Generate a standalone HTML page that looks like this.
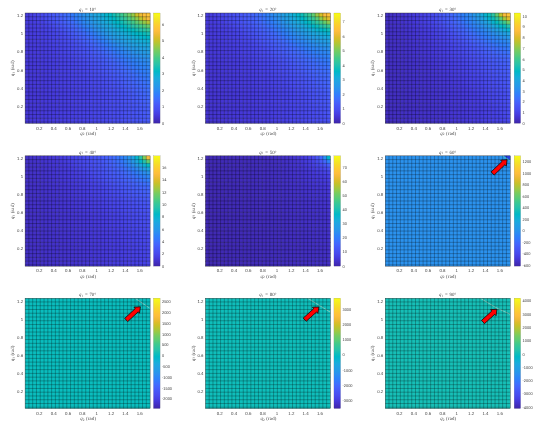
<!DOCTYPE html>
<html><head><meta charset="utf-8"><title>figure</title>
<style>html,body{margin:0;padding:0;background:#fff}svg{display:block}text{text-rendering:geometricPrecision}</style></head>
<body>
<svg width="550" height="424" viewBox="0 0 550 424">
<defs>
<linearGradient id="pg" x1="0" y1="0" x2="0" y2="1"><stop offset="0" stop-color="#f9fb15"/><stop offset="0.03" stop-color="#f6ef20"/><stop offset="0.06" stop-color="#f5e327"/><stop offset="0.09" stop-color="#f9d62d"/><stop offset="0.12" stop-color="#feca33"/><stop offset="0.16" stop-color="#febe3c"/><stop offset="0.19" stop-color="#f1ba37"/><stop offset="0.22" stop-color="#debc2a"/><stop offset="0.25" stop-color="#c8c129"/><stop offset="0.28" stop-color="#afc637"/><stop offset="0.31" stop-color="#94ca4a"/><stop offset="0.34" stop-color="#77cc60"/><stop offset="0.38" stop-color="#5ccc76"/><stop offset="0.41" stop-color="#44ca8a"/><stop offset="0.44" stop-color="#34c79c"/><stop offset="0.47" stop-color="#28c2ab"/><stop offset="0.5" stop-color="#12beb9"/><stop offset="0.53" stop-color="#01b9c6"/><stop offset="0.56" stop-color="#0cb3d3"/><stop offset="0.59" stop-color="#1aacdd"/><stop offset="0.62" stop-color="#21a3e3"/><stop offset="0.66" stop-color="#269ae9"/><stop offset="0.69" stop-color="#2c90f0"/><stop offset="0.72" stop-color="#2e85f8"/><stop offset="0.75" stop-color="#347afd"/><stop offset="0.78" stop-color="#3f6efe"/><stop offset="0.81" stop-color="#4562fc"/><stop offset="0.84" stop-color="#4757f7"/><stop offset="0.88" stop-color="#484cef"/><stop offset="0.91" stop-color="#4741e5"/><stop offset="0.94" stop-color="#4536d5"/><stop offset="0.97" stop-color="#422ebf"/><stop offset="1" stop-color="#3e26a8"/></linearGradient>
<path id="gp" d="M3.79 0V110.3M7.58 0V110.3M11.36 0V110.3M15.15 0V110.3M18.94 0V110.3M22.73 0V110.3M26.52 0V110.3M30.3 0V110.3M34.09 0V110.3M37.88 0V110.3M41.67 0V110.3M45.45 0V110.3M49.24 0V110.3M53.03 0V110.3M56.82 0V110.3M60.61 0V110.3M64.39 0V110.3M68.18 0V110.3M71.97 0V110.3M75.76 0V110.3M79.55 0V110.3M83.33 0V110.3M87.12 0V110.3M90.91 0V110.3M94.7 0V110.3M98.48 0V110.3M102.27 0V110.3M106.06 0V110.3M109.85 0V110.3M113.64 0V110.3M117.42 0V110.3M121.21 0V110.3M0 3.76H125M0 7.52H125M0 11.28H125M0 15.04H125M0 18.8H125M0 22.56H125M0 26.32H125M0 30.08H125M0 33.84H125M0 37.6H125M0 41.36H125M0 45.12H125M0 48.88H125M0 52.64H125M0 56.4H125M0 60.16H125M0 63.92H125M0 67.68H125M0 71.44H125M0 75.2H125M0 78.96H125M0 82.72H125M0 86.48H125M0 90.24H125M0 94H125M0 97.76H125M0 101.52H125M0 105.28H125M0 109.04H125" fill="none"/>
<g id="grid" stroke="#000"><use href="#gp" stroke-width="0.6" stroke-opacity="0.45"/><use href="#gp" stroke-width="1.6" stroke-opacity="0.0"/></g>
</defs>
<rect width="550" height="424" fill="#fff"/>
<g transform="translate(25.1,13)">
<rect x="0" y="0" width="4.29" height="4.26" fill="#463bdd"/><rect x="3.79" y="0" width="4.29" height="4.26" fill="#473fe2"/><rect x="7.58" y="0" width="4.29" height="4.26" fill="#4743e7"/><rect x="11.36" y="0" width="4.29" height="4.26" fill="#4747eb"/><rect x="15.15" y="0" width="4.29" height="4.26" fill="#484bef"/><rect x="18.94" y="0" width="4.29" height="4.26" fill="#4850f3"/><rect x="22.73" y="0" width="4.29" height="4.26" fill="#4755f6"/><rect x="26.52" y="0" width="4.29" height="4.26" fill="#475af9"/><rect x="30.3" y="0" width="4.29" height="4.26" fill="#465ffb"/><rect x="34.09" y="0" width="4.29" height="4.26" fill="#4466fd"/><rect x="37.88" y="0" width="4.29" height="4.26" fill="#406cfe"/><rect x="41.67" y="0" width="4.29" height="4.26" fill="#3b72fe"/><rect x="45.45" y="0" width="4.29" height="4.26" fill="#327bfc"/><rect x="49.24" y="0" width="4.29" height="4.26" fill="#2e84f9"/><rect x="53.03" y="0" width="4.29" height="4.26" fill="#2d8bf4"/><rect x="56.82" y="0" width="4.29" height="4.26" fill="#2b92ee"/><rect x="60.61" y="0" width="4.29" height="4.26" fill="#2699e9"/><rect x="64.39" y="0" width="4.29" height="4.26" fill="#23a0e5"/><rect x="68.18" y="0" width="4.29" height="4.26" fill="#1fa6e2"/><rect x="71.97" y="0" width="4.29" height="4.26" fill="#1aacdd"/><rect x="75.76" y="0" width="4.29" height="4.26" fill="#11b1d6"/><rect x="79.55" y="0" width="4.29" height="4.26" fill="#05b6cd"/><rect x="83.33" y="0" width="4.29" height="4.26" fill="#02bac4"/><rect x="87.12" y="0" width="4.29" height="4.26" fill="#17bfb6"/><rect x="90.91" y="0" width="4.29" height="4.26" fill="#2cc4a7"/><rect x="94.7" y="0" width="4.29" height="4.26" fill="#3ac994"/><rect x="98.48" y="0" width="4.29" height="4.26" fill="#54cc7d"/><rect x="102.27" y="0" width="4.29" height="4.26" fill="#73cd63"/><rect x="106.06" y="0" width="4.29" height="4.26" fill="#96ca48"/><rect x="109.85" y="0" width="4.29" height="4.26" fill="#cac129"/><rect x="113.64" y="0" width="4.29" height="4.26" fill="#eeba34"/><rect x="117.42" y="0" width="4.29" height="4.26" fill="#febe3c"/><rect x="121.21" y="0" width="3.79" height="4.26" fill="#fec438"/><rect x="0" y="3.76" width="4.29" height="4.26" fill="#463bdd"/><rect x="3.79" y="3.76" width="4.29" height="4.26" fill="#463ddf"/><rect x="7.58" y="3.76" width="4.29" height="4.26" fill="#473fe2"/><rect x="11.36" y="3.76" width="4.29" height="4.26" fill="#4743e7"/><rect x="15.15" y="3.76" width="4.29" height="4.26" fill="#4747eb"/><rect x="18.94" y="3.76" width="4.29" height="4.26" fill="#484cef"/><rect x="22.73" y="3.76" width="4.29" height="4.26" fill="#4851f3"/><rect x="26.52" y="3.76" width="4.29" height="4.26" fill="#4756f6"/><rect x="30.3" y="3.76" width="4.29" height="4.26" fill="#475bf9"/><rect x="34.09" y="3.76" width="4.29" height="4.26" fill="#4660fc"/><rect x="37.88" y="3.76" width="4.29" height="4.26" fill="#4367fd"/><rect x="41.67" y="3.76" width="4.29" height="4.26" fill="#3f6efe"/><rect x="45.45" y="3.76" width="4.29" height="4.26" fill="#3974fe"/><rect x="49.24" y="3.76" width="4.29" height="4.26" fill="#317efb"/><rect x="53.03" y="3.76" width="4.29" height="4.26" fill="#2e86f7"/><rect x="56.82" y="3.76" width="4.29" height="4.26" fill="#2d8df2"/><rect x="60.61" y="3.76" width="4.29" height="4.26" fill="#2994ed"/><rect x="64.39" y="3.76" width="4.29" height="4.26" fill="#259be8"/><rect x="68.18" y="3.76" width="4.29" height="4.26" fill="#22a1e4"/><rect x="71.97" y="3.76" width="4.29" height="4.26" fill="#1ea7e1"/><rect x="75.76" y="3.76" width="4.29" height="4.26" fill="#19addc"/><rect x="79.55" y="3.76" width="4.29" height="4.26" fill="#0fb2d5"/><rect x="83.33" y="3.76" width="4.29" height="4.26" fill="#04b6cd"/><rect x="87.12" y="3.76" width="4.29" height="4.26" fill="#02bac3"/><rect x="90.91" y="3.76" width="4.29" height="4.26" fill="#16bfb7"/><rect x="94.7" y="3.76" width="4.29" height="4.26" fill="#2bc3a8"/><rect x="98.48" y="3.76" width="4.29" height="4.26" fill="#38c896"/><rect x="102.27" y="3.76" width="4.29" height="4.26" fill="#4fcc80"/><rect x="106.06" y="3.76" width="4.29" height="4.26" fill="#6dcd68"/><rect x="109.85" y="3.76" width="4.29" height="4.26" fill="#90ca4d"/><rect x="113.64" y="3.76" width="4.29" height="4.26" fill="#bbc42f"/><rect x="117.42" y="3.76" width="4.29" height="4.26" fill="#e3bc2c"/><rect x="121.21" y="3.76" width="3.79" height="4.26" fill="#f7ba3c"/><rect x="0" y="7.52" width="4.29" height="4.26" fill="#463bdc"/><rect x="3.79" y="7.52" width="4.29" height="4.26" fill="#463cdf"/><rect x="7.58" y="7.52" width="4.29" height="4.26" fill="#463ee1"/><rect x="11.36" y="7.52" width="4.29" height="4.26" fill="#4740e4"/><rect x="15.15" y="7.52" width="4.29" height="4.26" fill="#4743e7"/><rect x="18.94" y="7.52" width="4.29" height="4.26" fill="#4747eb"/><rect x="22.73" y="7.52" width="4.29" height="4.26" fill="#484cf0"/><rect x="26.52" y="7.52" width="4.29" height="4.26" fill="#4851f3"/><rect x="30.3" y="7.52" width="4.29" height="4.26" fill="#4756f7"/><rect x="34.09" y="7.52" width="4.29" height="4.26" fill="#475bfa"/><rect x="37.88" y="7.52" width="4.29" height="4.26" fill="#4661fc"/><rect x="41.67" y="7.52" width="4.29" height="4.26" fill="#4367fd"/><rect x="45.45" y="7.52" width="4.29" height="4.26" fill="#3f6eff"/><rect x="49.24" y="7.52" width="4.29" height="4.26" fill="#3875fe"/><rect x="53.03" y="7.52" width="4.29" height="4.26" fill="#317efb"/><rect x="56.82" y="7.52" width="4.29" height="4.26" fill="#2e87f7"/><rect x="60.61" y="7.52" width="4.29" height="4.26" fill="#2c8ef1"/><rect x="64.39" y="7.52" width="4.29" height="4.26" fill="#2995ec"/><rect x="68.18" y="7.52" width="4.29" height="4.26" fill="#259be7"/><rect x="71.97" y="7.52" width="4.29" height="4.26" fill="#22a2e4"/><rect x="75.76" y="7.52" width="4.29" height="4.26" fill="#1ea7e1"/><rect x="79.55" y="7.52" width="4.29" height="4.26" fill="#19acdc"/><rect x="83.33" y="7.52" width="4.29" height="4.26" fill="#11b1d6"/><rect x="87.12" y="7.52" width="4.29" height="4.26" fill="#05b6ce"/><rect x="90.91" y="7.52" width="4.29" height="4.26" fill="#01b9c6"/><rect x="94.7" y="7.52" width="4.29" height="4.26" fill="#0fbebb"/><rect x="98.48" y="7.52" width="4.29" height="4.26" fill="#25c2ae"/><rect x="102.27" y="7.52" width="4.29" height="4.26" fill="#32c69e"/><rect x="106.06" y="7.52" width="4.29" height="4.26" fill="#41ca8c"/><rect x="109.85" y="7.52" width="4.29" height="4.26" fill="#5acc77"/><rect x="113.64" y="7.52" width="4.29" height="4.26" fill="#77cc60"/><rect x="117.42" y="7.52" width="4.29" height="4.26" fill="#96ca48"/><rect x="121.21" y="7.52" width="3.79" height="4.26" fill="#b5c533"/><rect x="0" y="11.28" width="4.29" height="4.26" fill="#463adc"/><rect x="3.79" y="11.28" width="4.29" height="4.26" fill="#463cde"/><rect x="7.58" y="11.28" width="4.29" height="4.26" fill="#463de0"/><rect x="11.36" y="11.28" width="4.29" height="4.26" fill="#473fe3"/><rect x="15.15" y="11.28" width="4.29" height="4.26" fill="#4741e5"/><rect x="18.94" y="11.28" width="4.29" height="4.26" fill="#4743e7"/><rect x="22.73" y="11.28" width="4.29" height="4.26" fill="#4747eb"/><rect x="26.52" y="11.28" width="4.29" height="4.26" fill="#484cef"/><rect x="30.3" y="11.28" width="4.29" height="4.26" fill="#4851f3"/><rect x="34.09" y="11.28" width="4.29" height="4.26" fill="#4756f7"/><rect x="37.88" y="11.28" width="4.29" height="4.26" fill="#475bfa"/><rect x="41.67" y="11.28" width="4.29" height="4.26" fill="#4561fc"/><rect x="45.45" y="11.28" width="4.29" height="4.26" fill="#4367fd"/><rect x="49.24" y="11.28" width="4.29" height="4.26" fill="#3f6eff"/><rect x="53.03" y="11.28" width="4.29" height="4.26" fill="#3875fe"/><rect x="56.82" y="11.28" width="4.29" height="4.26" fill="#317efb"/><rect x="60.61" y="11.28" width="4.29" height="4.26" fill="#2e86f7"/><rect x="64.39" y="11.28" width="4.29" height="4.26" fill="#2c8ef1"/><rect x="68.18" y="11.28" width="4.29" height="4.26" fill="#2994ed"/><rect x="71.97" y="11.28" width="4.29" height="4.26" fill="#259be8"/><rect x="75.76" y="11.28" width="4.29" height="4.26" fill="#23a1e4"/><rect x="79.55" y="11.28" width="4.29" height="4.26" fill="#1fa6e2"/><rect x="83.33" y="11.28" width="4.29" height="4.26" fill="#1aabdd"/><rect x="87.12" y="11.28" width="4.29" height="4.26" fill="#14b0d8"/><rect x="90.91" y="11.28" width="4.29" height="4.26" fill="#09b4d1"/><rect x="94.7" y="11.28" width="4.29" height="4.26" fill="#01b8c9"/><rect x="98.48" y="11.28" width="4.29" height="4.26" fill="#06bcc0"/><rect x="102.27" y="11.28" width="4.29" height="4.26" fill="#18bfb6"/><rect x="106.06" y="11.28" width="4.29" height="4.26" fill="#29c3aa"/><rect x="109.85" y="11.28" width="4.29" height="4.26" fill="#34c79c"/><rect x="113.64" y="11.28" width="4.29" height="4.26" fill="#41ca8c"/><rect x="117.42" y="11.28" width="4.29" height="4.26" fill="#54cc7c"/><rect x="121.21" y="11.28" width="3.79" height="4.26" fill="#67cd6c"/><rect x="0" y="15.04" width="4.29" height="4.26" fill="#463adb"/><rect x="3.79" y="15.04" width="4.29" height="4.26" fill="#463bdd"/><rect x="7.58" y="15.04" width="4.29" height="4.26" fill="#463ddf"/><rect x="11.36" y="15.04" width="4.29" height="4.26" fill="#473ee2"/><rect x="15.15" y="15.04" width="4.29" height="4.26" fill="#4740e4"/><rect x="18.94" y="15.04" width="4.29" height="4.26" fill="#4742e6"/><rect x="22.73" y="15.04" width="4.29" height="4.26" fill="#4744e9"/><rect x="26.52" y="15.04" width="4.29" height="4.26" fill="#4747eb"/><rect x="30.3" y="15.04" width="4.29" height="4.26" fill="#484cef"/><rect x="34.09" y="15.04" width="4.29" height="4.26" fill="#4851f3"/><rect x="37.88" y="15.04" width="4.29" height="4.26" fill="#4756f6"/><rect x="41.67" y="15.04" width="4.29" height="4.26" fill="#475bf9"/><rect x="45.45" y="15.04" width="4.29" height="4.26" fill="#4661fc"/><rect x="49.24" y="15.04" width="4.29" height="4.26" fill="#4466fd"/><rect x="53.03" y="15.04" width="4.29" height="4.26" fill="#3f6dfe"/><rect x="56.82" y="15.04" width="4.29" height="4.26" fill="#3975fe"/><rect x="60.61" y="15.04" width="4.29" height="4.26" fill="#327cfc"/><rect x="64.39" y="15.04" width="4.29" height="4.26" fill="#2e85f8"/><rect x="68.18" y="15.04" width="4.29" height="4.26" fill="#2d8df2"/><rect x="71.97" y="15.04" width="4.29" height="4.26" fill="#2994ed"/><rect x="75.76" y="15.04" width="4.29" height="4.26" fill="#269ae9"/><rect x="79.55" y="15.04" width="4.29" height="4.26" fill="#23a0e5"/><rect x="83.33" y="15.04" width="4.29" height="4.26" fill="#20a5e3"/><rect x="87.12" y="15.04" width="4.29" height="4.26" fill="#1ca9df"/><rect x="90.91" y="15.04" width="4.29" height="4.26" fill="#18aedb"/><rect x="94.7" y="15.04" width="4.29" height="4.26" fill="#10b2d5"/><rect x="98.48" y="15.04" width="4.29" height="4.26" fill="#06b6ce"/><rect x="102.27" y="15.04" width="4.29" height="4.26" fill="#01b9c7"/><rect x="106.06" y="15.04" width="4.29" height="4.26" fill="#07bcbf"/><rect x="109.85" y="15.04" width="4.29" height="4.26" fill="#17bfb7"/><rect x="113.64" y="15.04" width="4.29" height="4.26" fill="#26c2ac"/><rect x="117.42" y="15.04" width="4.29" height="4.26" fill="#2fc5a2"/><rect x="121.21" y="15.04" width="3.79" height="4.26" fill="#36c899"/><rect x="0" y="18.8" width="4.29" height="4.26" fill="#463adb"/><rect x="3.79" y="18.8" width="4.29" height="4.26" fill="#463bdd"/><rect x="7.58" y="18.8" width="4.29" height="4.26" fill="#463cdf"/><rect x="11.36" y="18.8" width="4.29" height="4.26" fill="#463ee1"/><rect x="15.15" y="18.8" width="4.29" height="4.26" fill="#473fe3"/><rect x="18.94" y="18.8" width="4.29" height="4.26" fill="#4741e5"/><rect x="22.73" y="18.8" width="4.29" height="4.26" fill="#4743e7"/><rect x="26.52" y="18.8" width="4.29" height="4.26" fill="#4746ea"/><rect x="30.3" y="18.8" width="4.29" height="4.26" fill="#4848ec"/><rect x="34.09" y="18.8" width="4.29" height="4.26" fill="#484bef"/><rect x="37.88" y="18.8" width="4.29" height="4.26" fill="#4850f3"/><rect x="41.67" y="18.8" width="4.29" height="4.26" fill="#4755f6"/><rect x="45.45" y="18.8" width="4.29" height="4.26" fill="#475bf9"/><rect x="49.24" y="18.8" width="4.29" height="4.26" fill="#4660fc"/><rect x="53.03" y="18.8" width="4.29" height="4.26" fill="#4466fd"/><rect x="56.82" y="18.8" width="4.29" height="4.26" fill="#406cfe"/><rect x="60.61" y="18.8" width="4.29" height="4.26" fill="#3a73fe"/><rect x="64.39" y="18.8" width="4.29" height="4.26" fill="#337bfd"/><rect x="68.18" y="18.8" width="4.29" height="4.26" fill="#2f82f9"/><rect x="71.97" y="18.8" width="4.29" height="4.26" fill="#2d8bf4"/><rect x="75.76" y="18.8" width="4.29" height="4.26" fill="#2b92ee"/><rect x="79.55" y="18.8" width="4.29" height="4.26" fill="#2798ea"/><rect x="83.33" y="18.8" width="4.29" height="4.26" fill="#249de6"/><rect x="87.12" y="18.8" width="4.29" height="4.26" fill="#21a2e4"/><rect x="90.91" y="18.8" width="4.29" height="4.26" fill="#1ea7e1"/><rect x="94.7" y="18.8" width="4.29" height="4.26" fill="#1babde"/><rect x="98.48" y="18.8" width="4.29" height="4.26" fill="#16afd9"/><rect x="102.27" y="18.8" width="4.29" height="4.26" fill="#0eb2d4"/><rect x="106.06" y="18.8" width="4.29" height="4.26" fill="#05b6ce"/><rect x="109.85" y="18.8" width="4.29" height="4.26" fill="#01b8c8"/><rect x="113.64" y="18.8" width="4.29" height="4.26" fill="#04bbc2"/><rect x="117.42" y="18.8" width="4.29" height="4.26" fill="#0cbdbc"/><rect x="121.21" y="18.8" width="3.79" height="4.26" fill="#18bfb6"/><rect x="0" y="22.56" width="4.29" height="4.26" fill="#463ada"/><rect x="3.79" y="22.56" width="4.29" height="4.26" fill="#463bdc"/><rect x="7.58" y="22.56" width="4.29" height="4.26" fill="#463cde"/><rect x="11.36" y="22.56" width="4.29" height="4.26" fill="#463de0"/><rect x="15.15" y="22.56" width="4.29" height="4.26" fill="#473fe2"/><rect x="18.94" y="22.56" width="4.29" height="4.26" fill="#4740e4"/><rect x="22.73" y="22.56" width="4.29" height="4.26" fill="#4742e6"/><rect x="26.52" y="22.56" width="4.29" height="4.26" fill="#4744e8"/><rect x="30.3" y="22.56" width="4.29" height="4.26" fill="#4746eb"/><rect x="34.09" y="22.56" width="4.29" height="4.26" fill="#4849ed"/><rect x="37.88" y="22.56" width="4.29" height="4.26" fill="#484cef"/><rect x="41.67" y="22.56" width="4.29" height="4.26" fill="#4850f2"/><rect x="45.45" y="22.56" width="4.29" height="4.26" fill="#4755f6"/><rect x="49.24" y="22.56" width="4.29" height="4.26" fill="#475af9"/><rect x="53.03" y="22.56" width="4.29" height="4.26" fill="#465ffb"/><rect x="56.82" y="22.56" width="4.29" height="4.26" fill="#4465fd"/><rect x="60.61" y="22.56" width="4.29" height="4.26" fill="#416bfe"/><rect x="64.39" y="22.56" width="4.29" height="4.26" fill="#3c72ff"/><rect x="68.18" y="22.56" width="4.29" height="4.26" fill="#3579fd"/><rect x="71.97" y="22.56" width="4.29" height="4.26" fill="#3080fb"/><rect x="75.76" y="22.56" width="4.29" height="4.26" fill="#2d88f6"/><rect x="79.55" y="22.56" width="4.29" height="4.26" fill="#2c8ff0"/><rect x="83.33" y="22.56" width="4.29" height="4.26" fill="#2896ec"/><rect x="87.12" y="22.56" width="4.29" height="4.26" fill="#269be8"/><rect x="90.91" y="22.56" width="4.29" height="4.26" fill="#23a0e5"/><rect x="94.7" y="22.56" width="4.29" height="4.26" fill="#20a4e3"/><rect x="98.48" y="22.56" width="4.29" height="4.26" fill="#1da8e0"/><rect x="102.27" y="22.56" width="4.29" height="4.26" fill="#1aabdd"/><rect x="106.06" y="22.56" width="4.29" height="4.26" fill="#16aeda"/><rect x="109.85" y="22.56" width="4.29" height="4.26" fill="#10b2d5"/><rect x="113.64" y="22.56" width="4.29" height="4.26" fill="#08b5d0"/><rect x="117.42" y="22.56" width="4.29" height="4.26" fill="#03b7cc"/><rect x="121.21" y="22.56" width="3.79" height="4.26" fill="#01b9c7"/><rect x="0" y="26.32" width="4.29" height="4.26" fill="#4639da"/><rect x="3.79" y="26.32" width="4.29" height="4.26" fill="#463adb"/><rect x="7.58" y="26.32" width="4.29" height="4.26" fill="#463bdd"/><rect x="11.36" y="26.32" width="4.29" height="4.26" fill="#463cdf"/><rect x="15.15" y="26.32" width="4.29" height="4.26" fill="#463ee1"/><rect x="18.94" y="26.32" width="4.29" height="4.26" fill="#473fe3"/><rect x="22.73" y="26.32" width="4.29" height="4.26" fill="#4741e5"/><rect x="26.52" y="26.32" width="4.29" height="4.26" fill="#4743e7"/><rect x="30.3" y="26.32" width="4.29" height="4.26" fill="#4745e9"/><rect x="34.09" y="26.32" width="4.29" height="4.26" fill="#4747eb"/><rect x="37.88" y="26.32" width="4.29" height="4.26" fill="#484aee"/><rect x="41.67" y="26.32" width="4.29" height="4.26" fill="#484df0"/><rect x="45.45" y="26.32" width="4.29" height="4.26" fill="#484ff2"/><rect x="49.24" y="26.32" width="4.29" height="4.26" fill="#4854f5"/><rect x="53.03" y="26.32" width="4.29" height="4.26" fill="#4759f9"/><rect x="56.82" y="26.32" width="4.29" height="4.26" fill="#465ffb"/><rect x="60.61" y="26.32" width="4.29" height="4.26" fill="#4464fd"/><rect x="64.39" y="26.32" width="4.29" height="4.26" fill="#426afe"/><rect x="68.18" y="26.32" width="4.29" height="4.26" fill="#3d70ff"/><rect x="71.97" y="26.32" width="4.29" height="4.26" fill="#3777fe"/><rect x="75.76" y="26.32" width="4.29" height="4.26" fill="#317efb"/><rect x="79.55" y="26.32" width="4.29" height="4.26" fill="#2e84f8"/><rect x="83.33" y="26.32" width="4.29" height="4.26" fill="#2d8cf3"/><rect x="87.12" y="26.32" width="4.29" height="4.26" fill="#2a93ee"/><rect x="90.91" y="26.32" width="4.29" height="4.26" fill="#2798ea"/><rect x="94.7" y="26.32" width="4.29" height="4.26" fill="#259ce7"/><rect x="98.48" y="26.32" width="4.29" height="4.26" fill="#23a1e5"/><rect x="102.27" y="26.32" width="4.29" height="4.26" fill="#20a5e3"/><rect x="106.06" y="26.32" width="4.29" height="4.26" fill="#1da8e0"/><rect x="109.85" y="26.32" width="4.29" height="4.26" fill="#1babde"/><rect x="113.64" y="26.32" width="4.29" height="4.26" fill="#18addb"/><rect x="117.42" y="26.32" width="4.29" height="4.26" fill="#14b0d8"/><rect x="121.21" y="26.32" width="3.79" height="4.26" fill="#10b2d5"/><rect x="0" y="30.08" width="4.29" height="4.26" fill="#4639d9"/><rect x="3.79" y="30.08" width="4.29" height="4.26" fill="#463adb"/><rect x="7.58" y="30.08" width="4.29" height="4.26" fill="#463bdc"/><rect x="11.36" y="30.08" width="4.29" height="4.26" fill="#463cde"/><rect x="15.15" y="30.08" width="4.29" height="4.26" fill="#463de0"/><rect x="18.94" y="30.08" width="4.29" height="4.26" fill="#473ee1"/><rect x="22.73" y="30.08" width="4.29" height="4.26" fill="#4740e3"/><rect x="26.52" y="30.08" width="4.29" height="4.26" fill="#4742e6"/><rect x="30.3" y="30.08" width="4.29" height="4.26" fill="#4744e8"/><rect x="34.09" y="30.08" width="4.29" height="4.26" fill="#4746ea"/><rect x="37.88" y="30.08" width="4.29" height="4.26" fill="#4848ec"/><rect x="41.67" y="30.08" width="4.29" height="4.26" fill="#484bee"/><rect x="45.45" y="30.08" width="4.29" height="4.26" fill="#484df1"/><rect x="49.24" y="30.08" width="4.29" height="4.26" fill="#4850f3"/><rect x="53.03" y="30.08" width="4.29" height="4.26" fill="#4854f5"/><rect x="56.82" y="30.08" width="4.29" height="4.26" fill="#4759f8"/><rect x="60.61" y="30.08" width="4.29" height="4.26" fill="#465efb"/><rect x="64.39" y="30.08" width="4.29" height="4.26" fill="#4563fd"/><rect x="68.18" y="30.08" width="4.29" height="4.26" fill="#4269fe"/><rect x="71.97" y="30.08" width="4.29" height="4.26" fill="#3f6fff"/><rect x="75.76" y="30.08" width="4.29" height="4.26" fill="#3975fe"/><rect x="79.55" y="30.08" width="4.29" height="4.26" fill="#327cfc"/><rect x="83.33" y="30.08" width="4.29" height="4.26" fill="#2f82fa"/><rect x="87.12" y="30.08" width="4.29" height="4.26" fill="#2d88f6"/><rect x="90.91" y="30.08" width="4.29" height="4.26" fill="#2c8ff1"/><rect x="94.7" y="30.08" width="4.29" height="4.26" fill="#2995ec"/><rect x="98.48" y="30.08" width="4.29" height="4.26" fill="#2699e9"/><rect x="102.27" y="30.08" width="4.29" height="4.26" fill="#259de7"/><rect x="106.06" y="30.08" width="4.29" height="4.26" fill="#23a1e5"/><rect x="109.85" y="30.08" width="4.29" height="4.26" fill="#20a4e3"/><rect x="113.64" y="30.08" width="4.29" height="4.26" fill="#1ea7e1"/><rect x="117.42" y="30.08" width="4.29" height="4.26" fill="#1ca9df"/><rect x="121.21" y="30.08" width="3.79" height="4.26" fill="#1aabdd"/><rect x="0" y="33.84" width="4.29" height="4.26" fill="#4539d9"/><rect x="3.79" y="33.84" width="4.29" height="4.26" fill="#463ada"/><rect x="7.58" y="33.84" width="4.29" height="4.26" fill="#463adc"/><rect x="11.36" y="33.84" width="4.29" height="4.26" fill="#463bdd"/><rect x="15.15" y="33.84" width="4.29" height="4.26" fill="#463cdf"/><rect x="18.94" y="33.84" width="4.29" height="4.26" fill="#463ee0"/><rect x="22.73" y="33.84" width="4.29" height="4.26" fill="#473fe2"/><rect x="26.52" y="33.84" width="4.29" height="4.26" fill="#4740e4"/><rect x="30.3" y="33.84" width="4.29" height="4.26" fill="#4742e6"/><rect x="34.09" y="33.84" width="4.29" height="4.26" fill="#4744e8"/><rect x="37.88" y="33.84" width="4.29" height="4.26" fill="#4746ea"/><rect x="41.67" y="33.84" width="4.29" height="4.26" fill="#4849ed"/><rect x="45.45" y="33.84" width="4.29" height="4.26" fill="#484bef"/><rect x="49.24" y="33.84" width="4.29" height="4.26" fill="#484ef1"/><rect x="53.03" y="33.84" width="4.29" height="4.26" fill="#4851f3"/><rect x="56.82" y="33.84" width="4.29" height="4.26" fill="#4854f5"/><rect x="60.61" y="33.84" width="4.29" height="4.26" fill="#4758f8"/><rect x="64.39" y="33.84" width="4.29" height="4.26" fill="#465dfb"/><rect x="68.18" y="33.84" width="4.29" height="4.26" fill="#4563fc"/><rect x="71.97" y="33.84" width="4.29" height="4.26" fill="#4368fe"/><rect x="75.76" y="33.84" width="4.29" height="4.26" fill="#3f6efe"/><rect x="79.55" y="33.84" width="4.29" height="4.26" fill="#3b73fe"/><rect x="83.33" y="33.84" width="4.29" height="4.26" fill="#347afd"/><rect x="87.12" y="33.84" width="4.29" height="4.26" fill="#3080fb"/><rect x="90.91" y="33.84" width="4.29" height="4.26" fill="#2e85f8"/><rect x="94.7" y="33.84" width="4.29" height="4.26" fill="#2d8bf4"/><rect x="98.48" y="33.84" width="4.29" height="4.26" fill="#2b91ef"/><rect x="102.27" y="33.84" width="4.29" height="4.26" fill="#2896ec"/><rect x="106.06" y="33.84" width="4.29" height="4.26" fill="#2699e9"/><rect x="109.85" y="33.84" width="4.29" height="4.26" fill="#259ce7"/><rect x="113.64" y="33.84" width="4.29" height="4.26" fill="#249fe5"/><rect x="117.42" y="33.84" width="4.29" height="4.26" fill="#22a2e4"/><rect x="121.21" y="33.84" width="3.79" height="4.26" fill="#20a5e3"/><rect x="0" y="37.6" width="4.29" height="4.26" fill="#4538d8"/><rect x="3.79" y="37.6" width="4.29" height="4.26" fill="#4639da"/><rect x="7.58" y="37.6" width="4.29" height="4.26" fill="#463adb"/><rect x="11.36" y="37.6" width="4.29" height="4.26" fill="#463bdd"/><rect x="15.15" y="37.6" width="4.29" height="4.26" fill="#463cde"/><rect x="18.94" y="37.6" width="4.29" height="4.26" fill="#463de0"/><rect x="22.73" y="37.6" width="4.29" height="4.26" fill="#473ee1"/><rect x="26.52" y="37.6" width="4.29" height="4.26" fill="#473fe3"/><rect x="30.3" y="37.6" width="4.29" height="4.26" fill="#4741e5"/><rect x="34.09" y="37.6" width="4.29" height="4.26" fill="#4743e7"/><rect x="37.88" y="37.6" width="4.29" height="4.26" fill="#4745e9"/><rect x="41.67" y="37.6" width="4.29" height="4.26" fill="#4747eb"/><rect x="45.45" y="37.6" width="4.29" height="4.26" fill="#4849ed"/><rect x="49.24" y="37.6" width="4.29" height="4.26" fill="#484cef"/><rect x="53.03" y="37.6" width="4.29" height="4.26" fill="#484ff2"/><rect x="56.82" y="37.6" width="4.29" height="4.26" fill="#4852f4"/><rect x="60.61" y="37.6" width="4.29" height="4.26" fill="#4755f6"/><rect x="64.39" y="37.6" width="4.29" height="4.26" fill="#4758f8"/><rect x="68.18" y="37.6" width="4.29" height="4.26" fill="#475dfa"/><rect x="71.97" y="37.6" width="4.29" height="4.26" fill="#4562fc"/><rect x="75.76" y="37.6" width="4.29" height="4.26" fill="#4367fd"/><rect x="79.55" y="37.6" width="4.29" height="4.26" fill="#406dfe"/><rect x="83.33" y="37.6" width="4.29" height="4.26" fill="#3c72ff"/><rect x="87.12" y="37.6" width="4.29" height="4.26" fill="#3677fe"/><rect x="90.91" y="37.6" width="4.29" height="4.26" fill="#317dfc"/><rect x="94.7" y="37.6" width="4.29" height="4.26" fill="#2e83f9"/><rect x="98.48" y="37.6" width="4.29" height="4.26" fill="#2d87f6"/><rect x="102.27" y="37.6" width="4.29" height="4.26" fill="#2d8cf3"/><rect x="106.06" y="37.6" width="4.29" height="4.26" fill="#2b92ef"/><rect x="109.85" y="37.6" width="4.29" height="4.26" fill="#2896ec"/><rect x="113.64" y="37.6" width="4.29" height="4.26" fill="#2699e9"/><rect x="117.42" y="37.6" width="4.29" height="4.26" fill="#259be8"/><rect x="121.21" y="37.6" width="3.79" height="4.26" fill="#249ee6"/><rect x="0" y="41.36" width="4.29" height="4.26" fill="#4538d8"/><rect x="3.79" y="41.36" width="4.29" height="4.26" fill="#4639d9"/><rect x="7.58" y="41.36" width="4.29" height="4.26" fill="#463adb"/><rect x="11.36" y="41.36" width="4.29" height="4.26" fill="#463bdc"/><rect x="15.15" y="41.36" width="4.29" height="4.26" fill="#463cde"/><rect x="18.94" y="41.36" width="4.29" height="4.26" fill="#463ddf"/><rect x="22.73" y="41.36" width="4.29" height="4.26" fill="#463ee1"/><rect x="26.52" y="41.36" width="4.29" height="4.26" fill="#473fe2"/><rect x="30.3" y="41.36" width="4.29" height="4.26" fill="#4740e4"/><rect x="34.09" y="41.36" width="4.29" height="4.26" fill="#4741e6"/><rect x="37.88" y="41.36" width="4.29" height="4.26" fill="#4743e7"/><rect x="41.67" y="41.36" width="4.29" height="4.26" fill="#4745e9"/><rect x="45.45" y="41.36" width="4.29" height="4.26" fill="#4747eb"/><rect x="49.24" y="41.36" width="4.29" height="4.26" fill="#484aed"/><rect x="53.03" y="41.36" width="4.29" height="4.26" fill="#484cf0"/><rect x="56.82" y="41.36" width="4.29" height="4.26" fill="#484ff2"/><rect x="60.61" y="41.36" width="4.29" height="4.26" fill="#4852f4"/><rect x="64.39" y="41.36" width="4.29" height="4.26" fill="#4755f6"/><rect x="68.18" y="41.36" width="4.29" height="4.26" fill="#4759f8"/><rect x="71.97" y="41.36" width="4.29" height="4.26" fill="#475cfa"/><rect x="75.76" y="41.36" width="4.29" height="4.26" fill="#4561fc"/><rect x="79.55" y="41.36" width="4.29" height="4.26" fill="#4366fd"/><rect x="83.33" y="41.36" width="4.29" height="4.26" fill="#416cfe"/><rect x="87.12" y="41.36" width="4.29" height="4.26" fill="#3c71ff"/><rect x="90.91" y="41.36" width="4.29" height="4.26" fill="#3876fe"/><rect x="94.7" y="41.36" width="4.29" height="4.26" fill="#337bfc"/><rect x="98.48" y="41.36" width="4.29" height="4.26" fill="#2f80fa"/><rect x="102.27" y="41.36" width="4.29" height="4.26" fill="#2e85f8"/><rect x="106.06" y="41.36" width="4.29" height="4.26" fill="#2d89f5"/><rect x="109.85" y="41.36" width="4.29" height="4.26" fill="#2d8df2"/><rect x="113.64" y="41.36" width="4.29" height="4.26" fill="#2b91ef"/><rect x="117.42" y="41.36" width="4.29" height="4.26" fill="#2995ec"/><rect x="121.21" y="41.36" width="3.79" height="4.26" fill="#2797eb"/><rect x="0" y="45.12" width="4.29" height="4.26" fill="#4538d7"/><rect x="3.79" y="45.12" width="4.29" height="4.26" fill="#4539d9"/><rect x="7.58" y="45.12" width="4.29" height="4.26" fill="#463ada"/><rect x="11.36" y="45.12" width="4.29" height="4.26" fill="#463adc"/><rect x="15.15" y="45.12" width="4.29" height="4.26" fill="#463bdd"/><rect x="18.94" y="45.12" width="4.29" height="4.26" fill="#463cdf"/><rect x="22.73" y="45.12" width="4.29" height="4.26" fill="#463de0"/><rect x="26.52" y="45.12" width="4.29" height="4.26" fill="#473ee1"/><rect x="30.3" y="45.12" width="4.29" height="4.26" fill="#473fe3"/><rect x="34.09" y="45.12" width="4.29" height="4.26" fill="#4741e4"/><rect x="37.88" y="45.12" width="4.29" height="4.26" fill="#4742e6"/><rect x="41.67" y="45.12" width="4.29" height="4.26" fill="#4744e8"/><rect x="45.45" y="45.12" width="4.29" height="4.26" fill="#4745ea"/><rect x="49.24" y="45.12" width="4.29" height="4.26" fill="#4848ec"/><rect x="53.03" y="45.12" width="4.29" height="4.26" fill="#484aee"/><rect x="56.82" y="45.12" width="4.29" height="4.26" fill="#484df0"/><rect x="60.61" y="45.12" width="4.29" height="4.26" fill="#4850f2"/><rect x="64.39" y="45.12" width="4.29" height="4.26" fill="#4853f4"/><rect x="68.18" y="45.12" width="4.29" height="4.26" fill="#4756f6"/><rect x="71.97" y="45.12" width="4.29" height="4.26" fill="#4759f8"/><rect x="75.76" y="45.12" width="4.29" height="4.26" fill="#475dfa"/><rect x="79.55" y="45.12" width="4.29" height="4.26" fill="#4561fc"/><rect x="83.33" y="45.12" width="4.29" height="4.26" fill="#4466fd"/><rect x="87.12" y="45.12" width="4.29" height="4.26" fill="#416bfe"/><rect x="90.91" y="45.12" width="4.29" height="4.26" fill="#3d70ff"/><rect x="94.7" y="45.12" width="4.29" height="4.26" fill="#3975fe"/><rect x="98.48" y="45.12" width="4.29" height="4.26" fill="#347afd"/><rect x="102.27" y="45.12" width="4.29" height="4.26" fill="#317efb"/><rect x="106.06" y="45.12" width="4.29" height="4.26" fill="#2e83f9"/><rect x="109.85" y="45.12" width="4.29" height="4.26" fill="#2e87f7"/><rect x="113.64" y="45.12" width="4.29" height="4.26" fill="#2d8bf4"/><rect x="117.42" y="45.12" width="4.29" height="4.26" fill="#2d8df2"/><rect x="121.21" y="45.12" width="3.79" height="4.26" fill="#2c90f0"/><rect x="0" y="48.88" width="4.29" height="4.26" fill="#4538d7"/><rect x="3.79" y="48.88" width="4.29" height="4.26" fill="#4538d8"/><rect x="7.58" y="48.88" width="4.29" height="4.26" fill="#4639da"/><rect x="11.36" y="48.88" width="4.29" height="4.26" fill="#463adb"/><rect x="15.15" y="48.88" width="4.29" height="4.26" fill="#463bdd"/><rect x="18.94" y="48.88" width="4.29" height="4.26" fill="#463cde"/><rect x="22.73" y="48.88" width="4.29" height="4.26" fill="#463ddf"/><rect x="26.52" y="48.88" width="4.29" height="4.26" fill="#463ee1"/><rect x="30.3" y="48.88" width="4.29" height="4.26" fill="#473fe2"/><rect x="34.09" y="48.88" width="4.29" height="4.26" fill="#4740e4"/><rect x="37.88" y="48.88" width="4.29" height="4.26" fill="#4741e5"/><rect x="41.67" y="48.88" width="4.29" height="4.26" fill="#4743e7"/><rect x="45.45" y="48.88" width="4.29" height="4.26" fill="#4744e8"/><rect x="49.24" y="48.88" width="4.29" height="4.26" fill="#4746ea"/><rect x="53.03" y="48.88" width="4.29" height="4.26" fill="#4848ec"/><rect x="56.82" y="48.88" width="4.29" height="4.26" fill="#484aee"/><rect x="60.61" y="48.88" width="4.29" height="4.26" fill="#484df0"/><rect x="64.39" y="48.88" width="4.29" height="4.26" fill="#4850f3"/><rect x="68.18" y="48.88" width="4.29" height="4.26" fill="#4853f5"/><rect x="71.97" y="48.88" width="4.29" height="4.26" fill="#4756f7"/><rect x="75.76" y="48.88" width="4.29" height="4.26" fill="#475af9"/><rect x="79.55" y="48.88" width="4.29" height="4.26" fill="#465dfa"/><rect x="83.33" y="48.88" width="4.29" height="4.26" fill="#4561fc"/><rect x="87.12" y="48.88" width="4.29" height="4.26" fill="#4465fd"/><rect x="90.91" y="48.88" width="4.29" height="4.26" fill="#426afe"/><rect x="94.7" y="48.88" width="4.29" height="4.26" fill="#3e6fff"/><rect x="98.48" y="48.88" width="4.29" height="4.26" fill="#3974fe"/><rect x="102.27" y="48.88" width="4.29" height="4.26" fill="#3579fd"/><rect x="106.06" y="48.88" width="4.29" height="4.26" fill="#317dfc"/><rect x="109.85" y="48.88" width="4.29" height="4.26" fill="#2f81fa"/><rect x="113.64" y="48.88" width="4.29" height="4.26" fill="#2e85f8"/><rect x="117.42" y="48.88" width="4.29" height="4.26" fill="#2d88f6"/><rect x="121.21" y="48.88" width="3.79" height="4.26" fill="#2d8bf4"/><rect x="0" y="52.64" width="4.29" height="4.26" fill="#4537d7"/><rect x="3.79" y="52.64" width="4.29" height="4.26" fill="#4538d8"/><rect x="7.58" y="52.64" width="4.29" height="4.26" fill="#4639d9"/><rect x="11.36" y="52.64" width="4.29" height="4.26" fill="#463adb"/><rect x="15.15" y="52.64" width="4.29" height="4.26" fill="#463bdc"/><rect x="18.94" y="52.64" width="4.29" height="4.26" fill="#463bde"/><rect x="22.73" y="52.64" width="4.29" height="4.26" fill="#463cdf"/><rect x="26.52" y="52.64" width="4.29" height="4.26" fill="#463de0"/><rect x="30.3" y="52.64" width="4.29" height="4.26" fill="#473ee2"/><rect x="34.09" y="52.64" width="4.29" height="4.26" fill="#4740e3"/><rect x="37.88" y="52.64" width="4.29" height="4.26" fill="#4741e5"/><rect x="41.67" y="52.64" width="4.29" height="4.26" fill="#4742e6"/><rect x="45.45" y="52.64" width="4.29" height="4.26" fill="#4743e7"/><rect x="49.24" y="52.64" width="4.29" height="4.26" fill="#4745e9"/><rect x="53.03" y="52.64" width="4.29" height="4.26" fill="#4747eb"/><rect x="56.82" y="52.64" width="4.29" height="4.26" fill="#4848ec"/><rect x="60.61" y="52.64" width="4.29" height="4.26" fill="#484bee"/><rect x="64.39" y="52.64" width="4.29" height="4.26" fill="#484df1"/><rect x="68.18" y="52.64" width="4.29" height="4.26" fill="#4850f3"/><rect x="71.97" y="52.64" width="4.29" height="4.26" fill="#4853f5"/><rect x="75.76" y="52.64" width="4.29" height="4.26" fill="#4757f7"/><rect x="79.55" y="52.64" width="4.29" height="4.26" fill="#475af9"/><rect x="83.33" y="52.64" width="4.29" height="4.26" fill="#465dfb"/><rect x="87.12" y="52.64" width="4.29" height="4.26" fill="#4561fc"/><rect x="90.91" y="52.64" width="4.29" height="4.26" fill="#4465fd"/><rect x="94.7" y="52.64" width="4.29" height="4.26" fill="#426afe"/><rect x="98.48" y="52.64" width="4.29" height="4.26" fill="#3f6fff"/><rect x="102.27" y="52.64" width="4.29" height="4.26" fill="#3a73fe"/><rect x="106.06" y="52.64" width="4.29" height="4.26" fill="#3678fd"/><rect x="109.85" y="52.64" width="4.29" height="4.26" fill="#327cfc"/><rect x="113.64" y="52.64" width="4.29" height="4.26" fill="#3080fb"/><rect x="117.42" y="52.64" width="4.29" height="4.26" fill="#2e83f9"/><rect x="121.21" y="52.64" width="3.79" height="4.26" fill="#2e86f7"/><rect x="0" y="56.4" width="4.29" height="4.26" fill="#4537d6"/><rect x="3.79" y="56.4" width="4.29" height="4.26" fill="#4538d7"/><rect x="7.58" y="56.4" width="4.29" height="4.26" fill="#4539d9"/><rect x="11.36" y="56.4" width="4.29" height="4.26" fill="#4639da"/><rect x="15.15" y="56.4" width="4.29" height="4.26" fill="#463adb"/><rect x="18.94" y="56.4" width="4.29" height="4.26" fill="#463bdd"/><rect x="22.73" y="56.4" width="4.29" height="4.26" fill="#463cde"/><rect x="26.52" y="56.4" width="4.29" height="4.26" fill="#463de0"/><rect x="30.3" y="56.4" width="4.29" height="4.26" fill="#463ee1"/><rect x="34.09" y="56.4" width="4.29" height="4.26" fill="#473fe2"/><rect x="37.88" y="56.4" width="4.29" height="4.26" fill="#4740e4"/><rect x="41.67" y="56.4" width="4.29" height="4.26" fill="#4741e5"/><rect x="45.45" y="56.4" width="4.29" height="4.26" fill="#4743e7"/><rect x="49.24" y="56.4" width="4.29" height="4.26" fill="#4744e8"/><rect x="53.03" y="56.4" width="4.29" height="4.26" fill="#4745e9"/><rect x="56.82" y="56.4" width="4.29" height="4.26" fill="#4747eb"/><rect x="60.61" y="56.4" width="4.29" height="4.26" fill="#4849ed"/><rect x="64.39" y="56.4" width="4.29" height="4.26" fill="#484bef"/><rect x="68.18" y="56.4" width="4.29" height="4.26" fill="#484ef1"/><rect x="71.97" y="56.4" width="4.29" height="4.26" fill="#4851f3"/><rect x="75.76" y="56.4" width="4.29" height="4.26" fill="#4854f5"/><rect x="79.55" y="56.4" width="4.29" height="4.26" fill="#4757f7"/><rect x="83.33" y="56.4" width="4.29" height="4.26" fill="#475af9"/><rect x="87.12" y="56.4" width="4.29" height="4.26" fill="#465efb"/><rect x="90.91" y="56.4" width="4.29" height="4.26" fill="#4562fc"/><rect x="94.7" y="56.4" width="4.29" height="4.26" fill="#4466fd"/><rect x="98.48" y="56.4" width="4.29" height="4.26" fill="#426afe"/><rect x="102.27" y="56.4" width="4.29" height="4.26" fill="#3f6eff"/><rect x="106.06" y="56.4" width="4.29" height="4.26" fill="#3b73fe"/><rect x="109.85" y="56.4" width="4.29" height="4.26" fill="#3677fe"/><rect x="113.64" y="56.4" width="4.29" height="4.26" fill="#327cfc"/><rect x="117.42" y="56.4" width="4.29" height="4.26" fill="#307ffb"/><rect x="121.21" y="56.4" width="3.79" height="4.26" fill="#2f82fa"/><rect x="0" y="60.16" width="4.29" height="4.26" fill="#4537d6"/><rect x="3.79" y="60.16" width="4.29" height="4.26" fill="#4538d7"/><rect x="7.58" y="60.16" width="4.29" height="4.26" fill="#4539d8"/><rect x="11.36" y="60.16" width="4.29" height="4.26" fill="#4639da"/><rect x="15.15" y="60.16" width="4.29" height="4.26" fill="#463adb"/><rect x="18.94" y="60.16" width="4.29" height="4.26" fill="#463bdc"/><rect x="22.73" y="60.16" width="4.29" height="4.26" fill="#463cde"/><rect x="26.52" y="60.16" width="4.29" height="4.26" fill="#463ddf"/><rect x="30.3" y="60.16" width="4.29" height="4.26" fill="#463ee0"/><rect x="34.09" y="60.16" width="4.29" height="4.26" fill="#473fe2"/><rect x="37.88" y="60.16" width="4.29" height="4.26" fill="#4740e3"/><rect x="41.67" y="60.16" width="4.29" height="4.26" fill="#4741e5"/><rect x="45.45" y="60.16" width="4.29" height="4.26" fill="#4742e6"/><rect x="49.24" y="60.16" width="4.29" height="4.26" fill="#4743e7"/><rect x="53.03" y="60.16" width="4.29" height="4.26" fill="#4745e9"/><rect x="56.82" y="60.16" width="4.29" height="4.26" fill="#4746ea"/><rect x="60.61" y="60.16" width="4.29" height="4.26" fill="#4848ec"/><rect x="64.39" y="60.16" width="4.29" height="4.26" fill="#484aed"/><rect x="68.18" y="60.16" width="4.29" height="4.26" fill="#484cef"/><rect x="71.97" y="60.16" width="4.29" height="4.26" fill="#484ef1"/><rect x="75.76" y="60.16" width="4.29" height="4.26" fill="#4851f3"/><rect x="79.55" y="60.16" width="4.29" height="4.26" fill="#4854f5"/><rect x="83.33" y="60.16" width="4.29" height="4.26" fill="#4757f7"/><rect x="87.12" y="60.16" width="4.29" height="4.26" fill="#475bf9"/><rect x="90.91" y="60.16" width="4.29" height="4.26" fill="#465efb"/><rect x="94.7" y="60.16" width="4.29" height="4.26" fill="#4562fc"/><rect x="98.48" y="60.16" width="4.29" height="4.26" fill="#4466fd"/><rect x="102.27" y="60.16" width="4.29" height="4.26" fill="#426afe"/><rect x="106.06" y="60.16" width="4.29" height="4.26" fill="#3f6eff"/><rect x="109.85" y="60.16" width="4.29" height="4.26" fill="#3b73fe"/><rect x="113.64" y="60.16" width="4.29" height="4.26" fill="#3777fe"/><rect x="117.42" y="60.16" width="4.29" height="4.26" fill="#337bfc"/><rect x="121.21" y="60.16" width="3.79" height="4.26" fill="#307efb"/><rect x="0" y="63.92" width="4.29" height="4.26" fill="#4537d6"/><rect x="3.79" y="63.92" width="4.29" height="4.26" fill="#4538d7"/><rect x="7.58" y="63.92" width="4.29" height="4.26" fill="#4538d8"/><rect x="11.36" y="63.92" width="4.29" height="4.26" fill="#4639d9"/><rect x="15.15" y="63.92" width="4.29" height="4.26" fill="#463adb"/><rect x="18.94" y="63.92" width="4.29" height="4.26" fill="#463bdc"/><rect x="22.73" y="63.92" width="4.29" height="4.26" fill="#463bdd"/><rect x="26.52" y="63.92" width="4.29" height="4.26" fill="#463cdf"/><rect x="30.3" y="63.92" width="4.29" height="4.26" fill="#463de0"/><rect x="34.09" y="63.92" width="4.29" height="4.26" fill="#473ee1"/><rect x="37.88" y="63.92" width="4.29" height="4.26" fill="#473fe3"/><rect x="41.67" y="63.92" width="4.29" height="4.26" fill="#4740e4"/><rect x="45.45" y="63.92" width="4.29" height="4.26" fill="#4742e6"/><rect x="49.24" y="63.92" width="4.29" height="4.26" fill="#4743e7"/><rect x="53.03" y="63.92" width="4.29" height="4.26" fill="#4744e8"/><rect x="56.82" y="63.92" width="4.29" height="4.26" fill="#4745ea"/><rect x="60.61" y="63.92" width="4.29" height="4.26" fill="#4747eb"/><rect x="64.39" y="63.92" width="4.29" height="4.26" fill="#4848ec"/><rect x="68.18" y="63.92" width="4.29" height="4.26" fill="#484aee"/><rect x="71.97" y="63.92" width="4.29" height="4.26" fill="#484cf0"/><rect x="75.76" y="63.92" width="4.29" height="4.26" fill="#484ff1"/><rect x="79.55" y="63.92" width="4.29" height="4.26" fill="#4851f3"/><rect x="83.33" y="63.92" width="4.29" height="4.26" fill="#4854f6"/><rect x="87.12" y="63.92" width="4.29" height="4.26" fill="#4758f8"/><rect x="90.91" y="63.92" width="4.29" height="4.26" fill="#475bf9"/><rect x="94.7" y="63.92" width="4.29" height="4.26" fill="#465ffb"/><rect x="98.48" y="63.92" width="4.29" height="4.26" fill="#4562fc"/><rect x="102.27" y="63.92" width="4.29" height="4.26" fill="#4366fd"/><rect x="106.06" y="63.92" width="4.29" height="4.26" fill="#416afe"/><rect x="109.85" y="63.92" width="4.29" height="4.26" fill="#3f6eff"/><rect x="113.64" y="63.92" width="4.29" height="4.26" fill="#3b73fe"/><rect x="117.42" y="63.92" width="4.29" height="4.26" fill="#3777fe"/><rect x="121.21" y="63.92" width="3.79" height="4.26" fill="#337bfd"/><rect x="0" y="67.68" width="4.29" height="4.26" fill="#4537d6"/><rect x="3.79" y="67.68" width="4.29" height="4.26" fill="#4538d7"/><rect x="7.58" y="67.68" width="4.29" height="4.26" fill="#4538d8"/><rect x="11.36" y="67.68" width="4.29" height="4.26" fill="#4639d9"/><rect x="15.15" y="67.68" width="4.29" height="4.26" fill="#463ada"/><rect x="18.94" y="67.68" width="4.29" height="4.26" fill="#463adc"/><rect x="22.73" y="67.68" width="4.29" height="4.26" fill="#463bdd"/><rect x="26.52" y="67.68" width="4.29" height="4.26" fill="#463cde"/><rect x="30.3" y="67.68" width="4.29" height="4.26" fill="#463de0"/><rect x="34.09" y="67.68" width="4.29" height="4.26" fill="#463ee1"/><rect x="37.88" y="67.68" width="4.29" height="4.26" fill="#473fe2"/><rect x="41.67" y="67.68" width="4.29" height="4.26" fill="#4740e3"/><rect x="45.45" y="67.68" width="4.29" height="4.26" fill="#4741e5"/><rect x="49.24" y="67.68" width="4.29" height="4.26" fill="#4742e6"/><rect x="53.03" y="67.68" width="4.29" height="4.26" fill="#4743e8"/><rect x="56.82" y="67.68" width="4.29" height="4.26" fill="#4745e9"/><rect x="60.61" y="67.68" width="4.29" height="4.26" fill="#4746ea"/><rect x="64.39" y="67.68" width="4.29" height="4.26" fill="#4848ec"/><rect x="68.18" y="67.68" width="4.29" height="4.26" fill="#4849ed"/><rect x="71.97" y="67.68" width="4.29" height="4.26" fill="#484bee"/><rect x="75.76" y="67.68" width="4.29" height="4.26" fill="#484df0"/><rect x="79.55" y="67.68" width="4.29" height="4.26" fill="#484ff2"/><rect x="83.33" y="67.68" width="4.29" height="4.26" fill="#4851f4"/><rect x="87.12" y="67.68" width="4.29" height="4.26" fill="#4855f6"/><rect x="90.91" y="67.68" width="4.29" height="4.26" fill="#4758f8"/><rect x="94.7" y="67.68" width="4.29" height="4.26" fill="#475bfa"/><rect x="98.48" y="67.68" width="4.29" height="4.26" fill="#465ffb"/><rect x="102.27" y="67.68" width="4.29" height="4.26" fill="#4563fd"/><rect x="106.06" y="67.68" width="4.29" height="4.26" fill="#4367fd"/><rect x="109.85" y="67.68" width="4.29" height="4.26" fill="#416bfe"/><rect x="113.64" y="67.68" width="4.29" height="4.26" fill="#3e6fff"/><rect x="117.42" y="67.68" width="4.29" height="4.26" fill="#3b73fe"/><rect x="121.21" y="67.68" width="3.79" height="4.26" fill="#3777fe"/><rect x="0" y="71.44" width="4.29" height="4.26" fill="#4537d5"/><rect x="3.79" y="71.44" width="4.29" height="4.26" fill="#4537d6"/><rect x="7.58" y="71.44" width="4.29" height="4.26" fill="#4538d8"/><rect x="11.36" y="71.44" width="4.29" height="4.26" fill="#4539d9"/><rect x="15.15" y="71.44" width="4.29" height="4.26" fill="#4639da"/><rect x="18.94" y="71.44" width="4.29" height="4.26" fill="#463adb"/><rect x="22.73" y="71.44" width="4.29" height="4.26" fill="#463bdd"/><rect x="26.52" y="71.44" width="4.29" height="4.26" fill="#463cde"/><rect x="30.3" y="71.44" width="4.29" height="4.26" fill="#463ddf"/><rect x="34.09" y="71.44" width="4.29" height="4.26" fill="#463ee1"/><rect x="37.88" y="71.44" width="4.29" height="4.26" fill="#473fe2"/><rect x="41.67" y="71.44" width="4.29" height="4.26" fill="#4740e3"/><rect x="45.45" y="71.44" width="4.29" height="4.26" fill="#4741e4"/><rect x="49.24" y="71.44" width="4.29" height="4.26" fill="#4742e6"/><rect x="53.03" y="71.44" width="4.29" height="4.26" fill="#4743e7"/><rect x="56.82" y="71.44" width="4.29" height="4.26" fill="#4744e8"/><rect x="60.61" y="71.44" width="4.29" height="4.26" fill="#4745ea"/><rect x="64.39" y="71.44" width="4.29" height="4.26" fill="#4747eb"/><rect x="68.18" y="71.44" width="4.29" height="4.26" fill="#4848ec"/><rect x="71.97" y="71.44" width="4.29" height="4.26" fill="#484aee"/><rect x="75.76" y="71.44" width="4.29" height="4.26" fill="#484cef"/><rect x="79.55" y="71.44" width="4.29" height="4.26" fill="#484df1"/><rect x="83.33" y="71.44" width="4.29" height="4.26" fill="#4850f2"/><rect x="87.12" y="71.44" width="4.29" height="4.26" fill="#4852f4"/><rect x="90.91" y="71.44" width="4.29" height="4.26" fill="#4755f6"/><rect x="94.7" y="71.44" width="4.29" height="4.26" fill="#4758f8"/><rect x="98.48" y="71.44" width="4.29" height="4.26" fill="#475cfa"/><rect x="102.27" y="71.44" width="4.29" height="4.26" fill="#4660fb"/><rect x="106.06" y="71.44" width="4.29" height="4.26" fill="#4563fd"/><rect x="109.85" y="71.44" width="4.29" height="4.26" fill="#4367fd"/><rect x="113.64" y="71.44" width="4.29" height="4.26" fill="#416bfe"/><rect x="117.42" y="71.44" width="4.29" height="4.26" fill="#3e6fff"/><rect x="121.21" y="71.44" width="3.79" height="4.26" fill="#3a73fe"/><rect x="0" y="75.2" width="4.29" height="4.26" fill="#4537d5"/><rect x="3.79" y="75.2" width="4.29" height="4.26" fill="#4537d6"/><rect x="7.58" y="75.2" width="4.29" height="4.26" fill="#4538d7"/><rect x="11.36" y="75.2" width="4.29" height="4.26" fill="#4539d9"/><rect x="15.15" y="75.2" width="4.29" height="4.26" fill="#4639da"/><rect x="18.94" y="75.2" width="4.29" height="4.26" fill="#463adb"/><rect x="22.73" y="75.2" width="4.29" height="4.26" fill="#463bdc"/><rect x="26.52" y="75.2" width="4.29" height="4.26" fill="#463cde"/><rect x="30.3" y="75.2" width="4.29" height="4.26" fill="#463cdf"/><rect x="34.09" y="75.2" width="4.29" height="4.26" fill="#463de0"/><rect x="37.88" y="75.2" width="4.29" height="4.26" fill="#473ee1"/><rect x="41.67" y="75.2" width="4.29" height="4.26" fill="#473fe3"/><rect x="45.45" y="75.2" width="4.29" height="4.26" fill="#4740e4"/><rect x="49.24" y="75.2" width="4.29" height="4.26" fill="#4741e5"/><rect x="53.03" y="75.2" width="4.29" height="4.26" fill="#4742e6"/><rect x="56.82" y="75.2" width="4.29" height="4.26" fill="#4744e8"/><rect x="60.61" y="75.2" width="4.29" height="4.26" fill="#4745e9"/><rect x="64.39" y="75.2" width="4.29" height="4.26" fill="#4746ea"/><rect x="68.18" y="75.2" width="4.29" height="4.26" fill="#4848ec"/><rect x="71.97" y="75.2" width="4.29" height="4.26" fill="#4849ed"/><rect x="75.76" y="75.2" width="4.29" height="4.26" fill="#484bef"/><rect x="79.55" y="75.2" width="4.29" height="4.26" fill="#484df0"/><rect x="83.33" y="75.2" width="4.29" height="4.26" fill="#484ef1"/><rect x="87.12" y="75.2" width="4.29" height="4.26" fill="#4850f3"/><rect x="90.91" y="75.2" width="4.29" height="4.26" fill="#4853f5"/><rect x="94.7" y="75.2" width="4.29" height="4.26" fill="#4755f6"/><rect x="98.48" y="75.2" width="4.29" height="4.26" fill="#4759f8"/><rect x="102.27" y="75.2" width="4.29" height="4.26" fill="#475cfa"/><rect x="106.06" y="75.2" width="4.29" height="4.26" fill="#4660fc"/><rect x="109.85" y="75.2" width="4.29" height="4.26" fill="#4464fd"/><rect x="113.64" y="75.2" width="4.29" height="4.26" fill="#4368fe"/><rect x="117.42" y="75.2" width="4.29" height="4.26" fill="#406cfe"/><rect x="121.21" y="75.2" width="3.79" height="4.26" fill="#3d70ff"/><rect x="0" y="78.96" width="4.29" height="4.26" fill="#4537d5"/><rect x="3.79" y="78.96" width="4.29" height="4.26" fill="#4537d6"/><rect x="7.58" y="78.96" width="4.29" height="4.26" fill="#4538d7"/><rect x="11.36" y="78.96" width="4.29" height="4.26" fill="#4538d8"/><rect x="15.15" y="78.96" width="4.29" height="4.26" fill="#4639da"/><rect x="18.94" y="78.96" width="4.29" height="4.26" fill="#463adb"/><rect x="22.73" y="78.96" width="4.29" height="4.26" fill="#463bdc"/><rect x="26.52" y="78.96" width="4.29" height="4.26" fill="#463bdd"/><rect x="30.3" y="78.96" width="4.29" height="4.26" fill="#463cdf"/><rect x="34.09" y="78.96" width="4.29" height="4.26" fill="#463de0"/><rect x="37.88" y="78.96" width="4.29" height="4.26" fill="#463ee1"/><rect x="41.67" y="78.96" width="4.29" height="4.26" fill="#473fe2"/><rect x="45.45" y="78.96" width="4.29" height="4.26" fill="#4740e4"/><rect x="49.24" y="78.96" width="4.29" height="4.26" fill="#4741e5"/><rect x="53.03" y="78.96" width="4.29" height="4.26" fill="#4742e6"/><rect x="56.82" y="78.96" width="4.29" height="4.26" fill="#4743e7"/><rect x="60.61" y="78.96" width="4.29" height="4.26" fill="#4744e9"/><rect x="64.39" y="78.96" width="4.29" height="4.26" fill="#4746ea"/><rect x="68.18" y="78.96" width="4.29" height="4.26" fill="#4747eb"/><rect x="71.97" y="78.96" width="4.29" height="4.26" fill="#4849ed"/><rect x="75.76" y="78.96" width="4.29" height="4.26" fill="#484aee"/><rect x="79.55" y="78.96" width="4.29" height="4.26" fill="#484cef"/><rect x="83.33" y="78.96" width="4.29" height="4.26" fill="#484df1"/><rect x="87.12" y="78.96" width="4.29" height="4.26" fill="#484ff2"/><rect x="90.91" y="78.96" width="4.29" height="4.26" fill="#4851f3"/><rect x="94.7" y="78.96" width="4.29" height="4.26" fill="#4854f5"/><rect x="98.48" y="78.96" width="4.29" height="4.26" fill="#4756f7"/><rect x="102.27" y="78.96" width="4.29" height="4.26" fill="#4759f8"/><rect x="106.06" y="78.96" width="4.29" height="4.26" fill="#465dfa"/><rect x="109.85" y="78.96" width="4.29" height="4.26" fill="#4561fc"/><rect x="113.64" y="78.96" width="4.29" height="4.26" fill="#4465fd"/><rect x="117.42" y="78.96" width="4.29" height="4.26" fill="#4269fe"/><rect x="121.21" y="78.96" width="3.79" height="4.26" fill="#406dfe"/><rect x="0" y="82.72" width="4.29" height="4.26" fill="#4536d5"/><rect x="3.79" y="82.72" width="4.29" height="4.26" fill="#4537d6"/><rect x="7.58" y="82.72" width="4.29" height="4.26" fill="#4538d7"/><rect x="11.36" y="82.72" width="4.29" height="4.26" fill="#4538d8"/><rect x="15.15" y="82.72" width="4.29" height="4.26" fill="#4639d9"/><rect x="18.94" y="82.72" width="4.29" height="4.26" fill="#463adb"/><rect x="22.73" y="82.72" width="4.29" height="4.26" fill="#463adc"/><rect x="26.52" y="82.72" width="4.29" height="4.26" fill="#463bdd"/><rect x="30.3" y="82.72" width="4.29" height="4.26" fill="#463cde"/><rect x="34.09" y="82.72" width="4.29" height="4.26" fill="#463de0"/><rect x="37.88" y="82.72" width="4.29" height="4.26" fill="#463ee1"/><rect x="41.67" y="82.72" width="4.29" height="4.26" fill="#473fe2"/><rect x="45.45" y="82.72" width="4.29" height="4.26" fill="#4740e3"/><rect x="49.24" y="82.72" width="4.29" height="4.26" fill="#4741e5"/><rect x="53.03" y="82.72" width="4.29" height="4.26" fill="#4742e6"/><rect x="56.82" y="82.72" width="4.29" height="4.26" fill="#4743e7"/><rect x="60.61" y="82.72" width="4.29" height="4.26" fill="#4744e8"/><rect x="64.39" y="82.72" width="4.29" height="4.26" fill="#4745e9"/><rect x="68.18" y="82.72" width="4.29" height="4.26" fill="#4747eb"/><rect x="71.97" y="82.72" width="4.29" height="4.26" fill="#4848ec"/><rect x="75.76" y="82.72" width="4.29" height="4.26" fill="#4849ed"/><rect x="79.55" y="82.72" width="4.29" height="4.26" fill="#484bef"/><rect x="83.33" y="82.72" width="4.29" height="4.26" fill="#484df0"/><rect x="87.12" y="82.72" width="4.29" height="4.26" fill="#484ef1"/><rect x="90.91" y="82.72" width="4.29" height="4.26" fill="#4850f3"/><rect x="94.7" y="82.72" width="4.29" height="4.26" fill="#4852f4"/><rect x="98.48" y="82.72" width="4.29" height="4.26" fill="#4854f6"/><rect x="102.27" y="82.72" width="4.29" height="4.26" fill="#4757f7"/><rect x="106.06" y="82.72" width="4.29" height="4.26" fill="#475af9"/><rect x="109.85" y="82.72" width="4.29" height="4.26" fill="#465efb"/><rect x="113.64" y="82.72" width="4.29" height="4.26" fill="#4562fc"/><rect x="117.42" y="82.72" width="4.29" height="4.26" fill="#4466fd"/><rect x="121.21" y="82.72" width="3.79" height="4.26" fill="#426afe"/><rect x="0" y="86.48" width="4.29" height="4.26" fill="#4536d4"/><rect x="3.79" y="86.48" width="4.29" height="4.26" fill="#4537d6"/><rect x="7.58" y="86.48" width="4.29" height="4.26" fill="#4538d7"/><rect x="11.36" y="86.48" width="4.29" height="4.26" fill="#4538d8"/><rect x="15.15" y="86.48" width="4.29" height="4.26" fill="#4639d9"/><rect x="18.94" y="86.48" width="4.29" height="4.26" fill="#463adb"/><rect x="22.73" y="86.48" width="4.29" height="4.26" fill="#463adc"/><rect x="26.52" y="86.48" width="4.29" height="4.26" fill="#463bdd"/><rect x="30.3" y="86.48" width="4.29" height="4.26" fill="#463cde"/><rect x="34.09" y="86.48" width="4.29" height="4.26" fill="#463ddf"/><rect x="37.88" y="86.48" width="4.29" height="4.26" fill="#463ee0"/><rect x="41.67" y="86.48" width="4.29" height="4.26" fill="#473fe2"/><rect x="45.45" y="86.48" width="4.29" height="4.26" fill="#4740e3"/><rect x="49.24" y="86.48" width="4.29" height="4.26" fill="#4741e4"/><rect x="53.03" y="86.48" width="4.29" height="4.26" fill="#4742e6"/><rect x="56.82" y="86.48" width="4.29" height="4.26" fill="#4743e7"/><rect x="60.61" y="86.48" width="4.29" height="4.26" fill="#4744e8"/><rect x="64.39" y="86.48" width="4.29" height="4.26" fill="#4745e9"/><rect x="68.18" y="86.48" width="4.29" height="4.26" fill="#4746ea"/><rect x="71.97" y="86.48" width="4.29" height="4.26" fill="#4747ec"/><rect x="75.76" y="86.48" width="4.29" height="4.26" fill="#4849ed"/><rect x="79.55" y="86.48" width="4.29" height="4.26" fill="#484aee"/><rect x="83.33" y="86.48" width="4.29" height="4.26" fill="#484cef"/><rect x="87.12" y="86.48" width="4.29" height="4.26" fill="#484ef1"/><rect x="90.91" y="86.48" width="4.29" height="4.26" fill="#484ff2"/><rect x="94.7" y="86.48" width="4.29" height="4.26" fill="#4851f3"/><rect x="98.48" y="86.48" width="4.29" height="4.26" fill="#4853f5"/><rect x="102.27" y="86.48" width="4.29" height="4.26" fill="#4755f6"/><rect x="106.06" y="86.48" width="4.29" height="4.26" fill="#4758f8"/><rect x="109.85" y="86.48" width="4.29" height="4.26" fill="#475bf9"/><rect x="113.64" y="86.48" width="4.29" height="4.26" fill="#465efb"/><rect x="117.42" y="86.48" width="4.29" height="4.26" fill="#4562fc"/><rect x="121.21" y="86.48" width="3.79" height="4.26" fill="#4367fd"/><rect x="0" y="90.24" width="4.29" height="4.26" fill="#4536d4"/><rect x="3.79" y="90.24" width="4.29" height="4.26" fill="#4537d6"/><rect x="7.58" y="90.24" width="4.29" height="4.26" fill="#4538d7"/><rect x="11.36" y="90.24" width="4.29" height="4.26" fill="#4538d8"/><rect x="15.15" y="90.24" width="4.29" height="4.26" fill="#4639d9"/><rect x="18.94" y="90.24" width="4.29" height="4.26" fill="#463adb"/><rect x="22.73" y="90.24" width="4.29" height="4.26" fill="#463adc"/><rect x="26.52" y="90.24" width="4.29" height="4.26" fill="#463bdd"/><rect x="30.3" y="90.24" width="4.29" height="4.26" fill="#463cde"/><rect x="34.09" y="90.24" width="4.29" height="4.26" fill="#463ddf"/><rect x="37.88" y="90.24" width="4.29" height="4.26" fill="#463de0"/><rect x="41.67" y="90.24" width="4.29" height="4.26" fill="#473ee1"/><rect x="45.45" y="90.24" width="4.29" height="4.26" fill="#473fe3"/><rect x="49.24" y="90.24" width="4.29" height="4.26" fill="#4740e4"/><rect x="53.03" y="90.24" width="4.29" height="4.26" fill="#4741e5"/><rect x="56.82" y="90.24" width="4.29" height="4.26" fill="#4743e7"/><rect x="60.61" y="90.24" width="4.29" height="4.26" fill="#4744e8"/><rect x="64.39" y="90.24" width="4.29" height="4.26" fill="#4745e9"/><rect x="68.18" y="90.24" width="4.29" height="4.26" fill="#4746ea"/><rect x="71.97" y="90.24" width="4.29" height="4.26" fill="#4747eb"/><rect x="75.76" y="90.24" width="4.29" height="4.26" fill="#4848ec"/><rect x="79.55" y="90.24" width="4.29" height="4.26" fill="#484aee"/><rect x="83.33" y="90.24" width="4.29" height="4.26" fill="#484bef"/><rect x="87.12" y="90.24" width="4.29" height="4.26" fill="#484df0"/><rect x="90.91" y="90.24" width="4.29" height="4.26" fill="#484ff1"/><rect x="94.7" y="90.24" width="4.29" height="4.26" fill="#4850f3"/><rect x="98.48" y="90.24" width="4.29" height="4.26" fill="#4852f4"/><rect x="102.27" y="90.24" width="4.29" height="4.26" fill="#4854f5"/><rect x="106.06" y="90.24" width="4.29" height="4.26" fill="#4756f7"/><rect x="109.85" y="90.24" width="4.29" height="4.26" fill="#4759f8"/><rect x="113.64" y="90.24" width="4.29" height="4.26" fill="#475cfa"/><rect x="117.42" y="90.24" width="4.29" height="4.26" fill="#465ffb"/><rect x="121.21" y="90.24" width="3.79" height="4.26" fill="#4563fd"/><rect x="0" y="94" width="4.29" height="4.26" fill="#4536d4"/><rect x="3.79" y="94" width="4.29" height="4.26" fill="#4537d5"/><rect x="7.58" y="94" width="4.29" height="4.26" fill="#4538d7"/><rect x="11.36" y="94" width="4.29" height="4.26" fill="#4538d8"/><rect x="15.15" y="94" width="4.29" height="4.26" fill="#4639d9"/><rect x="18.94" y="94" width="4.29" height="4.26" fill="#463adb"/><rect x="22.73" y="94" width="4.29" height="4.26" fill="#463adc"/><rect x="26.52" y="94" width="4.29" height="4.26" fill="#463bdd"/><rect x="30.3" y="94" width="4.29" height="4.26" fill="#463cde"/><rect x="34.09" y="94" width="4.29" height="4.26" fill="#463ddf"/><rect x="37.88" y="94" width="4.29" height="4.26" fill="#463de0"/><rect x="41.67" y="94" width="4.29" height="4.26" fill="#473ee1"/><rect x="45.45" y="94" width="4.29" height="4.26" fill="#473fe2"/><rect x="49.24" y="94" width="4.29" height="4.26" fill="#4740e4"/><rect x="53.03" y="94" width="4.29" height="4.26" fill="#4741e5"/><rect x="56.82" y="94" width="4.29" height="4.26" fill="#4742e6"/><rect x="60.61" y="94" width="4.29" height="4.26" fill="#4743e8"/><rect x="64.39" y="94" width="4.29" height="4.26" fill="#4745e9"/><rect x="68.18" y="94" width="4.29" height="4.26" fill="#4746ea"/><rect x="71.97" y="94" width="4.29" height="4.26" fill="#4747eb"/><rect x="75.76" y="94" width="4.29" height="4.26" fill="#4848ec"/><rect x="79.55" y="94" width="4.29" height="4.26" fill="#4849ed"/><rect x="83.33" y="94" width="4.29" height="4.26" fill="#484bef"/><rect x="87.12" y="94" width="4.29" height="4.26" fill="#484df0"/><rect x="90.91" y="94" width="4.29" height="4.26" fill="#484ef1"/><rect x="94.7" y="94" width="4.29" height="4.26" fill="#4850f2"/><rect x="98.48" y="94" width="4.29" height="4.26" fill="#4851f3"/><rect x="102.27" y="94" width="4.29" height="4.26" fill="#4853f5"/><rect x="106.06" y="94" width="4.29" height="4.26" fill="#4755f6"/><rect x="109.85" y="94" width="4.29" height="4.26" fill="#4758f8"/><rect x="113.64" y="94" width="4.29" height="4.26" fill="#475af9"/><rect x="117.42" y="94" width="4.29" height="4.26" fill="#465dfa"/><rect x="121.21" y="94" width="3.79" height="4.26" fill="#4660fc"/><rect x="0" y="97.76" width="4.29" height="4.26" fill="#4536d4"/><rect x="3.79" y="97.76" width="4.29" height="4.26" fill="#4537d5"/><rect x="7.58" y="97.76" width="4.29" height="4.26" fill="#4538d7"/><rect x="11.36" y="97.76" width="4.29" height="4.26" fill="#4538d8"/><rect x="15.15" y="97.76" width="4.29" height="4.26" fill="#4639da"/><rect x="18.94" y="97.76" width="4.29" height="4.26" fill="#463adb"/><rect x="22.73" y="97.76" width="4.29" height="4.26" fill="#463bdc"/><rect x="26.52" y="97.76" width="4.29" height="4.26" fill="#463bdd"/><rect x="30.3" y="97.76" width="4.29" height="4.26" fill="#463cdf"/><rect x="34.09" y="97.76" width="4.29" height="4.26" fill="#463de0"/><rect x="37.88" y="97.76" width="4.29" height="4.26" fill="#463ee1"/><rect x="41.67" y="97.76" width="4.29" height="4.26" fill="#473ee2"/><rect x="45.45" y="97.76" width="4.29" height="4.26" fill="#473fe3"/><rect x="49.24" y="97.76" width="4.29" height="4.26" fill="#4740e4"/><rect x="53.03" y="97.76" width="4.29" height="4.26" fill="#4741e5"/><rect x="56.82" y="97.76" width="4.29" height="4.26" fill="#4742e6"/><rect x="60.61" y="97.76" width="4.29" height="4.26" fill="#4743e7"/><rect x="64.39" y="97.76" width="4.29" height="4.26" fill="#4744e9"/><rect x="68.18" y="97.76" width="4.29" height="4.26" fill="#4746ea"/><rect x="71.97" y="97.76" width="4.29" height="4.26" fill="#4747eb"/><rect x="75.76" y="97.76" width="4.29" height="4.26" fill="#4848ec"/><rect x="79.55" y="97.76" width="4.29" height="4.26" fill="#4849ed"/><rect x="83.33" y="97.76" width="4.29" height="4.26" fill="#484bee"/><rect x="87.12" y="97.76" width="4.29" height="4.26" fill="#484cf0"/><rect x="90.91" y="97.76" width="4.29" height="4.26" fill="#484ef1"/><rect x="94.7" y="97.76" width="4.29" height="4.26" fill="#484ff2"/><rect x="98.48" y="97.76" width="4.29" height="4.26" fill="#4851f3"/><rect x="102.27" y="97.76" width="4.29" height="4.26" fill="#4853f4"/><rect x="106.06" y="97.76" width="4.29" height="4.26" fill="#4854f6"/><rect x="109.85" y="97.76" width="4.29" height="4.26" fill="#4756f7"/><rect x="113.64" y="97.76" width="4.29" height="4.26" fill="#4759f8"/><rect x="117.42" y="97.76" width="4.29" height="4.26" fill="#475bfa"/><rect x="121.21" y="97.76" width="3.79" height="4.26" fill="#465efb"/><rect x="0" y="101.52" width="4.29" height="4.26" fill="#4536d4"/><rect x="3.79" y="101.52" width="4.29" height="4.26" fill="#4537d6"/><rect x="7.58" y="101.52" width="4.29" height="4.26" fill="#4538d7"/><rect x="11.36" y="101.52" width="4.29" height="4.26" fill="#4539d9"/><rect x="15.15" y="101.52" width="4.29" height="4.26" fill="#4639da"/><rect x="18.94" y="101.52" width="4.29" height="4.26" fill="#463adb"/><rect x="22.73" y="101.52" width="4.29" height="4.26" fill="#463bdc"/><rect x="26.52" y="101.52" width="4.29" height="4.26" fill="#463bde"/><rect x="30.3" y="101.52" width="4.29" height="4.26" fill="#463cdf"/><rect x="34.09" y="101.52" width="4.29" height="4.26" fill="#463de0"/><rect x="37.88" y="101.52" width="4.29" height="4.26" fill="#463ee1"/><rect x="41.67" y="101.52" width="4.29" height="4.26" fill="#473fe2"/><rect x="45.45" y="101.52" width="4.29" height="4.26" fill="#473fe3"/><rect x="49.24" y="101.52" width="4.29" height="4.26" fill="#4740e4"/><rect x="53.03" y="101.52" width="4.29" height="4.26" fill="#4741e5"/><rect x="56.82" y="101.52" width="4.29" height="4.26" fill="#4742e6"/><rect x="60.61" y="101.52" width="4.29" height="4.26" fill="#4743e7"/><rect x="64.39" y="101.52" width="4.29" height="4.26" fill="#4744e8"/><rect x="68.18" y="101.52" width="4.29" height="4.26" fill="#4746ea"/><rect x="71.97" y="101.52" width="4.29" height="4.26" fill="#4747eb"/><rect x="75.76" y="101.52" width="4.29" height="4.26" fill="#4848ec"/><rect x="79.55" y="101.52" width="4.29" height="4.26" fill="#4849ed"/><rect x="83.33" y="101.52" width="4.29" height="4.26" fill="#484aee"/><rect x="87.12" y="101.52" width="4.29" height="4.26" fill="#484cef"/><rect x="90.91" y="101.52" width="4.29" height="4.26" fill="#484df1"/><rect x="94.7" y="101.52" width="4.29" height="4.26" fill="#484ff2"/><rect x="98.48" y="101.52" width="4.29" height="4.26" fill="#4851f3"/><rect x="102.27" y="101.52" width="4.29" height="4.26" fill="#4852f4"/><rect x="106.06" y="101.52" width="4.29" height="4.26" fill="#4854f5"/><rect x="109.85" y="101.52" width="4.29" height="4.26" fill="#4756f6"/><rect x="113.64" y="101.52" width="4.29" height="4.26" fill="#4757f8"/><rect x="117.42" y="101.52" width="4.29" height="4.26" fill="#475af9"/><rect x="121.21" y="101.52" width="3.79" height="4.26" fill="#475dfa"/><rect x="0" y="105.28" width="4.29" height="4.26" fill="#4536d4"/><rect x="3.79" y="105.28" width="4.29" height="4.26" fill="#4537d6"/><rect x="7.58" y="105.28" width="4.29" height="4.26" fill="#4538d8"/><rect x="11.36" y="105.28" width="4.29" height="4.26" fill="#4639d9"/><rect x="15.15" y="105.28" width="4.29" height="4.26" fill="#463ada"/><rect x="18.94" y="105.28" width="4.29" height="4.26" fill="#463adc"/><rect x="22.73" y="105.28" width="4.29" height="4.26" fill="#463bdd"/><rect x="26.52" y="105.28" width="4.29" height="4.26" fill="#463cde"/><rect x="30.3" y="105.28" width="4.29" height="4.26" fill="#463ddf"/><rect x="34.09" y="105.28" width="4.29" height="4.26" fill="#463de0"/><rect x="37.88" y="105.28" width="4.29" height="4.26" fill="#463ee1"/><rect x="41.67" y="105.28" width="4.29" height="4.26" fill="#473fe2"/><rect x="45.45" y="105.28" width="4.29" height="4.26" fill="#4740e3"/><rect x="49.24" y="105.28" width="4.29" height="4.26" fill="#4740e4"/><rect x="53.03" y="105.28" width="4.29" height="4.26" fill="#4741e5"/><rect x="56.82" y="105.28" width="4.29" height="4.26" fill="#4742e6"/><rect x="60.61" y="105.28" width="4.29" height="4.26" fill="#4743e7"/><rect x="64.39" y="105.28" width="4.29" height="4.26" fill="#4744e8"/><rect x="68.18" y="105.28" width="4.29" height="4.26" fill="#4745ea"/><rect x="71.97" y="105.28" width="4.29" height="4.26" fill="#4747eb"/><rect x="75.76" y="105.28" width="4.29" height="4.26" fill="#4848ec"/><rect x="79.55" y="105.28" width="4.29" height="4.26" fill="#4849ed"/><rect x="83.33" y="105.28" width="4.29" height="4.26" fill="#484aee"/><rect x="87.12" y="105.28" width="4.29" height="4.26" fill="#484cef"/><rect x="90.91" y="105.28" width="4.29" height="4.26" fill="#484df0"/><rect x="94.7" y="105.28" width="4.29" height="4.26" fill="#484ff2"/><rect x="98.48" y="105.28" width="4.29" height="4.26" fill="#4850f3"/><rect x="102.27" y="105.28" width="4.29" height="4.26" fill="#4852f4"/><rect x="106.06" y="105.28" width="4.29" height="4.26" fill="#4854f5"/><rect x="109.85" y="105.28" width="4.29" height="4.26" fill="#4755f6"/><rect x="113.64" y="105.28" width="4.29" height="4.26" fill="#4757f7"/><rect x="117.42" y="105.28" width="4.29" height="4.26" fill="#4759f8"/><rect x="121.21" y="105.28" width="3.79" height="4.26" fill="#475bf9"/><rect x="0" y="109.04" width="4.29" height="1.26" fill="#4537d5"/><rect x="3.79" y="109.04" width="4.29" height="1.26" fill="#4538d7"/><rect x="7.58" y="109.04" width="4.29" height="1.26" fill="#4539d9"/><rect x="11.36" y="109.04" width="4.29" height="1.26" fill="#4639da"/><rect x="15.15" y="109.04" width="4.29" height="1.26" fill="#463adb"/><rect x="18.94" y="109.04" width="4.29" height="1.26" fill="#463bdc"/><rect x="22.73" y="109.04" width="4.29" height="1.26" fill="#463bdd"/><rect x="26.52" y="109.04" width="4.29" height="1.26" fill="#463cde"/><rect x="30.3" y="109.04" width="4.29" height="1.26" fill="#463ddf"/><rect x="34.09" y="109.04" width="4.29" height="1.26" fill="#463de0"/><rect x="37.88" y="109.04" width="4.29" height="1.26" fill="#473ee1"/><rect x="41.67" y="109.04" width="4.29" height="1.26" fill="#473fe2"/><rect x="45.45" y="109.04" width="4.29" height="1.26" fill="#4740e3"/><rect x="49.24" y="109.04" width="4.29" height="1.26" fill="#4741e4"/><rect x="53.03" y="109.04" width="4.29" height="1.26" fill="#4741e5"/><rect x="56.82" y="109.04" width="4.29" height="1.26" fill="#4742e6"/><rect x="60.61" y="109.04" width="4.29" height="1.26" fill="#4743e7"/><rect x="64.39" y="109.04" width="4.29" height="1.26" fill="#4744e8"/><rect x="68.18" y="109.04" width="4.29" height="1.26" fill="#4745ea"/><rect x="71.97" y="109.04" width="4.29" height="1.26" fill="#4747eb"/><rect x="75.76" y="109.04" width="4.29" height="1.26" fill="#4848ec"/><rect x="79.55" y="109.04" width="4.29" height="1.26" fill="#4849ed"/><rect x="83.33" y="109.04" width="4.29" height="1.26" fill="#484aee"/><rect x="87.12" y="109.04" width="4.29" height="1.26" fill="#484cef"/><rect x="90.91" y="109.04" width="4.29" height="1.26" fill="#484df0"/><rect x="94.7" y="109.04" width="4.29" height="1.26" fill="#484ff1"/><rect x="98.48" y="109.04" width="4.29" height="1.26" fill="#4850f3"/><rect x="102.27" y="109.04" width="4.29" height="1.26" fill="#4852f4"/><rect x="106.06" y="109.04" width="4.29" height="1.26" fill="#4854f5"/><rect x="109.85" y="109.04" width="4.29" height="1.26" fill="#4755f6"/><rect x="113.64" y="109.04" width="4.29" height="1.26" fill="#4757f7"/><rect x="117.42" y="109.04" width="4.29" height="1.26" fill="#4759f8"/><rect x="121.21" y="109.04" width="3.79" height="1.26" fill="#475af9"/>
<use href="#grid"/>
<rect x="0" y="0" width="125" height="110.3" fill="none" stroke="#262626" stroke-width="0.4"/>
<rect x="128.35" y="0" width="6.65" height="110.3" fill="url(#pg)" stroke="#262626" stroke-width="0.12"/>
<text x="136.9" y="111.75" font-size="3.95" font-family="Liberation Sans, Arial, sans-serif" fill="#404040">0</text>
<text x="136.9" y="95.26" font-size="3.95" font-family="Liberation Sans, Arial, sans-serif" fill="#404040">1</text>
<text x="136.9" y="78.78" font-size="3.95" font-family="Liberation Sans, Arial, sans-serif" fill="#404040">2</text>
<text x="136.9" y="62.29" font-size="3.95" font-family="Liberation Sans, Arial, sans-serif" fill="#404040">3</text>
<text x="136.9" y="45.8" font-size="3.95" font-family="Liberation Sans, Arial, sans-serif" fill="#404040">4</text>
<text x="136.9" y="29.31" font-size="3.95" font-family="Liberation Sans, Arial, sans-serif" fill="#404040">5</text>
<text x="136.9" y="12.83" font-size="3.95" font-family="Liberation Sans, Arial, sans-serif" fill="#404040">6</text>
<text x="14.32" y="116.6" font-size="4.4" text-anchor="middle" font-family="Liberation Sans, Arial, sans-serif" fill="#404040">0.2</text>
<text x="28.65" y="116.6" font-size="4.4" text-anchor="middle" font-family="Liberation Sans, Arial, sans-serif" fill="#404040">0.4</text>
<text x="42.97" y="116.6" font-size="4.4" text-anchor="middle" font-family="Liberation Sans, Arial, sans-serif" fill="#404040">0.6</text>
<text x="57.3" y="116.6" font-size="4.4" text-anchor="middle" font-family="Liberation Sans, Arial, sans-serif" fill="#404040">0.8</text>
<text x="71.62" y="116.6" font-size="4.4" text-anchor="middle" font-family="Liberation Sans, Arial, sans-serif" fill="#404040">1</text>
<text x="85.95" y="116.6" font-size="4.4" text-anchor="middle" font-family="Liberation Sans, Arial, sans-serif" fill="#404040">1.2</text>
<text x="100.27" y="116.6" font-size="4.4" text-anchor="middle" font-family="Liberation Sans, Arial, sans-serif" fill="#404040">1.4</text>
<text x="114.59" y="116.6" font-size="4.4" text-anchor="middle" font-family="Liberation Sans, Arial, sans-serif" fill="#404040">1.6</text>
<text x="-2.0" y="94.64" font-size="4.3" text-anchor="end" font-family="Liberation Sans, Arial, sans-serif" fill="#404040">0.2</text>
<text x="-2.0" y="76.59" font-size="4.3" text-anchor="end" font-family="Liberation Sans, Arial, sans-serif" fill="#404040">0.4</text>
<text x="-2.0" y="58.53" font-size="4.3" text-anchor="end" font-family="Liberation Sans, Arial, sans-serif" fill="#404040">0.6</text>
<text x="-2.0" y="40.47" font-size="4.3" text-anchor="end" font-family="Liberation Sans, Arial, sans-serif" fill="#404040">0.8</text>
<text x="-2.0" y="22.42" font-size="4.3" text-anchor="end" font-family="Liberation Sans, Arial, sans-serif" fill="#404040">1</text>
<text x="-2.0" y="4.36" font-size="4.3" text-anchor="end" font-family="Liberation Sans, Arial, sans-serif" fill="#404040">1.2</text>
<text x="62.5" y="-2.2" font-size="4.8" word-spacing="0.6" text-anchor="middle" font-family="Liberation Serif, Times New Roman, serif" fill="#404040"><tspan font-style="italic">q</tspan><tspan font-size="3.4" dy="0.75">1</tspan><tspan dy="-0.75"> = 10°</tspan></text>
<text x="63.1" y="121.7" font-size="4.8" letter-spacing="0.17" text-anchor="middle" font-family="Liberation Serif, Times New Roman, serif" fill="#404040"><tspan font-style="italic">q</tspan><tspan font-size="3.4" dy="0.75">2</tspan><tspan dy="-0.75"> (rad)</tspan></text>
<text transform="translate(-10.9,55.15) rotate(-90)" font-size="4.8" letter-spacing="0.17" text-anchor="middle" font-family="Liberation Serif, Times New Roman, serif" fill="#404040"><tspan font-style="italic">q</tspan><tspan font-size="3.4" dy="0.75">3</tspan><tspan dy="-0.75"> (rad)</tspan></text>
</g>
<g transform="translate(205.4,13)">
<rect x="0" y="0" width="4.29" height="4.26" fill="#463bdc"/><rect x="3.79" y="0" width="4.29" height="4.26" fill="#463de0"/><rect x="7.58" y="0" width="4.29" height="4.26" fill="#4740e4"/><rect x="11.36" y="0" width="4.29" height="4.26" fill="#4744e8"/><rect x="15.15" y="0" width="4.29" height="4.26" fill="#4747eb"/><rect x="18.94" y="0" width="4.29" height="4.26" fill="#484aee"/><rect x="22.73" y="0" width="4.29" height="4.26" fill="#484df0"/><rect x="26.52" y="0" width="4.29" height="4.26" fill="#4850f3"/><rect x="30.3" y="0" width="4.29" height="4.26" fill="#4854f5"/><rect x="34.09" y="0" width="4.29" height="4.26" fill="#4758f8"/><rect x="37.88" y="0" width="4.29" height="4.26" fill="#475cfa"/><rect x="41.67" y="0" width="4.29" height="4.26" fill="#4661fc"/><rect x="45.45" y="0" width="4.29" height="4.26" fill="#4466fd"/><rect x="49.24" y="0" width="4.29" height="4.26" fill="#406cfe"/><rect x="53.03" y="0" width="4.29" height="4.26" fill="#3b72fe"/><rect x="56.82" y="0" width="4.29" height="4.26" fill="#3579fd"/><rect x="60.61" y="0" width="4.29" height="4.26" fill="#2f82fa"/><rect x="64.39" y="0" width="4.29" height="4.26" fill="#2d8af5"/><rect x="68.18" y="0" width="4.29" height="4.26" fill="#2b91ef"/><rect x="71.97" y="0" width="4.29" height="4.26" fill="#2698ea"/><rect x="75.76" y="0" width="4.29" height="4.26" fill="#249fe5"/><rect x="79.55" y="0" width="4.29" height="4.26" fill="#1fa6e2"/><rect x="83.33" y="0" width="4.29" height="4.26" fill="#19acdc"/><rect x="87.12" y="0" width="4.29" height="4.26" fill="#0eb3d4"/><rect x="90.91" y="0" width="4.29" height="4.26" fill="#01b8c9"/><rect x="94.7" y="0" width="4.29" height="4.26" fill="#10beba"/><rect x="98.48" y="0" width="4.29" height="4.26" fill="#2ac3a8"/><rect x="102.27" y="0" width="4.29" height="4.26" fill="#3dc991"/><rect x="106.06" y="0" width="4.29" height="4.26" fill="#60cd72"/><rect x="109.85" y="0" width="4.29" height="4.26" fill="#99c946"/><rect x="113.64" y="0" width="4.29" height="4.26" fill="#d4bf28"/><rect x="117.42" y="0" width="4.29" height="4.26" fill="#f9ba3d"/><rect x="121.21" y="0" width="3.79" height="4.26" fill="#febf3b"/><rect x="0" y="3.76" width="4.29" height="4.26" fill="#463adb"/><rect x="3.79" y="3.76" width="4.29" height="4.26" fill="#463bde"/><rect x="7.58" y="3.76" width="4.29" height="4.26" fill="#463de0"/><rect x="11.36" y="3.76" width="4.29" height="4.26" fill="#4740e4"/><rect x="15.15" y="3.76" width="4.29" height="4.26" fill="#4744e8"/><rect x="18.94" y="3.76" width="4.29" height="4.26" fill="#4747eb"/><rect x="22.73" y="3.76" width="4.29" height="4.26" fill="#484bee"/><rect x="26.52" y="3.76" width="4.29" height="4.26" fill="#484ef1"/><rect x="30.3" y="3.76" width="4.29" height="4.26" fill="#4851f4"/><rect x="34.09" y="3.76" width="4.29" height="4.26" fill="#4755f6"/><rect x="37.88" y="3.76" width="4.29" height="4.26" fill="#4759f9"/><rect x="41.67" y="3.76" width="4.29" height="4.26" fill="#465efb"/><rect x="45.45" y="3.76" width="4.29" height="4.26" fill="#4562fc"/><rect x="49.24" y="3.76" width="4.29" height="4.26" fill="#4368fe"/><rect x="53.03" y="3.76" width="4.29" height="4.26" fill="#3f6fff"/><rect x="56.82" y="3.76" width="4.29" height="4.26" fill="#3975fe"/><rect x="60.61" y="3.76" width="4.29" height="4.26" fill="#327cfc"/><rect x="64.39" y="3.76" width="4.29" height="4.26" fill="#2e84f9"/><rect x="68.18" y="3.76" width="4.29" height="4.26" fill="#2d8bf3"/><rect x="71.97" y="3.76" width="4.29" height="4.26" fill="#2a93ee"/><rect x="75.76" y="3.76" width="4.29" height="4.26" fill="#269ae9"/><rect x="79.55" y="3.76" width="4.29" height="4.26" fill="#23a0e5"/><rect x="83.33" y="3.76" width="4.29" height="4.26" fill="#1ea6e1"/><rect x="87.12" y="3.76" width="4.29" height="4.26" fill="#19addc"/><rect x="90.91" y="3.76" width="4.29" height="4.26" fill="#0db3d4"/><rect x="94.7" y="3.76" width="4.29" height="4.26" fill="#01b8c9"/><rect x="98.48" y="3.76" width="4.29" height="4.26" fill="#0fbebb"/><rect x="102.27" y="3.76" width="4.29" height="4.26" fill="#29c3aa"/><rect x="106.06" y="3.76" width="4.29" height="4.26" fill="#3ac994"/><rect x="109.85" y="3.76" width="4.29" height="4.26" fill="#5bcc77"/><rect x="113.64" y="3.76" width="4.29" height="4.26" fill="#8ccb50"/><rect x="117.42" y="3.76" width="4.29" height="4.26" fill="#c0c32d"/><rect x="121.21" y="3.76" width="3.79" height="4.26" fill="#e3bc2c"/><rect x="0" y="7.52" width="4.29" height="4.26" fill="#463adb"/><rect x="3.79" y="7.52" width="4.29" height="4.26" fill="#463bdd"/><rect x="7.58" y="7.52" width="4.29" height="4.26" fill="#463cdf"/><rect x="11.36" y="7.52" width="4.29" height="4.26" fill="#463ee1"/><rect x="15.15" y="7.52" width="4.29" height="4.26" fill="#4740e4"/><rect x="18.94" y="7.52" width="4.29" height="4.26" fill="#4744e8"/><rect x="22.73" y="7.52" width="4.29" height="4.26" fill="#4848ec"/><rect x="26.52" y="7.52" width="4.29" height="4.26" fill="#484bef"/><rect x="30.3" y="7.52" width="4.29" height="4.26" fill="#484ff1"/><rect x="34.09" y="7.52" width="4.29" height="4.26" fill="#4852f4"/><rect x="37.88" y="7.52" width="4.29" height="4.26" fill="#4756f6"/><rect x="41.67" y="7.52" width="4.29" height="4.26" fill="#475af9"/><rect x="45.45" y="7.52" width="4.29" height="4.26" fill="#465ffb"/><rect x="49.24" y="7.52" width="4.29" height="4.26" fill="#4563fd"/><rect x="53.03" y="7.52" width="4.29" height="4.26" fill="#4269fe"/><rect x="56.82" y="7.52" width="4.29" height="4.26" fill="#3d70ff"/><rect x="60.61" y="7.52" width="4.29" height="4.26" fill="#3776fe"/><rect x="64.39" y="7.52" width="4.29" height="4.26" fill="#317dfc"/><rect x="68.18" y="7.52" width="4.29" height="4.26" fill="#2e85f8"/><rect x="71.97" y="7.52" width="4.29" height="4.26" fill="#2d8cf3"/><rect x="75.76" y="7.52" width="4.29" height="4.26" fill="#2a93ee"/><rect x="79.55" y="7.52" width="4.29" height="4.26" fill="#2699e9"/><rect x="83.33" y="7.52" width="4.29" height="4.26" fill="#23a0e5"/><rect x="87.12" y="7.52" width="4.29" height="4.26" fill="#1fa6e2"/><rect x="90.91" y="7.52" width="4.29" height="4.26" fill="#1aabdd"/><rect x="94.7" y="7.52" width="4.29" height="4.26" fill="#11b1d6"/><rect x="98.48" y="7.52" width="4.29" height="4.26" fill="#04b6cc"/><rect x="102.27" y="7.52" width="4.29" height="4.26" fill="#06bcc0"/><rect x="106.06" y="7.52" width="4.29" height="4.26" fill="#1fc0b1"/><rect x="109.85" y="7.52" width="4.29" height="4.26" fill="#31c6a0"/><rect x="113.64" y="7.52" width="4.29" height="4.26" fill="#45cb89"/><rect x="117.42" y="7.52" width="4.29" height="4.26" fill="#64cd6e"/><rect x="121.21" y="7.52" width="3.79" height="4.26" fill="#8acb52"/><rect x="0" y="11.28" width="4.29" height="4.26" fill="#4639da"/><rect x="3.79" y="11.28" width="4.29" height="4.26" fill="#463adc"/><rect x="7.58" y="11.28" width="4.29" height="4.26" fill="#463cde"/><rect x="11.36" y="11.28" width="4.29" height="4.26" fill="#463de0"/><rect x="15.15" y="11.28" width="4.29" height="4.26" fill="#473fe2"/><rect x="18.94" y="11.28" width="4.29" height="4.26" fill="#4740e4"/><rect x="22.73" y="11.28" width="4.29" height="4.26" fill="#4744e8"/><rect x="26.52" y="11.28" width="4.29" height="4.26" fill="#4848ec"/><rect x="30.3" y="11.28" width="4.29" height="4.26" fill="#484bef"/><rect x="34.09" y="11.28" width="4.29" height="4.26" fill="#484ff2"/><rect x="37.88" y="11.28" width="4.29" height="4.26" fill="#4852f4"/><rect x="41.67" y="11.28" width="4.29" height="4.26" fill="#4756f7"/><rect x="45.45" y="11.28" width="4.29" height="4.26" fill="#475af9"/><rect x="49.24" y="11.28" width="4.29" height="4.26" fill="#465ffb"/><rect x="53.03" y="11.28" width="4.29" height="4.26" fill="#4564fd"/><rect x="56.82" y="11.28" width="4.29" height="4.26" fill="#4269fe"/><rect x="60.61" y="11.28" width="4.29" height="4.26" fill="#3d70ff"/><rect x="64.39" y="11.28" width="4.29" height="4.26" fill="#3777fe"/><rect x="68.18" y="11.28" width="4.29" height="4.26" fill="#317dfc"/><rect x="71.97" y="11.28" width="4.29" height="4.26" fill="#2e84f8"/><rect x="75.76" y="11.28" width="4.29" height="4.26" fill="#2d8bf3"/><rect x="79.55" y="11.28" width="4.29" height="4.26" fill="#2b92ee"/><rect x="83.33" y="11.28" width="4.29" height="4.26" fill="#2798ea"/><rect x="87.12" y="11.28" width="4.29" height="4.26" fill="#249ee6"/><rect x="90.91" y="11.28" width="4.29" height="4.26" fill="#20a4e3"/><rect x="94.7" y="11.28" width="4.29" height="4.26" fill="#1ca9df"/><rect x="98.48" y="11.28" width="4.29" height="4.26" fill="#16afda"/><rect x="102.27" y="11.28" width="4.29" height="4.26" fill="#0bb3d2"/><rect x="106.06" y="11.28" width="4.29" height="4.26" fill="#01b8c9"/><rect x="109.85" y="11.28" width="4.29" height="4.26" fill="#0abdbd"/><rect x="113.64" y="11.28" width="4.29" height="4.26" fill="#21c1b0"/><rect x="117.42" y="11.28" width="4.29" height="4.26" fill="#30c5a2"/><rect x="121.21" y="11.28" width="3.79" height="4.26" fill="#3bc992"/><rect x="0" y="15.04" width="4.29" height="4.26" fill="#4639d9"/><rect x="3.79" y="15.04" width="4.29" height="4.26" fill="#463adb"/><rect x="7.58" y="15.04" width="4.29" height="4.26" fill="#463bdd"/><rect x="11.36" y="15.04" width="4.29" height="4.26" fill="#463cdf"/><rect x="15.15" y="15.04" width="4.29" height="4.26" fill="#463ee1"/><rect x="18.94" y="15.04" width="4.29" height="4.26" fill="#473fe3"/><rect x="22.73" y="15.04" width="4.29" height="4.26" fill="#4741e5"/><rect x="26.52" y="15.04" width="4.29" height="4.26" fill="#4744e8"/><rect x="30.3" y="15.04" width="4.29" height="4.26" fill="#4747eb"/><rect x="34.09" y="15.04" width="4.29" height="4.26" fill="#484bef"/><rect x="37.88" y="15.04" width="4.29" height="4.26" fill="#484ff2"/><rect x="41.67" y="15.04" width="4.29" height="4.26" fill="#4853f4"/><rect x="45.45" y="15.04" width="4.29" height="4.26" fill="#4756f7"/><rect x="49.24" y="15.04" width="4.29" height="4.26" fill="#475af9"/><rect x="53.03" y="15.04" width="4.29" height="4.26" fill="#465ffb"/><rect x="56.82" y="15.04" width="4.29" height="4.26" fill="#4564fd"/><rect x="60.61" y="15.04" width="4.29" height="4.26" fill="#4269fe"/><rect x="64.39" y="15.04" width="4.29" height="4.26" fill="#3e6fff"/><rect x="68.18" y="15.04" width="4.29" height="4.26" fill="#3777fe"/><rect x="71.97" y="15.04" width="4.29" height="4.26" fill="#327dfc"/><rect x="75.76" y="15.04" width="4.29" height="4.26" fill="#2e83f9"/><rect x="79.55" y="15.04" width="4.29" height="4.26" fill="#2d8af4"/><rect x="83.33" y="15.04" width="4.29" height="4.26" fill="#2b90f0"/><rect x="87.12" y="15.04" width="4.29" height="4.26" fill="#2896eb"/><rect x="90.91" y="15.04" width="4.29" height="4.26" fill="#259be7"/><rect x="94.7" y="15.04" width="4.29" height="4.26" fill="#23a1e4"/><rect x="98.48" y="15.04" width="4.29" height="4.26" fill="#1fa6e2"/><rect x="102.27" y="15.04" width="4.29" height="4.26" fill="#1babde"/><rect x="106.06" y="15.04" width="4.29" height="4.26" fill="#15afd8"/><rect x="109.85" y="15.04" width="4.29" height="4.26" fill="#0bb3d2"/><rect x="113.64" y="15.04" width="4.29" height="4.26" fill="#01b8ca"/><rect x="117.42" y="15.04" width="4.29" height="4.26" fill="#05bbc1"/><rect x="121.21" y="15.04" width="3.79" height="4.26" fill="#11beb9"/><rect x="0" y="18.8" width="4.29" height="4.26" fill="#4539d9"/><rect x="3.79" y="18.8" width="4.29" height="4.26" fill="#463ada"/><rect x="7.58" y="18.8" width="4.29" height="4.26" fill="#463bdc"/><rect x="11.36" y="18.8" width="4.29" height="4.26" fill="#463cde"/><rect x="15.15" y="18.8" width="4.29" height="4.26" fill="#463de0"/><rect x="18.94" y="18.8" width="4.29" height="4.26" fill="#473ee2"/><rect x="22.73" y="18.8" width="4.29" height="4.26" fill="#4740e4"/><rect x="26.52" y="18.8" width="4.29" height="4.26" fill="#4742e6"/><rect x="30.3" y="18.8" width="4.29" height="4.26" fill="#4744e8"/><rect x="34.09" y="18.8" width="4.29" height="4.26" fill="#4747eb"/><rect x="37.88" y="18.8" width="4.29" height="4.26" fill="#484bef"/><rect x="41.67" y="18.8" width="4.29" height="4.26" fill="#484ff2"/><rect x="45.45" y="18.8" width="4.29" height="4.26" fill="#4853f4"/><rect x="49.24" y="18.8" width="4.29" height="4.26" fill="#4756f7"/><rect x="53.03" y="18.8" width="4.29" height="4.26" fill="#475af9"/><rect x="56.82" y="18.8" width="4.29" height="4.26" fill="#465efb"/><rect x="60.61" y="18.8" width="4.29" height="4.26" fill="#4563fd"/><rect x="64.39" y="18.8" width="4.29" height="4.26" fill="#4368fe"/><rect x="68.18" y="18.8" width="4.29" height="4.26" fill="#3f6eff"/><rect x="71.97" y="18.8" width="4.29" height="4.26" fill="#3875fe"/><rect x="75.76" y="18.8" width="4.29" height="4.26" fill="#327cfc"/><rect x="79.55" y="18.8" width="4.29" height="4.26" fill="#2f82fa"/><rect x="83.33" y="18.8" width="4.29" height="4.26" fill="#2d88f6"/><rect x="87.12" y="18.8" width="4.29" height="4.26" fill="#2c8ef2"/><rect x="90.91" y="18.8" width="4.29" height="4.26" fill="#2a93ed"/><rect x="94.7" y="18.8" width="4.29" height="4.26" fill="#2698ea"/><rect x="98.48" y="18.8" width="4.29" height="4.26" fill="#249de7"/><rect x="102.27" y="18.8" width="4.29" height="4.26" fill="#22a2e4"/><rect x="106.06" y="18.8" width="4.29" height="4.26" fill="#1ea7e1"/><rect x="109.85" y="18.8" width="4.29" height="4.26" fill="#1babde"/><rect x="113.64" y="18.8" width="4.29" height="4.26" fill="#16aeda"/><rect x="117.42" y="18.8" width="4.29" height="4.26" fill="#11b1d6"/><rect x="121.21" y="18.8" width="3.79" height="4.26" fill="#08b4d1"/><rect x="0" y="22.56" width="4.29" height="4.26" fill="#4538d8"/><rect x="3.79" y="22.56" width="4.29" height="4.26" fill="#4639da"/><rect x="7.58" y="22.56" width="4.29" height="4.26" fill="#463adb"/><rect x="11.36" y="22.56" width="4.29" height="4.26" fill="#463bdd"/><rect x="15.15" y="22.56" width="4.29" height="4.26" fill="#463cdf"/><rect x="18.94" y="22.56" width="4.29" height="4.26" fill="#463ee0"/><rect x="22.73" y="22.56" width="4.29" height="4.26" fill="#473fe2"/><rect x="26.52" y="22.56" width="4.29" height="4.26" fill="#4741e4"/><rect x="30.3" y="22.56" width="4.29" height="4.26" fill="#4742e6"/><rect x="34.09" y="22.56" width="4.29" height="4.26" fill="#4744e9"/><rect x="37.88" y="22.56" width="4.29" height="4.26" fill="#4747eb"/><rect x="41.67" y="22.56" width="4.29" height="4.26" fill="#484bee"/><rect x="45.45" y="22.56" width="4.29" height="4.26" fill="#484ff1"/><rect x="49.24" y="22.56" width="4.29" height="4.26" fill="#4852f4"/><rect x="53.03" y="22.56" width="4.29" height="4.26" fill="#4756f7"/><rect x="56.82" y="22.56" width="4.29" height="4.26" fill="#475af9"/><rect x="60.61" y="22.56" width="4.29" height="4.26" fill="#465efb"/><rect x="64.39" y="22.56" width="4.29" height="4.26" fill="#4563fc"/><rect x="68.18" y="22.56" width="4.29" height="4.26" fill="#4367fd"/><rect x="71.97" y="22.56" width="4.29" height="4.26" fill="#406dfe"/><rect x="75.76" y="22.56" width="4.29" height="4.26" fill="#3a73fe"/><rect x="79.55" y="22.56" width="4.29" height="4.26" fill="#347afd"/><rect x="83.33" y="22.56" width="4.29" height="4.26" fill="#3080fb"/><rect x="87.12" y="22.56" width="4.29" height="4.26" fill="#2e85f8"/><rect x="90.91" y="22.56" width="4.29" height="4.26" fill="#2d8bf4"/><rect x="94.7" y="22.56" width="4.29" height="4.26" fill="#2c90f0"/><rect x="98.48" y="22.56" width="4.29" height="4.26" fill="#2895ec"/><rect x="102.27" y="22.56" width="4.29" height="4.26" fill="#2699e9"/><rect x="106.06" y="22.56" width="4.29" height="4.26" fill="#249de6"/><rect x="109.85" y="22.56" width="4.29" height="4.26" fill="#22a1e4"/><rect x="113.64" y="22.56" width="4.29" height="4.26" fill="#1fa5e2"/><rect x="117.42" y="22.56" width="4.29" height="4.26" fill="#1da9e0"/><rect x="121.21" y="22.56" width="3.79" height="4.26" fill="#1aabdd"/><rect x="0" y="26.32" width="4.29" height="4.26" fill="#4538d7"/><rect x="3.79" y="26.32" width="4.29" height="4.26" fill="#4539d9"/><rect x="7.58" y="26.32" width="4.29" height="4.26" fill="#463ada"/><rect x="11.36" y="26.32" width="4.29" height="4.26" fill="#463adc"/><rect x="15.15" y="26.32" width="4.29" height="4.26" fill="#463bde"/><rect x="18.94" y="26.32" width="4.29" height="4.26" fill="#463ddf"/><rect x="22.73" y="26.32" width="4.29" height="4.26" fill="#463ee1"/><rect x="26.52" y="26.32" width="4.29" height="4.26" fill="#473fe3"/><rect x="30.3" y="26.32" width="4.29" height="4.26" fill="#4741e5"/><rect x="34.09" y="26.32" width="4.29" height="4.26" fill="#4743e7"/><rect x="37.88" y="26.32" width="4.29" height="4.26" fill="#4745e9"/><rect x="41.67" y="26.32" width="4.29" height="4.26" fill="#4747eb"/><rect x="45.45" y="26.32" width="4.29" height="4.26" fill="#484aee"/><rect x="49.24" y="26.32" width="4.29" height="4.26" fill="#484ef1"/><rect x="53.03" y="26.32" width="4.29" height="4.26" fill="#4852f4"/><rect x="56.82" y="26.32" width="4.29" height="4.26" fill="#4756f7"/><rect x="60.61" y="26.32" width="4.29" height="4.26" fill="#475af9"/><rect x="64.39" y="26.32" width="4.29" height="4.26" fill="#465dfb"/><rect x="68.18" y="26.32" width="4.29" height="4.26" fill="#4562fc"/><rect x="71.97" y="26.32" width="4.29" height="4.26" fill="#4367fd"/><rect x="75.76" y="26.32" width="4.29" height="4.26" fill="#416bfe"/><rect x="79.55" y="26.32" width="4.29" height="4.26" fill="#3d71ff"/><rect x="83.33" y="26.32" width="4.29" height="4.26" fill="#3677fe"/><rect x="87.12" y="26.32" width="4.29" height="4.26" fill="#317efb"/><rect x="90.91" y="26.32" width="4.29" height="4.26" fill="#2f83f9"/><rect x="94.7" y="26.32" width="4.29" height="4.26" fill="#2d87f7"/><rect x="98.48" y="26.32" width="4.29" height="4.26" fill="#2d8cf3"/><rect x="102.27" y="26.32" width="4.29" height="4.26" fill="#2b91ef"/><rect x="106.06" y="26.32" width="4.29" height="4.26" fill="#2895ec"/><rect x="109.85" y="26.32" width="4.29" height="4.26" fill="#2699e9"/><rect x="113.64" y="26.32" width="4.29" height="4.26" fill="#259ce7"/><rect x="117.42" y="26.32" width="4.29" height="4.26" fill="#249fe6"/><rect x="121.21" y="26.32" width="3.79" height="4.26" fill="#22a2e4"/><rect x="0" y="30.08" width="4.29" height="4.26" fill="#4538d7"/><rect x="3.79" y="30.08" width="4.29" height="4.26" fill="#4538d8"/><rect x="7.58" y="30.08" width="4.29" height="4.26" fill="#4639d9"/><rect x="11.36" y="30.08" width="4.29" height="4.26" fill="#463adb"/><rect x="15.15" y="30.08" width="4.29" height="4.26" fill="#463bdd"/><rect x="18.94" y="30.08" width="4.29" height="4.26" fill="#463cde"/><rect x="22.73" y="30.08" width="4.29" height="4.26" fill="#463de0"/><rect x="26.52" y="30.08" width="4.29" height="4.26" fill="#473ee2"/><rect x="30.3" y="30.08" width="4.29" height="4.26" fill="#4740e4"/><rect x="34.09" y="30.08" width="4.29" height="4.26" fill="#4742e6"/><rect x="37.88" y="30.08" width="4.29" height="4.26" fill="#4743e7"/><rect x="41.67" y="30.08" width="4.29" height="4.26" fill="#4745e9"/><rect x="45.45" y="30.08" width="4.29" height="4.26" fill="#4848ec"/><rect x="49.24" y="30.08" width="4.29" height="4.26" fill="#484aee"/><rect x="53.03" y="30.08" width="4.29" height="4.26" fill="#484ef1"/><rect x="56.82" y="30.08" width="4.29" height="4.26" fill="#4852f4"/><rect x="60.61" y="30.08" width="4.29" height="4.26" fill="#4756f6"/><rect x="64.39" y="30.08" width="4.29" height="4.26" fill="#4759f9"/><rect x="68.18" y="30.08" width="4.29" height="4.26" fill="#465dfa"/><rect x="71.97" y="30.08" width="4.29" height="4.26" fill="#4561fc"/><rect x="75.76" y="30.08" width="4.29" height="4.26" fill="#4465fd"/><rect x="79.55" y="30.08" width="4.29" height="4.26" fill="#426afe"/><rect x="83.33" y="30.08" width="4.29" height="4.26" fill="#3e6fff"/><rect x="87.12" y="30.08" width="4.29" height="4.26" fill="#3974fe"/><rect x="90.91" y="30.08" width="4.29" height="4.26" fill="#337bfd"/><rect x="94.7" y="30.08" width="4.29" height="4.26" fill="#3080fa"/><rect x="98.48" y="30.08" width="4.29" height="4.26" fill="#2e84f8"/><rect x="102.27" y="30.08" width="4.29" height="4.26" fill="#2d88f6"/><rect x="106.06" y="30.08" width="4.29" height="4.26" fill="#2d8cf3"/><rect x="109.85" y="30.08" width="4.29" height="4.26" fill="#2b90ef"/><rect x="113.64" y="30.08" width="4.29" height="4.26" fill="#2994ed"/><rect x="117.42" y="30.08" width="4.29" height="4.26" fill="#2797eb"/><rect x="121.21" y="30.08" width="3.79" height="4.26" fill="#2699e9"/><rect x="0" y="33.84" width="4.29" height="4.26" fill="#4537d6"/><rect x="3.79" y="33.84" width="4.29" height="4.26" fill="#4538d7"/><rect x="7.58" y="33.84" width="4.29" height="4.26" fill="#4539d9"/><rect x="11.36" y="33.84" width="4.29" height="4.26" fill="#4639da"/><rect x="15.15" y="33.84" width="4.29" height="4.26" fill="#463adb"/><rect x="18.94" y="33.84" width="4.29" height="4.26" fill="#463bdd"/><rect x="22.73" y="33.84" width="4.29" height="4.26" fill="#463cdf"/><rect x="26.52" y="33.84" width="4.29" height="4.26" fill="#463ee0"/><rect x="30.3" y="33.84" width="4.29" height="4.26" fill="#473fe2"/><rect x="34.09" y="33.84" width="4.29" height="4.26" fill="#4740e4"/><rect x="37.88" y="33.84" width="4.29" height="4.26" fill="#4742e6"/><rect x="41.67" y="33.84" width="4.29" height="4.26" fill="#4744e8"/><rect x="45.45" y="33.84" width="4.29" height="4.26" fill="#4746ea"/><rect x="49.24" y="33.84" width="4.29" height="4.26" fill="#4848ec"/><rect x="53.03" y="33.84" width="4.29" height="4.26" fill="#484aee"/><rect x="56.82" y="33.84" width="4.29" height="4.26" fill="#484df0"/><rect x="60.61" y="33.84" width="4.29" height="4.26" fill="#4851f3"/><rect x="64.39" y="33.84" width="4.29" height="4.26" fill="#4755f6"/><rect x="68.18" y="33.84" width="4.29" height="4.26" fill="#4759f8"/><rect x="71.97" y="33.84" width="4.29" height="4.26" fill="#465dfa"/><rect x="75.76" y="33.84" width="4.29" height="4.26" fill="#4661fc"/><rect x="79.55" y="33.84" width="4.29" height="4.26" fill="#4464fd"/><rect x="83.33" y="33.84" width="4.29" height="4.26" fill="#4269fe"/><rect x="87.12" y="33.84" width="4.29" height="4.26" fill="#3f6dfe"/><rect x="90.91" y="33.84" width="4.29" height="4.26" fill="#3b72ff"/><rect x="94.7" y="33.84" width="4.29" height="4.26" fill="#3677fe"/><rect x="98.48" y="33.84" width="4.29" height="4.26" fill="#317dfc"/><rect x="102.27" y="33.84" width="4.29" height="4.26" fill="#2f81fa"/><rect x="106.06" y="33.84" width="4.29" height="4.26" fill="#2e85f8"/><rect x="109.85" y="33.84" width="4.29" height="4.26" fill="#2d88f6"/><rect x="113.64" y="33.84" width="4.29" height="4.26" fill="#2d8bf4"/><rect x="117.42" y="33.84" width="4.29" height="4.26" fill="#2c8ff1"/><rect x="121.21" y="33.84" width="3.79" height="4.26" fill="#2b91ef"/><rect x="0" y="37.6" width="4.29" height="4.26" fill="#4537d6"/><rect x="3.79" y="37.6" width="4.29" height="4.26" fill="#4538d7"/><rect x="7.58" y="37.6" width="4.29" height="4.26" fill="#4538d8"/><rect x="11.36" y="37.6" width="4.29" height="4.26" fill="#4639d9"/><rect x="15.15" y="37.6" width="4.29" height="4.26" fill="#463ada"/><rect x="18.94" y="37.6" width="4.29" height="4.26" fill="#463adc"/><rect x="22.73" y="37.6" width="4.29" height="4.26" fill="#463bde"/><rect x="26.52" y="37.6" width="4.29" height="4.26" fill="#463ddf"/><rect x="30.3" y="37.6" width="4.29" height="4.26" fill="#463ee1"/><rect x="34.09" y="37.6" width="4.29" height="4.26" fill="#473fe3"/><rect x="37.88" y="37.6" width="4.29" height="4.26" fill="#4741e5"/><rect x="41.67" y="37.6" width="4.29" height="4.26" fill="#4742e6"/><rect x="45.45" y="37.6" width="4.29" height="4.26" fill="#4744e8"/><rect x="49.24" y="37.6" width="4.29" height="4.26" fill="#4746ea"/><rect x="53.03" y="37.6" width="4.29" height="4.26" fill="#4848ec"/><rect x="56.82" y="37.6" width="4.29" height="4.26" fill="#484bee"/><rect x="60.61" y="37.6" width="4.29" height="4.26" fill="#484df1"/><rect x="64.39" y="37.6" width="4.29" height="4.26" fill="#4851f3"/><rect x="68.18" y="37.6" width="4.29" height="4.26" fill="#4755f6"/><rect x="71.97" y="37.6" width="4.29" height="4.26" fill="#4759f8"/><rect x="75.76" y="37.6" width="4.29" height="4.26" fill="#475cfa"/><rect x="79.55" y="37.6" width="4.29" height="4.26" fill="#4660fc"/><rect x="83.33" y="37.6" width="4.29" height="4.26" fill="#4564fd"/><rect x="87.12" y="37.6" width="4.29" height="4.26" fill="#4368fd"/><rect x="90.91" y="37.6" width="4.29" height="4.26" fill="#406cfe"/><rect x="94.7" y="37.6" width="4.29" height="4.26" fill="#3d70ff"/><rect x="98.48" y="37.6" width="4.29" height="4.26" fill="#3975fe"/><rect x="102.27" y="37.6" width="4.29" height="4.26" fill="#3479fd"/><rect x="106.06" y="37.6" width="4.29" height="4.26" fill="#317efb"/><rect x="109.85" y="37.6" width="4.29" height="4.26" fill="#2f82fa"/><rect x="113.64" y="37.6" width="4.29" height="4.26" fill="#2e85f8"/><rect x="117.42" y="37.6" width="4.29" height="4.26" fill="#2e87f7"/><rect x="121.21" y="37.6" width="3.79" height="4.26" fill="#2d8af5"/><rect x="0" y="41.36" width="4.29" height="4.26" fill="#4537d5"/><rect x="3.79" y="41.36" width="4.29" height="4.26" fill="#4537d6"/><rect x="7.58" y="41.36" width="4.29" height="4.26" fill="#4538d7"/><rect x="11.36" y="41.36" width="4.29" height="4.26" fill="#4539d8"/><rect x="15.15" y="41.36" width="4.29" height="4.26" fill="#4639da"/><rect x="18.94" y="41.36" width="4.29" height="4.26" fill="#463adb"/><rect x="22.73" y="41.36" width="4.29" height="4.26" fill="#463bdc"/><rect x="26.52" y="41.36" width="4.29" height="4.26" fill="#463cde"/><rect x="30.3" y="41.36" width="4.29" height="4.26" fill="#463de0"/><rect x="34.09" y="41.36" width="4.29" height="4.26" fill="#473ee1"/><rect x="37.88" y="41.36" width="4.29" height="4.26" fill="#4740e3"/><rect x="41.67" y="41.36" width="4.29" height="4.26" fill="#4741e5"/><rect x="45.45" y="41.36" width="4.29" height="4.26" fill="#4743e7"/><rect x="49.24" y="41.36" width="4.29" height="4.26" fill="#4745e9"/><rect x="53.03" y="41.36" width="4.29" height="4.26" fill="#4747eb"/><rect x="56.82" y="41.36" width="4.29" height="4.26" fill="#4849ed"/><rect x="60.61" y="41.36" width="4.29" height="4.26" fill="#484bef"/><rect x="64.39" y="41.36" width="4.29" height="4.26" fill="#484ef1"/><rect x="68.18" y="41.36" width="4.29" height="4.26" fill="#4851f3"/><rect x="71.97" y="41.36" width="4.29" height="4.26" fill="#4854f5"/><rect x="75.76" y="41.36" width="4.29" height="4.26" fill="#4758f8"/><rect x="79.55" y="41.36" width="4.29" height="4.26" fill="#475cfa"/><rect x="83.33" y="41.36" width="4.29" height="4.26" fill="#4660fb"/><rect x="87.12" y="41.36" width="4.29" height="4.26" fill="#4563fd"/><rect x="90.91" y="41.36" width="4.29" height="4.26" fill="#4367fd"/><rect x="94.7" y="41.36" width="4.29" height="4.26" fill="#416bfe"/><rect x="98.48" y="41.36" width="4.29" height="4.26" fill="#3e6fff"/><rect x="102.27" y="41.36" width="4.29" height="4.26" fill="#3b73fe"/><rect x="106.06" y="41.36" width="4.29" height="4.26" fill="#3777fe"/><rect x="109.85" y="41.36" width="4.29" height="4.26" fill="#337afd"/><rect x="113.64" y="41.36" width="4.29" height="4.26" fill="#317efb"/><rect x="117.42" y="41.36" width="4.29" height="4.26" fill="#2f81fa"/><rect x="121.21" y="41.36" width="3.79" height="4.26" fill="#2e83f9"/><rect x="0" y="45.12" width="4.29" height="4.26" fill="#4536d4"/><rect x="3.79" y="45.12" width="4.29" height="4.26" fill="#4537d5"/><rect x="7.58" y="45.12" width="4.29" height="4.26" fill="#4537d7"/><rect x="11.36" y="45.12" width="4.29" height="4.26" fill="#4538d8"/><rect x="15.15" y="45.12" width="4.29" height="4.26" fill="#4539d9"/><rect x="18.94" y="45.12" width="4.29" height="4.26" fill="#463ada"/><rect x="22.73" y="45.12" width="4.29" height="4.26" fill="#463adc"/><rect x="26.52" y="45.12" width="4.29" height="4.26" fill="#463bdd"/><rect x="30.3" y="45.12" width="4.29" height="4.26" fill="#463cde"/><rect x="34.09" y="45.12" width="4.29" height="4.26" fill="#463de0"/><rect x="37.88" y="45.12" width="4.29" height="4.26" fill="#473ee2"/><rect x="41.67" y="45.12" width="4.29" height="4.26" fill="#4740e3"/><rect x="45.45" y="45.12" width="4.29" height="4.26" fill="#4741e5"/><rect x="49.24" y="45.12" width="4.29" height="4.26" fill="#4743e7"/><rect x="53.03" y="45.12" width="4.29" height="4.26" fill="#4745e9"/><rect x="56.82" y="45.12" width="4.29" height="4.26" fill="#4747eb"/><rect x="60.61" y="45.12" width="4.29" height="4.26" fill="#4849ed"/><rect x="64.39" y="45.12" width="4.29" height="4.26" fill="#484bef"/><rect x="68.18" y="45.12" width="4.29" height="4.26" fill="#484ef1"/><rect x="71.97" y="45.12" width="4.29" height="4.26" fill="#4851f3"/><rect x="75.76" y="45.12" width="4.29" height="4.26" fill="#4854f5"/><rect x="79.55" y="45.12" width="4.29" height="4.26" fill="#4758f8"/><rect x="83.33" y="45.12" width="4.29" height="4.26" fill="#475bfa"/><rect x="87.12" y="45.12" width="4.29" height="4.26" fill="#465ffb"/><rect x="90.91" y="45.12" width="4.29" height="4.26" fill="#4563fc"/><rect x="94.7" y="45.12" width="4.29" height="4.26" fill="#4466fd"/><rect x="98.48" y="45.12" width="4.29" height="4.26" fill="#426afe"/><rect x="102.27" y="45.12" width="4.29" height="4.26" fill="#406dfe"/><rect x="106.06" y="45.12" width="4.29" height="4.26" fill="#3c71ff"/><rect x="109.85" y="45.12" width="4.29" height="4.26" fill="#3975fe"/><rect x="113.64" y="45.12" width="4.29" height="4.26" fill="#3678fd"/><rect x="117.42" y="45.12" width="4.29" height="4.26" fill="#337bfd"/><rect x="121.21" y="45.12" width="3.79" height="4.26" fill="#317dfc"/><rect x="0" y="48.88" width="4.29" height="4.26" fill="#4536d3"/><rect x="3.79" y="48.88" width="4.29" height="4.26" fill="#4536d5"/><rect x="7.58" y="48.88" width="4.29" height="4.26" fill="#4537d6"/><rect x="11.36" y="48.88" width="4.29" height="4.26" fill="#4538d7"/><rect x="15.15" y="48.88" width="4.29" height="4.26" fill="#4538d8"/><rect x="18.94" y="48.88" width="4.29" height="4.26" fill="#4639d9"/><rect x="22.73" y="48.88" width="4.29" height="4.26" fill="#463adb"/><rect x="26.52" y="48.88" width="4.29" height="4.26" fill="#463bdc"/><rect x="30.3" y="48.88" width="4.29" height="4.26" fill="#463bde"/><rect x="34.09" y="48.88" width="4.29" height="4.26" fill="#463cdf"/><rect x="37.88" y="48.88" width="4.29" height="4.26" fill="#463de0"/><rect x="41.67" y="48.88" width="4.29" height="4.26" fill="#473fe2"/><rect x="45.45" y="48.88" width="4.29" height="4.26" fill="#4740e4"/><rect x="49.24" y="48.88" width="4.29" height="4.26" fill="#4742e6"/><rect x="53.03" y="48.88" width="4.29" height="4.26" fill="#4743e8"/><rect x="56.82" y="48.88" width="4.29" height="4.26" fill="#4745e9"/><rect x="60.61" y="48.88" width="4.29" height="4.26" fill="#4747eb"/><rect x="64.39" y="48.88" width="4.29" height="4.26" fill="#4849ed"/><rect x="68.18" y="48.88" width="4.29" height="4.26" fill="#484cef"/><rect x="71.97" y="48.88" width="4.29" height="4.26" fill="#484ef1"/><rect x="75.76" y="48.88" width="4.29" height="4.26" fill="#4851f3"/><rect x="79.55" y="48.88" width="4.29" height="4.26" fill="#4854f5"/><rect x="83.33" y="48.88" width="4.29" height="4.26" fill="#4757f7"/><rect x="87.12" y="48.88" width="4.29" height="4.26" fill="#475bf9"/><rect x="90.91" y="48.88" width="4.29" height="4.26" fill="#465ffb"/><rect x="94.7" y="48.88" width="4.29" height="4.26" fill="#4562fc"/><rect x="98.48" y="48.88" width="4.29" height="4.26" fill="#4466fd"/><rect x="102.27" y="48.88" width="4.29" height="4.26" fill="#4269fe"/><rect x="106.06" y="48.88" width="4.29" height="4.26" fill="#406cfe"/><rect x="109.85" y="48.88" width="4.29" height="4.26" fill="#3e6fff"/><rect x="113.64" y="48.88" width="4.29" height="4.26" fill="#3b73fe"/><rect x="117.42" y="48.88" width="4.29" height="4.26" fill="#3876fe"/><rect x="121.21" y="48.88" width="3.79" height="4.26" fill="#3578fd"/><rect x="0" y="52.64" width="4.29" height="4.26" fill="#4536d3"/><rect x="3.79" y="52.64" width="4.29" height="4.26" fill="#4536d4"/><rect x="7.58" y="52.64" width="4.29" height="4.26" fill="#4537d5"/><rect x="11.36" y="52.64" width="4.29" height="4.26" fill="#4537d6"/><rect x="15.15" y="52.64" width="4.29" height="4.26" fill="#4538d7"/><rect x="18.94" y="52.64" width="4.29" height="4.26" fill="#4539d9"/><rect x="22.73" y="52.64" width="4.29" height="4.26" fill="#4639da"/><rect x="26.52" y="52.64" width="4.29" height="4.26" fill="#463adb"/><rect x="30.3" y="52.64" width="4.29" height="4.26" fill="#463bdd"/><rect x="34.09" y="52.64" width="4.29" height="4.26" fill="#463cde"/><rect x="37.88" y="52.64" width="4.29" height="4.26" fill="#463ddf"/><rect x="41.67" y="52.64" width="4.29" height="4.26" fill="#463ee1"/><rect x="45.45" y="52.64" width="4.29" height="4.26" fill="#473fe2"/><rect x="49.24" y="52.64" width="4.29" height="4.26" fill="#4740e4"/><rect x="53.03" y="52.64" width="4.29" height="4.26" fill="#4742e6"/><rect x="56.82" y="52.64" width="4.29" height="4.26" fill="#4744e8"/><rect x="60.61" y="52.64" width="4.29" height="4.26" fill="#4746ea"/><rect x="64.39" y="52.64" width="4.29" height="4.26" fill="#4848ec"/><rect x="68.18" y="52.64" width="4.29" height="4.26" fill="#484aee"/><rect x="71.97" y="52.64" width="4.29" height="4.26" fill="#484cef"/><rect x="75.76" y="52.64" width="4.29" height="4.26" fill="#484ef1"/><rect x="79.55" y="52.64" width="4.29" height="4.26" fill="#4851f3"/><rect x="83.33" y="52.64" width="4.29" height="4.26" fill="#4854f5"/><rect x="87.12" y="52.64" width="4.29" height="4.26" fill="#4757f7"/><rect x="90.91" y="52.64" width="4.29" height="4.26" fill="#475bf9"/><rect x="94.7" y="52.64" width="4.29" height="4.26" fill="#465efb"/><rect x="98.48" y="52.64" width="4.29" height="4.26" fill="#4562fc"/><rect x="102.27" y="52.64" width="4.29" height="4.26" fill="#4465fd"/><rect x="106.06" y="52.64" width="4.29" height="4.26" fill="#4368fe"/><rect x="109.85" y="52.64" width="4.29" height="4.26" fill="#416cfe"/><rect x="113.64" y="52.64" width="4.29" height="4.26" fill="#3f6eff"/><rect x="117.42" y="52.64" width="4.29" height="4.26" fill="#3c71ff"/><rect x="121.21" y="52.64" width="3.79" height="4.26" fill="#3a74fe"/><rect x="0" y="56.4" width="4.29" height="4.26" fill="#4536d2"/><rect x="3.79" y="56.4" width="4.29" height="4.26" fill="#4536d3"/><rect x="7.58" y="56.4" width="4.29" height="4.26" fill="#4536d4"/><rect x="11.36" y="56.4" width="4.29" height="4.26" fill="#4537d6"/><rect x="15.15" y="56.4" width="4.29" height="4.26" fill="#4538d7"/><rect x="18.94" y="56.4" width="4.29" height="4.26" fill="#4538d8"/><rect x="22.73" y="56.4" width="4.29" height="4.26" fill="#4639d9"/><rect x="26.52" y="56.4" width="4.29" height="4.26" fill="#463ada"/><rect x="30.3" y="56.4" width="4.29" height="4.26" fill="#463adc"/><rect x="34.09" y="56.4" width="4.29" height="4.26" fill="#463bdd"/><rect x="37.88" y="56.4" width="4.29" height="4.26" fill="#463cdf"/><rect x="41.67" y="56.4" width="4.29" height="4.26" fill="#463de0"/><rect x="45.45" y="56.4" width="4.29" height="4.26" fill="#473ee1"/><rect x="49.24" y="56.4" width="4.29" height="4.26" fill="#473fe3"/><rect x="53.03" y="56.4" width="4.29" height="4.26" fill="#4741e4"/><rect x="56.82" y="56.4" width="4.29" height="4.26" fill="#4742e6"/><rect x="60.61" y="56.4" width="4.29" height="4.26" fill="#4744e8"/><rect x="64.39" y="56.4" width="4.29" height="4.26" fill="#4746ea"/><rect x="68.18" y="56.4" width="4.29" height="4.26" fill="#4848ec"/><rect x="71.97" y="56.4" width="4.29" height="4.26" fill="#484aee"/><rect x="75.76" y="56.4" width="4.29" height="4.26" fill="#484cf0"/><rect x="79.55" y="56.4" width="4.29" height="4.26" fill="#484ff1"/><rect x="83.33" y="56.4" width="4.29" height="4.26" fill="#4851f3"/><rect x="87.12" y="56.4" width="4.29" height="4.26" fill="#4854f5"/><rect x="90.91" y="56.4" width="4.29" height="4.26" fill="#4757f7"/><rect x="94.7" y="56.4" width="4.29" height="4.26" fill="#475af9"/><rect x="98.48" y="56.4" width="4.29" height="4.26" fill="#465efb"/><rect x="102.27" y="56.4" width="4.29" height="4.26" fill="#4561fc"/><rect x="106.06" y="56.4" width="4.29" height="4.26" fill="#4465fd"/><rect x="109.85" y="56.4" width="4.29" height="4.26" fill="#4368fe"/><rect x="113.64" y="56.4" width="4.29" height="4.26" fill="#416bfe"/><rect x="117.42" y="56.4" width="4.29" height="4.26" fill="#3f6efe"/><rect x="121.21" y="56.4" width="3.79" height="4.26" fill="#3d70ff"/><rect x="0" y="60.16" width="4.29" height="4.26" fill="#4535d2"/><rect x="3.79" y="60.16" width="4.29" height="4.26" fill="#4536d3"/><rect x="7.58" y="60.16" width="4.29" height="4.26" fill="#4536d4"/><rect x="11.36" y="60.16" width="4.29" height="4.26" fill="#4537d5"/><rect x="15.15" y="60.16" width="4.29" height="4.26" fill="#4537d6"/><rect x="18.94" y="60.16" width="4.29" height="4.26" fill="#4538d7"/><rect x="22.73" y="60.16" width="4.29" height="4.26" fill="#4539d8"/><rect x="26.52" y="60.16" width="4.29" height="4.26" fill="#4639da"/><rect x="30.3" y="60.16" width="4.29" height="4.26" fill="#463adb"/><rect x="34.09" y="60.16" width="4.29" height="4.26" fill="#463bdc"/><rect x="37.88" y="60.16" width="4.29" height="4.26" fill="#463cde"/><rect x="41.67" y="60.16" width="4.29" height="4.26" fill="#463cdf"/><rect x="45.45" y="60.16" width="4.29" height="4.26" fill="#463de0"/><rect x="49.24" y="60.16" width="4.29" height="4.26" fill="#473fe2"/><rect x="53.03" y="60.16" width="4.29" height="4.26" fill="#4740e3"/><rect x="56.82" y="60.16" width="4.29" height="4.26" fill="#4741e5"/><rect x="60.61" y="60.16" width="4.29" height="4.26" fill="#4742e6"/><rect x="64.39" y="60.16" width="4.29" height="4.26" fill="#4744e8"/><rect x="68.18" y="60.16" width="4.29" height="4.26" fill="#4746ea"/><rect x="71.97" y="60.16" width="4.29" height="4.26" fill="#4848ec"/><rect x="75.76" y="60.16" width="4.29" height="4.26" fill="#484aee"/><rect x="79.55" y="60.16" width="4.29" height="4.26" fill="#484df0"/><rect x="83.33" y="60.16" width="4.29" height="4.26" fill="#484ff2"/><rect x="87.12" y="60.16" width="4.29" height="4.26" fill="#4851f3"/><rect x="90.91" y="60.16" width="4.29" height="4.26" fill="#4854f5"/><rect x="94.7" y="60.16" width="4.29" height="4.26" fill="#4757f7"/><rect x="98.48" y="60.16" width="4.29" height="4.26" fill="#475af9"/><rect x="102.27" y="60.16" width="4.29" height="4.26" fill="#465efb"/><rect x="106.06" y="60.16" width="4.29" height="4.26" fill="#4561fc"/><rect x="109.85" y="60.16" width="4.29" height="4.26" fill="#4464fd"/><rect x="113.64" y="60.16" width="4.29" height="4.26" fill="#4368fd"/><rect x="117.42" y="60.16" width="4.29" height="4.26" fill="#416afe"/><rect x="121.21" y="60.16" width="3.79" height="4.26" fill="#406dfe"/><rect x="0" y="63.92" width="4.29" height="4.26" fill="#4435d2"/><rect x="3.79" y="63.92" width="4.29" height="4.26" fill="#4536d3"/><rect x="7.58" y="63.92" width="4.29" height="4.26" fill="#4536d4"/><rect x="11.36" y="63.92" width="4.29" height="4.26" fill="#4537d5"/><rect x="15.15" y="63.92" width="4.29" height="4.26" fill="#4537d6"/><rect x="18.94" y="63.92" width="4.29" height="4.26" fill="#4538d7"/><rect x="22.73" y="63.92" width="4.29" height="4.26" fill="#4538d8"/><rect x="26.52" y="63.92" width="4.29" height="4.26" fill="#4539d9"/><rect x="30.3" y="63.92" width="4.29" height="4.26" fill="#463ada"/><rect x="34.09" y="63.92" width="4.29" height="4.26" fill="#463adb"/><rect x="37.88" y="63.92" width="4.29" height="4.26" fill="#463bdd"/><rect x="41.67" y="63.92" width="4.29" height="4.26" fill="#463cde"/><rect x="45.45" y="63.92" width="4.29" height="4.26" fill="#463de0"/><rect x="49.24" y="63.92" width="4.29" height="4.26" fill="#463ee1"/><rect x="53.03" y="63.92" width="4.29" height="4.26" fill="#473fe2"/><rect x="56.82" y="63.92" width="4.29" height="4.26" fill="#4740e4"/><rect x="60.61" y="63.92" width="4.29" height="4.26" fill="#4741e5"/><rect x="64.39" y="63.92" width="4.29" height="4.26" fill="#4743e7"/><rect x="68.18" y="63.92" width="4.29" height="4.26" fill="#4744e8"/><rect x="71.97" y="63.92" width="4.29" height="4.26" fill="#4746eb"/><rect x="75.76" y="63.92" width="4.29" height="4.26" fill="#4848ec"/><rect x="79.55" y="63.92" width="4.29" height="4.26" fill="#484bee"/><rect x="83.33" y="63.92" width="4.29" height="4.26" fill="#484df0"/><rect x="87.12" y="63.92" width="4.29" height="4.26" fill="#484ff2"/><rect x="90.91" y="63.92" width="4.29" height="4.26" fill="#4852f4"/><rect x="94.7" y="63.92" width="4.29" height="4.26" fill="#4854f5"/><rect x="98.48" y="63.92" width="4.29" height="4.26" fill="#4757f7"/><rect x="102.27" y="63.92" width="4.29" height="4.26" fill="#475af9"/><rect x="106.06" y="63.92" width="4.29" height="4.26" fill="#465dfb"/><rect x="109.85" y="63.92" width="4.29" height="4.26" fill="#4561fc"/><rect x="113.64" y="63.92" width="4.29" height="4.26" fill="#4464fd"/><rect x="117.42" y="63.92" width="4.29" height="4.26" fill="#4367fd"/><rect x="121.21" y="63.92" width="3.79" height="4.26" fill="#426afe"/><rect x="0" y="67.68" width="4.29" height="4.26" fill="#4435d1"/><rect x="3.79" y="67.68" width="4.29" height="4.26" fill="#4536d2"/><rect x="7.58" y="67.68" width="4.29" height="4.26" fill="#4536d3"/><rect x="11.36" y="67.68" width="4.29" height="4.26" fill="#4536d4"/><rect x="15.15" y="67.68" width="4.29" height="4.26" fill="#4537d5"/><rect x="18.94" y="67.68" width="4.29" height="4.26" fill="#4537d6"/><rect x="22.73" y="67.68" width="4.29" height="4.26" fill="#4538d7"/><rect x="26.52" y="67.68" width="4.29" height="4.26" fill="#4539d9"/><rect x="30.3" y="67.68" width="4.29" height="4.26" fill="#4639da"/><rect x="34.09" y="67.68" width="4.29" height="4.26" fill="#463adb"/><rect x="37.88" y="67.68" width="4.29" height="4.26" fill="#463bdc"/><rect x="41.67" y="67.68" width="4.29" height="4.26" fill="#463bdd"/><rect x="45.45" y="67.68" width="4.29" height="4.26" fill="#463cdf"/><rect x="49.24" y="67.68" width="4.29" height="4.26" fill="#463de0"/><rect x="53.03" y="67.68" width="4.29" height="4.26" fill="#473ee1"/><rect x="56.82" y="67.68" width="4.29" height="4.26" fill="#473fe3"/><rect x="60.61" y="67.68" width="4.29" height="4.26" fill="#4741e4"/><rect x="64.39" y="67.68" width="4.29" height="4.26" fill="#4742e6"/><rect x="68.18" y="67.68" width="4.29" height="4.26" fill="#4743e7"/><rect x="71.97" y="67.68" width="4.29" height="4.26" fill="#4745e9"/><rect x="75.76" y="67.68" width="4.29" height="4.26" fill="#4747eb"/><rect x="79.55" y="67.68" width="4.29" height="4.26" fill="#4849ed"/><rect x="83.33" y="67.68" width="4.29" height="4.26" fill="#484bef"/><rect x="87.12" y="67.68" width="4.29" height="4.26" fill="#484df1"/><rect x="90.91" y="67.68" width="4.29" height="4.26" fill="#4850f2"/><rect x="94.7" y="67.68" width="4.29" height="4.26" fill="#4852f4"/><rect x="98.48" y="67.68" width="4.29" height="4.26" fill="#4854f6"/><rect x="102.27" y="67.68" width="4.29" height="4.26" fill="#4757f7"/><rect x="106.06" y="67.68" width="4.29" height="4.26" fill="#475af9"/><rect x="109.85" y="67.68" width="4.29" height="4.26" fill="#465efb"/><rect x="113.64" y="67.68" width="4.29" height="4.26" fill="#4561fc"/><rect x="117.42" y="67.68" width="4.29" height="4.26" fill="#4464fd"/><rect x="121.21" y="67.68" width="3.79" height="4.26" fill="#4367fd"/><rect x="0" y="71.44" width="4.29" height="4.26" fill="#4435d1"/><rect x="3.79" y="71.44" width="4.29" height="4.26" fill="#4535d2"/><rect x="7.58" y="71.44" width="4.29" height="4.26" fill="#4536d3"/><rect x="11.36" y="71.44" width="4.29" height="4.26" fill="#4536d4"/><rect x="15.15" y="71.44" width="4.29" height="4.26" fill="#4537d5"/><rect x="18.94" y="71.44" width="4.29" height="4.26" fill="#4537d6"/><rect x="22.73" y="71.44" width="4.29" height="4.26" fill="#4538d7"/><rect x="26.52" y="71.44" width="4.29" height="4.26" fill="#4538d8"/><rect x="30.3" y="71.44" width="4.29" height="4.26" fill="#4639d9"/><rect x="34.09" y="71.44" width="4.29" height="4.26" fill="#463ada"/><rect x="37.88" y="71.44" width="4.29" height="4.26" fill="#463adc"/><rect x="41.67" y="71.44" width="4.29" height="4.26" fill="#463bdd"/><rect x="45.45" y="71.44" width="4.29" height="4.26" fill="#463cde"/><rect x="49.24" y="71.44" width="4.29" height="4.26" fill="#463ddf"/><rect x="53.03" y="71.44" width="4.29" height="4.26" fill="#463ee1"/><rect x="56.82" y="71.44" width="4.29" height="4.26" fill="#473fe2"/><rect x="60.61" y="71.44" width="4.29" height="4.26" fill="#4740e3"/><rect x="64.39" y="71.44" width="4.29" height="4.26" fill="#4741e5"/><rect x="68.18" y="71.44" width="4.29" height="4.26" fill="#4742e6"/><rect x="71.97" y="71.44" width="4.29" height="4.26" fill="#4744e8"/><rect x="75.76" y="71.44" width="4.29" height="4.26" fill="#4745e9"/><rect x="79.55" y="71.44" width="4.29" height="4.26" fill="#4747eb"/><rect x="83.33" y="71.44" width="4.29" height="4.26" fill="#4849ed"/><rect x="87.12" y="71.44" width="4.29" height="4.26" fill="#484bef"/><rect x="90.91" y="71.44" width="4.29" height="4.26" fill="#484ef1"/><rect x="94.7" y="71.44" width="4.29" height="4.26" fill="#4850f3"/><rect x="98.48" y="71.44" width="4.29" height="4.26" fill="#4853f4"/><rect x="102.27" y="71.44" width="4.29" height="4.26" fill="#4755f6"/><rect x="106.06" y="71.44" width="4.29" height="4.26" fill="#4757f7"/><rect x="109.85" y="71.44" width="4.29" height="4.26" fill="#475bf9"/><rect x="113.64" y="71.44" width="4.29" height="4.26" fill="#465efb"/><rect x="117.42" y="71.44" width="4.29" height="4.26" fill="#4561fc"/><rect x="121.21" y="71.44" width="3.79" height="4.26" fill="#4564fd"/><rect x="0" y="75.2" width="4.29" height="4.26" fill="#4435d1"/><rect x="3.79" y="75.2" width="4.29" height="4.26" fill="#4535d2"/><rect x="7.58" y="75.2" width="4.29" height="4.26" fill="#4536d3"/><rect x="11.36" y="75.2" width="4.29" height="4.26" fill="#4536d4"/><rect x="15.15" y="75.2" width="4.29" height="4.26" fill="#4536d5"/><rect x="18.94" y="75.2" width="4.29" height="4.26" fill="#4537d6"/><rect x="22.73" y="75.2" width="4.29" height="4.26" fill="#4537d7"/><rect x="26.52" y="75.2" width="4.29" height="4.26" fill="#4538d8"/><rect x="30.3" y="75.2" width="4.29" height="4.26" fill="#4539d9"/><rect x="34.09" y="75.2" width="4.29" height="4.26" fill="#4639da"/><rect x="37.88" y="75.2" width="4.29" height="4.26" fill="#463adb"/><rect x="41.67" y="75.2" width="4.29" height="4.26" fill="#463bdc"/><rect x="45.45" y="75.2" width="4.29" height="4.26" fill="#463bde"/><rect x="49.24" y="75.2" width="4.29" height="4.26" fill="#463cdf"/><rect x="53.03" y="75.2" width="4.29" height="4.26" fill="#463de0"/><rect x="56.82" y="75.2" width="4.29" height="4.26" fill="#463ee1"/><rect x="60.61" y="75.2" width="4.29" height="4.26" fill="#473fe3"/><rect x="64.39" y="75.2" width="4.29" height="4.26" fill="#4740e4"/><rect x="68.18" y="75.2" width="4.29" height="4.26" fill="#4741e5"/><rect x="71.97" y="75.2" width="4.29" height="4.26" fill="#4743e7"/><rect x="75.76" y="75.2" width="4.29" height="4.26" fill="#4744e8"/><rect x="79.55" y="75.2" width="4.29" height="4.26" fill="#4746ea"/><rect x="83.33" y="75.2" width="4.29" height="4.26" fill="#4747eb"/><rect x="87.12" y="75.2" width="4.29" height="4.26" fill="#4849ed"/><rect x="90.91" y="75.2" width="4.29" height="4.26" fill="#484cef"/><rect x="94.7" y="75.2" width="4.29" height="4.26" fill="#484ef1"/><rect x="98.48" y="75.2" width="4.29" height="4.26" fill="#4851f3"/><rect x="102.27" y="75.2" width="4.29" height="4.26" fill="#4853f5"/><rect x="106.06" y="75.2" width="4.29" height="4.26" fill="#4755f6"/><rect x="109.85" y="75.2" width="4.29" height="4.26" fill="#4758f8"/><rect x="113.64" y="75.2" width="4.29" height="4.26" fill="#475bf9"/><rect x="117.42" y="75.2" width="4.29" height="4.26" fill="#465efb"/><rect x="121.21" y="75.2" width="3.79" height="4.26" fill="#4561fc"/><rect x="0" y="78.96" width="4.29" height="4.26" fill="#4435d1"/><rect x="3.79" y="78.96" width="4.29" height="4.26" fill="#4435d2"/><rect x="7.58" y="78.96" width="4.29" height="4.26" fill="#4536d2"/><rect x="11.36" y="78.96" width="4.29" height="4.26" fill="#4536d3"/><rect x="15.15" y="78.96" width="4.29" height="4.26" fill="#4536d4"/><rect x="18.94" y="78.96" width="4.29" height="4.26" fill="#4537d5"/><rect x="22.73" y="78.96" width="4.29" height="4.26" fill="#4537d6"/><rect x="26.52" y="78.96" width="4.29" height="4.26" fill="#4538d7"/><rect x="30.3" y="78.96" width="4.29" height="4.26" fill="#4538d8"/><rect x="34.09" y="78.96" width="4.29" height="4.26" fill="#4639d9"/><rect x="37.88" y="78.96" width="4.29" height="4.26" fill="#463ada"/><rect x="41.67" y="78.96" width="4.29" height="4.26" fill="#463adc"/><rect x="45.45" y="78.96" width="4.29" height="4.26" fill="#463bdd"/><rect x="49.24" y="78.96" width="4.29" height="4.26" fill="#463cde"/><rect x="53.03" y="78.96" width="4.29" height="4.26" fill="#463ddf"/><rect x="56.82" y="78.96" width="4.29" height="4.26" fill="#463ee1"/><rect x="60.61" y="78.96" width="4.29" height="4.26" fill="#473fe2"/><rect x="64.39" y="78.96" width="4.29" height="4.26" fill="#4740e3"/><rect x="68.18" y="78.96" width="4.29" height="4.26" fill="#4741e5"/><rect x="71.97" y="78.96" width="4.29" height="4.26" fill="#4742e6"/><rect x="75.76" y="78.96" width="4.29" height="4.26" fill="#4743e7"/><rect x="79.55" y="78.96" width="4.29" height="4.26" fill="#4745e9"/><rect x="83.33" y="78.96" width="4.29" height="4.26" fill="#4746ea"/><rect x="87.12" y="78.96" width="4.29" height="4.26" fill="#4848ec"/><rect x="90.91" y="78.96" width="4.29" height="4.26" fill="#484aee"/><rect x="94.7" y="78.96" width="4.29" height="4.26" fill="#484cf0"/><rect x="98.48" y="78.96" width="4.29" height="4.26" fill="#484ff1"/><rect x="102.27" y="78.96" width="4.29" height="4.26" fill="#4851f3"/><rect x="106.06" y="78.96" width="4.29" height="4.26" fill="#4853f5"/><rect x="109.85" y="78.96" width="4.29" height="4.26" fill="#4756f7"/><rect x="113.64" y="78.96" width="4.29" height="4.26" fill="#4758f8"/><rect x="117.42" y="78.96" width="4.29" height="4.26" fill="#475bf9"/><rect x="121.21" y="78.96" width="3.79" height="4.26" fill="#465efb"/><rect x="0" y="82.72" width="4.29" height="4.26" fill="#4435d0"/><rect x="3.79" y="82.72" width="4.29" height="4.26" fill="#4435d1"/><rect x="7.58" y="82.72" width="4.29" height="4.26" fill="#4535d2"/><rect x="11.36" y="82.72" width="4.29" height="4.26" fill="#4536d3"/><rect x="15.15" y="82.72" width="4.29" height="4.26" fill="#4536d4"/><rect x="18.94" y="82.72" width="4.29" height="4.26" fill="#4537d5"/><rect x="22.73" y="82.72" width="4.29" height="4.26" fill="#4537d6"/><rect x="26.52" y="82.72" width="4.29" height="4.26" fill="#4537d7"/><rect x="30.3" y="82.72" width="4.29" height="4.26" fill="#4538d8"/><rect x="34.09" y="82.72" width="4.29" height="4.26" fill="#4539d9"/><rect x="37.88" y="82.72" width="4.29" height="4.26" fill="#4639da"/><rect x="41.67" y="82.72" width="4.29" height="4.26" fill="#463adb"/><rect x="45.45" y="82.72" width="4.29" height="4.26" fill="#463bdc"/><rect x="49.24" y="82.72" width="4.29" height="4.26" fill="#463cde"/><rect x="53.03" y="82.72" width="4.29" height="4.26" fill="#463cdf"/><rect x="56.82" y="82.72" width="4.29" height="4.26" fill="#463de0"/><rect x="60.61" y="82.72" width="4.29" height="4.26" fill="#473ee1"/><rect x="64.39" y="82.72" width="4.29" height="4.26" fill="#473fe2"/><rect x="68.18" y="82.72" width="4.29" height="4.26" fill="#4740e4"/><rect x="71.97" y="82.72" width="4.29" height="4.26" fill="#4741e5"/><rect x="75.76" y="82.72" width="4.29" height="4.26" fill="#4743e7"/><rect x="79.55" y="82.72" width="4.29" height="4.26" fill="#4744e8"/><rect x="83.33" y="82.72" width="4.29" height="4.26" fill="#4745e9"/><rect x="87.12" y="82.72" width="4.29" height="4.26" fill="#4747eb"/><rect x="90.91" y="82.72" width="4.29" height="4.26" fill="#4848ec"/><rect x="94.7" y="82.72" width="4.29" height="4.26" fill="#484aee"/><rect x="98.48" y="82.72" width="4.29" height="4.26" fill="#484df0"/><rect x="102.27" y="82.72" width="4.29" height="4.26" fill="#484ff2"/><rect x="106.06" y="82.72" width="4.29" height="4.26" fill="#4852f4"/><rect x="109.85" y="82.72" width="4.29" height="4.26" fill="#4854f5"/><rect x="113.64" y="82.72" width="4.29" height="4.26" fill="#4757f7"/><rect x="117.42" y="82.72" width="4.29" height="4.26" fill="#4759f8"/><rect x="121.21" y="82.72" width="3.79" height="4.26" fill="#475cfa"/><rect x="0" y="86.48" width="4.29" height="4.26" fill="#4435d0"/><rect x="3.79" y="86.48" width="4.29" height="4.26" fill="#4435d1"/><rect x="7.58" y="86.48" width="4.29" height="4.26" fill="#4535d2"/><rect x="11.36" y="86.48" width="4.29" height="4.26" fill="#4536d3"/><rect x="15.15" y="86.48" width="4.29" height="4.26" fill="#4536d4"/><rect x="18.94" y="86.48" width="4.29" height="4.26" fill="#4537d5"/><rect x="22.73" y="86.48" width="8.08" height="4.26" fill="#4537d6"/><rect x="30.3" y="86.48" width="4.29" height="4.26" fill="#4538d7"/><rect x="34.09" y="86.48" width="4.29" height="4.26" fill="#4538d8"/><rect x="37.88" y="86.48" width="4.29" height="4.26" fill="#4639d9"/><rect x="41.67" y="86.48" width="4.29" height="4.26" fill="#463ada"/><rect x="45.45" y="86.48" width="4.29" height="4.26" fill="#463adc"/><rect x="49.24" y="86.48" width="4.29" height="4.26" fill="#463bdd"/><rect x="53.03" y="86.48" width="4.29" height="4.26" fill="#463cde"/><rect x="56.82" y="86.48" width="4.29" height="4.26" fill="#463de0"/><rect x="60.61" y="86.48" width="4.29" height="4.26" fill="#463ee1"/><rect x="64.39" y="86.48" width="4.29" height="4.26" fill="#473fe2"/><rect x="68.18" y="86.48" width="4.29" height="4.26" fill="#4740e3"/><rect x="71.97" y="86.48" width="4.29" height="4.26" fill="#4741e5"/><rect x="75.76" y="86.48" width="4.29" height="4.26" fill="#4742e6"/><rect x="79.55" y="86.48" width="4.29" height="4.26" fill="#4743e7"/><rect x="83.33" y="86.48" width="4.29" height="4.26" fill="#4745e9"/><rect x="87.12" y="86.48" width="4.29" height="4.26" fill="#4746ea"/><rect x="90.91" y="86.48" width="4.29" height="4.26" fill="#4747ec"/><rect x="94.7" y="86.48" width="4.29" height="4.26" fill="#4849ed"/><rect x="98.48" y="86.48" width="4.29" height="4.26" fill="#484bee"/><rect x="102.27" y="86.48" width="4.29" height="4.26" fill="#484df0"/><rect x="106.06" y="86.48" width="4.29" height="4.26" fill="#4850f2"/><rect x="109.85" y="86.48" width="4.29" height="4.26" fill="#4852f4"/><rect x="113.64" y="86.48" width="4.29" height="4.26" fill="#4755f6"/><rect x="117.42" y="86.48" width="4.29" height="4.26" fill="#4757f7"/><rect x="121.21" y="86.48" width="3.79" height="4.26" fill="#475af9"/><rect x="0" y="90.24" width="4.29" height="4.26" fill="#4435d0"/><rect x="3.79" y="90.24" width="4.29" height="4.26" fill="#4435d1"/><rect x="7.58" y="90.24" width="4.29" height="4.26" fill="#4435d2"/><rect x="11.36" y="90.24" width="4.29" height="4.26" fill="#4536d3"/><rect x="15.15" y="90.24" width="4.29" height="4.26" fill="#4536d4"/><rect x="18.94" y="90.24" width="4.29" height="4.26" fill="#4536d5"/><rect x="22.73" y="90.24" width="8.08" height="4.26" fill="#4537d6"/><rect x="30.3" y="90.24" width="4.29" height="4.26" fill="#4538d7"/><rect x="34.09" y="90.24" width="4.29" height="4.26" fill="#4538d8"/><rect x="37.88" y="90.24" width="4.29" height="4.26" fill="#4539d9"/><rect x="41.67" y="90.24" width="4.29" height="4.26" fill="#4639da"/><rect x="45.45" y="90.24" width="4.29" height="4.26" fill="#463adb"/><rect x="49.24" y="90.24" width="4.29" height="4.26" fill="#463bdd"/><rect x="53.03" y="90.24" width="4.29" height="4.26" fill="#463cde"/><rect x="56.82" y="90.24" width="4.29" height="4.26" fill="#463ddf"/><rect x="60.61" y="90.24" width="4.29" height="4.26" fill="#463de0"/><rect x="64.39" y="90.24" width="4.29" height="4.26" fill="#473ee2"/><rect x="68.18" y="90.24" width="4.29" height="4.26" fill="#473fe3"/><rect x="71.97" y="90.24" width="4.29" height="4.26" fill="#4740e4"/><rect x="75.76" y="90.24" width="4.29" height="4.26" fill="#4741e5"/><rect x="79.55" y="90.24" width="4.29" height="4.26" fill="#4743e7"/><rect x="83.33" y="90.24" width="4.29" height="4.26" fill="#4744e8"/><rect x="87.12" y="90.24" width="4.29" height="4.26" fill="#4745e9"/><rect x="90.91" y="90.24" width="4.29" height="4.26" fill="#4747eb"/><rect x="94.7" y="90.24" width="4.29" height="4.26" fill="#4848ec"/><rect x="98.48" y="90.24" width="4.29" height="4.26" fill="#484aee"/><rect x="102.27" y="90.24" width="4.29" height="4.26" fill="#484cef"/><rect x="106.06" y="90.24" width="4.29" height="4.26" fill="#484ef1"/><rect x="109.85" y="90.24" width="4.29" height="4.26" fill="#4850f3"/><rect x="113.64" y="90.24" width="4.29" height="4.26" fill="#4853f5"/><rect x="117.42" y="90.24" width="4.29" height="4.26" fill="#4755f6"/><rect x="121.21" y="90.24" width="3.79" height="4.26" fill="#4758f8"/><rect x="0" y="94" width="4.29" height="4.26" fill="#4434d0"/><rect x="3.79" y="94" width="4.29" height="4.26" fill="#4435d1"/><rect x="7.58" y="94" width="4.29" height="4.26" fill="#4435d2"/><rect x="11.36" y="94" width="4.29" height="4.26" fill="#4536d2"/><rect x="15.15" y="94" width="4.29" height="4.26" fill="#4536d3"/><rect x="18.94" y="94" width="4.29" height="4.26" fill="#4536d4"/><rect x="22.73" y="94" width="4.29" height="4.26" fill="#4537d5"/><rect x="26.52" y="94" width="4.29" height="4.26" fill="#4537d6"/><rect x="30.3" y="94" width="4.29" height="4.26" fill="#4538d7"/><rect x="34.09" y="94" width="4.29" height="4.26" fill="#4538d8"/><rect x="37.88" y="94" width="4.29" height="4.26" fill="#4539d9"/><rect x="41.67" y="94" width="4.29" height="4.26" fill="#4639da"/><rect x="45.45" y="94" width="4.29" height="4.26" fill="#463adb"/><rect x="49.24" y="94" width="4.29" height="4.26" fill="#463adc"/><rect x="53.03" y="94" width="4.29" height="4.26" fill="#463bdd"/><rect x="56.82" y="94" width="4.29" height="4.26" fill="#463cdf"/><rect x="60.61" y="94" width="4.29" height="4.26" fill="#463de0"/><rect x="64.39" y="94" width="4.29" height="4.26" fill="#463ee1"/><rect x="68.18" y="94" width="4.29" height="4.26" fill="#473fe2"/><rect x="71.97" y="94" width="4.29" height="4.26" fill="#4740e4"/><rect x="75.76" y="94" width="4.29" height="4.26" fill="#4741e5"/><rect x="79.55" y="94" width="4.29" height="4.26" fill="#4742e6"/><rect x="83.33" y="94" width="4.29" height="4.26" fill="#4743e7"/><rect x="87.12" y="94" width="4.29" height="4.26" fill="#4745e9"/><rect x="90.91" y="94" width="4.29" height="4.26" fill="#4746ea"/><rect x="94.7" y="94" width="4.29" height="4.26" fill="#4848ec"/><rect x="98.48" y="94" width="4.29" height="4.26" fill="#4849ed"/><rect x="102.27" y="94" width="4.29" height="4.26" fill="#484bee"/><rect x="106.06" y="94" width="4.29" height="4.26" fill="#484cf0"/><rect x="109.85" y="94" width="4.29" height="4.26" fill="#484ef1"/><rect x="113.64" y="94" width="4.29" height="4.26" fill="#4851f3"/><rect x="117.42" y="94" width="4.29" height="4.26" fill="#4854f5"/><rect x="121.21" y="94" width="3.79" height="4.26" fill="#4756f7"/><rect x="0" y="97.76" width="4.29" height="4.26" fill="#4434d0"/><rect x="3.79" y="97.76" width="4.29" height="4.26" fill="#4435d0"/><rect x="7.58" y="97.76" width="4.29" height="4.26" fill="#4435d1"/><rect x="11.36" y="97.76" width="4.29" height="4.26" fill="#4536d2"/><rect x="15.15" y="97.76" width="4.29" height="4.26" fill="#4536d3"/><rect x="18.94" y="97.76" width="4.29" height="4.26" fill="#4536d4"/><rect x="22.73" y="97.76" width="4.29" height="4.26" fill="#4537d5"/><rect x="26.52" y="97.76" width="4.29" height="4.26" fill="#4537d6"/><rect x="30.3" y="97.76" width="4.29" height="4.26" fill="#4538d7"/><rect x="34.09" y="97.76" width="4.29" height="4.26" fill="#4538d8"/><rect x="37.88" y="97.76" width="4.29" height="4.26" fill="#4539d9"/><rect x="41.67" y="97.76" width="4.29" height="4.26" fill="#4639da"/><rect x="45.45" y="97.76" width="8.08" height="4.26" fill="#463adb"/><rect x="53.03" y="97.76" width="4.29" height="4.26" fill="#463bdd"/><rect x="56.82" y="97.76" width="4.29" height="4.26" fill="#463cde"/><rect x="60.61" y="97.76" width="4.29" height="4.26" fill="#463ddf"/><rect x="64.39" y="97.76" width="4.29" height="4.26" fill="#463ee1"/><rect x="68.18" y="97.76" width="4.29" height="4.26" fill="#473fe2"/><rect x="71.97" y="97.76" width="4.29" height="4.26" fill="#4740e3"/><rect x="75.76" y="97.76" width="4.29" height="4.26" fill="#4741e5"/><rect x="79.55" y="97.76" width="4.29" height="4.26" fill="#4742e6"/><rect x="83.33" y="97.76" width="4.29" height="4.26" fill="#4743e7"/><rect x="87.12" y="97.76" width="4.29" height="4.26" fill="#4744e8"/><rect x="90.91" y="97.76" width="4.29" height="4.26" fill="#4746ea"/><rect x="94.7" y="97.76" width="4.29" height="4.26" fill="#4747eb"/><rect x="98.48" y="97.76" width="4.29" height="4.26" fill="#4848ec"/><rect x="102.27" y="97.76" width="4.29" height="4.26" fill="#484aee"/><rect x="106.06" y="97.76" width="4.29" height="4.26" fill="#484bef"/><rect x="109.85" y="97.76" width="4.29" height="4.26" fill="#484df0"/><rect x="113.64" y="97.76" width="4.29" height="4.26" fill="#484ff2"/><rect x="117.42" y="97.76" width="4.29" height="4.26" fill="#4852f4"/><rect x="121.21" y="97.76" width="3.79" height="4.26" fill="#4855f6"/><rect x="0" y="101.52" width="4.29" height="4.26" fill="#4434cf"/><rect x="3.79" y="101.52" width="4.29" height="4.26" fill="#4435d0"/><rect x="7.58" y="101.52" width="4.29" height="4.26" fill="#4435d1"/><rect x="11.36" y="101.52" width="4.29" height="4.26" fill="#4535d2"/><rect x="15.15" y="101.52" width="4.29" height="4.26" fill="#4536d3"/><rect x="18.94" y="101.52" width="4.29" height="4.26" fill="#4536d4"/><rect x="22.73" y="101.52" width="4.29" height="4.26" fill="#4537d5"/><rect x="26.52" y="101.52" width="4.29" height="4.26" fill="#4537d6"/><rect x="30.3" y="101.52" width="4.29" height="4.26" fill="#4538d7"/><rect x="34.09" y="101.52" width="4.29" height="4.26" fill="#4538d8"/><rect x="37.88" y="101.52" width="4.29" height="4.26" fill="#4539d9"/><rect x="41.67" y="101.52" width="4.29" height="4.26" fill="#4639da"/><rect x="45.45" y="101.52" width="8.08" height="4.26" fill="#463adb"/><rect x="53.03" y="101.52" width="4.29" height="4.26" fill="#463bdc"/><rect x="56.82" y="101.52" width="4.29" height="4.26" fill="#463bde"/><rect x="60.61" y="101.52" width="4.29" height="4.26" fill="#463cdf"/><rect x="64.39" y="101.52" width="4.29" height="4.26" fill="#463de0"/><rect x="68.18" y="101.52" width="4.29" height="4.26" fill="#473ee2"/><rect x="71.97" y="101.52" width="4.29" height="4.26" fill="#473fe3"/><rect x="75.76" y="101.52" width="4.29" height="4.26" fill="#4741e4"/><rect x="79.55" y="101.52" width="4.29" height="4.26" fill="#4742e6"/><rect x="83.33" y="101.52" width="4.29" height="4.26" fill="#4743e7"/><rect x="87.12" y="101.52" width="4.29" height="4.26" fill="#4744e8"/><rect x="90.91" y="101.52" width="4.29" height="4.26" fill="#4745e9"/><rect x="94.7" y="101.52" width="4.29" height="4.26" fill="#4747eb"/><rect x="98.48" y="101.52" width="4.29" height="4.26" fill="#4848ec"/><rect x="102.27" y="101.52" width="4.29" height="4.26" fill="#4849ed"/><rect x="106.06" y="101.52" width="4.29" height="4.26" fill="#484bef"/><rect x="109.85" y="101.52" width="4.29" height="4.26" fill="#484cf0"/><rect x="113.64" y="101.52" width="4.29" height="4.26" fill="#484ef1"/><rect x="117.42" y="101.52" width="4.29" height="4.26" fill="#4850f3"/><rect x="121.21" y="101.52" width="3.79" height="4.26" fill="#4853f5"/><rect x="0" y="105.28" width="4.29" height="4.26" fill="#4434cf"/><rect x="3.79" y="105.28" width="4.29" height="4.26" fill="#4435d0"/><rect x="7.58" y="105.28" width="4.29" height="4.26" fill="#4435d1"/><rect x="11.36" y="105.28" width="4.29" height="4.26" fill="#4535d2"/><rect x="15.15" y="105.28" width="4.29" height="4.26" fill="#4536d3"/><rect x="18.94" y="105.28" width="4.29" height="4.26" fill="#4536d4"/><rect x="22.73" y="105.28" width="4.29" height="4.26" fill="#4537d5"/><rect x="26.52" y="105.28" width="4.29" height="4.26" fill="#4537d6"/><rect x="30.3" y="105.28" width="4.29" height="4.26" fill="#4538d7"/><rect x="34.09" y="105.28" width="4.29" height="4.26" fill="#4538d8"/><rect x="37.88" y="105.28" width="4.29" height="4.26" fill="#4539d9"/><rect x="41.67" y="105.28" width="4.29" height="4.26" fill="#4639da"/><rect x="45.45" y="105.28" width="8.08" height="4.26" fill="#463adb"/><rect x="53.03" y="105.28" width="4.29" height="4.26" fill="#463bdc"/><rect x="56.82" y="105.28" width="4.29" height="4.26" fill="#463bdd"/><rect x="60.61" y="105.28" width="4.29" height="4.26" fill="#463cdf"/><rect x="64.39" y="105.28" width="4.29" height="4.26" fill="#463de0"/><rect x="68.18" y="105.28" width="4.29" height="4.26" fill="#473ee1"/><rect x="71.97" y="105.28" width="4.29" height="4.26" fill="#473fe3"/><rect x="75.76" y="105.28" width="4.29" height="4.26" fill="#4740e4"/><rect x="79.55" y="105.28" width="4.29" height="4.26" fill="#4741e5"/><rect x="83.33" y="105.28" width="4.29" height="4.26" fill="#4743e7"/><rect x="87.12" y="105.28" width="4.29" height="4.26" fill="#4744e8"/><rect x="90.91" y="105.28" width="4.29" height="4.26" fill="#4745e9"/><rect x="94.7" y="105.28" width="4.29" height="4.26" fill="#4746ea"/><rect x="98.48" y="105.28" width="4.29" height="4.26" fill="#4848ec"/><rect x="102.27" y="105.28" width="4.29" height="4.26" fill="#4849ed"/><rect x="106.06" y="105.28" width="4.29" height="4.26" fill="#484bee"/><rect x="109.85" y="105.28" width="4.29" height="4.26" fill="#484cf0"/><rect x="113.64" y="105.28" width="4.29" height="4.26" fill="#484ef1"/><rect x="117.42" y="105.28" width="4.29" height="4.26" fill="#484ff2"/><rect x="121.21" y="105.28" width="3.79" height="4.26" fill="#4851f3"/><rect x="0" y="109.04" width="4.29" height="1.26" fill="#4434cf"/><rect x="3.79" y="109.04" width="4.29" height="1.26" fill="#4435d0"/><rect x="7.58" y="109.04" width="4.29" height="1.26" fill="#4435d1"/><rect x="11.36" y="109.04" width="4.29" height="1.26" fill="#4535d2"/><rect x="15.15" y="109.04" width="4.29" height="1.26" fill="#4536d3"/><rect x="18.94" y="109.04" width="4.29" height="1.26" fill="#4536d4"/><rect x="22.73" y="109.04" width="4.29" height="1.26" fill="#4537d5"/><rect x="26.52" y="109.04" width="4.29" height="1.26" fill="#4537d6"/><rect x="30.3" y="109.04" width="4.29" height="1.26" fill="#4538d7"/><rect x="34.09" y="109.04" width="4.29" height="1.26" fill="#4538d8"/><rect x="37.88" y="109.04" width="4.29" height="1.26" fill="#4539d9"/><rect x="41.67" y="109.04" width="4.29" height="1.26" fill="#4639da"/><rect x="45.45" y="109.04" width="4.29" height="1.26" fill="#463adb"/><rect x="49.24" y="109.04" width="4.29" height="1.26" fill="#463adc"/><rect x="53.03" y="109.04" width="4.29" height="1.26" fill="#463bdc"/><rect x="56.82" y="109.04" width="4.29" height="1.26" fill="#463bdd"/><rect x="60.61" y="109.04" width="4.29" height="1.26" fill="#463cde"/><rect x="64.39" y="109.04" width="4.29" height="1.26" fill="#463de0"/><rect x="68.18" y="109.04" width="4.29" height="1.26" fill="#463ee1"/><rect x="71.97" y="109.04" width="4.29" height="1.26" fill="#473fe2"/><rect x="75.76" y="109.04" width="4.29" height="1.26" fill="#4740e4"/><rect x="79.55" y="109.04" width="4.29" height="1.26" fill="#4741e5"/><rect x="83.33" y="109.04" width="4.29" height="1.26" fill="#4742e6"/><rect x="87.12" y="109.04" width="4.29" height="1.26" fill="#4744e8"/><rect x="90.91" y="109.04" width="4.29" height="1.26" fill="#4745e9"/><rect x="94.7" y="109.04" width="4.29" height="1.26" fill="#4746ea"/><rect x="98.48" y="109.04" width="4.29" height="1.26" fill="#4747ec"/><rect x="102.27" y="109.04" width="4.29" height="1.26" fill="#4849ed"/><rect x="106.06" y="109.04" width="4.29" height="1.26" fill="#484aee"/><rect x="109.85" y="109.04" width="4.29" height="1.26" fill="#484cef"/><rect x="113.64" y="109.04" width="4.29" height="1.26" fill="#484df1"/><rect x="117.42" y="109.04" width="4.29" height="1.26" fill="#484ff2"/><rect x="121.21" y="109.04" width="3.79" height="1.26" fill="#4850f3"/>
<use href="#grid"/>
<rect x="0" y="0" width="125" height="110.3" fill="none" stroke="#262626" stroke-width="0.4"/>
<rect x="128.55" y="0" width="6.6" height="110.3" fill="url(#pg)" stroke="#262626" stroke-width="0.12"/>
<text x="137.05" y="111.75" font-size="3.95" font-family="Liberation Sans, Arial, sans-serif" fill="#404040">0</text>
<text x="137.05" y="97.24" font-size="3.95" font-family="Liberation Sans, Arial, sans-serif" fill="#404040">1</text>
<text x="137.05" y="82.72" font-size="3.95" font-family="Liberation Sans, Arial, sans-serif" fill="#404040">2</text>
<text x="137.05" y="68.21" font-size="3.95" font-family="Liberation Sans, Arial, sans-serif" fill="#404040">3</text>
<text x="137.05" y="53.7" font-size="3.95" font-family="Liberation Sans, Arial, sans-serif" fill="#404040">4</text>
<text x="137.05" y="39.18" font-size="3.95" font-family="Liberation Sans, Arial, sans-serif" fill="#404040">5</text>
<text x="137.05" y="24.67" font-size="3.95" font-family="Liberation Sans, Arial, sans-serif" fill="#404040">6</text>
<text x="137.05" y="10.16" font-size="3.95" font-family="Liberation Sans, Arial, sans-serif" fill="#404040">7</text>
<text x="14.32" y="116.6" font-size="4.4" text-anchor="middle" font-family="Liberation Sans, Arial, sans-serif" fill="#404040">0.2</text>
<text x="28.65" y="116.6" font-size="4.4" text-anchor="middle" font-family="Liberation Sans, Arial, sans-serif" fill="#404040">0.4</text>
<text x="42.97" y="116.6" font-size="4.4" text-anchor="middle" font-family="Liberation Sans, Arial, sans-serif" fill="#404040">0.6</text>
<text x="57.3" y="116.6" font-size="4.4" text-anchor="middle" font-family="Liberation Sans, Arial, sans-serif" fill="#404040">0.8</text>
<text x="71.62" y="116.6" font-size="4.4" text-anchor="middle" font-family="Liberation Sans, Arial, sans-serif" fill="#404040">1</text>
<text x="85.95" y="116.6" font-size="4.4" text-anchor="middle" font-family="Liberation Sans, Arial, sans-serif" fill="#404040">1.2</text>
<text x="100.27" y="116.6" font-size="4.4" text-anchor="middle" font-family="Liberation Sans, Arial, sans-serif" fill="#404040">1.4</text>
<text x="114.59" y="116.6" font-size="4.4" text-anchor="middle" font-family="Liberation Sans, Arial, sans-serif" fill="#404040">1.6</text>
<text x="-2.0" y="94.64" font-size="4.3" text-anchor="end" font-family="Liberation Sans, Arial, sans-serif" fill="#404040">0.2</text>
<text x="-2.0" y="76.59" font-size="4.3" text-anchor="end" font-family="Liberation Sans, Arial, sans-serif" fill="#404040">0.4</text>
<text x="-2.0" y="58.53" font-size="4.3" text-anchor="end" font-family="Liberation Sans, Arial, sans-serif" fill="#404040">0.6</text>
<text x="-2.0" y="40.47" font-size="4.3" text-anchor="end" font-family="Liberation Sans, Arial, sans-serif" fill="#404040">0.8</text>
<text x="-2.0" y="22.42" font-size="4.3" text-anchor="end" font-family="Liberation Sans, Arial, sans-serif" fill="#404040">1</text>
<text x="-2.0" y="4.36" font-size="4.3" text-anchor="end" font-family="Liberation Sans, Arial, sans-serif" fill="#404040">1.2</text>
<text x="62.5" y="-2.2" font-size="4.8" word-spacing="0.6" text-anchor="middle" font-family="Liberation Serif, Times New Roman, serif" fill="#404040"><tspan font-style="italic">q</tspan><tspan font-size="3.4" dy="0.75">1</tspan><tspan dy="-0.75"> = 20°</tspan></text>
<text x="63.1" y="121.7" font-size="4.8" letter-spacing="0.17" text-anchor="middle" font-family="Liberation Serif, Times New Roman, serif" fill="#404040"><tspan font-style="italic">q</tspan><tspan font-size="3.4" dy="0.75">2</tspan><tspan dy="-0.75"> (rad)</tspan></text>
<text transform="translate(-10.9,55.15) rotate(-90)" font-size="4.8" letter-spacing="0.17" text-anchor="middle" font-family="Liberation Serif, Times New Roman, serif" fill="#404040"><tspan font-style="italic">q</tspan><tspan font-size="3.4" dy="0.75">3</tspan><tspan dy="-0.75"> (rad)</tspan></text>
</g>
<g transform="translate(385.2,13)">
<rect x="0" y="0" width="4.29" height="4.26" fill="#4230c3"/><rect x="3.79" y="0" width="4.29" height="4.26" fill="#4331c6"/><rect x="7.58" y="0" width="4.29" height="4.26" fill="#4332c9"/><rect x="11.36" y="0" width="4.29" height="4.26" fill="#4433cc"/><rect x="15.15" y="0" width="4.29" height="4.26" fill="#4434cf"/><rect x="18.94" y="0" width="4.29" height="4.26" fill="#4536d4"/><rect x="22.73" y="0" width="4.29" height="4.26" fill="#4538d8"/><rect x="26.52" y="0" width="4.29" height="4.26" fill="#463adb"/><rect x="30.3" y="0" width="4.29" height="4.26" fill="#463de0"/><rect x="34.09" y="0" width="4.29" height="4.26" fill="#4740e4"/><rect x="37.88" y="0" width="4.29" height="4.26" fill="#4743e7"/><rect x="41.67" y="0" width="4.29" height="4.26" fill="#4747eb"/><rect x="45.45" y="0" width="4.29" height="4.26" fill="#484cef"/><rect x="49.24" y="0" width="4.29" height="4.26" fill="#4851f3"/><rect x="53.03" y="0" width="4.29" height="4.26" fill="#4756f7"/><rect x="56.82" y="0" width="4.29" height="4.26" fill="#475cfa"/><rect x="60.61" y="0" width="4.29" height="4.26" fill="#4562fc"/><rect x="64.39" y="0" width="4.29" height="4.26" fill="#4269fe"/><rect x="68.18" y="0" width="4.29" height="4.26" fill="#3c71ff"/><rect x="71.97" y="0" width="4.29" height="4.26" fill="#3579fd"/><rect x="75.76" y="0" width="4.29" height="4.26" fill="#2f80fa"/><rect x="79.55" y="0" width="4.29" height="4.26" fill="#2e87f7"/><rect x="83.33" y="0" width="4.29" height="4.26" fill="#2c8ef1"/><rect x="87.12" y="0" width="4.29" height="4.26" fill="#2798ea"/><rect x="90.91" y="0" width="4.29" height="4.26" fill="#23a1e4"/><rect x="94.7" y="0" width="4.29" height="4.26" fill="#1aacdd"/><rect x="98.48" y="0" width="4.29" height="4.26" fill="#06b5cf"/><rect x="102.27" y="0" width="4.29" height="4.26" fill="#0ebdbb"/><rect x="106.06" y="0" width="4.29" height="4.26" fill="#2ec5a4"/><rect x="109.85" y="0" width="4.29" height="4.26" fill="#60cd72"/><rect x="113.64" y="0" width="4.29" height="4.26" fill="#c0c32d"/><rect x="117.42" y="0" width="4.29" height="4.26" fill="#fabb3d"/><rect x="121.21" y="0" width="3.79" height="4.26" fill="#fec239"/><rect x="0" y="3.76" width="4.29" height="4.26" fill="#4230c3"/><rect x="3.79" y="3.76" width="4.29" height="4.26" fill="#4330c5"/><rect x="7.58" y="3.76" width="4.29" height="4.26" fill="#4331c8"/><rect x="11.36" y="3.76" width="4.29" height="4.26" fill="#4433cb"/><rect x="15.15" y="3.76" width="4.29" height="4.26" fill="#4434ce"/><rect x="18.94" y="3.76" width="4.29" height="4.26" fill="#4435d1"/><rect x="22.73" y="3.76" width="4.29" height="4.26" fill="#4537d6"/><rect x="26.52" y="3.76" width="4.29" height="4.26" fill="#4639da"/><rect x="30.3" y="3.76" width="4.29" height="4.26" fill="#463bde"/><rect x="34.09" y="3.76" width="4.29" height="4.26" fill="#473ee1"/><rect x="37.88" y="3.76" width="4.29" height="4.26" fill="#4742e6"/><rect x="41.67" y="3.76" width="4.29" height="4.26" fill="#4745e9"/><rect x="45.45" y="3.76" width="4.29" height="4.26" fill="#4849ed"/><rect x="49.24" y="3.76" width="4.29" height="4.26" fill="#484ef1"/><rect x="53.03" y="3.76" width="4.29" height="4.26" fill="#4853f5"/><rect x="56.82" y="3.76" width="4.29" height="4.26" fill="#4759f8"/><rect x="60.61" y="3.76" width="4.29" height="4.26" fill="#465efb"/><rect x="64.39" y="3.76" width="4.29" height="4.26" fill="#4464fd"/><rect x="68.18" y="3.76" width="4.29" height="4.26" fill="#416cfe"/><rect x="71.97" y="3.76" width="4.29" height="4.26" fill="#3a73fe"/><rect x="75.76" y="3.76" width="4.29" height="4.26" fill="#337bfc"/><rect x="79.55" y="3.76" width="4.29" height="4.26" fill="#2f82fa"/><rect x="83.33" y="3.76" width="4.29" height="4.26" fill="#2d89f5"/><rect x="87.12" y="3.76" width="4.29" height="4.26" fill="#2c90f0"/><rect x="90.91" y="3.76" width="4.29" height="4.26" fill="#2699e9"/><rect x="94.7" y="3.76" width="4.29" height="4.26" fill="#22a2e4"/><rect x="98.48" y="3.76" width="4.29" height="4.26" fill="#19addc"/><rect x="102.27" y="3.76" width="4.29" height="4.26" fill="#04b6cd"/><rect x="106.06" y="3.76" width="4.29" height="4.26" fill="#11beba"/><rect x="109.85" y="3.76" width="4.29" height="4.26" fill="#30c5a1"/><rect x="113.64" y="3.76" width="4.29" height="4.26" fill="#5dcc75"/><rect x="117.42" y="3.76" width="4.29" height="4.26" fill="#a6c83c"/><rect x="121.21" y="3.76" width="3.79" height="4.26" fill="#e1bc2b"/><rect x="0" y="7.52" width="4.29" height="4.26" fill="#422fc3"/><rect x="3.79" y="7.52" width="4.29" height="4.26" fill="#4330c5"/><rect x="7.58" y="7.52" width="4.29" height="4.26" fill="#4331c8"/><rect x="11.36" y="7.52" width="4.29" height="4.26" fill="#4332ca"/><rect x="15.15" y="7.52" width="4.29" height="4.26" fill="#4434cd"/><rect x="18.94" y="7.52" width="4.29" height="4.26" fill="#4435d1"/><rect x="22.73" y="7.52" width="4.29" height="4.26" fill="#4536d4"/><rect x="26.52" y="7.52" width="4.29" height="4.26" fill="#4538d7"/><rect x="30.3" y="7.52" width="4.29" height="4.26" fill="#463adb"/><rect x="34.09" y="7.52" width="4.29" height="4.26" fill="#463ddf"/><rect x="37.88" y="7.52" width="4.29" height="4.26" fill="#473fe3"/><rect x="41.67" y="7.52" width="4.29" height="4.26" fill="#4743e7"/><rect x="45.45" y="7.52" width="4.29" height="4.26" fill="#4746eb"/><rect x="49.24" y="7.52" width="4.29" height="4.26" fill="#484aee"/><rect x="53.03" y="7.52" width="4.29" height="4.26" fill="#484ff2"/><rect x="56.82" y="7.52" width="4.29" height="4.26" fill="#4755f6"/><rect x="60.61" y="7.52" width="4.29" height="4.26" fill="#475af9"/><rect x="64.39" y="7.52" width="4.29" height="4.26" fill="#465ffb"/><rect x="68.18" y="7.52" width="4.29" height="4.26" fill="#4466fd"/><rect x="71.97" y="7.52" width="4.29" height="4.26" fill="#406dfe"/><rect x="75.76" y="7.52" width="4.29" height="4.26" fill="#3974fe"/><rect x="79.55" y="7.52" width="4.29" height="4.26" fill="#327cfc"/><rect x="83.33" y="7.52" width="4.29" height="4.26" fill="#2f82f9"/><rect x="87.12" y="7.52" width="4.29" height="4.26" fill="#2d89f5"/><rect x="90.91" y="7.52" width="4.29" height="4.26" fill="#2c90f0"/><rect x="94.7" y="7.52" width="4.29" height="4.26" fill="#2699e9"/><rect x="98.48" y="7.52" width="4.29" height="4.26" fill="#22a1e4"/><rect x="102.27" y="7.52" width="4.29" height="4.26" fill="#1babde"/><rect x="106.06" y="7.52" width="4.29" height="4.26" fill="#09b4d1"/><rect x="109.85" y="7.52" width="4.29" height="4.26" fill="#06bcc0"/><rect x="113.64" y="7.52" width="4.29" height="4.26" fill="#28c3ab"/><rect x="117.42" y="7.52" width="4.29" height="4.26" fill="#3eca8f"/><rect x="121.21" y="7.52" width="3.79" height="4.26" fill="#6ccd68"/><rect x="0" y="11.28" width="4.29" height="4.26" fill="#422fc2"/><rect x="3.79" y="11.28" width="4.29" height="4.26" fill="#4330c5"/><rect x="7.58" y="11.28" width="4.29" height="4.26" fill="#4331c7"/><rect x="11.36" y="11.28" width="4.29" height="4.26" fill="#4332ca"/><rect x="15.15" y="11.28" width="4.29" height="4.26" fill="#4433cc"/><rect x="18.94" y="11.28" width="4.29" height="4.26" fill="#4434cf"/><rect x="22.73" y="11.28" width="4.29" height="4.26" fill="#4536d3"/><rect x="26.52" y="11.28" width="4.29" height="4.26" fill="#4537d6"/><rect x="30.3" y="11.28" width="4.29" height="4.26" fill="#4539d9"/><rect x="34.09" y="11.28" width="4.29" height="4.26" fill="#463bdd"/><rect x="37.88" y="11.28" width="4.29" height="4.26" fill="#463ee0"/><rect x="41.67" y="11.28" width="4.29" height="4.26" fill="#4740e4"/><rect x="45.45" y="11.28" width="4.29" height="4.26" fill="#4744e8"/><rect x="49.24" y="11.28" width="4.29" height="4.26" fill="#4747eb"/><rect x="53.03" y="11.28" width="4.29" height="4.26" fill="#484bef"/><rect x="56.82" y="11.28" width="4.29" height="4.26" fill="#4850f2"/><rect x="60.61" y="11.28" width="4.29" height="4.26" fill="#4756f6"/><rect x="64.39" y="11.28" width="4.29" height="4.26" fill="#475bfa"/><rect x="68.18" y="11.28" width="4.29" height="4.26" fill="#4660fc"/><rect x="71.97" y="11.28" width="4.29" height="4.26" fill="#4366fd"/><rect x="75.76" y="11.28" width="4.29" height="4.26" fill="#3f6dfe"/><rect x="79.55" y="11.28" width="4.29" height="4.26" fill="#3974fe"/><rect x="83.33" y="11.28" width="4.29" height="4.26" fill="#327bfc"/><rect x="87.12" y="11.28" width="4.29" height="4.26" fill="#2f82fa"/><rect x="90.91" y="11.28" width="4.29" height="4.26" fill="#2d88f6"/><rect x="94.7" y="11.28" width="4.29" height="4.26" fill="#2c8ff1"/><rect x="98.48" y="11.28" width="4.29" height="4.26" fill="#2797eb"/><rect x="102.27" y="11.28" width="4.29" height="4.26" fill="#249ee6"/><rect x="106.06" y="11.28" width="4.29" height="4.26" fill="#1ea7e1"/><rect x="109.85" y="11.28" width="4.29" height="4.26" fill="#15afd9"/><rect x="113.64" y="11.28" width="4.29" height="4.26" fill="#03b7cc"/><rect x="117.42" y="11.28" width="4.29" height="4.26" fill="#0bbdbd"/><rect x="121.21" y="11.28" width="3.79" height="4.26" fill="#26c2ad"/><rect x="0" y="15.04" width="4.29" height="4.26" fill="#422fc2"/><rect x="3.79" y="15.04" width="4.29" height="4.26" fill="#4230c4"/><rect x="7.58" y="15.04" width="4.29" height="4.26" fill="#4331c6"/><rect x="11.36" y="15.04" width="4.29" height="4.26" fill="#4332c9"/><rect x="15.15" y="15.04" width="4.29" height="4.26" fill="#4433cb"/><rect x="18.94" y="15.04" width="4.29" height="4.26" fill="#4434ce"/><rect x="22.73" y="15.04" width="4.29" height="4.26" fill="#4435d1"/><rect x="26.52" y="15.04" width="4.29" height="4.26" fill="#4536d4"/><rect x="30.3" y="15.04" width="4.29" height="4.26" fill="#4538d7"/><rect x="34.09" y="15.04" width="4.29" height="4.26" fill="#463ada"/><rect x="37.88" y="15.04" width="4.29" height="4.26" fill="#463cde"/><rect x="41.67" y="15.04" width="4.29" height="4.26" fill="#473ee1"/><rect x="45.45" y="15.04" width="4.29" height="4.26" fill="#4741e5"/><rect x="49.24" y="15.04" width="4.29" height="4.26" fill="#4744e8"/><rect x="53.03" y="15.04" width="4.29" height="4.26" fill="#4848ec"/><rect x="56.82" y="15.04" width="4.29" height="4.26" fill="#484cef"/><rect x="60.61" y="15.04" width="4.29" height="4.26" fill="#4850f2"/><rect x="64.39" y="15.04" width="4.29" height="4.26" fill="#4756f6"/><rect x="68.18" y="15.04" width="4.29" height="4.26" fill="#475cfa"/><rect x="71.97" y="15.04" width="4.29" height="4.26" fill="#4561fc"/><rect x="75.76" y="15.04" width="4.29" height="4.26" fill="#4466fd"/><rect x="79.55" y="15.04" width="4.29" height="4.26" fill="#406dfe"/><rect x="83.33" y="15.04" width="4.29" height="4.26" fill="#3a74fe"/><rect x="87.12" y="15.04" width="4.29" height="4.26" fill="#337afd"/><rect x="90.91" y="15.04" width="4.29" height="4.26" fill="#2f80fa"/><rect x="94.7" y="15.04" width="4.29" height="4.26" fill="#2e86f7"/><rect x="98.48" y="15.04" width="4.29" height="4.26" fill="#2d8df2"/><rect x="102.27" y="15.04" width="4.29" height="4.26" fill="#2a93ed"/><rect x="106.06" y="15.04" width="4.29" height="4.26" fill="#269ae8"/><rect x="109.85" y="15.04" width="4.29" height="4.26" fill="#23a1e5"/><rect x="113.64" y="15.04" width="4.29" height="4.26" fill="#1da8e0"/><rect x="117.42" y="15.04" width="4.29" height="4.26" fill="#15afd9"/><rect x="121.21" y="15.04" width="3.79" height="4.26" fill="#08b4d1"/><rect x="0" y="18.8" width="4.29" height="4.26" fill="#422fc2"/><rect x="3.79" y="18.8" width="4.29" height="4.26" fill="#4230c4"/><rect x="7.58" y="18.8" width="4.29" height="4.26" fill="#4331c6"/><rect x="11.36" y="18.8" width="4.29" height="4.26" fill="#4331c8"/><rect x="15.15" y="18.8" width="4.29" height="4.26" fill="#4332cb"/><rect x="18.94" y="18.8" width="4.29" height="4.26" fill="#4433cd"/><rect x="22.73" y="18.8" width="4.29" height="4.26" fill="#4434d0"/><rect x="26.52" y="18.8" width="4.29" height="4.26" fill="#4536d3"/><rect x="30.3" y="18.8" width="4.29" height="4.26" fill="#4537d6"/><rect x="34.09" y="18.8" width="4.29" height="4.26" fill="#4539d9"/><rect x="37.88" y="18.8" width="4.29" height="4.26" fill="#463bdc"/><rect x="41.67" y="18.8" width="4.29" height="4.26" fill="#463cdf"/><rect x="45.45" y="18.8" width="4.29" height="4.26" fill="#473fe2"/><rect x="49.24" y="18.8" width="4.29" height="4.26" fill="#4742e6"/><rect x="53.03" y="18.8" width="4.29" height="4.26" fill="#4745e9"/><rect x="56.82" y="18.8" width="4.29" height="4.26" fill="#4848ec"/><rect x="60.61" y="18.8" width="4.29" height="4.26" fill="#484cf0"/><rect x="64.39" y="18.8" width="4.29" height="4.26" fill="#4850f2"/><rect x="68.18" y="18.8" width="4.29" height="4.26" fill="#4755f6"/><rect x="71.97" y="18.8" width="4.29" height="4.26" fill="#475bf9"/><rect x="75.76" y="18.8" width="4.29" height="4.26" fill="#4561fc"/><rect x="79.55" y="18.8" width="4.29" height="4.26" fill="#4466fd"/><rect x="83.33" y="18.8" width="4.29" height="4.26" fill="#416cfe"/><rect x="87.12" y="18.8" width="4.29" height="4.26" fill="#3c72ff"/><rect x="90.91" y="18.8" width="4.29" height="4.26" fill="#3578fd"/><rect x="94.7" y="18.8" width="4.29" height="4.26" fill="#317efb"/><rect x="98.48" y="18.8" width="4.29" height="4.26" fill="#2e83f9"/><rect x="102.27" y="18.8" width="4.29" height="4.26" fill="#2d89f5"/><rect x="106.06" y="18.8" width="4.29" height="4.26" fill="#2c8ff0"/><rect x="109.85" y="18.8" width="4.29" height="4.26" fill="#2895ec"/><rect x="113.64" y="18.8" width="4.29" height="4.26" fill="#269be8"/><rect x="117.42" y="18.8" width="4.29" height="4.26" fill="#23a0e5"/><rect x="121.21" y="18.8" width="3.79" height="4.26" fill="#1fa5e2"/><rect x="0" y="22.56" width="4.29" height="4.26" fill="#422fc2"/><rect x="3.79" y="22.56" width="4.29" height="4.26" fill="#4230c4"/><rect x="7.58" y="22.56" width="4.29" height="4.26" fill="#4331c5"/><rect x="11.36" y="22.56" width="4.29" height="4.26" fill="#4331c8"/><rect x="15.15" y="22.56" width="4.29" height="4.26" fill="#4332ca"/><rect x="18.94" y="22.56" width="4.29" height="4.26" fill="#4433cc"/><rect x="22.73" y="22.56" width="4.29" height="4.26" fill="#4434cf"/><rect x="26.52" y="22.56" width="4.29" height="4.26" fill="#4435d1"/><rect x="30.3" y="22.56" width="4.29" height="4.26" fill="#4536d4"/><rect x="34.09" y="22.56" width="4.29" height="4.26" fill="#4538d7"/><rect x="37.88" y="22.56" width="4.29" height="4.26" fill="#4639da"/><rect x="41.67" y="22.56" width="4.29" height="4.26" fill="#463bdd"/><rect x="45.45" y="22.56" width="4.29" height="4.26" fill="#463de0"/><rect x="49.24" y="22.56" width="4.29" height="4.26" fill="#4740e3"/><rect x="53.03" y="22.56" width="4.29" height="4.26" fill="#4742e7"/><rect x="56.82" y="22.56" width="4.29" height="4.26" fill="#4745ea"/><rect x="60.61" y="22.56" width="4.29" height="4.26" fill="#4848ec"/><rect x="64.39" y="22.56" width="4.29" height="4.26" fill="#484cf0"/><rect x="68.18" y="22.56" width="4.29" height="4.26" fill="#4850f3"/><rect x="71.97" y="22.56" width="4.29" height="4.26" fill="#4854f5"/><rect x="75.76" y="22.56" width="4.29" height="4.26" fill="#475af9"/><rect x="79.55" y="22.56" width="4.29" height="4.26" fill="#4660fb"/><rect x="83.33" y="22.56" width="4.29" height="4.26" fill="#4465fd"/><rect x="87.12" y="22.56" width="4.29" height="4.26" fill="#426afe"/><rect x="90.91" y="22.56" width="4.29" height="4.26" fill="#3e70ff"/><rect x="94.7" y="22.56" width="4.29" height="4.26" fill="#3876fe"/><rect x="98.48" y="22.56" width="4.29" height="4.26" fill="#327bfc"/><rect x="102.27" y="22.56" width="4.29" height="4.26" fill="#2f80fa"/><rect x="106.06" y="22.56" width="4.29" height="4.26" fill="#2e85f8"/><rect x="109.85" y="22.56" width="4.29" height="4.26" fill="#2d8af4"/><rect x="113.64" y="22.56" width="4.29" height="4.26" fill="#2c8ff0"/><rect x="117.42" y="22.56" width="4.29" height="4.26" fill="#2994ed"/><rect x="121.21" y="22.56" width="3.79" height="4.26" fill="#2699ea"/><rect x="0" y="26.32" width="4.29" height="4.26" fill="#422fc2"/><rect x="3.79" y="26.32" width="4.29" height="4.26" fill="#4230c3"/><rect x="7.58" y="26.32" width="4.29" height="4.26" fill="#4330c5"/><rect x="11.36" y="26.32" width="4.29" height="4.26" fill="#4331c7"/><rect x="15.15" y="26.32" width="4.29" height="4.26" fill="#4332c9"/><rect x="18.94" y="26.32" width="4.29" height="4.26" fill="#4433cb"/><rect x="22.73" y="26.32" width="4.29" height="4.26" fill="#4434ce"/><rect x="26.52" y="26.32" width="4.29" height="4.26" fill="#4435d0"/><rect x="30.3" y="26.32" width="4.29" height="4.26" fill="#4536d3"/><rect x="34.09" y="26.32" width="4.29" height="4.26" fill="#4537d6"/><rect x="37.88" y="26.32" width="4.29" height="4.26" fill="#4538d8"/><rect x="41.67" y="26.32" width="4.29" height="4.26" fill="#463adb"/><rect x="45.45" y="26.32" width="4.29" height="4.26" fill="#463cde"/><rect x="49.24" y="26.32" width="4.29" height="4.26" fill="#473ee1"/><rect x="53.03" y="26.32" width="4.29" height="4.26" fill="#4740e4"/><rect x="56.82" y="26.32" width="4.29" height="4.26" fill="#4743e7"/><rect x="60.61" y="26.32" width="4.29" height="4.26" fill="#4746ea"/><rect x="64.39" y="26.32" width="4.29" height="4.26" fill="#4849ed"/><rect x="68.18" y="26.32" width="4.29" height="4.26" fill="#484cf0"/><rect x="71.97" y="26.32" width="4.29" height="4.26" fill="#4850f3"/><rect x="75.76" y="26.32" width="4.29" height="4.26" fill="#4854f5"/><rect x="79.55" y="26.32" width="4.29" height="4.26" fill="#4758f8"/><rect x="83.33" y="26.32" width="4.29" height="4.26" fill="#465efb"/><rect x="87.12" y="26.32" width="4.29" height="4.26" fill="#4564fd"/><rect x="90.91" y="26.32" width="4.29" height="4.26" fill="#4368fe"/><rect x="94.7" y="26.32" width="4.29" height="4.26" fill="#406dfe"/><rect x="98.48" y="26.32" width="4.29" height="4.26" fill="#3b73fe"/><rect x="102.27" y="26.32" width="4.29" height="4.26" fill="#3678fd"/><rect x="106.06" y="26.32" width="4.29" height="4.26" fill="#317dfc"/><rect x="109.85" y="26.32" width="4.29" height="4.26" fill="#2f81fa"/><rect x="113.64" y="26.32" width="4.29" height="4.26" fill="#2e85f8"/><rect x="117.42" y="26.32" width="4.29" height="4.26" fill="#2d88f6"/><rect x="121.21" y="26.32" width="3.79" height="4.26" fill="#2d8df2"/><rect x="0" y="30.08" width="4.29" height="4.26" fill="#422fc1"/><rect x="3.79" y="30.08" width="4.29" height="4.26" fill="#4230c3"/><rect x="7.58" y="30.08" width="4.29" height="4.26" fill="#4330c5"/><rect x="11.36" y="30.08" width="4.29" height="4.26" fill="#4331c6"/><rect x="15.15" y="30.08" width="4.29" height="4.26" fill="#4332c8"/><rect x="18.94" y="30.08" width="4.29" height="4.26" fill="#4332ca"/><rect x="22.73" y="30.08" width="4.29" height="4.26" fill="#4433cd"/><rect x="26.52" y="30.08" width="4.29" height="4.26" fill="#4434cf"/><rect x="30.3" y="30.08" width="4.29" height="4.26" fill="#4435d1"/><rect x="34.09" y="30.08" width="4.29" height="4.26" fill="#4536d4"/><rect x="37.88" y="30.08" width="4.29" height="4.26" fill="#4538d7"/><rect x="41.67" y="30.08" width="4.29" height="4.26" fill="#4639d9"/><rect x="45.45" y="30.08" width="4.29" height="4.26" fill="#463bdc"/><rect x="49.24" y="30.08" width="4.29" height="4.26" fill="#463ddf"/><rect x="53.03" y="30.08" width="4.29" height="4.26" fill="#473fe2"/><rect x="56.82" y="30.08" width="4.29" height="4.26" fill="#4741e5"/><rect x="60.61" y="30.08" width="4.29" height="4.26" fill="#4743e8"/><rect x="64.39" y="30.08" width="4.29" height="4.26" fill="#4746eb"/><rect x="68.18" y="30.08" width="4.29" height="4.26" fill="#4849ed"/><rect x="71.97" y="30.08" width="4.29" height="4.26" fill="#484cf0"/><rect x="75.76" y="30.08" width="4.29" height="4.26" fill="#4850f2"/><rect x="79.55" y="30.08" width="4.29" height="4.26" fill="#4854f5"/><rect x="83.33" y="30.08" width="4.29" height="4.26" fill="#4757f7"/><rect x="87.12" y="30.08" width="4.29" height="4.26" fill="#475cfa"/><rect x="90.91" y="30.08" width="4.29" height="4.26" fill="#4561fc"/><rect x="94.7" y="30.08" width="4.29" height="4.26" fill="#4367fd"/><rect x="98.48" y="30.08" width="4.29" height="4.26" fill="#416bfe"/><rect x="102.27" y="30.08" width="4.29" height="4.26" fill="#3e6fff"/><rect x="106.06" y="30.08" width="4.29" height="4.26" fill="#3a74fe"/><rect x="109.85" y="30.08" width="4.29" height="4.26" fill="#3579fd"/><rect x="113.64" y="30.08" width="4.29" height="4.26" fill="#317dfc"/><rect x="117.42" y="30.08" width="4.29" height="4.26" fill="#2f80fa"/><rect x="121.21" y="30.08" width="3.79" height="4.26" fill="#2e83f9"/><rect x="0" y="33.84" width="4.29" height="4.26" fill="#422fc1"/><rect x="3.79" y="33.84" width="4.29" height="4.26" fill="#422fc3"/><rect x="7.58" y="33.84" width="4.29" height="4.26" fill="#4230c4"/><rect x="11.36" y="33.84" width="4.29" height="4.26" fill="#4331c6"/><rect x="15.15" y="33.84" width="4.29" height="4.26" fill="#4331c8"/><rect x="18.94" y="33.84" width="4.29" height="4.26" fill="#4332ca"/><rect x="22.73" y="33.84" width="4.29" height="4.26" fill="#4433cc"/><rect x="26.52" y="33.84" width="4.29" height="4.26" fill="#4434ce"/><rect x="30.3" y="33.84" width="4.29" height="4.26" fill="#4435d0"/><rect x="34.09" y="33.84" width="4.29" height="4.26" fill="#4536d3"/><rect x="37.88" y="33.84" width="4.29" height="4.26" fill="#4537d5"/><rect x="41.67" y="33.84" width="4.29" height="4.26" fill="#4538d8"/><rect x="45.45" y="33.84" width="4.29" height="4.26" fill="#463adb"/><rect x="49.24" y="33.84" width="4.29" height="4.26" fill="#463bdd"/><rect x="53.03" y="33.84" width="4.29" height="4.26" fill="#463de0"/><rect x="56.82" y="33.84" width="4.29" height="4.26" fill="#473fe3"/><rect x="60.61" y="33.84" width="4.29" height="4.26" fill="#4742e6"/><rect x="64.39" y="33.84" width="4.29" height="4.26" fill="#4744e8"/><rect x="68.18" y="33.84" width="4.29" height="4.26" fill="#4747eb"/><rect x="71.97" y="33.84" width="4.29" height="4.26" fill="#484aee"/><rect x="75.76" y="33.84" width="4.29" height="4.26" fill="#484df0"/><rect x="79.55" y="33.84" width="4.29" height="4.26" fill="#4850f2"/><rect x="83.33" y="33.84" width="4.29" height="4.26" fill="#4853f5"/><rect x="87.12" y="33.84" width="4.29" height="4.26" fill="#4757f7"/><rect x="90.91" y="33.84" width="4.29" height="4.26" fill="#475bf9"/><rect x="94.7" y="33.84" width="4.29" height="4.26" fill="#465ffb"/><rect x="98.48" y="33.84" width="4.29" height="4.26" fill="#4464fd"/><rect x="102.27" y="33.84" width="4.29" height="4.26" fill="#4369fe"/><rect x="106.06" y="33.84" width="4.29" height="4.26" fill="#406dfe"/><rect x="109.85" y="33.84" width="4.29" height="4.26" fill="#3d70ff"/><rect x="113.64" y="33.84" width="4.29" height="4.26" fill="#3974fe"/><rect x="117.42" y="33.84" width="4.29" height="4.26" fill="#3678fd"/><rect x="121.21" y="33.84" width="3.79" height="4.26" fill="#327cfc"/><rect x="0" y="37.6" width="4.29" height="4.26" fill="#422fc1"/><rect x="3.79" y="37.6" width="4.29" height="4.26" fill="#422fc2"/><rect x="7.58" y="37.6" width="4.29" height="4.26" fill="#4230c4"/><rect x="11.36" y="37.6" width="4.29" height="4.26" fill="#4330c5"/><rect x="15.15" y="37.6" width="4.29" height="4.26" fill="#4331c7"/><rect x="18.94" y="37.6" width="4.29" height="4.26" fill="#4332c9"/><rect x="22.73" y="37.6" width="4.29" height="4.26" fill="#4332cb"/><rect x="26.52" y="37.6" width="4.29" height="4.26" fill="#4433cd"/><rect x="30.3" y="37.6" width="4.29" height="4.26" fill="#4434cf"/><rect x="34.09" y="37.6" width="4.29" height="4.26" fill="#4435d1"/><rect x="37.88" y="37.6" width="4.29" height="4.26" fill="#4536d4"/><rect x="41.67" y="37.6" width="4.29" height="4.26" fill="#4537d7"/><rect x="45.45" y="37.6" width="4.29" height="4.26" fill="#4539d9"/><rect x="49.24" y="37.6" width="4.29" height="4.26" fill="#463adc"/><rect x="53.03" y="37.6" width="4.29" height="4.26" fill="#463cde"/><rect x="56.82" y="37.6" width="4.29" height="4.26" fill="#463ee1"/><rect x="60.61" y="37.6" width="4.29" height="4.26" fill="#4740e4"/><rect x="64.39" y="37.6" width="4.29" height="4.26" fill="#4742e6"/><rect x="68.18" y="37.6" width="4.29" height="4.26" fill="#4745e9"/><rect x="71.97" y="37.6" width="4.29" height="4.26" fill="#4747eb"/><rect x="75.76" y="37.6" width="4.29" height="4.26" fill="#484aee"/><rect x="79.55" y="37.6" width="4.29" height="4.26" fill="#484df0"/><rect x="83.33" y="37.6" width="4.29" height="4.26" fill="#4850f3"/><rect x="87.12" y="37.6" width="4.29" height="4.26" fill="#4853f5"/><rect x="90.91" y="37.6" width="4.29" height="4.26" fill="#4757f7"/><rect x="94.7" y="37.6" width="4.29" height="4.26" fill="#475af9"/><rect x="98.48" y="37.6" width="4.29" height="4.26" fill="#465dfb"/><rect x="102.27" y="37.6" width="4.29" height="4.26" fill="#4561fc"/><rect x="106.06" y="37.6" width="4.29" height="4.26" fill="#4466fd"/><rect x="109.85" y="37.6" width="4.29" height="4.26" fill="#426afe"/><rect x="113.64" y="37.6" width="4.29" height="4.26" fill="#406dfe"/><rect x="117.42" y="37.6" width="4.29" height="4.26" fill="#3d70ff"/><rect x="121.21" y="37.6" width="3.79" height="4.26" fill="#3a73fe"/><rect x="0" y="41.36" width="4.29" height="4.26" fill="#422fc1"/><rect x="3.79" y="41.36" width="4.29" height="4.26" fill="#422fc2"/><rect x="7.58" y="41.36" width="4.29" height="4.26" fill="#4230c3"/><rect x="11.36" y="41.36" width="4.29" height="4.26" fill="#4330c5"/><rect x="15.15" y="41.36" width="4.29" height="4.26" fill="#4331c6"/><rect x="18.94" y="41.36" width="4.29" height="4.26" fill="#4331c8"/><rect x="22.73" y="41.36" width="4.29" height="4.26" fill="#4332c9"/><rect x="26.52" y="41.36" width="4.29" height="4.26" fill="#4433cc"/><rect x="30.3" y="41.36" width="4.29" height="4.26" fill="#4434ce"/><rect x="34.09" y="41.36" width="4.29" height="4.26" fill="#4435d0"/><rect x="37.88" y="41.36" width="4.29" height="4.26" fill="#4536d3"/><rect x="41.67" y="41.36" width="4.29" height="4.26" fill="#4537d5"/><rect x="45.45" y="41.36" width="4.29" height="4.26" fill="#4538d8"/><rect x="49.24" y="41.36" width="4.29" height="4.26" fill="#4639da"/><rect x="53.03" y="41.36" width="4.29" height="4.26" fill="#463bdd"/><rect x="56.82" y="41.36" width="4.29" height="4.26" fill="#463ddf"/><rect x="60.61" y="41.36" width="4.29" height="4.26" fill="#473ee2"/><rect x="64.39" y="41.36" width="4.29" height="4.26" fill="#4741e4"/><rect x="68.18" y="41.36" width="4.29" height="4.26" fill="#4743e7"/><rect x="71.97" y="41.36" width="4.29" height="4.26" fill="#4745ea"/><rect x="75.76" y="41.36" width="4.29" height="4.26" fill="#4848ec"/><rect x="79.55" y="41.36" width="4.29" height="4.26" fill="#484bee"/><rect x="83.33" y="41.36" width="4.29" height="4.26" fill="#484df1"/><rect x="87.12" y="41.36" width="4.29" height="4.26" fill="#4850f3"/><rect x="90.91" y="41.36" width="4.29" height="4.26" fill="#4853f5"/><rect x="94.7" y="41.36" width="4.29" height="4.26" fill="#4756f7"/><rect x="98.48" y="41.36" width="4.29" height="4.26" fill="#4759f9"/><rect x="102.27" y="41.36" width="4.29" height="4.26" fill="#475dfa"/><rect x="106.06" y="41.36" width="4.29" height="4.26" fill="#4660fb"/><rect x="109.85" y="41.36" width="4.29" height="4.26" fill="#4563fc"/><rect x="113.64" y="41.36" width="4.29" height="4.26" fill="#4367fd"/><rect x="117.42" y="41.36" width="4.29" height="4.26" fill="#426afe"/><rect x="121.21" y="41.36" width="3.79" height="4.26" fill="#406dfe"/><rect x="0" y="45.12" width="4.29" height="4.26" fill="#422fc1"/><rect x="3.79" y="45.12" width="4.29" height="4.26" fill="#422fc2"/><rect x="7.58" y="45.12" width="4.29" height="4.26" fill="#4230c3"/><rect x="11.36" y="45.12" width="4.29" height="4.26" fill="#4330c5"/><rect x="15.15" y="45.12" width="4.29" height="4.26" fill="#4331c6"/><rect x="18.94" y="45.12" width="4.29" height="4.26" fill="#4331c7"/><rect x="22.73" y="45.12" width="4.29" height="4.26" fill="#4332c9"/><rect x="26.52" y="45.12" width="4.29" height="4.26" fill="#4332cb"/><rect x="30.3" y="45.12" width="4.29" height="4.26" fill="#4433cc"/><rect x="34.09" y="45.12" width="4.29" height="4.26" fill="#4434cf"/><rect x="37.88" y="45.12" width="4.29" height="4.26" fill="#4435d1"/><rect x="41.67" y="45.12" width="4.29" height="4.26" fill="#4536d4"/><rect x="45.45" y="45.12" width="4.29" height="4.26" fill="#4537d6"/><rect x="49.24" y="45.12" width="4.29" height="4.26" fill="#4539d8"/><rect x="53.03" y="45.12" width="4.29" height="4.26" fill="#463adb"/><rect x="56.82" y="45.12" width="4.29" height="4.26" fill="#463bde"/><rect x="60.61" y="45.12" width="4.29" height="4.26" fill="#463de0"/><rect x="64.39" y="45.12" width="4.29" height="4.26" fill="#473fe2"/><rect x="68.18" y="45.12" width="4.29" height="4.26" fill="#4741e5"/><rect x="71.97" y="45.12" width="4.29" height="4.26" fill="#4743e8"/><rect x="75.76" y="45.12" width="4.29" height="4.26" fill="#4746ea"/><rect x="79.55" y="45.12" width="4.29" height="4.26" fill="#4848ec"/><rect x="83.33" y="45.12" width="4.29" height="4.26" fill="#484bef"/><rect x="87.12" y="45.12" width="4.29" height="4.26" fill="#484ef1"/><rect x="90.91" y="45.12" width="4.29" height="4.26" fill="#4851f3"/><rect x="94.7" y="45.12" width="4.29" height="4.26" fill="#4853f5"/><rect x="98.48" y="45.12" width="4.29" height="4.26" fill="#4756f7"/><rect x="102.27" y="45.12" width="4.29" height="4.26" fill="#4759f8"/><rect x="106.06" y="45.12" width="4.29" height="4.26" fill="#475cfa"/><rect x="109.85" y="45.12" width="4.29" height="4.26" fill="#465ffb"/><rect x="113.64" y="45.12" width="4.29" height="4.26" fill="#4562fc"/><rect x="117.42" y="45.12" width="4.29" height="4.26" fill="#4464fd"/><rect x="121.21" y="45.12" width="3.79" height="4.26" fill="#4466fd"/><rect x="0" y="48.88" width="4.29" height="4.26" fill="#422fc0"/><rect x="3.79" y="48.88" width="4.29" height="4.26" fill="#422fc2"/><rect x="7.58" y="48.88" width="4.29" height="4.26" fill="#4230c3"/><rect x="11.36" y="48.88" width="4.29" height="4.26" fill="#4230c4"/><rect x="15.15" y="48.88" width="4.29" height="4.26" fill="#4331c6"/><rect x="18.94" y="48.88" width="4.29" height="4.26" fill="#4331c7"/><rect x="22.73" y="48.88" width="4.29" height="4.26" fill="#4332c9"/><rect x="26.52" y="48.88" width="4.29" height="4.26" fill="#4332ca"/><rect x="30.3" y="48.88" width="4.29" height="4.26" fill="#4433cc"/><rect x="34.09" y="48.88" width="4.29" height="4.26" fill="#4433cd"/><rect x="37.88" y="48.88" width="4.29" height="4.26" fill="#4434cf"/><rect x="41.67" y="48.88" width="4.29" height="4.26" fill="#4535d2"/><rect x="45.45" y="48.88" width="4.29" height="4.26" fill="#4536d5"/><rect x="49.24" y="48.88" width="4.29" height="4.26" fill="#4538d7"/><rect x="53.03" y="48.88" width="4.29" height="4.26" fill="#4639d9"/><rect x="56.82" y="48.88" width="4.29" height="4.26" fill="#463adc"/><rect x="60.61" y="48.88" width="4.29" height="4.26" fill="#463cde"/><rect x="64.39" y="48.88" width="4.29" height="4.26" fill="#463ee1"/><rect x="68.18" y="48.88" width="4.29" height="4.26" fill="#4740e3"/><rect x="71.97" y="48.88" width="4.29" height="4.26" fill="#4742e6"/><rect x="75.76" y="48.88" width="4.29" height="4.26" fill="#4744e8"/><rect x="79.55" y="48.88" width="4.29" height="4.26" fill="#4746eb"/><rect x="83.33" y="48.88" width="4.29" height="4.26" fill="#4849ed"/><rect x="87.12" y="48.88" width="4.29" height="4.26" fill="#484cef"/><rect x="90.91" y="48.88" width="4.29" height="4.26" fill="#484ef1"/><rect x="94.7" y="48.88" width="4.29" height="4.26" fill="#4851f3"/><rect x="98.48" y="48.88" width="4.29" height="4.26" fill="#4854f5"/><rect x="102.27" y="48.88" width="4.29" height="4.26" fill="#4756f7"/><rect x="106.06" y="48.88" width="4.29" height="4.26" fill="#4759f8"/><rect x="109.85" y="48.88" width="4.29" height="4.26" fill="#475bf9"/><rect x="113.64" y="48.88" width="4.29" height="4.26" fill="#465efb"/><rect x="117.42" y="48.88" width="4.29" height="4.26" fill="#4661fc"/><rect x="121.21" y="48.88" width="3.79" height="4.26" fill="#4563fc"/><rect x="0" y="52.64" width="4.29" height="4.26" fill="#422fc0"/><rect x="3.79" y="52.64" width="4.29" height="4.26" fill="#422fc1"/><rect x="7.58" y="52.64" width="4.29" height="4.26" fill="#422fc3"/><rect x="11.36" y="52.64" width="4.29" height="4.26" fill="#4230c4"/><rect x="15.15" y="52.64" width="4.29" height="4.26" fill="#4330c5"/><rect x="18.94" y="52.64" width="4.29" height="4.26" fill="#4331c7"/><rect x="22.73" y="52.64" width="4.29" height="4.26" fill="#4331c8"/><rect x="26.52" y="52.64" width="4.29" height="4.26" fill="#4332ca"/><rect x="30.3" y="52.64" width="4.29" height="4.26" fill="#4433cb"/><rect x="34.09" y="52.64" width="4.29" height="4.26" fill="#4433cd"/><rect x="37.88" y="52.64" width="4.29" height="4.26" fill="#4434ce"/><rect x="41.67" y="52.64" width="4.29" height="4.26" fill="#4435d0"/><rect x="45.45" y="52.64" width="4.29" height="4.26" fill="#4535d2"/><rect x="49.24" y="52.64" width="4.29" height="4.26" fill="#4537d5"/><rect x="53.03" y="52.64" width="4.29" height="4.26" fill="#4538d8"/><rect x="56.82" y="52.64" width="4.29" height="4.26" fill="#4639da"/><rect x="60.61" y="52.64" width="4.29" height="4.26" fill="#463bdd"/><rect x="64.39" y="52.64" width="4.29" height="4.26" fill="#463ddf"/><rect x="68.18" y="52.64" width="4.29" height="4.26" fill="#473ee2"/><rect x="71.97" y="52.64" width="4.29" height="4.26" fill="#4740e4"/><rect x="75.76" y="52.64" width="4.29" height="4.26" fill="#4742e6"/><rect x="79.55" y="52.64" width="4.29" height="4.26" fill="#4744e9"/><rect x="83.33" y="52.64" width="4.29" height="4.26" fill="#4747eb"/><rect x="87.12" y="52.64" width="4.29" height="4.26" fill="#4849ed"/><rect x="90.91" y="52.64" width="4.29" height="4.26" fill="#484cf0"/><rect x="94.7" y="52.64" width="4.29" height="4.26" fill="#484ff2"/><rect x="98.48" y="52.64" width="4.29" height="4.26" fill="#4851f3"/><rect x="102.27" y="52.64" width="4.29" height="4.26" fill="#4854f5"/><rect x="106.06" y="52.64" width="4.29" height="4.26" fill="#4756f7"/><rect x="109.85" y="52.64" width="4.29" height="4.26" fill="#4759f8"/><rect x="113.64" y="52.64" width="4.29" height="4.26" fill="#475bf9"/><rect x="117.42" y="52.64" width="4.29" height="4.26" fill="#465dfb"/><rect x="121.21" y="52.64" width="3.79" height="4.26" fill="#4660fb"/><rect x="0" y="56.4" width="4.29" height="4.26" fill="#422fc0"/><rect x="3.79" y="56.4" width="4.29" height="4.26" fill="#422fc1"/><rect x="7.58" y="56.4" width="4.29" height="4.26" fill="#422fc2"/><rect x="11.36" y="56.4" width="4.29" height="4.26" fill="#4230c4"/><rect x="15.15" y="56.4" width="4.29" height="4.26" fill="#4330c5"/><rect x="18.94" y="56.4" width="4.29" height="4.26" fill="#4331c6"/><rect x="22.73" y="56.4" width="4.29" height="4.26" fill="#4331c8"/><rect x="26.52" y="56.4" width="4.29" height="4.26" fill="#4332c9"/><rect x="30.3" y="56.4" width="4.29" height="4.26" fill="#4332cb"/><rect x="34.09" y="56.4" width="4.29" height="4.26" fill="#4433cc"/><rect x="37.88" y="56.4" width="4.29" height="4.26" fill="#4434ce"/><rect x="41.67" y="56.4" width="4.29" height="4.26" fill="#4434cf"/><rect x="45.45" y="56.4" width="4.29" height="4.26" fill="#4435d1"/><rect x="49.24" y="56.4" width="4.29" height="4.26" fill="#4536d3"/><rect x="53.03" y="56.4" width="4.29" height="4.26" fill="#4537d5"/><rect x="56.82" y="56.4" width="4.29" height="4.26" fill="#4539d8"/><rect x="60.61" y="56.4" width="4.29" height="4.26" fill="#463adb"/><rect x="64.39" y="56.4" width="4.29" height="4.26" fill="#463bde"/><rect x="68.18" y="56.4" width="4.29" height="4.26" fill="#463de0"/><rect x="71.97" y="56.4" width="4.29" height="4.26" fill="#473fe2"/><rect x="75.76" y="56.4" width="4.29" height="4.26" fill="#4741e5"/><rect x="79.55" y="56.4" width="4.29" height="4.26" fill="#4743e7"/><rect x="83.33" y="56.4" width="4.29" height="4.26" fill="#4745e9"/><rect x="87.12" y="56.4" width="4.29" height="4.26" fill="#4747ec"/><rect x="90.91" y="56.4" width="4.29" height="4.26" fill="#484aee"/><rect x="94.7" y="56.4" width="4.29" height="4.26" fill="#484cf0"/><rect x="98.48" y="56.4" width="4.29" height="4.26" fill="#484ff2"/><rect x="102.27" y="56.4" width="4.29" height="4.26" fill="#4852f4"/><rect x="106.06" y="56.4" width="4.29" height="4.26" fill="#4854f5"/><rect x="109.85" y="56.4" width="4.29" height="4.26" fill="#4757f7"/><rect x="113.64" y="56.4" width="4.29" height="4.26" fill="#4759f8"/><rect x="117.42" y="56.4" width="4.29" height="4.26" fill="#475bfa"/><rect x="121.21" y="56.4" width="3.79" height="4.26" fill="#465dfb"/><rect x="0" y="60.16" width="4.29" height="4.26" fill="#422fc0"/><rect x="3.79" y="60.16" width="4.29" height="4.26" fill="#422fc1"/><rect x="7.58" y="60.16" width="4.29" height="4.26" fill="#422fc2"/><rect x="11.36" y="60.16" width="4.29" height="4.26" fill="#4230c3"/><rect x="15.15" y="60.16" width="4.29" height="4.26" fill="#4330c5"/><rect x="18.94" y="60.16" width="4.29" height="4.26" fill="#4331c6"/><rect x="22.73" y="60.16" width="4.29" height="4.26" fill="#4331c7"/><rect x="26.52" y="60.16" width="4.29" height="4.26" fill="#4332c9"/><rect x="30.3" y="60.16" width="4.29" height="4.26" fill="#4332ca"/><rect x="34.09" y="60.16" width="4.29" height="4.26" fill="#4433cc"/><rect x="37.88" y="60.16" width="4.29" height="4.26" fill="#4433cd"/><rect x="41.67" y="60.16" width="4.29" height="4.26" fill="#4434cf"/><rect x="45.45" y="60.16" width="4.29" height="4.26" fill="#4435d0"/><rect x="49.24" y="60.16" width="4.29" height="4.26" fill="#4535d2"/><rect x="53.03" y="60.16" width="4.29" height="4.26" fill="#4536d4"/><rect x="56.82" y="60.16" width="4.29" height="4.26" fill="#4537d6"/><rect x="60.61" y="60.16" width="4.29" height="4.26" fill="#4538d8"/><rect x="64.39" y="60.16" width="4.29" height="4.26" fill="#463adc"/><rect x="68.18" y="60.16" width="4.29" height="4.26" fill="#463cde"/><rect x="71.97" y="60.16" width="4.29" height="4.26" fill="#463ee1"/><rect x="75.76" y="60.16" width="4.29" height="4.26" fill="#473fe3"/><rect x="79.55" y="60.16" width="4.29" height="4.26" fill="#4741e5"/><rect x="83.33" y="60.16" width="4.29" height="4.26" fill="#4743e8"/><rect x="87.12" y="60.16" width="4.29" height="4.26" fill="#4746ea"/><rect x="90.91" y="60.16" width="4.29" height="4.26" fill="#4848ec"/><rect x="94.7" y="60.16" width="4.29" height="4.26" fill="#484aee"/><rect x="98.48" y="60.16" width="4.29" height="4.26" fill="#484df0"/><rect x="102.27" y="60.16" width="4.29" height="4.26" fill="#4850f2"/><rect x="106.06" y="60.16" width="4.29" height="4.26" fill="#4852f4"/><rect x="109.85" y="60.16" width="4.29" height="4.26" fill="#4855f6"/><rect x="113.64" y="60.16" width="4.29" height="4.26" fill="#4757f7"/><rect x="117.42" y="60.16" width="4.29" height="4.26" fill="#4759f9"/><rect x="121.21" y="60.16" width="3.79" height="4.26" fill="#475cfa"/><rect x="0" y="63.92" width="4.29" height="4.26" fill="#422fc0"/><rect x="3.79" y="63.92" width="4.29" height="4.26" fill="#422fc1"/><rect x="7.58" y="63.92" width="4.29" height="4.26" fill="#422fc2"/><rect x="11.36" y="63.92" width="4.29" height="4.26" fill="#4230c3"/><rect x="15.15" y="63.92" width="4.29" height="4.26" fill="#4230c4"/><rect x="18.94" y="63.92" width="4.29" height="4.26" fill="#4331c6"/><rect x="22.73" y="63.92" width="4.29" height="4.26" fill="#4331c7"/><rect x="26.52" y="63.92" width="4.29" height="4.26" fill="#4331c8"/><rect x="30.3" y="63.92" width="4.29" height="4.26" fill="#4332ca"/><rect x="34.09" y="63.92" width="4.29" height="4.26" fill="#4433cb"/><rect x="37.88" y="63.92" width="4.29" height="4.26" fill="#4433cc"/><rect x="41.67" y="63.92" width="4.29" height="4.26" fill="#4434ce"/><rect x="45.45" y="63.92" width="4.29" height="4.26" fill="#4434d0"/><rect x="49.24" y="63.92" width="4.29" height="4.26" fill="#4435d1"/><rect x="53.03" y="63.92" width="4.29" height="4.26" fill="#4536d3"/><rect x="56.82" y="63.92" width="4.29" height="4.26" fill="#4537d5"/><rect x="60.61" y="63.92" width="4.29" height="4.26" fill="#4538d7"/><rect x="64.39" y="63.92" width="4.29" height="4.26" fill="#4539d9"/><rect x="68.18" y="63.92" width="4.29" height="4.26" fill="#463bdc"/><rect x="71.97" y="63.92" width="4.29" height="4.26" fill="#463cdf"/><rect x="75.76" y="63.92" width="4.29" height="4.26" fill="#473ee1"/><rect x="79.55" y="63.92" width="4.29" height="4.26" fill="#4740e4"/><rect x="83.33" y="63.92" width="4.29" height="4.26" fill="#4742e6"/><rect x="87.12" y="63.92" width="4.29" height="4.26" fill="#4744e8"/><rect x="90.91" y="63.92" width="4.29" height="4.26" fill="#4746ea"/><rect x="94.7" y="63.92" width="4.29" height="4.26" fill="#4848ec"/><rect x="98.48" y="63.92" width="4.29" height="4.26" fill="#484bee"/><rect x="102.27" y="63.92" width="4.29" height="4.26" fill="#484df1"/><rect x="106.06" y="63.92" width="4.29" height="4.26" fill="#4850f2"/><rect x="109.85" y="63.92" width="4.29" height="4.26" fill="#4852f4"/><rect x="113.64" y="63.92" width="4.29" height="4.26" fill="#4755f6"/><rect x="117.42" y="63.92" width="4.29" height="4.26" fill="#4757f7"/><rect x="121.21" y="63.92" width="3.79" height="4.26" fill="#475af9"/><rect x="0" y="67.68" width="4.29" height="4.26" fill="#422ec0"/><rect x="3.79" y="67.68" width="4.29" height="4.26" fill="#422fc1"/><rect x="7.58" y="67.68" width="4.29" height="4.26" fill="#422fc2"/><rect x="11.36" y="67.68" width="4.29" height="4.26" fill="#4230c3"/><rect x="15.15" y="67.68" width="4.29" height="4.26" fill="#4230c4"/><rect x="18.94" y="67.68" width="4.29" height="4.26" fill="#4330c5"/><rect x="22.73" y="67.68" width="4.29" height="4.26" fill="#4331c6"/><rect x="26.52" y="67.68" width="4.29" height="4.26" fill="#4331c8"/><rect x="30.3" y="67.68" width="4.29" height="4.26" fill="#4332c9"/><rect x="34.09" y="67.68" width="4.29" height="4.26" fill="#4332cb"/><rect x="37.88" y="67.68" width="4.29" height="4.26" fill="#4433cc"/><rect x="41.67" y="67.68" width="4.29" height="4.26" fill="#4433cd"/><rect x="45.45" y="67.68" width="4.29" height="4.26" fill="#4434cf"/><rect x="49.24" y="67.68" width="4.29" height="4.26" fill="#4435d1"/><rect x="53.03" y="67.68" width="4.29" height="4.26" fill="#4536d2"/><rect x="56.82" y="67.68" width="4.29" height="4.26" fill="#4536d4"/><rect x="60.61" y="67.68" width="4.29" height="4.26" fill="#4537d6"/><rect x="64.39" y="67.68" width="4.29" height="4.26" fill="#4538d8"/><rect x="68.18" y="67.68" width="4.29" height="4.26" fill="#4639da"/><rect x="71.97" y="67.68" width="4.29" height="4.26" fill="#463adc"/><rect x="75.76" y="67.68" width="4.29" height="4.26" fill="#463de0"/><rect x="79.55" y="67.68" width="4.29" height="4.26" fill="#473fe2"/><rect x="83.33" y="67.68" width="4.29" height="4.26" fill="#4741e4"/><rect x="87.12" y="67.68" width="4.29" height="4.26" fill="#4743e7"/><rect x="90.91" y="67.68" width="4.29" height="4.26" fill="#4745e9"/><rect x="94.7" y="67.68" width="4.29" height="4.26" fill="#4747eb"/><rect x="98.48" y="67.68" width="4.29" height="4.26" fill="#4849ed"/><rect x="102.27" y="67.68" width="4.29" height="4.26" fill="#484bef"/><rect x="106.06" y="67.68" width="4.29" height="4.26" fill="#484ef1"/><rect x="109.85" y="67.68" width="4.29" height="4.26" fill="#4850f3"/><rect x="113.64" y="67.68" width="4.29" height="4.26" fill="#4853f5"/><rect x="117.42" y="67.68" width="4.29" height="4.26" fill="#4755f6"/><rect x="121.21" y="67.68" width="3.79" height="4.26" fill="#4758f8"/><rect x="0" y="71.44" width="4.29" height="4.26" fill="#422ec0"/><rect x="3.79" y="71.44" width="4.29" height="4.26" fill="#422fc1"/><rect x="7.58" y="71.44" width="4.29" height="4.26" fill="#422fc2"/><rect x="11.36" y="71.44" width="4.29" height="4.26" fill="#422fc3"/><rect x="15.15" y="71.44" width="4.29" height="4.26" fill="#4230c4"/><rect x="18.94" y="71.44" width="4.29" height="4.26" fill="#4330c5"/><rect x="22.73" y="71.44" width="4.29" height="4.26" fill="#4331c6"/><rect x="26.52" y="71.44" width="4.29" height="4.26" fill="#4331c7"/><rect x="30.3" y="71.44" width="4.29" height="4.26" fill="#4332c9"/><rect x="34.09" y="71.44" width="4.29" height="4.26" fill="#4332ca"/><rect x="37.88" y="71.44" width="4.29" height="4.26" fill="#4433cc"/><rect x="41.67" y="71.44" width="4.29" height="4.26" fill="#4433cd"/><rect x="45.45" y="71.44" width="4.29" height="4.26" fill="#4434ce"/><rect x="49.24" y="71.44" width="4.29" height="4.26" fill="#4435d0"/><rect x="53.03" y="71.44" width="4.29" height="4.26" fill="#4435d2"/><rect x="56.82" y="71.44" width="4.29" height="4.26" fill="#4536d3"/><rect x="60.61" y="71.44" width="4.29" height="4.26" fill="#4537d5"/><rect x="64.39" y="71.44" width="4.29" height="4.26" fill="#4538d7"/><rect x="68.18" y="71.44" width="4.29" height="4.26" fill="#4539d9"/><rect x="71.97" y="71.44" width="4.29" height="4.26" fill="#463adb"/><rect x="75.76" y="71.44" width="4.29" height="4.26" fill="#463bdd"/><rect x="79.55" y="71.44" width="4.29" height="4.26" fill="#463de0"/><rect x="83.33" y="71.44" width="4.29" height="4.26" fill="#473fe3"/><rect x="87.12" y="71.44" width="4.29" height="4.26" fill="#4741e5"/><rect x="90.91" y="71.44" width="4.29" height="4.26" fill="#4743e7"/><rect x="94.7" y="71.44" width="4.29" height="4.26" fill="#4745e9"/><rect x="98.48" y="71.44" width="4.29" height="4.26" fill="#4747ec"/><rect x="102.27" y="71.44" width="4.29" height="4.26" fill="#484aed"/><rect x="106.06" y="71.44" width="4.29" height="4.26" fill="#484cef"/><rect x="109.85" y="71.44" width="4.29" height="4.26" fill="#484ef1"/><rect x="113.64" y="71.44" width="4.29" height="4.26" fill="#4851f3"/><rect x="117.42" y="71.44" width="4.29" height="4.26" fill="#4853f5"/><rect x="121.21" y="71.44" width="3.79" height="4.26" fill="#4756f6"/><rect x="0" y="75.2" width="4.29" height="4.26" fill="#422ec0"/><rect x="3.79" y="75.2" width="4.29" height="4.26" fill="#422fc0"/><rect x="7.58" y="75.2" width="4.29" height="4.26" fill="#422fc1"/><rect x="11.36" y="75.2" width="4.29" height="4.26" fill="#422fc2"/><rect x="15.15" y="75.2" width="4.29" height="4.26" fill="#4230c3"/><rect x="18.94" y="75.2" width="4.29" height="4.26" fill="#4330c4"/><rect x="22.73" y="75.2" width="4.29" height="4.26" fill="#4331c6"/><rect x="26.52" y="75.2" width="4.29" height="4.26" fill="#4331c7"/><rect x="30.3" y="75.2" width="4.29" height="4.26" fill="#4332c8"/><rect x="34.09" y="75.2" width="4.29" height="4.26" fill="#4332ca"/><rect x="37.88" y="75.2" width="4.29" height="4.26" fill="#4433cb"/><rect x="41.67" y="75.2" width="4.29" height="4.26" fill="#4433cc"/><rect x="45.45" y="75.2" width="4.29" height="4.26" fill="#4434ce"/><rect x="49.24" y="75.2" width="4.29" height="4.26" fill="#4434cf"/><rect x="53.03" y="75.2" width="4.29" height="4.26" fill="#4435d1"/><rect x="56.82" y="75.2" width="4.29" height="4.26" fill="#4536d3"/><rect x="60.61" y="75.2" width="4.29" height="4.26" fill="#4536d4"/><rect x="64.39" y="75.2" width="4.29" height="4.26" fill="#4537d6"/><rect x="68.18" y="75.2" width="4.29" height="4.26" fill="#4538d8"/><rect x="71.97" y="75.2" width="4.29" height="4.26" fill="#4639da"/><rect x="75.76" y="75.2" width="4.29" height="4.26" fill="#463adc"/><rect x="79.55" y="75.2" width="4.29" height="4.26" fill="#463bde"/><rect x="83.33" y="75.2" width="4.29" height="4.26" fill="#463ddf"/><rect x="87.12" y="75.2" width="4.29" height="4.26" fill="#4740e3"/><rect x="90.91" y="75.2" width="4.29" height="4.26" fill="#4742e6"/><rect x="94.7" y="75.2" width="4.29" height="4.26" fill="#4744e8"/><rect x="98.48" y="75.2" width="4.29" height="4.26" fill="#4746ea"/><rect x="102.27" y="75.2" width="4.29" height="4.26" fill="#4848ec"/><rect x="106.06" y="75.2" width="4.29" height="4.26" fill="#484aee"/><rect x="109.85" y="75.2" width="4.29" height="4.26" fill="#484df0"/><rect x="113.64" y="75.2" width="4.29" height="4.26" fill="#484ff2"/><rect x="117.42" y="75.2" width="4.29" height="4.26" fill="#4851f4"/><rect x="121.21" y="75.2" width="3.79" height="4.26" fill="#4854f5"/><rect x="0" y="78.96" width="4.29" height="4.26" fill="#422ebf"/><rect x="3.79" y="78.96" width="4.29" height="4.26" fill="#422fc0"/><rect x="7.58" y="78.96" width="4.29" height="4.26" fill="#422fc1"/><rect x="11.36" y="78.96" width="4.29" height="4.26" fill="#422fc2"/><rect x="15.15" y="78.96" width="4.29" height="4.26" fill="#4230c3"/><rect x="18.94" y="78.96" width="4.29" height="4.26" fill="#4230c4"/><rect x="22.73" y="78.96" width="4.29" height="4.26" fill="#4330c5"/><rect x="26.52" y="78.96" width="4.29" height="4.26" fill="#4331c6"/><rect x="30.3" y="78.96" width="4.29" height="4.26" fill="#4331c8"/><rect x="34.09" y="78.96" width="4.29" height="4.26" fill="#4332c9"/><rect x="37.88" y="78.96" width="4.29" height="4.26" fill="#4332cb"/><rect x="41.67" y="78.96" width="4.29" height="4.26" fill="#4433cc"/><rect x="45.45" y="78.96" width="4.29" height="4.26" fill="#4434cd"/><rect x="49.24" y="78.96" width="4.29" height="4.26" fill="#4434cf"/><rect x="53.03" y="78.96" width="4.29" height="4.26" fill="#4435d0"/><rect x="56.82" y="78.96" width="4.29" height="4.26" fill="#4535d2"/><rect x="60.61" y="78.96" width="4.29" height="4.26" fill="#4536d4"/><rect x="64.39" y="78.96" width="4.29" height="4.26" fill="#4537d5"/><rect x="68.18" y="78.96" width="4.29" height="4.26" fill="#4538d7"/><rect x="71.97" y="78.96" width="4.29" height="4.26" fill="#4539d9"/><rect x="75.76" y="78.96" width="4.29" height="4.26" fill="#463adb"/><rect x="79.55" y="78.96" width="4.29" height="4.26" fill="#463bdd"/><rect x="83.33" y="78.96" width="4.29" height="4.26" fill="#463cde"/><rect x="87.12" y="78.96" width="4.29" height="4.26" fill="#463de0"/><rect x="90.91" y="78.96" width="4.29" height="4.26" fill="#4740e4"/><rect x="94.7" y="78.96" width="4.29" height="4.26" fill="#4742e6"/><rect x="98.48" y="78.96" width="4.29" height="4.26" fill="#4744e9"/><rect x="102.27" y="78.96" width="4.29" height="4.26" fill="#4747eb"/><rect x="106.06" y="78.96" width="4.29" height="4.26" fill="#4849ed"/><rect x="109.85" y="78.96" width="4.29" height="4.26" fill="#484bef"/><rect x="113.64" y="78.96" width="4.29" height="4.26" fill="#484df1"/><rect x="117.42" y="78.96" width="4.29" height="4.26" fill="#484ff2"/><rect x="121.21" y="78.96" width="3.79" height="4.26" fill="#4852f4"/><rect x="0" y="82.72" width="4.29" height="4.26" fill="#422ebf"/><rect x="3.79" y="82.72" width="4.29" height="4.26" fill="#422fc0"/><rect x="7.58" y="82.72" width="4.29" height="4.26" fill="#422fc1"/><rect x="11.36" y="82.72" width="4.29" height="4.26" fill="#422fc2"/><rect x="15.15" y="82.72" width="4.29" height="4.26" fill="#4230c3"/><rect x="18.94" y="82.72" width="4.29" height="4.26" fill="#4230c4"/><rect x="22.73" y="82.72" width="4.29" height="4.26" fill="#4330c5"/><rect x="26.52" y="82.72" width="4.29" height="4.26" fill="#4331c6"/><rect x="30.3" y="82.72" width="4.29" height="4.26" fill="#4331c7"/><rect x="34.09" y="82.72" width="4.29" height="4.26" fill="#4332c8"/><rect x="37.88" y="82.72" width="4.29" height="4.26" fill="#4332ca"/><rect x="41.67" y="82.72" width="4.29" height="4.26" fill="#4433cb"/><rect x="45.45" y="82.72" width="4.29" height="4.26" fill="#4433cd"/><rect x="49.24" y="82.72" width="4.29" height="4.26" fill="#4434ce"/><rect x="53.03" y="82.72" width="4.29" height="4.26" fill="#4435d0"/><rect x="56.82" y="82.72" width="4.29" height="4.26" fill="#4435d1"/><rect x="60.61" y="82.72" width="4.29" height="4.26" fill="#4536d3"/><rect x="64.39" y="82.72" width="4.29" height="4.26" fill="#4537d5"/><rect x="68.18" y="82.72" width="4.29" height="4.26" fill="#4537d6"/><rect x="71.97" y="82.72" width="4.29" height="4.26" fill="#4538d8"/><rect x="75.76" y="82.72" width="4.29" height="4.26" fill="#4639da"/><rect x="79.55" y="82.72" width="4.29" height="4.26" fill="#463adc"/><rect x="83.33" y="82.72" width="4.29" height="4.26" fill="#463bde"/><rect x="87.12" y="82.72" width="4.29" height="4.26" fill="#463ddf"/><rect x="90.91" y="82.72" width="4.29" height="4.26" fill="#463ee1"/><rect x="94.7" y="82.72" width="4.29" height="4.26" fill="#4741e5"/><rect x="98.48" y="82.72" width="4.29" height="4.26" fill="#4743e7"/><rect x="102.27" y="82.72" width="4.29" height="4.26" fill="#4745e9"/><rect x="106.06" y="82.72" width="4.29" height="4.26" fill="#4747eb"/><rect x="109.85" y="82.72" width="4.29" height="4.26" fill="#484aed"/><rect x="113.64" y="82.72" width="4.29" height="4.26" fill="#484cef"/><rect x="117.42" y="82.72" width="4.29" height="4.26" fill="#484ef1"/><rect x="121.21" y="82.72" width="3.79" height="4.26" fill="#4850f3"/><rect x="0" y="86.48" width="4.29" height="4.26" fill="#422ebf"/><rect x="3.79" y="86.48" width="4.29" height="4.26" fill="#422fc0"/><rect x="7.58" y="86.48" width="4.29" height="4.26" fill="#422fc1"/><rect x="11.36" y="86.48" width="4.29" height="4.26" fill="#422fc2"/><rect x="15.15" y="86.48" width="4.29" height="4.26" fill="#4230c3"/><rect x="18.94" y="86.48" width="4.29" height="4.26" fill="#4230c4"/><rect x="22.73" y="86.48" width="4.29" height="4.26" fill="#4330c5"/><rect x="26.52" y="86.48" width="4.29" height="4.26" fill="#4331c6"/><rect x="30.3" y="86.48" width="4.29" height="4.26" fill="#4331c7"/><rect x="34.09" y="86.48" width="4.29" height="4.26" fill="#4331c8"/><rect x="37.88" y="86.48" width="4.29" height="4.26" fill="#4332c9"/><rect x="41.67" y="86.48" width="4.29" height="4.26" fill="#4432cb"/><rect x="45.45" y="86.48" width="4.29" height="4.26" fill="#4433cc"/><rect x="49.24" y="86.48" width="4.29" height="4.26" fill="#4434ce"/><rect x="53.03" y="86.48" width="4.29" height="4.26" fill="#4434cf"/><rect x="56.82" y="86.48" width="4.29" height="4.26" fill="#4435d1"/><rect x="60.61" y="86.48" width="4.29" height="4.26" fill="#4536d3"/><rect x="64.39" y="86.48" width="4.29" height="4.26" fill="#4536d4"/><rect x="68.18" y="86.48" width="4.29" height="4.26" fill="#4537d6"/><rect x="71.97" y="86.48" width="4.29" height="4.26" fill="#4538d7"/><rect x="75.76" y="86.48" width="4.29" height="4.26" fill="#4539d9"/><rect x="79.55" y="86.48" width="4.29" height="4.26" fill="#463adb"/><rect x="83.33" y="86.48" width="4.29" height="4.26" fill="#463bdd"/><rect x="87.12" y="86.48" width="4.29" height="4.26" fill="#463cde"/><rect x="90.91" y="86.48" width="4.29" height="4.26" fill="#463de0"/><rect x="94.7" y="86.48" width="4.29" height="4.26" fill="#473fe2"/><rect x="98.48" y="86.48" width="4.29" height="4.26" fill="#4740e4"/><rect x="102.27" y="86.48" width="4.29" height="4.26" fill="#4744e8"/><rect x="106.06" y="86.48" width="4.29" height="4.26" fill="#4746ea"/><rect x="109.85" y="86.48" width="4.29" height="4.26" fill="#4848ec"/><rect x="113.64" y="86.48" width="4.29" height="4.26" fill="#484aee"/><rect x="117.42" y="86.48" width="4.29" height="4.26" fill="#484df0"/><rect x="121.21" y="86.48" width="3.79" height="4.26" fill="#484ff2"/><rect x="0" y="90.24" width="4.29" height="4.26" fill="#422ebf"/><rect x="3.79" y="90.24" width="4.29" height="4.26" fill="#422fc0"/><rect x="7.58" y="90.24" width="4.29" height="4.26" fill="#422fc1"/><rect x="11.36" y="90.24" width="4.29" height="4.26" fill="#422fc2"/><rect x="15.15" y="90.24" width="4.29" height="4.26" fill="#4230c3"/><rect x="18.94" y="90.24" width="4.29" height="4.26" fill="#4230c4"/><rect x="22.73" y="90.24" width="4.29" height="4.26" fill="#4330c5"/><rect x="26.52" y="90.24" width="4.29" height="4.26" fill="#4331c6"/><rect x="30.3" y="90.24" width="4.29" height="4.26" fill="#4331c7"/><rect x="34.09" y="90.24" width="4.29" height="4.26" fill="#4331c8"/><rect x="37.88" y="90.24" width="4.29" height="4.26" fill="#4332c9"/><rect x="41.67" y="90.24" width="4.29" height="4.26" fill="#4332ca"/><rect x="45.45" y="90.24" width="4.29" height="4.26" fill="#4433cc"/><rect x="49.24" y="90.24" width="4.29" height="4.26" fill="#4433cd"/><rect x="53.03" y="90.24" width="4.29" height="4.26" fill="#4434cf"/><rect x="56.82" y="90.24" width="4.29" height="4.26" fill="#4435d0"/><rect x="60.61" y="90.24" width="4.29" height="4.26" fill="#4535d2"/><rect x="64.39" y="90.24" width="4.29" height="4.26" fill="#4536d4"/><rect x="68.18" y="90.24" width="4.29" height="4.26" fill="#4537d5"/><rect x="71.97" y="90.24" width="4.29" height="4.26" fill="#4538d7"/><rect x="75.76" y="90.24" width="4.29" height="4.26" fill="#4538d8"/><rect x="79.55" y="90.24" width="4.29" height="4.26" fill="#463ada"/><rect x="83.33" y="90.24" width="4.29" height="4.26" fill="#463bdc"/><rect x="87.12" y="90.24" width="4.29" height="4.26" fill="#463cde"/><rect x="90.91" y="90.24" width="4.29" height="4.26" fill="#463de0"/><rect x="94.7" y="90.24" width="4.29" height="4.26" fill="#473ee1"/><rect x="98.48" y="90.24" width="4.29" height="4.26" fill="#4740e3"/><rect x="102.27" y="90.24" width="4.29" height="4.26" fill="#4741e5"/><rect x="106.06" y="90.24" width="4.29" height="4.26" fill="#4744e9"/><rect x="109.85" y="90.24" width="4.29" height="4.26" fill="#4747eb"/><rect x="113.64" y="90.24" width="4.29" height="4.26" fill="#4849ed"/><rect x="117.42" y="90.24" width="4.29" height="4.26" fill="#484bef"/><rect x="121.21" y="90.24" width="3.79" height="4.26" fill="#484ef1"/><rect x="0" y="94" width="4.29" height="4.26" fill="#422ebf"/><rect x="3.79" y="94" width="4.29" height="4.26" fill="#422fc0"/><rect x="7.58" y="94" width="4.29" height="4.26" fill="#422fc1"/><rect x="11.36" y="94" width="4.29" height="4.26" fill="#422fc2"/><rect x="15.15" y="94" width="4.29" height="4.26" fill="#4230c3"/><rect x="18.94" y="94" width="4.29" height="4.26" fill="#4230c4"/><rect x="22.73" y="94" width="4.29" height="4.26" fill="#4330c5"/><rect x="26.52" y="94" width="4.29" height="4.26" fill="#4331c6"/><rect x="30.3" y="94" width="4.29" height="4.26" fill="#4331c7"/><rect x="34.09" y="94" width="4.29" height="4.26" fill="#4331c8"/><rect x="37.88" y="94" width="4.29" height="4.26" fill="#4332c9"/><rect x="41.67" y="94" width="4.29" height="4.26" fill="#4332ca"/><rect x="45.45" y="94" width="4.29" height="4.26" fill="#4433cb"/><rect x="49.24" y="94" width="4.29" height="4.26" fill="#4433cd"/><rect x="53.03" y="94" width="4.29" height="4.26" fill="#4434ce"/><rect x="56.82" y="94" width="4.29" height="4.26" fill="#4435d0"/><rect x="60.61" y="94" width="4.29" height="4.26" fill="#4435d2"/><rect x="64.39" y="94" width="4.29" height="4.26" fill="#4536d3"/><rect x="68.18" y="94" width="4.29" height="4.26" fill="#4537d5"/><rect x="71.97" y="94" width="4.29" height="4.26" fill="#4537d7"/><rect x="75.76" y="94" width="4.29" height="4.26" fill="#4538d8"/><rect x="79.55" y="94" width="4.29" height="4.26" fill="#4639da"/><rect x="83.33" y="94" width="4.29" height="4.26" fill="#463adb"/><rect x="87.12" y="94" width="4.29" height="4.26" fill="#463bdd"/><rect x="90.91" y="94" width="4.29" height="4.26" fill="#463cdf"/><rect x="94.7" y="94" width="4.29" height="4.26" fill="#463ee1"/><rect x="98.48" y="94" width="4.29" height="4.26" fill="#473fe2"/><rect x="102.27" y="94" width="4.29" height="4.26" fill="#4740e4"/><rect x="106.06" y="94" width="4.29" height="4.26" fill="#4742e6"/><rect x="109.85" y="94" width="4.29" height="4.26" fill="#4745e9"/><rect x="113.64" y="94" width="4.29" height="4.26" fill="#4848ec"/><rect x="117.42" y="94" width="4.29" height="4.26" fill="#484aee"/><rect x="121.21" y="94" width="3.79" height="4.26" fill="#484cf0"/><rect x="0" y="97.76" width="4.29" height="4.26" fill="#422ebf"/><rect x="3.79" y="97.76" width="4.29" height="4.26" fill="#422ec0"/><rect x="7.58" y="97.76" width="4.29" height="4.26" fill="#422fc1"/><rect x="11.36" y="97.76" width="4.29" height="4.26" fill="#422fc2"/><rect x="15.15" y="97.76" width="4.29" height="4.26" fill="#4230c3"/><rect x="18.94" y="97.76" width="4.29" height="4.26" fill="#4230c4"/><rect x="22.73" y="97.76" width="4.29" height="4.26" fill="#4330c5"/><rect x="26.52" y="97.76" width="4.29" height="4.26" fill="#4331c6"/><rect x="30.3" y="97.76" width="4.29" height="4.26" fill="#4331c7"/><rect x="34.09" y="97.76" width="4.29" height="4.26" fill="#4331c8"/><rect x="37.88" y="97.76" width="4.29" height="4.26" fill="#4332c9"/><rect x="41.67" y="97.76" width="4.29" height="4.26" fill="#4332ca"/><rect x="45.45" y="97.76" width="4.29" height="4.26" fill="#4433cb"/><rect x="49.24" y="97.76" width="4.29" height="4.26" fill="#4433cc"/><rect x="53.03" y="97.76" width="4.29" height="4.26" fill="#4434ce"/><rect x="56.82" y="97.76" width="4.29" height="4.26" fill="#4434cf"/><rect x="60.61" y="97.76" width="4.29" height="4.26" fill="#4435d1"/><rect x="64.39" y="97.76" width="4.29" height="4.26" fill="#4536d3"/><rect x="68.18" y="97.76" width="4.29" height="4.26" fill="#4536d5"/><rect x="71.97" y="97.76" width="4.29" height="4.26" fill="#4537d6"/><rect x="75.76" y="97.76" width="4.29" height="4.26" fill="#4538d8"/><rect x="79.55" y="97.76" width="4.29" height="4.26" fill="#4639d9"/><rect x="83.33" y="97.76" width="4.29" height="4.26" fill="#463adb"/><rect x="87.12" y="97.76" width="4.29" height="4.26" fill="#463bdd"/><rect x="90.91" y="97.76" width="4.29" height="4.26" fill="#463cdf"/><rect x="94.7" y="97.76" width="4.29" height="4.26" fill="#463de0"/><rect x="98.48" y="97.76" width="4.29" height="4.26" fill="#473fe2"/><rect x="102.27" y="97.76" width="4.29" height="4.26" fill="#4740e3"/><rect x="106.06" y="97.76" width="4.29" height="4.26" fill="#4741e5"/><rect x="109.85" y="97.76" width="4.29" height="4.26" fill="#4743e7"/><rect x="113.64" y="97.76" width="4.29" height="4.26" fill="#4746ea"/><rect x="117.42" y="97.76" width="4.29" height="4.26" fill="#4849ec"/><rect x="121.21" y="97.76" width="3.79" height="4.26" fill="#484bef"/><rect x="0" y="101.52" width="4.29" height="4.26" fill="#422ebf"/><rect x="3.79" y="101.52" width="4.29" height="4.26" fill="#422ec0"/><rect x="7.58" y="101.52" width="4.29" height="4.26" fill="#422fc1"/><rect x="11.36" y="101.52" width="4.29" height="4.26" fill="#422fc2"/><rect x="15.15" y="101.52" width="4.29" height="4.26" fill="#4230c3"/><rect x="18.94" y="101.52" width="4.29" height="4.26" fill="#4230c4"/><rect x="22.73" y="101.52" width="4.29" height="4.26" fill="#4330c5"/><rect x="26.52" y="101.52" width="4.29" height="4.26" fill="#4331c6"/><rect x="30.3" y="101.52" width="4.29" height="4.26" fill="#4331c7"/><rect x="34.09" y="101.52" width="4.29" height="4.26" fill="#4331c8"/><rect x="37.88" y="101.52" width="4.29" height="4.26" fill="#4332c9"/><rect x="41.67" y="101.52" width="4.29" height="4.26" fill="#4332ca"/><rect x="45.45" y="101.52" width="4.29" height="4.26" fill="#4433cb"/><rect x="49.24" y="101.52" width="4.29" height="4.26" fill="#4433cc"/><rect x="53.03" y="101.52" width="4.29" height="4.26" fill="#4433cd"/><rect x="56.82" y="101.52" width="4.29" height="4.26" fill="#4434cf"/><rect x="60.61" y="101.52" width="4.29" height="4.26" fill="#4435d0"/><rect x="64.39" y="101.52" width="4.29" height="4.26" fill="#4536d2"/><rect x="68.18" y="101.52" width="4.29" height="4.26" fill="#4536d4"/><rect x="71.97" y="101.52" width="4.29" height="4.26" fill="#4537d6"/><rect x="75.76" y="101.52" width="4.29" height="4.26" fill="#4538d7"/><rect x="79.55" y="101.52" width="4.29" height="4.26" fill="#4539d9"/><rect x="83.33" y="101.52" width="4.29" height="4.26" fill="#463adb"/><rect x="87.12" y="101.52" width="4.29" height="4.26" fill="#463bdc"/><rect x="90.91" y="101.52" width="4.29" height="4.26" fill="#463cde"/><rect x="94.7" y="101.52" width="4.29" height="4.26" fill="#463de0"/><rect x="98.48" y="101.52" width="4.29" height="4.26" fill="#473ee1"/><rect x="102.27" y="101.52" width="4.29" height="4.26" fill="#4740e3"/><rect x="106.06" y="101.52" width="4.29" height="4.26" fill="#4741e5"/><rect x="109.85" y="101.52" width="4.29" height="4.26" fill="#4742e6"/><rect x="113.64" y="101.52" width="4.29" height="4.26" fill="#4744e8"/><rect x="117.42" y="101.52" width="4.29" height="4.26" fill="#4747eb"/><rect x="121.21" y="101.52" width="3.79" height="4.26" fill="#484aed"/><rect x="0" y="105.28" width="4.29" height="4.26" fill="#422ebf"/><rect x="3.79" y="105.28" width="4.29" height="4.26" fill="#422ec0"/><rect x="7.58" y="105.28" width="4.29" height="4.26" fill="#422fc1"/><rect x="11.36" y="105.28" width="4.29" height="4.26" fill="#422fc2"/><rect x="15.15" y="105.28" width="4.29" height="4.26" fill="#4230c3"/><rect x="18.94" y="105.28" width="4.29" height="4.26" fill="#4230c4"/><rect x="22.73" y="105.28" width="4.29" height="4.26" fill="#4330c5"/><rect x="26.52" y="105.28" width="4.29" height="4.26" fill="#4331c6"/><rect x="30.3" y="105.28" width="4.29" height="4.26" fill="#4331c7"/><rect x="34.09" y="105.28" width="4.29" height="4.26" fill="#4332c8"/><rect x="37.88" y="105.28" width="4.29" height="4.26" fill="#4332c9"/><rect x="41.67" y="105.28" width="4.29" height="4.26" fill="#4332ca"/><rect x="45.45" y="105.28" width="4.29" height="4.26" fill="#4433cb"/><rect x="49.24" y="105.28" width="4.29" height="4.26" fill="#4433cc"/><rect x="53.03" y="105.28" width="4.29" height="4.26" fill="#4434cd"/><rect x="56.82" y="105.28" width="4.29" height="4.26" fill="#4434ce"/><rect x="60.61" y="105.28" width="4.29" height="4.26" fill="#4435d0"/><rect x="64.39" y="105.28" width="4.29" height="4.26" fill="#4535d2"/><rect x="68.18" y="105.28" width="4.29" height="4.26" fill="#4536d4"/><rect x="71.97" y="105.28" width="4.29" height="4.26" fill="#4537d6"/><rect x="75.76" y="105.28" width="4.29" height="4.26" fill="#4538d7"/><rect x="79.55" y="105.28" width="4.29" height="4.26" fill="#4539d9"/><rect x="83.33" y="105.28" width="4.29" height="4.26" fill="#463ada"/><rect x="87.12" y="105.28" width="4.29" height="4.26" fill="#463bdc"/><rect x="90.91" y="105.28" width="4.29" height="4.26" fill="#463bde"/><rect x="94.7" y="105.28" width="4.29" height="4.26" fill="#463ddf"/><rect x="98.48" y="105.28" width="4.29" height="4.26" fill="#463ee1"/><rect x="102.27" y="105.28" width="4.29" height="4.26" fill="#473fe3"/><rect x="106.06" y="105.28" width="4.29" height="4.26" fill="#4741e4"/><rect x="109.85" y="105.28" width="4.29" height="4.26" fill="#4742e6"/><rect x="113.64" y="105.28" width="4.29" height="4.26" fill="#4743e7"/><rect x="117.42" y="105.28" width="4.29" height="4.26" fill="#4745e9"/><rect x="121.21" y="105.28" width="3.79" height="4.26" fill="#4848ec"/><rect x="0" y="109.04" width="4.29" height="1.26" fill="#422ebf"/><rect x="3.79" y="109.04" width="4.29" height="1.26" fill="#422ec0"/><rect x="7.58" y="109.04" width="4.29" height="1.26" fill="#422fc1"/><rect x="11.36" y="109.04" width="4.29" height="1.26" fill="#422fc2"/><rect x="15.15" y="109.04" width="4.29" height="1.26" fill="#4230c3"/><rect x="18.94" y="109.04" width="4.29" height="1.26" fill="#4230c4"/><rect x="22.73" y="109.04" width="4.29" height="1.26" fill="#4330c5"/><rect x="26.52" y="109.04" width="4.29" height="1.26" fill="#4331c6"/><rect x="30.3" y="109.04" width="4.29" height="1.26" fill="#4331c7"/><rect x="34.09" y="109.04" width="4.29" height="1.26" fill="#4332c8"/><rect x="37.88" y="109.04" width="4.29" height="1.26" fill="#4332ca"/><rect x="41.67" y="109.04" width="4.29" height="1.26" fill="#4332cb"/><rect x="45.45" y="109.04" width="4.29" height="1.26" fill="#4433cc"/><rect x="49.24" y="109.04" width="4.29" height="1.26" fill="#4433cd"/><rect x="53.03" y="109.04" width="4.29" height="1.26" fill="#4434ce"/><rect x="56.82" y="109.04" width="4.29" height="1.26" fill="#4434cf"/><rect x="60.61" y="109.04" width="4.29" height="1.26" fill="#4434d0"/><rect x="64.39" y="109.04" width="4.29" height="1.26" fill="#4435d2"/><rect x="68.18" y="109.04" width="4.29" height="1.26" fill="#4536d4"/><rect x="71.97" y="109.04" width="4.29" height="1.26" fill="#4537d5"/><rect x="75.76" y="109.04" width="4.29" height="1.26" fill="#4538d7"/><rect x="79.55" y="109.04" width="4.29" height="1.26" fill="#4539d9"/><rect x="83.33" y="109.04" width="4.29" height="1.26" fill="#463ada"/><rect x="87.12" y="109.04" width="4.29" height="1.26" fill="#463adc"/><rect x="90.91" y="109.04" width="4.29" height="1.26" fill="#463bde"/><rect x="94.7" y="109.04" width="4.29" height="1.26" fill="#463ddf"/><rect x="98.48" y="109.04" width="4.29" height="1.26" fill="#463ee1"/><rect x="102.27" y="109.04" width="4.29" height="1.26" fill="#473fe3"/><rect x="106.06" y="109.04" width="4.29" height="1.26" fill="#4740e4"/><rect x="109.85" y="109.04" width="4.29" height="1.26" fill="#4742e6"/><rect x="113.64" y="109.04" width="4.29" height="1.26" fill="#4743e7"/><rect x="117.42" y="109.04" width="4.29" height="1.26" fill="#4745e9"/><rect x="121.21" y="109.04" width="3.79" height="1.26" fill="#4746ea"/>
<use href="#grid"/>
<rect x="0" y="0" width="125" height="110.3" fill="none" stroke="#262626" stroke-width="0.4"/>
<rect x="129" y="0" width="6.4" height="110.3" fill="url(#pg)" stroke="#262626" stroke-width="0.12"/>
<text x="137.3" y="111.75" font-size="3.95" font-family="Liberation Sans, Arial, sans-serif" fill="#404040">0</text>
<text x="137.3" y="101.04" font-size="3.95" font-family="Liberation Sans, Arial, sans-serif" fill="#404040">1</text>
<text x="137.3" y="90.33" font-size="3.95" font-family="Liberation Sans, Arial, sans-serif" fill="#404040">2</text>
<text x="137.3" y="79.62" font-size="3.95" font-family="Liberation Sans, Arial, sans-serif" fill="#404040">3</text>
<text x="137.3" y="68.92" font-size="3.95" font-family="Liberation Sans, Arial, sans-serif" fill="#404040">4</text>
<text x="137.3" y="58.21" font-size="3.95" font-family="Liberation Sans, Arial, sans-serif" fill="#404040">5</text>
<text x="137.3" y="47.5" font-size="3.95" font-family="Liberation Sans, Arial, sans-serif" fill="#404040">6</text>
<text x="137.3" y="36.79" font-size="3.95" font-family="Liberation Sans, Arial, sans-serif" fill="#404040">7</text>
<text x="137.3" y="26.08" font-size="3.95" font-family="Liberation Sans, Arial, sans-serif" fill="#404040">8</text>
<text x="137.3" y="15.37" font-size="3.95" font-family="Liberation Sans, Arial, sans-serif" fill="#404040">9</text>
<text x="137.3" y="4.66" font-size="3.95" font-family="Liberation Sans, Arial, sans-serif" fill="#404040">10</text>
<text x="14.32" y="116.6" font-size="4.4" text-anchor="middle" font-family="Liberation Sans, Arial, sans-serif" fill="#404040">0.2</text>
<text x="28.65" y="116.6" font-size="4.4" text-anchor="middle" font-family="Liberation Sans, Arial, sans-serif" fill="#404040">0.4</text>
<text x="42.97" y="116.6" font-size="4.4" text-anchor="middle" font-family="Liberation Sans, Arial, sans-serif" fill="#404040">0.6</text>
<text x="57.3" y="116.6" font-size="4.4" text-anchor="middle" font-family="Liberation Sans, Arial, sans-serif" fill="#404040">0.8</text>
<text x="71.62" y="116.6" font-size="4.4" text-anchor="middle" font-family="Liberation Sans, Arial, sans-serif" fill="#404040">1</text>
<text x="85.95" y="116.6" font-size="4.4" text-anchor="middle" font-family="Liberation Sans, Arial, sans-serif" fill="#404040">1.2</text>
<text x="100.27" y="116.6" font-size="4.4" text-anchor="middle" font-family="Liberation Sans, Arial, sans-serif" fill="#404040">1.4</text>
<text x="114.59" y="116.6" font-size="4.4" text-anchor="middle" font-family="Liberation Sans, Arial, sans-serif" fill="#404040">1.6</text>
<text x="-2.0" y="94.64" font-size="4.3" text-anchor="end" font-family="Liberation Sans, Arial, sans-serif" fill="#404040">0.2</text>
<text x="-2.0" y="76.59" font-size="4.3" text-anchor="end" font-family="Liberation Sans, Arial, sans-serif" fill="#404040">0.4</text>
<text x="-2.0" y="58.53" font-size="4.3" text-anchor="end" font-family="Liberation Sans, Arial, sans-serif" fill="#404040">0.6</text>
<text x="-2.0" y="40.47" font-size="4.3" text-anchor="end" font-family="Liberation Sans, Arial, sans-serif" fill="#404040">0.8</text>
<text x="-2.0" y="22.42" font-size="4.3" text-anchor="end" font-family="Liberation Sans, Arial, sans-serif" fill="#404040">1</text>
<text x="-2.0" y="4.36" font-size="4.3" text-anchor="end" font-family="Liberation Sans, Arial, sans-serif" fill="#404040">1.2</text>
<text x="62.5" y="-2.2" font-size="4.8" word-spacing="0.6" text-anchor="middle" font-family="Liberation Serif, Times New Roman, serif" fill="#404040"><tspan font-style="italic">q</tspan><tspan font-size="3.4" dy="0.75">1</tspan><tspan dy="-0.75"> = 30°</tspan></text>
<text x="63.1" y="121.7" font-size="4.8" letter-spacing="0.17" text-anchor="middle" font-family="Liberation Serif, Times New Roman, serif" fill="#404040"><tspan font-style="italic">q</tspan><tspan font-size="3.4" dy="0.75">2</tspan><tspan dy="-0.75"> (rad)</tspan></text>
<text transform="translate(-10.9,55.15) rotate(-90)" font-size="4.8" letter-spacing="0.17" text-anchor="middle" font-family="Liberation Serif, Times New Roman, serif" fill="#404040"><tspan font-style="italic">q</tspan><tspan font-size="3.4" dy="0.75">3</tspan><tspan dy="-0.75"> (rad)</tspan></text>
</g>
<g transform="translate(25.1,155.85)">
<rect x="0" y="0" width="4.29" height="4.26" fill="#4331c6"/><rect x="3.79" y="0" width="4.29" height="4.26" fill="#4332c9"/><rect x="7.58" y="0" width="4.29" height="4.26" fill="#4433cb"/><rect x="11.36" y="0" width="4.29" height="4.26" fill="#4433cd"/><rect x="15.15" y="0" width="4.29" height="4.26" fill="#4434d0"/><rect x="18.94" y="0" width="4.29" height="4.26" fill="#4535d2"/><rect x="22.73" y="0" width="4.29" height="4.26" fill="#4536d4"/><rect x="26.52" y="0" width="4.29" height="4.26" fill="#4537d6"/><rect x="30.3" y="0" width="4.29" height="4.26" fill="#4639d9"/><rect x="34.09" y="0" width="4.29" height="4.26" fill="#463bde"/><rect x="37.88" y="0" width="4.29" height="4.26" fill="#463ee1"/><rect x="41.67" y="0" width="4.29" height="4.26" fill="#4741e4"/><rect x="45.45" y="0" width="4.29" height="4.26" fill="#4743e7"/><rect x="49.24" y="0" width="4.29" height="4.26" fill="#4746ea"/><rect x="53.03" y="0" width="4.29" height="4.26" fill="#4849ec"/><rect x="56.82" y="0" width="4.29" height="4.26" fill="#484bef"/><rect x="60.61" y="0" width="4.29" height="4.26" fill="#484ef1"/><rect x="64.39" y="0" width="4.29" height="4.26" fill="#4851f3"/><rect x="68.18" y="0" width="4.29" height="4.26" fill="#4854f5"/><rect x="71.97" y="0" width="4.29" height="4.26" fill="#4757f7"/><rect x="75.76" y="0" width="4.29" height="4.26" fill="#475cfa"/><rect x="79.55" y="0" width="4.29" height="4.26" fill="#4660fc"/><rect x="83.33" y="0" width="4.29" height="4.26" fill="#4466fd"/><rect x="87.12" y="0" width="4.29" height="4.26" fill="#406dfe"/><rect x="90.91" y="0" width="4.29" height="4.26" fill="#3975fe"/><rect x="94.7" y="0" width="4.29" height="4.26" fill="#307ffb"/><rect x="98.48" y="0" width="4.29" height="4.26" fill="#2d89f5"/><rect x="102.27" y="0" width="4.29" height="4.26" fill="#2797eb"/><rect x="106.06" y="0" width="4.29" height="4.26" fill="#20a4e3"/><rect x="109.85" y="0" width="4.29" height="4.26" fill="#07b5d0"/><rect x="113.64" y="0" width="4.29" height="4.26" fill="#2ac3a9"/><rect x="117.42" y="0" width="4.29" height="4.26" fill="#80cc59"/><rect x="121.21" y="0" width="3.79" height="4.26" fill="#f9ba3d"/><rect x="0" y="3.76" width="4.29" height="4.26" fill="#4331c6"/><rect x="3.79" y="3.76" width="4.29" height="4.26" fill="#4331c8"/><rect x="7.58" y="3.76" width="4.29" height="4.26" fill="#4332ca"/><rect x="11.36" y="3.76" width="4.29" height="4.26" fill="#4433cd"/><rect x="15.15" y="3.76" width="4.29" height="4.26" fill="#4434cf"/><rect x="18.94" y="3.76" width="4.29" height="4.26" fill="#4435d1"/><rect x="22.73" y="3.76" width="4.29" height="4.26" fill="#4536d4"/><rect x="26.52" y="3.76" width="4.29" height="4.26" fill="#4537d6"/><rect x="30.3" y="3.76" width="4.29" height="4.26" fill="#4538d8"/><rect x="34.09" y="3.76" width="4.29" height="4.26" fill="#463adb"/><rect x="37.88" y="3.76" width="4.29" height="4.26" fill="#463ddf"/><rect x="41.67" y="3.76" width="4.29" height="4.26" fill="#473fe3"/><rect x="45.45" y="3.76" width="4.29" height="4.26" fill="#4742e6"/><rect x="49.24" y="3.76" width="4.29" height="4.26" fill="#4745e9"/><rect x="53.03" y="3.76" width="4.29" height="4.26" fill="#4848ec"/><rect x="56.82" y="3.76" width="4.29" height="4.26" fill="#484aee"/><rect x="60.61" y="3.76" width="4.29" height="4.26" fill="#484df0"/><rect x="64.39" y="3.76" width="4.29" height="4.26" fill="#4850f2"/><rect x="68.18" y="3.76" width="4.29" height="4.26" fill="#4853f5"/><rect x="71.97" y="3.76" width="4.29" height="4.26" fill="#4756f6"/><rect x="75.76" y="3.76" width="4.29" height="4.26" fill="#4759f9"/><rect x="79.55" y="3.76" width="4.29" height="4.26" fill="#465efb"/><rect x="83.33" y="3.76" width="4.29" height="4.26" fill="#4563fd"/><rect x="87.12" y="3.76" width="4.29" height="4.26" fill="#4269fe"/><rect x="90.91" y="3.76" width="4.29" height="4.26" fill="#3d70ff"/><rect x="94.7" y="3.76" width="4.29" height="4.26" fill="#3578fd"/><rect x="98.48" y="3.76" width="4.29" height="4.26" fill="#2f83f9"/><rect x="102.27" y="3.76" width="4.29" height="4.26" fill="#2d8df2"/><rect x="106.06" y="3.76" width="4.29" height="4.26" fill="#269ae9"/><rect x="109.85" y="3.76" width="4.29" height="4.26" fill="#1ea8e1"/><rect x="113.64" y="3.76" width="4.29" height="4.26" fill="#03b7cc"/><rect x="117.42" y="3.76" width="4.29" height="4.26" fill="#2ac3a9"/><rect x="121.21" y="3.76" width="3.79" height="4.26" fill="#62cd70"/><rect x="0" y="7.52" width="4.29" height="4.26" fill="#4331c6"/><rect x="3.79" y="7.52" width="4.29" height="4.26" fill="#4331c8"/><rect x="7.58" y="7.52" width="4.29" height="4.26" fill="#4332ca"/><rect x="11.36" y="7.52" width="4.29" height="4.26" fill="#4433cc"/><rect x="15.15" y="7.52" width="4.29" height="4.26" fill="#4434ce"/><rect x="18.94" y="7.52" width="4.29" height="4.26" fill="#4435d0"/><rect x="22.73" y="7.52" width="4.29" height="4.26" fill="#4536d3"/><rect x="26.52" y="7.52" width="4.29" height="4.26" fill="#4537d6"/><rect x="30.3" y="7.52" width="4.29" height="4.26" fill="#4538d8"/><rect x="34.09" y="7.52" width="4.29" height="4.26" fill="#4639da"/><rect x="37.88" y="7.52" width="4.29" height="4.26" fill="#463bdc"/><rect x="41.67" y="7.52" width="4.29" height="4.26" fill="#463de0"/><rect x="45.45" y="7.52" width="4.29" height="4.26" fill="#4740e4"/><rect x="49.24" y="7.52" width="4.29" height="4.26" fill="#4743e7"/><rect x="53.03" y="7.52" width="4.29" height="4.26" fill="#4746ea"/><rect x="56.82" y="7.52" width="4.29" height="4.26" fill="#4849ed"/><rect x="60.61" y="7.52" width="4.29" height="4.26" fill="#484cef"/><rect x="64.39" y="7.52" width="4.29" height="4.26" fill="#484ef1"/><rect x="68.18" y="7.52" width="4.29" height="4.26" fill="#4851f3"/><rect x="71.97" y="7.52" width="4.29" height="4.26" fill="#4854f5"/><rect x="75.76" y="7.52" width="4.29" height="4.26" fill="#4757f7"/><rect x="79.55" y="7.52" width="4.29" height="4.26" fill="#475bf9"/><rect x="83.33" y="7.52" width="4.29" height="4.26" fill="#4660fb"/><rect x="87.12" y="7.52" width="4.29" height="4.26" fill="#4465fd"/><rect x="90.91" y="7.52" width="4.29" height="4.26" fill="#416bfe"/><rect x="94.7" y="7.52" width="4.29" height="4.26" fill="#3b72ff"/><rect x="98.48" y="7.52" width="4.29" height="4.26" fill="#337afd"/><rect x="102.27" y="7.52" width="4.29" height="4.26" fill="#2e84f9"/><rect x="106.06" y="7.52" width="4.29" height="4.26" fill="#2d8df2"/><rect x="109.85" y="7.52" width="4.29" height="4.26" fill="#2699e9"/><rect x="113.64" y="7.52" width="4.29" height="4.26" fill="#1fa5e2"/><rect x="117.42" y="7.52" width="4.29" height="4.26" fill="#11b1d6"/><rect x="121.21" y="7.52" width="3.79" height="4.26" fill="#06bcc0"/><rect x="0" y="11.28" width="4.29" height="4.26" fill="#4331c6"/><rect x="3.79" y="11.28" width="4.29" height="4.26" fill="#4331c7"/><rect x="7.58" y="11.28" width="4.29" height="4.26" fill="#4332c9"/><rect x="11.36" y="11.28" width="4.29" height="4.26" fill="#4433cb"/><rect x="15.15" y="11.28" width="4.29" height="4.26" fill="#4433cd"/><rect x="18.94" y="11.28" width="4.29" height="4.26" fill="#4434cf"/><rect x="22.73" y="11.28" width="4.29" height="4.26" fill="#4535d2"/><rect x="26.52" y="11.28" width="4.29" height="4.26" fill="#4536d4"/><rect x="30.3" y="11.28" width="4.29" height="4.26" fill="#4538d7"/><rect x="34.09" y="11.28" width="4.29" height="4.26" fill="#4639d9"/><rect x="37.88" y="11.28" width="4.29" height="4.26" fill="#463adb"/><rect x="41.67" y="11.28" width="4.29" height="4.26" fill="#463bde"/><rect x="45.45" y="11.28" width="4.29" height="4.26" fill="#463ee1"/><rect x="49.24" y="11.28" width="4.29" height="4.26" fill="#4741e5"/><rect x="53.03" y="11.28" width="4.29" height="4.26" fill="#4744e8"/><rect x="56.82" y="11.28" width="4.29" height="4.26" fill="#4747eb"/><rect x="60.61" y="11.28" width="4.29" height="4.26" fill="#484aee"/><rect x="64.39" y="11.28" width="4.29" height="4.26" fill="#484df0"/><rect x="68.18" y="11.28" width="4.29" height="4.26" fill="#484ff2"/><rect x="71.97" y="11.28" width="4.29" height="4.26" fill="#4852f4"/><rect x="75.76" y="11.28" width="4.29" height="4.26" fill="#4755f6"/><rect x="79.55" y="11.28" width="4.29" height="4.26" fill="#4759f8"/><rect x="83.33" y="11.28" width="4.29" height="4.26" fill="#475cfa"/><rect x="87.12" y="11.28" width="4.29" height="4.26" fill="#4561fc"/><rect x="90.91" y="11.28" width="4.29" height="4.26" fill="#4466fd"/><rect x="94.7" y="11.28" width="4.29" height="4.26" fill="#416cfe"/><rect x="98.48" y="11.28" width="4.29" height="4.26" fill="#3b72fe"/><rect x="102.27" y="11.28" width="4.29" height="4.26" fill="#347afd"/><rect x="106.06" y="11.28" width="4.29" height="4.26" fill="#2f82f9"/><rect x="109.85" y="11.28" width="4.29" height="4.26" fill="#2d8bf4"/><rect x="113.64" y="11.28" width="4.29" height="4.26" fill="#2995ec"/><rect x="117.42" y="11.28" width="4.29" height="4.26" fill="#249ee6"/><rect x="121.21" y="11.28" width="3.79" height="4.26" fill="#1da8e0"/><rect x="0" y="15.04" width="4.29" height="4.26" fill="#4331c6"/><rect x="3.79" y="15.04" width="4.29" height="4.26" fill="#4331c7"/><rect x="7.58" y="15.04" width="4.29" height="4.26" fill="#4332c9"/><rect x="11.36" y="15.04" width="4.29" height="4.26" fill="#4332cb"/><rect x="15.15" y="15.04" width="4.29" height="4.26" fill="#4433cc"/><rect x="18.94" y="15.04" width="4.29" height="4.26" fill="#4434ce"/><rect x="22.73" y="15.04" width="4.29" height="4.26" fill="#4435d1"/><rect x="26.52" y="15.04" width="4.29" height="4.26" fill="#4536d3"/><rect x="30.3" y="15.04" width="4.29" height="4.26" fill="#4537d6"/><rect x="34.09" y="15.04" width="4.29" height="4.26" fill="#4538d8"/><rect x="37.88" y="15.04" width="4.29" height="4.26" fill="#463ada"/><rect x="41.67" y="15.04" width="4.29" height="4.26" fill="#463bdd"/><rect x="45.45" y="15.04" width="4.29" height="4.26" fill="#463cdf"/><rect x="49.24" y="15.04" width="4.29" height="4.26" fill="#473ee1"/><rect x="53.03" y="15.04" width="4.29" height="4.26" fill="#4741e5"/><rect x="56.82" y="15.04" width="4.29" height="4.26" fill="#4744e8"/><rect x="60.61" y="15.04" width="4.29" height="4.26" fill="#4747eb"/><rect x="64.39" y="15.04" width="4.29" height="4.26" fill="#484aee"/><rect x="68.18" y="15.04" width="4.29" height="4.26" fill="#484df1"/><rect x="71.97" y="15.04" width="4.29" height="4.26" fill="#4850f3"/><rect x="75.76" y="15.04" width="4.29" height="4.26" fill="#4853f5"/><rect x="79.55" y="15.04" width="4.29" height="4.26" fill="#4756f7"/><rect x="83.33" y="15.04" width="4.29" height="4.26" fill="#475af9"/><rect x="87.12" y="15.04" width="4.29" height="4.26" fill="#465dfa"/><rect x="90.91" y="15.04" width="4.29" height="4.26" fill="#4561fc"/><rect x="94.7" y="15.04" width="4.29" height="4.26" fill="#4466fd"/><rect x="98.48" y="15.04" width="4.29" height="4.26" fill="#416cfe"/><rect x="102.27" y="15.04" width="4.29" height="4.26" fill="#3c72ff"/><rect x="106.06" y="15.04" width="4.29" height="4.26" fill="#3578fd"/><rect x="109.85" y="15.04" width="4.29" height="4.26" fill="#307ffb"/><rect x="113.64" y="15.04" width="4.29" height="4.26" fill="#2e87f7"/><rect x="117.42" y="15.04" width="4.29" height="4.26" fill="#2c8ef1"/><rect x="121.21" y="15.04" width="3.79" height="4.26" fill="#2895ec"/><rect x="0" y="18.8" width="4.29" height="4.26" fill="#4330c5"/><rect x="3.79" y="18.8" width="4.29" height="4.26" fill="#4331c7"/><rect x="7.58" y="18.8" width="4.29" height="4.26" fill="#4332c8"/><rect x="11.36" y="18.8" width="4.29" height="4.26" fill="#4332ca"/><rect x="15.15" y="18.8" width="4.29" height="4.26" fill="#4433cc"/><rect x="18.94" y="18.8" width="4.29" height="4.26" fill="#4434ce"/><rect x="22.73" y="18.8" width="4.29" height="4.26" fill="#4434d0"/><rect x="26.52" y="18.8" width="4.29" height="4.26" fill="#4535d2"/><rect x="30.3" y="18.8" width="4.29" height="4.26" fill="#4536d4"/><rect x="34.09" y="18.8" width="4.29" height="4.26" fill="#4538d7"/><rect x="37.88" y="18.8" width="4.29" height="4.26" fill="#4639d9"/><rect x="41.67" y="18.8" width="4.29" height="4.26" fill="#463adc"/><rect x="45.45" y="18.8" width="4.29" height="4.26" fill="#463cde"/><rect x="49.24" y="18.8" width="4.29" height="4.26" fill="#463de0"/><rect x="53.03" y="18.8" width="4.29" height="4.26" fill="#473fe2"/><rect x="56.82" y="18.8" width="4.29" height="4.26" fill="#4741e5"/><rect x="60.61" y="18.8" width="4.29" height="4.26" fill="#4744e8"/><rect x="64.39" y="18.8" width="4.29" height="4.26" fill="#4747eb"/><rect x="68.18" y="18.8" width="4.29" height="4.26" fill="#484aee"/><rect x="71.97" y="18.8" width="4.29" height="4.26" fill="#484ef1"/><rect x="75.76" y="18.8" width="4.29" height="4.26" fill="#4851f3"/><rect x="79.55" y="18.8" width="4.29" height="4.26" fill="#4854f5"/><rect x="83.33" y="18.8" width="4.29" height="4.26" fill="#4757f7"/><rect x="87.12" y="18.8" width="4.29" height="4.26" fill="#475af9"/><rect x="90.91" y="18.8" width="4.29" height="4.26" fill="#465dfb"/><rect x="94.7" y="18.8" width="4.29" height="4.26" fill="#4561fc"/><rect x="98.48" y="18.8" width="4.29" height="4.26" fill="#4466fd"/><rect x="102.27" y="18.8" width="4.29" height="4.26" fill="#416bfe"/><rect x="106.06" y="18.8" width="4.29" height="4.26" fill="#3d70ff"/><rect x="109.85" y="18.8" width="4.29" height="4.26" fill="#3876fe"/><rect x="113.64" y="18.8" width="4.29" height="4.26" fill="#327cfc"/><rect x="117.42" y="18.8" width="4.29" height="4.26" fill="#2f81fa"/><rect x="121.21" y="18.8" width="3.79" height="4.26" fill="#2d87f7"/><rect x="0" y="22.56" width="4.29" height="4.26" fill="#4330c5"/><rect x="3.79" y="22.56" width="4.29" height="4.26" fill="#4331c7"/><rect x="7.58" y="22.56" width="4.29" height="4.26" fill="#4331c8"/><rect x="11.36" y="22.56" width="4.29" height="4.26" fill="#4332ca"/><rect x="15.15" y="22.56" width="4.29" height="4.26" fill="#4433cb"/><rect x="18.94" y="22.56" width="4.29" height="4.26" fill="#4433cd"/><rect x="22.73" y="22.56" width="4.29" height="4.26" fill="#4434cf"/><rect x="26.52" y="22.56" width="4.29" height="4.26" fill="#4435d1"/><rect x="30.3" y="22.56" width="4.29" height="4.26" fill="#4536d3"/><rect x="34.09" y="22.56" width="4.29" height="4.26" fill="#4537d5"/><rect x="37.88" y="22.56" width="4.29" height="4.26" fill="#4538d8"/><rect x="41.67" y="22.56" width="4.29" height="4.26" fill="#4639da"/><rect x="45.45" y="22.56" width="4.29" height="4.26" fill="#463bdd"/><rect x="49.24" y="22.56" width="4.29" height="4.26" fill="#463cdf"/><rect x="53.03" y="22.56" width="4.29" height="4.26" fill="#463ee1"/><rect x="56.82" y="22.56" width="4.29" height="4.26" fill="#4740e3"/><rect x="60.61" y="22.56" width="4.29" height="4.26" fill="#4742e6"/><rect x="64.39" y="22.56" width="4.29" height="4.26" fill="#4744e9"/><rect x="68.18" y="22.56" width="4.29" height="4.26" fill="#4747ec"/><rect x="71.97" y="22.56" width="4.29" height="4.26" fill="#484aee"/><rect x="75.76" y="22.56" width="4.29" height="4.26" fill="#484ef1"/><rect x="79.55" y="22.56" width="4.29" height="4.26" fill="#4851f3"/><rect x="83.33" y="22.56" width="4.29" height="4.26" fill="#4854f5"/><rect x="87.12" y="22.56" width="4.29" height="4.26" fill="#4757f7"/><rect x="90.91" y="22.56" width="4.29" height="4.26" fill="#475af9"/><rect x="94.7" y="22.56" width="4.29" height="4.26" fill="#465dfa"/><rect x="98.48" y="22.56" width="4.29" height="4.26" fill="#4561fc"/><rect x="102.27" y="22.56" width="4.29" height="4.26" fill="#4465fd"/><rect x="106.06" y="22.56" width="4.29" height="4.26" fill="#4269fe"/><rect x="109.85" y="22.56" width="4.29" height="4.26" fill="#3f6efe"/><rect x="113.64" y="22.56" width="4.29" height="4.26" fill="#3b73fe"/><rect x="117.42" y="22.56" width="4.29" height="4.26" fill="#3578fd"/><rect x="121.21" y="22.56" width="3.79" height="4.26" fill="#317dfc"/><rect x="0" y="26.32" width="4.29" height="4.26" fill="#4330c5"/><rect x="3.79" y="26.32" width="4.29" height="4.26" fill="#4331c6"/><rect x="7.58" y="26.32" width="4.29" height="4.26" fill="#4331c8"/><rect x="11.36" y="26.32" width="4.29" height="4.26" fill="#4332c9"/><rect x="15.15" y="26.32" width="4.29" height="4.26" fill="#4433cb"/><rect x="18.94" y="26.32" width="4.29" height="4.26" fill="#4433cd"/><rect x="22.73" y="26.32" width="4.29" height="4.26" fill="#4434ce"/><rect x="26.52" y="26.32" width="4.29" height="4.26" fill="#4435d0"/><rect x="30.3" y="26.32" width="4.29" height="4.26" fill="#4535d2"/><rect x="34.09" y="26.32" width="4.29" height="4.26" fill="#4536d4"/><rect x="37.88" y="26.32" width="4.29" height="4.26" fill="#4537d6"/><rect x="41.67" y="26.32" width="4.29" height="4.26" fill="#4539d9"/><rect x="45.45" y="26.32" width="4.29" height="4.26" fill="#463adb"/><rect x="49.24" y="26.32" width="4.29" height="4.26" fill="#463bdd"/><rect x="53.03" y="26.32" width="4.29" height="4.26" fill="#463de0"/><rect x="56.82" y="26.32" width="4.29" height="4.26" fill="#473fe2"/><rect x="60.61" y="26.32" width="4.29" height="4.26" fill="#4740e4"/><rect x="64.39" y="26.32" width="4.29" height="4.26" fill="#4742e6"/><rect x="68.18" y="26.32" width="4.29" height="4.26" fill="#4744e9"/><rect x="71.97" y="26.32" width="4.29" height="4.26" fill="#4747eb"/><rect x="75.76" y="26.32" width="4.29" height="4.26" fill="#484aee"/><rect x="79.55" y="26.32" width="4.29" height="4.26" fill="#484df0"/><rect x="83.33" y="26.32" width="4.29" height="4.26" fill="#4850f3"/><rect x="87.12" y="26.32" width="4.29" height="4.26" fill="#4854f5"/><rect x="90.91" y="26.32" width="4.29" height="4.26" fill="#4757f7"/><rect x="94.7" y="26.32" width="4.29" height="4.26" fill="#4759f8"/><rect x="98.48" y="26.32" width="4.29" height="4.26" fill="#475cfa"/><rect x="102.27" y="26.32" width="4.29" height="4.26" fill="#4660fb"/><rect x="106.06" y="26.32" width="4.29" height="4.26" fill="#4563fd"/><rect x="109.85" y="26.32" width="4.29" height="4.26" fill="#4367fd"/><rect x="113.64" y="26.32" width="4.29" height="4.26" fill="#416bfe"/><rect x="117.42" y="26.32" width="4.29" height="4.26" fill="#3e6fff"/><rect x="121.21" y="26.32" width="3.79" height="4.26" fill="#3a73fe"/><rect x="0" y="30.08" width="4.29" height="4.26" fill="#4330c5"/><rect x="3.79" y="30.08" width="4.29" height="4.26" fill="#4331c6"/><rect x="7.58" y="30.08" width="4.29" height="4.26" fill="#4331c7"/><rect x="11.36" y="30.08" width="4.29" height="4.26" fill="#4332c9"/><rect x="15.15" y="30.08" width="4.29" height="4.26" fill="#4332ca"/><rect x="18.94" y="30.08" width="4.29" height="4.26" fill="#4433cc"/><rect x="22.73" y="30.08" width="4.29" height="4.26" fill="#4434ce"/><rect x="26.52" y="30.08" width="4.29" height="4.26" fill="#4434cf"/><rect x="30.3" y="30.08" width="4.29" height="4.26" fill="#4435d1"/><rect x="34.09" y="30.08" width="4.29" height="4.26" fill="#4536d3"/><rect x="37.88" y="30.08" width="4.29" height="4.26" fill="#4537d5"/><rect x="41.67" y="30.08" width="4.29" height="4.26" fill="#4538d7"/><rect x="45.45" y="30.08" width="4.29" height="4.26" fill="#4639d9"/><rect x="49.24" y="30.08" width="4.29" height="4.26" fill="#463adc"/><rect x="53.03" y="30.08" width="4.29" height="4.26" fill="#463cde"/><rect x="56.82" y="30.08" width="4.29" height="4.26" fill="#463ee0"/><rect x="60.61" y="30.08" width="4.29" height="4.26" fill="#473fe3"/><rect x="64.39" y="30.08" width="4.29" height="4.26" fill="#4741e5"/><rect x="68.18" y="30.08" width="4.29" height="4.26" fill="#4743e7"/><rect x="71.97" y="30.08" width="4.29" height="4.26" fill="#4744e9"/><rect x="75.76" y="30.08" width="4.29" height="4.26" fill="#4747eb"/><rect x="79.55" y="30.08" width="4.29" height="4.26" fill="#484aee"/><rect x="83.33" y="30.08" width="4.29" height="4.26" fill="#484df0"/><rect x="87.12" y="30.08" width="4.29" height="4.26" fill="#4850f2"/><rect x="90.91" y="30.08" width="4.29" height="4.26" fill="#4853f5"/><rect x="94.7" y="30.08" width="4.29" height="4.26" fill="#4756f7"/><rect x="98.48" y="30.08" width="4.29" height="4.26" fill="#4759f8"/><rect x="102.27" y="30.08" width="4.29" height="4.26" fill="#475bf9"/><rect x="106.06" y="30.08" width="4.29" height="4.26" fill="#465efb"/><rect x="109.85" y="30.08" width="4.29" height="4.26" fill="#4562fc"/><rect x="113.64" y="30.08" width="4.29" height="4.26" fill="#4465fd"/><rect x="117.42" y="30.08" width="4.29" height="4.26" fill="#4368fe"/><rect x="121.21" y="30.08" width="3.79" height="4.26" fill="#416bfe"/><rect x="0" y="33.84" width="4.29" height="4.26" fill="#4330c5"/><rect x="3.79" y="33.84" width="4.29" height="4.26" fill="#4331c6"/><rect x="7.58" y="33.84" width="4.29" height="4.26" fill="#4331c7"/><rect x="11.36" y="33.84" width="4.29" height="4.26" fill="#4332c9"/><rect x="15.15" y="33.84" width="4.29" height="4.26" fill="#4332ca"/><rect x="18.94" y="33.84" width="4.29" height="4.26" fill="#4433cb"/><rect x="22.73" y="33.84" width="4.29" height="4.26" fill="#4433cd"/><rect x="26.52" y="33.84" width="4.29" height="4.26" fill="#4434cf"/><rect x="30.3" y="33.84" width="4.29" height="4.26" fill="#4435d0"/><rect x="34.09" y="33.84" width="4.29" height="4.26" fill="#4536d2"/><rect x="37.88" y="33.84" width="4.29" height="4.26" fill="#4536d4"/><rect x="41.67" y="33.84" width="4.29" height="4.26" fill="#4537d6"/><rect x="45.45" y="33.84" width="4.29" height="4.26" fill="#4538d8"/><rect x="49.24" y="33.84" width="4.29" height="4.26" fill="#463ada"/><rect x="53.03" y="33.84" width="4.29" height="4.26" fill="#463bdd"/><rect x="56.82" y="33.84" width="4.29" height="4.26" fill="#463cdf"/><rect x="60.61" y="33.84" width="4.29" height="4.26" fill="#463ee1"/><rect x="64.39" y="33.84" width="4.29" height="4.26" fill="#4740e3"/><rect x="68.18" y="33.84" width="4.29" height="4.26" fill="#4741e5"/><rect x="71.97" y="33.84" width="4.29" height="4.26" fill="#4743e7"/><rect x="75.76" y="33.84" width="4.29" height="4.26" fill="#4745e9"/><rect x="79.55" y="33.84" width="4.29" height="4.26" fill="#4747eb"/><rect x="83.33" y="33.84" width="4.29" height="4.26" fill="#484aee"/><rect x="87.12" y="33.84" width="4.29" height="4.26" fill="#484df0"/><rect x="90.91" y="33.84" width="4.29" height="4.26" fill="#484ff2"/><rect x="94.7" y="33.84" width="4.29" height="4.26" fill="#4852f4"/><rect x="98.48" y="33.84" width="4.29" height="4.26" fill="#4755f6"/><rect x="102.27" y="33.84" width="4.29" height="4.26" fill="#4758f8"/><rect x="106.06" y="33.84" width="4.29" height="4.26" fill="#475af9"/><rect x="109.85" y="33.84" width="4.29" height="4.26" fill="#475dfa"/><rect x="113.64" y="33.84" width="4.29" height="4.26" fill="#465ffb"/><rect x="117.42" y="33.84" width="4.29" height="4.26" fill="#4562fc"/><rect x="121.21" y="33.84" width="3.79" height="4.26" fill="#4465fd"/><rect x="0" y="37.6" width="4.29" height="4.26" fill="#4330c5"/><rect x="3.79" y="37.6" width="4.29" height="4.26" fill="#4331c6"/><rect x="7.58" y="37.6" width="4.29" height="4.26" fill="#4331c7"/><rect x="11.36" y="37.6" width="4.29" height="4.26" fill="#4332c8"/><rect x="15.15" y="37.6" width="4.29" height="4.26" fill="#4332ca"/><rect x="18.94" y="37.6" width="4.29" height="4.26" fill="#4433cb"/><rect x="22.73" y="37.6" width="4.29" height="4.26" fill="#4433cc"/><rect x="26.52" y="37.6" width="4.29" height="4.26" fill="#4434ce"/><rect x="30.3" y="37.6" width="4.29" height="4.26" fill="#4434d0"/><rect x="34.09" y="37.6" width="4.29" height="4.26" fill="#4435d1"/><rect x="37.88" y="37.6" width="4.29" height="4.26" fill="#4536d3"/><rect x="41.67" y="37.6" width="4.29" height="4.26" fill="#4537d5"/><rect x="45.45" y="37.6" width="4.29" height="4.26" fill="#4538d7"/><rect x="49.24" y="37.6" width="4.29" height="4.26" fill="#4539d9"/><rect x="53.03" y="37.6" width="4.29" height="4.26" fill="#463adb"/><rect x="56.82" y="37.6" width="4.29" height="4.26" fill="#463bdd"/><rect x="60.61" y="37.6" width="4.29" height="4.26" fill="#463ddf"/><rect x="64.39" y="37.6" width="4.29" height="4.26" fill="#473ee2"/><rect x="68.18" y="37.6" width="4.29" height="4.26" fill="#4740e4"/><rect x="71.97" y="37.6" width="4.29" height="4.26" fill="#4742e6"/><rect x="75.76" y="37.6" width="4.29" height="4.26" fill="#4744e8"/><rect x="79.55" y="37.6" width="4.29" height="4.26" fill="#4746ea"/><rect x="83.33" y="37.6" width="4.29" height="4.26" fill="#4747eb"/><rect x="87.12" y="37.6" width="4.29" height="4.26" fill="#484aed"/><rect x="90.91" y="37.6" width="4.29" height="4.26" fill="#484cf0"/><rect x="94.7" y="37.6" width="4.29" height="4.26" fill="#484ff2"/><rect x="98.48" y="37.6" width="4.29" height="4.26" fill="#4851f4"/><rect x="102.27" y="37.6" width="4.29" height="4.26" fill="#4854f5"/><rect x="106.06" y="37.6" width="4.29" height="4.26" fill="#4757f7"/><rect x="109.85" y="37.6" width="4.29" height="4.26" fill="#4759f8"/><rect x="113.64" y="37.6" width="4.29" height="4.26" fill="#475bfa"/><rect x="117.42" y="37.6" width="4.29" height="4.26" fill="#465efb"/><rect x="121.21" y="37.6" width="3.79" height="4.26" fill="#4660fb"/><rect x="0" y="41.36" width="4.29" height="4.26" fill="#4330c5"/><rect x="3.79" y="41.36" width="4.29" height="4.26" fill="#4331c6"/><rect x="7.58" y="41.36" width="4.29" height="4.26" fill="#4331c7"/><rect x="11.36" y="41.36" width="4.29" height="4.26" fill="#4331c8"/><rect x="15.15" y="41.36" width="4.29" height="4.26" fill="#4332c9"/><rect x="18.94" y="41.36" width="4.29" height="4.26" fill="#4332cb"/><rect x="22.73" y="41.36" width="4.29" height="4.26" fill="#4433cc"/><rect x="26.52" y="41.36" width="4.29" height="4.26" fill="#4433cd"/><rect x="30.3" y="41.36" width="4.29" height="4.26" fill="#4434cf"/><rect x="34.09" y="41.36" width="4.29" height="4.26" fill="#4435d1"/><rect x="37.88" y="41.36" width="4.29" height="4.26" fill="#4536d2"/><rect x="41.67" y="41.36" width="4.29" height="4.26" fill="#4536d4"/><rect x="45.45" y="41.36" width="4.29" height="4.26" fill="#4537d6"/><rect x="49.24" y="41.36" width="4.29" height="4.26" fill="#4538d8"/><rect x="53.03" y="41.36" width="4.29" height="4.26" fill="#4639da"/><rect x="56.82" y="41.36" width="4.29" height="4.26" fill="#463adc"/><rect x="60.61" y="41.36" width="4.29" height="4.26" fill="#463cde"/><rect x="64.39" y="41.36" width="4.29" height="4.26" fill="#463de0"/><rect x="68.18" y="41.36" width="4.29" height="4.26" fill="#473fe2"/><rect x="71.97" y="41.36" width="4.29" height="4.26" fill="#4741e4"/><rect x="75.76" y="41.36" width="4.29" height="4.26" fill="#4742e6"/><rect x="79.55" y="41.36" width="4.29" height="4.26" fill="#4744e8"/><rect x="83.33" y="41.36" width="4.29" height="4.26" fill="#4746ea"/><rect x="87.12" y="41.36" width="4.29" height="4.26" fill="#4848ec"/><rect x="90.91" y="41.36" width="4.29" height="4.26" fill="#484aed"/><rect x="94.7" y="41.36" width="4.29" height="4.26" fill="#484cef"/><rect x="98.48" y="41.36" width="4.29" height="4.26" fill="#484ff1"/><rect x="102.27" y="41.36" width="4.29" height="4.26" fill="#4851f3"/><rect x="106.06" y="41.36" width="4.29" height="4.26" fill="#4853f5"/><rect x="109.85" y="41.36" width="4.29" height="4.26" fill="#4755f6"/><rect x="113.64" y="41.36" width="4.29" height="4.26" fill="#4758f8"/><rect x="117.42" y="41.36" width="4.29" height="4.26" fill="#475af9"/><rect x="121.21" y="41.36" width="3.79" height="4.26" fill="#475cfa"/><rect x="0" y="45.12" width="4.29" height="4.26" fill="#4330c4"/><rect x="3.79" y="45.12" width="4.29" height="4.26" fill="#4331c6"/><rect x="7.58" y="45.12" width="4.29" height="4.26" fill="#4331c7"/><rect x="11.36" y="45.12" width="4.29" height="4.26" fill="#4331c8"/><rect x="15.15" y="45.12" width="4.29" height="4.26" fill="#4332c9"/><rect x="18.94" y="45.12" width="4.29" height="4.26" fill="#4332ca"/><rect x="22.73" y="45.12" width="4.29" height="4.26" fill="#4433cc"/><rect x="26.52" y="45.12" width="4.29" height="4.26" fill="#4433cd"/><rect x="30.3" y="45.12" width="4.29" height="4.26" fill="#4434ce"/><rect x="34.09" y="45.12" width="4.29" height="4.26" fill="#4434d0"/><rect x="37.88" y="45.12" width="4.29" height="4.26" fill="#4435d2"/><rect x="41.67" y="45.12" width="4.29" height="4.26" fill="#4536d3"/><rect x="45.45" y="45.12" width="4.29" height="4.26" fill="#4537d5"/><rect x="49.24" y="45.12" width="4.29" height="4.26" fill="#4538d7"/><rect x="53.03" y="45.12" width="4.29" height="4.26" fill="#4539d9"/><rect x="56.82" y="45.12" width="4.29" height="4.26" fill="#463adb"/><rect x="60.61" y="45.12" width="4.29" height="4.26" fill="#463bdd"/><rect x="64.39" y="45.12" width="4.29" height="4.26" fill="#463cdf"/><rect x="68.18" y="45.12" width="4.29" height="4.26" fill="#463ee1"/><rect x="71.97" y="45.12" width="4.29" height="4.26" fill="#473fe3"/><rect x="75.76" y="45.12" width="4.29" height="4.26" fill="#4741e5"/><rect x="79.55" y="45.12" width="4.29" height="4.26" fill="#4743e7"/><rect x="83.33" y="45.12" width="4.29" height="4.26" fill="#4745e9"/><rect x="87.12" y="45.12" width="4.29" height="4.26" fill="#4746eb"/><rect x="90.91" y="45.12" width="4.29" height="4.26" fill="#4848ec"/><rect x="94.7" y="45.12" width="4.29" height="4.26" fill="#484aee"/><rect x="98.48" y="45.12" width="4.29" height="4.26" fill="#484cef"/><rect x="102.27" y="45.12" width="4.29" height="4.26" fill="#484ef1"/><rect x="106.06" y="45.12" width="4.29" height="4.26" fill="#4850f3"/><rect x="109.85" y="45.12" width="4.29" height="4.26" fill="#4853f4"/><rect x="113.64" y="45.12" width="4.29" height="4.26" fill="#4755f6"/><rect x="117.42" y="45.12" width="4.29" height="4.26" fill="#4756f7"/><rect x="121.21" y="45.12" width="3.79" height="4.26" fill="#4758f8"/><rect x="0" y="48.88" width="4.29" height="4.26" fill="#4230c4"/><rect x="3.79" y="48.88" width="4.29" height="4.26" fill="#4330c5"/><rect x="7.58" y="48.88" width="4.29" height="4.26" fill="#4331c7"/><rect x="11.36" y="48.88" width="4.29" height="4.26" fill="#4331c8"/><rect x="15.15" y="48.88" width="4.29" height="4.26" fill="#4332c9"/><rect x="18.94" y="48.88" width="4.29" height="4.26" fill="#4332ca"/><rect x="22.73" y="48.88" width="4.29" height="4.26" fill="#4433cb"/><rect x="26.52" y="48.88" width="4.29" height="4.26" fill="#4433cd"/><rect x="30.3" y="48.88" width="4.29" height="4.26" fill="#4434ce"/><rect x="34.09" y="48.88" width="4.29" height="4.26" fill="#4434cf"/><rect x="37.88" y="48.88" width="4.29" height="4.26" fill="#4435d1"/><rect x="41.67" y="48.88" width="4.29" height="4.26" fill="#4536d2"/><rect x="45.45" y="48.88" width="4.29" height="4.26" fill="#4536d4"/><rect x="49.24" y="48.88" width="4.29" height="4.26" fill="#4537d6"/><rect x="53.03" y="48.88" width="4.29" height="4.26" fill="#4538d8"/><rect x="56.82" y="48.88" width="4.29" height="4.26" fill="#4639da"/><rect x="60.61" y="48.88" width="4.29" height="4.26" fill="#463adc"/><rect x="64.39" y="48.88" width="4.29" height="4.26" fill="#463bde"/><rect x="68.18" y="48.88" width="4.29" height="4.26" fill="#463ddf"/><rect x="71.97" y="48.88" width="4.29" height="4.26" fill="#463ee1"/><rect x="75.76" y="48.88" width="4.29" height="4.26" fill="#4740e3"/><rect x="79.55" y="48.88" width="4.29" height="4.26" fill="#4741e5"/><rect x="83.33" y="48.88" width="4.29" height="4.26" fill="#4743e7"/><rect x="87.12" y="48.88" width="4.29" height="4.26" fill="#4745e9"/><rect x="90.91" y="48.88" width="4.29" height="4.26" fill="#4747eb"/><rect x="94.7" y="48.88" width="4.29" height="4.26" fill="#4849ed"/><rect x="98.48" y="48.88" width="4.29" height="4.26" fill="#484aee"/><rect x="102.27" y="48.88" width="4.29" height="4.26" fill="#484cf0"/><rect x="106.06" y="48.88" width="4.29" height="4.26" fill="#484ef1"/><rect x="109.85" y="48.88" width="4.29" height="4.26" fill="#4850f2"/><rect x="113.64" y="48.88" width="4.29" height="4.26" fill="#4852f4"/><rect x="117.42" y="48.88" width="4.29" height="4.26" fill="#4854f5"/><rect x="121.21" y="48.88" width="3.79" height="4.26" fill="#4756f6"/><rect x="0" y="52.64" width="4.29" height="4.26" fill="#4230c4"/><rect x="3.79" y="52.64" width="4.29" height="4.26" fill="#4330c5"/><rect x="7.58" y="52.64" width="4.29" height="4.26" fill="#4331c6"/><rect x="11.36" y="52.64" width="4.29" height="4.26" fill="#4331c8"/><rect x="15.15" y="52.64" width="4.29" height="4.26" fill="#4332c9"/><rect x="18.94" y="52.64" width="4.29" height="4.26" fill="#4332ca"/><rect x="22.73" y="52.64" width="4.29" height="4.26" fill="#4433cb"/><rect x="26.52" y="52.64" width="4.29" height="4.26" fill="#4433cc"/><rect x="30.3" y="52.64" width="4.29" height="4.26" fill="#4434ce"/><rect x="34.09" y="52.64" width="4.29" height="4.26" fill="#4434cf"/><rect x="37.88" y="52.64" width="4.29" height="4.26" fill="#4435d0"/><rect x="41.67" y="52.64" width="4.29" height="4.26" fill="#4435d2"/><rect x="45.45" y="52.64" width="4.29" height="4.26" fill="#4536d3"/><rect x="49.24" y="52.64" width="4.29" height="4.26" fill="#4537d5"/><rect x="53.03" y="52.64" width="4.29" height="4.26" fill="#4538d7"/><rect x="56.82" y="52.64" width="4.29" height="4.26" fill="#4539d9"/><rect x="60.61" y="52.64" width="4.29" height="4.26" fill="#463ada"/><rect x="64.39" y="52.64" width="4.29" height="4.26" fill="#463bdc"/><rect x="68.18" y="52.64" width="4.29" height="4.26" fill="#463cde"/><rect x="71.97" y="52.64" width="4.29" height="4.26" fill="#463de0"/><rect x="75.76" y="52.64" width="4.29" height="4.26" fill="#473fe2"/><rect x="79.55" y="52.64" width="4.29" height="4.26" fill="#4740e4"/><rect x="83.33" y="52.64" width="4.29" height="4.26" fill="#4742e6"/><rect x="87.12" y="52.64" width="4.29" height="4.26" fill="#4744e8"/><rect x="90.91" y="52.64" width="4.29" height="4.26" fill="#4745ea"/><rect x="94.7" y="52.64" width="4.29" height="4.26" fill="#4747eb"/><rect x="98.48" y="52.64" width="4.29" height="4.26" fill="#4849ed"/><rect x="102.27" y="52.64" width="4.29" height="4.26" fill="#484bef"/><rect x="106.06" y="52.64" width="4.29" height="4.26" fill="#484df0"/><rect x="109.85" y="52.64" width="4.29" height="4.26" fill="#484ef1"/><rect x="113.64" y="52.64" width="4.29" height="4.26" fill="#4850f3"/><rect x="117.42" y="52.64" width="4.29" height="4.26" fill="#4852f4"/><rect x="121.21" y="52.64" width="3.79" height="4.26" fill="#4853f5"/><rect x="0" y="56.4" width="4.29" height="4.26" fill="#4230c4"/><rect x="3.79" y="56.4" width="4.29" height="4.26" fill="#4330c5"/><rect x="7.58" y="56.4" width="4.29" height="4.26" fill="#4331c6"/><rect x="11.36" y="56.4" width="4.29" height="4.26" fill="#4331c7"/><rect x="15.15" y="56.4" width="4.29" height="4.26" fill="#4332c9"/><rect x="18.94" y="56.4" width="4.29" height="4.26" fill="#4332ca"/><rect x="22.73" y="56.4" width="4.29" height="4.26" fill="#4433cb"/><rect x="26.52" y="56.4" width="4.29" height="4.26" fill="#4433cc"/><rect x="30.3" y="56.4" width="4.29" height="4.26" fill="#4434cd"/><rect x="34.09" y="56.4" width="4.29" height="4.26" fill="#4434cf"/><rect x="37.88" y="56.4" width="4.29" height="4.26" fill="#4435d0"/><rect x="41.67" y="56.4" width="4.29" height="4.26" fill="#4435d1"/><rect x="45.45" y="56.4" width="4.29" height="4.26" fill="#4536d3"/><rect x="49.24" y="56.4" width="4.29" height="4.26" fill="#4536d4"/><rect x="53.03" y="56.4" width="4.29" height="4.26" fill="#4537d6"/><rect x="56.82" y="56.4" width="4.29" height="4.26" fill="#4538d8"/><rect x="60.61" y="56.4" width="4.29" height="4.26" fill="#4639d9"/><rect x="64.39" y="56.4" width="4.29" height="4.26" fill="#463adb"/><rect x="68.18" y="56.4" width="4.29" height="4.26" fill="#463bdd"/><rect x="71.97" y="56.4" width="4.29" height="4.26" fill="#463cdf"/><rect x="75.76" y="56.4" width="4.29" height="4.26" fill="#463ee1"/><rect x="79.55" y="56.4" width="4.29" height="4.26" fill="#473fe3"/><rect x="83.33" y="56.4" width="4.29" height="4.26" fill="#4741e4"/><rect x="87.12" y="56.4" width="4.29" height="4.26" fill="#4742e6"/><rect x="90.91" y="56.4" width="4.29" height="4.26" fill="#4744e8"/><rect x="94.7" y="56.4" width="4.29" height="4.26" fill="#4746ea"/><rect x="98.48" y="56.4" width="4.29" height="4.26" fill="#4848ec"/><rect x="102.27" y="56.4" width="4.29" height="4.26" fill="#4849ed"/><rect x="106.06" y="56.4" width="4.29" height="4.26" fill="#484bef"/><rect x="109.85" y="56.4" width="4.29" height="4.26" fill="#484df0"/><rect x="113.64" y="56.4" width="4.29" height="4.26" fill="#484ff2"/><rect x="117.42" y="56.4" width="4.29" height="4.26" fill="#4850f3"/><rect x="121.21" y="56.4" width="3.79" height="4.26" fill="#4852f4"/><rect x="0" y="60.16" width="4.29" height="4.26" fill="#4230c4"/><rect x="3.79" y="60.16" width="4.29" height="4.26" fill="#4330c5"/><rect x="7.58" y="60.16" width="4.29" height="4.26" fill="#4331c6"/><rect x="11.36" y="60.16" width="4.29" height="4.26" fill="#4331c7"/><rect x="15.15" y="60.16" width="4.29" height="4.26" fill="#4332c8"/><rect x="18.94" y="60.16" width="4.29" height="4.26" fill="#4332c9"/><rect x="22.73" y="60.16" width="4.29" height="4.26" fill="#4332cb"/><rect x="26.52" y="60.16" width="4.29" height="4.26" fill="#4433cc"/><rect x="30.3" y="60.16" width="4.29" height="4.26" fill="#4433cd"/><rect x="34.09" y="60.16" width="4.29" height="4.26" fill="#4434ce"/><rect x="37.88" y="60.16" width="4.29" height="4.26" fill="#4434d0"/><rect x="41.67" y="60.16" width="4.29" height="4.26" fill="#4435d1"/><rect x="45.45" y="60.16" width="4.29" height="4.26" fill="#4536d2"/><rect x="49.24" y="60.16" width="4.29" height="4.26" fill="#4536d4"/><rect x="53.03" y="60.16" width="4.29" height="4.26" fill="#4537d5"/><rect x="56.82" y="60.16" width="4.29" height="4.26" fill="#4538d7"/><rect x="60.61" y="60.16" width="4.29" height="4.26" fill="#4538d8"/><rect x="64.39" y="60.16" width="4.29" height="4.26" fill="#4639da"/><rect x="68.18" y="60.16" width="4.29" height="4.26" fill="#463bdc"/><rect x="71.97" y="60.16" width="4.29" height="4.26" fill="#463cde"/><rect x="75.76" y="60.16" width="4.29" height="4.26" fill="#463de0"/><rect x="79.55" y="60.16" width="4.29" height="4.26" fill="#473ee1"/><rect x="83.33" y="60.16" width="4.29" height="4.26" fill="#4740e3"/><rect x="87.12" y="60.16" width="4.29" height="4.26" fill="#4741e5"/><rect x="90.91" y="60.16" width="4.29" height="4.26" fill="#4743e7"/><rect x="94.7" y="60.16" width="4.29" height="4.26" fill="#4744e8"/><rect x="98.48" y="60.16" width="4.29" height="4.26" fill="#4746ea"/><rect x="102.27" y="60.16" width="4.29" height="4.26" fill="#4848ec"/><rect x="106.06" y="60.16" width="4.29" height="4.26" fill="#484aee"/><rect x="109.85" y="60.16" width="4.29" height="4.26" fill="#484cef"/><rect x="113.64" y="60.16" width="4.29" height="4.26" fill="#484df1"/><rect x="117.42" y="60.16" width="4.29" height="4.26" fill="#484ff2"/><rect x="121.21" y="60.16" width="3.79" height="4.26" fill="#4850f3"/><rect x="0" y="63.92" width="4.29" height="4.26" fill="#4230c4"/><rect x="3.79" y="63.92" width="4.29" height="4.26" fill="#4330c5"/><rect x="7.58" y="63.92" width="4.29" height="4.26" fill="#4331c6"/><rect x="11.36" y="63.92" width="4.29" height="4.26" fill="#4331c7"/><rect x="15.15" y="63.92" width="4.29" height="4.26" fill="#4331c8"/><rect x="18.94" y="63.92" width="4.29" height="4.26" fill="#4332c9"/><rect x="22.73" y="63.92" width="4.29" height="4.26" fill="#4332ca"/><rect x="26.52" y="63.92" width="4.29" height="4.26" fill="#4433cc"/><rect x="30.3" y="63.92" width="4.29" height="4.26" fill="#4433cd"/><rect x="34.09" y="63.92" width="4.29" height="4.26" fill="#4434ce"/><rect x="37.88" y="63.92" width="4.29" height="4.26" fill="#4434cf"/><rect x="41.67" y="63.92" width="4.29" height="4.26" fill="#4435d1"/><rect x="45.45" y="63.92" width="4.29" height="4.26" fill="#4535d2"/><rect x="49.24" y="63.92" width="4.29" height="4.26" fill="#4536d3"/><rect x="53.03" y="63.92" width="4.29" height="4.26" fill="#4537d5"/><rect x="56.82" y="63.92" width="4.29" height="4.26" fill="#4537d6"/><rect x="60.61" y="63.92" width="4.29" height="4.26" fill="#4538d8"/><rect x="64.39" y="63.92" width="4.29" height="4.26" fill="#4539d9"/><rect x="68.18" y="63.92" width="4.29" height="4.26" fill="#463adb"/><rect x="71.97" y="63.92" width="4.29" height="4.26" fill="#463bdd"/><rect x="75.76" y="63.92" width="4.29" height="4.26" fill="#463cdf"/><rect x="79.55" y="63.92" width="4.29" height="4.26" fill="#463de0"/><rect x="83.33" y="63.92" width="4.29" height="4.26" fill="#473fe2"/><rect x="87.12" y="63.92" width="4.29" height="4.26" fill="#4740e4"/><rect x="90.91" y="63.92" width="4.29" height="4.26" fill="#4742e6"/><rect x="94.7" y="63.92" width="4.29" height="4.26" fill="#4743e7"/><rect x="98.48" y="63.92" width="4.29" height="4.26" fill="#4745e9"/><rect x="102.27" y="63.92" width="4.29" height="4.26" fill="#4747eb"/><rect x="106.06" y="63.92" width="4.29" height="4.26" fill="#4848ec"/><rect x="109.85" y="63.92" width="4.29" height="4.26" fill="#484aee"/><rect x="113.64" y="63.92" width="4.29" height="4.26" fill="#484cef"/><rect x="117.42" y="63.92" width="4.29" height="4.26" fill="#484ef1"/><rect x="121.21" y="63.92" width="3.79" height="4.26" fill="#484ff2"/><rect x="0" y="67.68" width="4.29" height="4.26" fill="#4230c4"/><rect x="3.79" y="67.68" width="4.29" height="4.26" fill="#4330c5"/><rect x="7.58" y="67.68" width="4.29" height="4.26" fill="#4331c6"/><rect x="11.36" y="67.68" width="4.29" height="4.26" fill="#4331c7"/><rect x="15.15" y="67.68" width="4.29" height="4.26" fill="#4331c8"/><rect x="18.94" y="67.68" width="4.29" height="4.26" fill="#4332c9"/><rect x="22.73" y="67.68" width="4.29" height="4.26" fill="#4332ca"/><rect x="26.52" y="67.68" width="4.29" height="4.26" fill="#4433cb"/><rect x="30.3" y="67.68" width="4.29" height="4.26" fill="#4433cd"/><rect x="34.09" y="67.68" width="4.29" height="4.26" fill="#4434ce"/><rect x="37.88" y="67.68" width="4.29" height="4.26" fill="#4434cf"/><rect x="41.67" y="67.68" width="4.29" height="4.26" fill="#4435d0"/><rect x="45.45" y="67.68" width="4.29" height="4.26" fill="#4435d2"/><rect x="49.24" y="67.68" width="4.29" height="4.26" fill="#4536d3"/><rect x="53.03" y="67.68" width="4.29" height="4.26" fill="#4536d5"/><rect x="56.82" y="67.68" width="4.29" height="4.26" fill="#4537d6"/><rect x="60.61" y="67.68" width="4.29" height="4.26" fill="#4538d7"/><rect x="64.39" y="67.68" width="4.29" height="4.26" fill="#4539d9"/><rect x="68.18" y="67.68" width="4.29" height="4.26" fill="#4639da"/><rect x="71.97" y="67.68" width="4.29" height="4.26" fill="#463adc"/><rect x="75.76" y="67.68" width="4.29" height="4.26" fill="#463bde"/><rect x="79.55" y="67.68" width="4.29" height="4.26" fill="#463ddf"/><rect x="83.33" y="67.68" width="4.29" height="4.26" fill="#463ee1"/><rect x="87.12" y="67.68" width="4.29" height="4.26" fill="#473fe3"/><rect x="90.91" y="67.68" width="4.29" height="4.26" fill="#4741e5"/><rect x="94.7" y="67.68" width="4.29" height="4.26" fill="#4742e6"/><rect x="98.48" y="67.68" width="4.29" height="4.26" fill="#4744e8"/><rect x="102.27" y="67.68" width="4.29" height="4.26" fill="#4745e9"/><rect x="106.06" y="67.68" width="4.29" height="4.26" fill="#4747eb"/><rect x="109.85" y="67.68" width="4.29" height="4.26" fill="#4849ed"/><rect x="113.64" y="67.68" width="4.29" height="4.26" fill="#484bee"/><rect x="117.42" y="67.68" width="4.29" height="4.26" fill="#484cf0"/><rect x="121.21" y="67.68" width="3.79" height="4.26" fill="#484ef1"/><rect x="0" y="71.44" width="4.29" height="4.26" fill="#4230c3"/><rect x="3.79" y="71.44" width="4.29" height="4.26" fill="#4230c4"/><rect x="7.58" y="71.44" width="4.29" height="4.26" fill="#4330c5"/><rect x="11.36" y="71.44" width="4.29" height="4.26" fill="#4331c6"/><rect x="15.15" y="71.44" width="4.29" height="4.26" fill="#4331c7"/><rect x="18.94" y="71.44" width="4.29" height="4.26" fill="#4332c9"/><rect x="22.73" y="71.44" width="4.29" height="4.26" fill="#4332ca"/><rect x="26.52" y="71.44" width="4.29" height="4.26" fill="#4433cb"/><rect x="30.3" y="71.44" width="4.29" height="4.26" fill="#4433cc"/><rect x="34.09" y="71.44" width="4.29" height="4.26" fill="#4434cd"/><rect x="37.88" y="71.44" width="4.29" height="4.26" fill="#4434cf"/><rect x="41.67" y="71.44" width="4.29" height="4.26" fill="#4435d0"/><rect x="45.45" y="71.44" width="4.29" height="4.26" fill="#4435d1"/><rect x="49.24" y="71.44" width="4.29" height="4.26" fill="#4536d3"/><rect x="53.03" y="71.44" width="4.29" height="4.26" fill="#4536d4"/><rect x="56.82" y="71.44" width="4.29" height="4.26" fill="#4537d6"/><rect x="60.61" y="71.44" width="4.29" height="4.26" fill="#4538d7"/><rect x="64.39" y="71.44" width="4.29" height="4.26" fill="#4538d8"/><rect x="68.18" y="71.44" width="4.29" height="4.26" fill="#4639da"/><rect x="71.97" y="71.44" width="4.29" height="4.26" fill="#463adb"/><rect x="75.76" y="71.44" width="4.29" height="4.26" fill="#463bdc"/><rect x="79.55" y="71.44" width="4.29" height="4.26" fill="#463cde"/><rect x="83.33" y="71.44" width="4.29" height="4.26" fill="#463de0"/><rect x="87.12" y="71.44" width="4.29" height="4.26" fill="#473ee2"/><rect x="90.91" y="71.44" width="4.29" height="4.26" fill="#4740e3"/><rect x="94.7" y="71.44" width="4.29" height="4.26" fill="#4741e5"/><rect x="98.48" y="71.44" width="4.29" height="4.26" fill="#4743e7"/><rect x="102.27" y="71.44" width="4.29" height="4.26" fill="#4744e8"/><rect x="106.06" y="71.44" width="4.29" height="4.26" fill="#4746ea"/><rect x="109.85" y="71.44" width="4.29" height="4.26" fill="#4747ec"/><rect x="113.64" y="71.44" width="4.29" height="4.26" fill="#4849ed"/><rect x="117.42" y="71.44" width="4.29" height="4.26" fill="#484bef"/><rect x="121.21" y="71.44" width="3.79" height="4.26" fill="#484df0"/><rect x="0" y="75.2" width="4.29" height="4.26" fill="#4230c3"/><rect x="3.79" y="75.2" width="4.29" height="4.26" fill="#4230c4"/><rect x="7.58" y="75.2" width="4.29" height="4.26" fill="#4330c5"/><rect x="11.36" y="75.2" width="4.29" height="4.26" fill="#4331c6"/><rect x="15.15" y="75.2" width="4.29" height="4.26" fill="#4331c7"/><rect x="18.94" y="75.2" width="4.29" height="4.26" fill="#4331c8"/><rect x="22.73" y="75.2" width="4.29" height="4.26" fill="#4332c9"/><rect x="26.52" y="75.2" width="4.29" height="4.26" fill="#4332cb"/><rect x="30.3" y="75.2" width="4.29" height="4.26" fill="#4433cc"/><rect x="34.09" y="75.2" width="4.29" height="4.26" fill="#4433cd"/><rect x="37.88" y="75.2" width="4.29" height="4.26" fill="#4434ce"/><rect x="41.67" y="75.2" width="4.29" height="4.26" fill="#4434d0"/><rect x="45.45" y="75.2" width="4.29" height="4.26" fill="#4435d1"/><rect x="49.24" y="75.2" width="4.29" height="4.26" fill="#4536d2"/><rect x="53.03" y="75.2" width="4.29" height="4.26" fill="#4536d4"/><rect x="56.82" y="75.2" width="4.29" height="4.26" fill="#4537d5"/><rect x="60.61" y="75.2" width="4.29" height="4.26" fill="#4537d7"/><rect x="64.39" y="75.2" width="4.29" height="4.26" fill="#4538d8"/><rect x="68.18" y="75.2" width="4.29" height="4.26" fill="#4539d9"/><rect x="71.97" y="75.2" width="4.29" height="4.26" fill="#463ada"/><rect x="75.76" y="75.2" width="4.29" height="4.26" fill="#463adc"/><rect x="79.55" y="75.2" width="4.29" height="4.26" fill="#463bdd"/><rect x="83.33" y="75.2" width="4.29" height="4.26" fill="#463cdf"/><rect x="87.12" y="75.2" width="4.29" height="4.26" fill="#463ee1"/><rect x="90.91" y="75.2" width="4.29" height="4.26" fill="#473fe2"/><rect x="94.7" y="75.2" width="4.29" height="4.26" fill="#4740e4"/><rect x="98.48" y="75.2" width="4.29" height="4.26" fill="#4742e6"/><rect x="102.27" y="75.2" width="4.29" height="4.26" fill="#4743e7"/><rect x="106.06" y="75.2" width="4.29" height="4.26" fill="#4745e9"/><rect x="109.85" y="75.2" width="4.29" height="4.26" fill="#4746eb"/><rect x="113.64" y="75.2" width="4.29" height="4.26" fill="#4848ec"/><rect x="117.42" y="75.2" width="4.29" height="4.26" fill="#484aee"/><rect x="121.21" y="75.2" width="3.79" height="4.26" fill="#484bef"/><rect x="0" y="78.96" width="4.29" height="4.26" fill="#4230c3"/><rect x="3.79" y="78.96" width="4.29" height="4.26" fill="#4230c4"/><rect x="7.58" y="78.96" width="4.29" height="4.26" fill="#4330c5"/><rect x="11.36" y="78.96" width="4.29" height="4.26" fill="#4331c6"/><rect x="15.15" y="78.96" width="4.29" height="4.26" fill="#4331c7"/><rect x="18.94" y="78.96" width="4.29" height="4.26" fill="#4331c8"/><rect x="22.73" y="78.96" width="4.29" height="4.26" fill="#4332c9"/><rect x="26.52" y="78.96" width="4.29" height="4.26" fill="#4332ca"/><rect x="30.3" y="78.96" width="4.29" height="4.26" fill="#4433cb"/><rect x="34.09" y="78.96" width="4.29" height="4.26" fill="#4433cd"/><rect x="37.88" y="78.96" width="4.29" height="4.26" fill="#4434ce"/><rect x="41.67" y="78.96" width="4.29" height="4.26" fill="#4434cf"/><rect x="45.45" y="78.96" width="4.29" height="4.26" fill="#4435d1"/><rect x="49.24" y="78.96" width="4.29" height="4.26" fill="#4535d2"/><rect x="53.03" y="78.96" width="4.29" height="4.26" fill="#4536d3"/><rect x="56.82" y="78.96" width="4.29" height="4.26" fill="#4537d5"/><rect x="60.61" y="78.96" width="4.29" height="4.26" fill="#4537d6"/><rect x="64.39" y="78.96" width="4.29" height="4.26" fill="#4538d7"/><rect x="68.18" y="78.96" width="4.29" height="4.26" fill="#4539d9"/><rect x="71.97" y="78.96" width="4.29" height="4.26" fill="#4639da"/><rect x="75.76" y="78.96" width="4.29" height="4.26" fill="#463adb"/><rect x="79.55" y="78.96" width="4.29" height="4.26" fill="#463bdd"/><rect x="83.33" y="78.96" width="4.29" height="4.26" fill="#463cde"/><rect x="87.12" y="78.96" width="4.29" height="4.26" fill="#463de0"/><rect x="90.91" y="78.96" width="4.29" height="4.26" fill="#473ee1"/><rect x="94.7" y="78.96" width="4.29" height="4.26" fill="#4740e3"/><rect x="98.48" y="78.96" width="4.29" height="4.26" fill="#4741e5"/><rect x="102.27" y="78.96" width="4.29" height="4.26" fill="#4742e7"/><rect x="106.06" y="78.96" width="4.29" height="4.26" fill="#4744e8"/><rect x="109.85" y="78.96" width="4.29" height="4.26" fill="#4746ea"/><rect x="113.64" y="78.96" width="4.29" height="4.26" fill="#4747eb"/><rect x="117.42" y="78.96" width="4.29" height="4.26" fill="#4849ed"/><rect x="121.21" y="78.96" width="3.79" height="4.26" fill="#484aee"/><rect x="0" y="82.72" width="4.29" height="4.26" fill="#4230c3"/><rect x="3.79" y="82.72" width="4.29" height="4.26" fill="#4230c4"/><rect x="7.58" y="82.72" width="4.29" height="4.26" fill="#4330c5"/><rect x="11.36" y="82.72" width="4.29" height="4.26" fill="#4331c6"/><rect x="15.15" y="82.72" width="4.29" height="4.26" fill="#4331c7"/><rect x="18.94" y="82.72" width="4.29" height="4.26" fill="#4331c8"/><rect x="22.73" y="82.72" width="4.29" height="4.26" fill="#4332c9"/><rect x="26.52" y="82.72" width="4.29" height="4.26" fill="#4332ca"/><rect x="30.3" y="82.72" width="4.29" height="4.26" fill="#4332cb"/><rect x="34.09" y="82.72" width="4.29" height="4.26" fill="#4433cc"/><rect x="37.88" y="82.72" width="4.29" height="4.26" fill="#4433cd"/><rect x="41.67" y="82.72" width="4.29" height="4.26" fill="#4434cf"/><rect x="45.45" y="82.72" width="4.29" height="4.26" fill="#4435d0"/><rect x="49.24" y="82.72" width="4.29" height="4.26" fill="#4435d1"/><rect x="53.03" y="82.72" width="4.29" height="4.26" fill="#4536d3"/><rect x="56.82" y="82.72" width="4.29" height="4.26" fill="#4536d4"/><rect x="60.61" y="82.72" width="4.29" height="4.26" fill="#4537d6"/><rect x="64.39" y="82.72" width="4.29" height="4.26" fill="#4538d7"/><rect x="68.18" y="82.72" width="4.29" height="4.26" fill="#4539d8"/><rect x="71.97" y="82.72" width="4.29" height="4.26" fill="#4639da"/><rect x="75.76" y="82.72" width="4.29" height="4.26" fill="#463adb"/><rect x="79.55" y="82.72" width="4.29" height="4.26" fill="#463bdc"/><rect x="83.33" y="82.72" width="4.29" height="4.26" fill="#463cde"/><rect x="87.12" y="82.72" width="4.29" height="4.26" fill="#463ddf"/><rect x="90.91" y="82.72" width="4.29" height="4.26" fill="#463ee1"/><rect x="94.7" y="82.72" width="4.29" height="4.26" fill="#473fe2"/><rect x="98.48" y="82.72" width="4.29" height="4.26" fill="#4740e4"/><rect x="102.27" y="82.72" width="4.29" height="4.26" fill="#4742e6"/><rect x="106.06" y="82.72" width="4.29" height="4.26" fill="#4743e7"/><rect x="109.85" y="82.72" width="4.29" height="4.26" fill="#4745e9"/><rect x="113.64" y="82.72" width="4.29" height="4.26" fill="#4746ea"/><rect x="117.42" y="82.72" width="4.29" height="4.26" fill="#4848ec"/><rect x="121.21" y="82.72" width="3.79" height="4.26" fill="#4849ed"/><rect x="0" y="86.48" width="4.29" height="4.26" fill="#4230c3"/><rect x="3.79" y="86.48" width="4.29" height="4.26" fill="#4230c4"/><rect x="7.58" y="86.48" width="4.29" height="4.26" fill="#4330c5"/><rect x="11.36" y="86.48" width="4.29" height="4.26" fill="#4331c6"/><rect x="15.15" y="86.48" width="4.29" height="4.26" fill="#4331c7"/><rect x="18.94" y="86.48" width="4.29" height="4.26" fill="#4331c8"/><rect x="22.73" y="86.48" width="4.29" height="4.26" fill="#4332c9"/><rect x="26.52" y="86.48" width="4.29" height="4.26" fill="#4332ca"/><rect x="30.3" y="86.48" width="4.29" height="4.26" fill="#4332cb"/><rect x="34.09" y="86.48" width="4.29" height="4.26" fill="#4433cc"/><rect x="37.88" y="86.48" width="4.29" height="4.26" fill="#4433cd"/><rect x="41.67" y="86.48" width="4.29" height="4.26" fill="#4434ce"/><rect x="45.45" y="86.48" width="4.29" height="4.26" fill="#4434d0"/><rect x="49.24" y="86.48" width="4.29" height="4.26" fill="#4435d1"/><rect x="53.03" y="86.48" width="4.29" height="4.26" fill="#4536d2"/><rect x="56.82" y="86.48" width="4.29" height="4.26" fill="#4536d4"/><rect x="60.61" y="86.48" width="4.29" height="4.26" fill="#4537d5"/><rect x="64.39" y="86.48" width="4.29" height="4.26" fill="#4538d7"/><rect x="68.18" y="86.48" width="4.29" height="4.26" fill="#4538d8"/><rect x="71.97" y="86.48" width="4.29" height="4.26" fill="#4639d9"/><rect x="75.76" y="86.48" width="4.29" height="4.26" fill="#463adb"/><rect x="79.55" y="86.48" width="4.29" height="4.26" fill="#463bdc"/><rect x="83.33" y="86.48" width="4.29" height="4.26" fill="#463bde"/><rect x="87.12" y="86.48" width="4.29" height="4.26" fill="#463cdf"/><rect x="90.91" y="86.48" width="4.29" height="4.26" fill="#463de0"/><rect x="94.7" y="86.48" width="4.29" height="4.26" fill="#473ee1"/><rect x="98.48" y="86.48" width="4.29" height="4.26" fill="#473fe3"/><rect x="102.27" y="86.48" width="4.29" height="4.26" fill="#4741e5"/><rect x="106.06" y="86.48" width="4.29" height="4.26" fill="#4742e6"/><rect x="109.85" y="86.48" width="4.29" height="4.26" fill="#4744e8"/><rect x="113.64" y="86.48" width="4.29" height="4.26" fill="#4745e9"/><rect x="117.42" y="86.48" width="4.29" height="4.26" fill="#4747eb"/><rect x="121.21" y="86.48" width="3.79" height="4.26" fill="#4848ec"/><rect x="0" y="90.24" width="4.29" height="4.26" fill="#4230c3"/><rect x="3.79" y="90.24" width="4.29" height="4.26" fill="#4230c4"/><rect x="7.58" y="90.24" width="4.29" height="4.26" fill="#4330c5"/><rect x="11.36" y="90.24" width="4.29" height="4.26" fill="#4331c6"/><rect x="15.15" y="90.24" width="4.29" height="4.26" fill="#4331c7"/><rect x="18.94" y="90.24" width="4.29" height="4.26" fill="#4331c8"/><rect x="22.73" y="90.24" width="4.29" height="4.26" fill="#4332c9"/><rect x="26.52" y="90.24" width="4.29" height="4.26" fill="#4332ca"/><rect x="30.3" y="90.24" width="4.29" height="4.26" fill="#4332cb"/><rect x="34.09" y="90.24" width="8.08" height="4.26" fill="#4433cc"/><rect x="41.67" y="90.24" width="4.29" height="4.26" fill="#4434ce"/><rect x="45.45" y="90.24" width="4.29" height="4.26" fill="#4434cf"/><rect x="49.24" y="90.24" width="4.29" height="4.26" fill="#4435d0"/><rect x="53.03" y="90.24" width="4.29" height="4.26" fill="#4535d2"/><rect x="56.82" y="90.24" width="4.29" height="4.26" fill="#4536d4"/><rect x="60.61" y="90.24" width="4.29" height="4.26" fill="#4537d5"/><rect x="64.39" y="90.24" width="4.29" height="4.26" fill="#4537d6"/><rect x="68.18" y="90.24" width="4.29" height="4.26" fill="#4538d8"/><rect x="71.97" y="90.24" width="4.29" height="4.26" fill="#4639d9"/><rect x="75.76" y="90.24" width="4.29" height="4.26" fill="#463adb"/><rect x="79.55" y="90.24" width="4.29" height="4.26" fill="#463adc"/><rect x="83.33" y="90.24" width="4.29" height="4.26" fill="#463bdd"/><rect x="87.12" y="90.24" width="4.29" height="4.26" fill="#463cdf"/><rect x="90.91" y="90.24" width="4.29" height="4.26" fill="#463de0"/><rect x="94.7" y="90.24" width="4.29" height="4.26" fill="#463ee1"/><rect x="98.48" y="90.24" width="4.29" height="4.26" fill="#473fe2"/><rect x="102.27" y="90.24" width="4.29" height="4.26" fill="#4740e4"/><rect x="106.06" y="90.24" width="4.29" height="4.26" fill="#4741e5"/><rect x="109.85" y="90.24" width="4.29" height="4.26" fill="#4743e7"/><rect x="113.64" y="90.24" width="4.29" height="4.26" fill="#4745e9"/><rect x="117.42" y="90.24" width="4.29" height="4.26" fill="#4746ea"/><rect x="121.21" y="90.24" width="3.79" height="4.26" fill="#4848ec"/><rect x="0" y="94" width="4.29" height="4.26" fill="#4230c3"/><rect x="3.79" y="94" width="4.29" height="4.26" fill="#4230c4"/><rect x="7.58" y="94" width="4.29" height="4.26" fill="#4330c5"/><rect x="11.36" y="94" width="4.29" height="4.26" fill="#4331c6"/><rect x="15.15" y="94" width="4.29" height="4.26" fill="#4331c7"/><rect x="18.94" y="94" width="4.29" height="4.26" fill="#4331c8"/><rect x="22.73" y="94" width="4.29" height="4.26" fill="#4332c9"/><rect x="26.52" y="94" width="4.29" height="4.26" fill="#4332ca"/><rect x="30.3" y="94" width="4.29" height="4.26" fill="#4332cb"/><rect x="34.09" y="94" width="4.29" height="4.26" fill="#4433cc"/><rect x="37.88" y="94" width="4.29" height="4.26" fill="#4433cd"/><rect x="41.67" y="94" width="4.29" height="4.26" fill="#4434cd"/><rect x="45.45" y="94" width="4.29" height="4.26" fill="#4434ce"/><rect x="49.24" y="94" width="4.29" height="4.26" fill="#4435d0"/><rect x="53.03" y="94" width="4.29" height="4.26" fill="#4435d1"/><rect x="56.82" y="94" width="4.29" height="4.26" fill="#4536d3"/><rect x="60.61" y="94" width="4.29" height="4.26" fill="#4536d5"/><rect x="64.39" y="94" width="4.29" height="4.26" fill="#4537d6"/><rect x="68.18" y="94" width="4.29" height="4.26" fill="#4538d7"/><rect x="71.97" y="94" width="4.29" height="4.26" fill="#4539d9"/><rect x="75.76" y="94" width="4.29" height="4.26" fill="#463ada"/><rect x="79.55" y="94" width="4.29" height="4.26" fill="#463adc"/><rect x="83.33" y="94" width="4.29" height="4.26" fill="#463bdd"/><rect x="87.12" y="94" width="4.29" height="4.26" fill="#463cde"/><rect x="90.91" y="94" width="4.29" height="4.26" fill="#463de0"/><rect x="94.7" y="94" width="4.29" height="4.26" fill="#463ee1"/><rect x="98.48" y="94" width="4.29" height="4.26" fill="#473fe2"/><rect x="102.27" y="94" width="4.29" height="4.26" fill="#4740e3"/><rect x="106.06" y="94" width="4.29" height="4.26" fill="#4741e5"/><rect x="109.85" y="94" width="4.29" height="4.26" fill="#4742e6"/><rect x="113.64" y="94" width="4.29" height="4.26" fill="#4744e8"/><rect x="117.42" y="94" width="4.29" height="4.26" fill="#4745e9"/><rect x="121.21" y="94" width="3.79" height="4.26" fill="#4747eb"/><rect x="0" y="97.76" width="4.29" height="4.26" fill="#422fc3"/><rect x="3.79" y="97.76" width="4.29" height="4.26" fill="#4230c4"/><rect x="7.58" y="97.76" width="4.29" height="4.26" fill="#4330c4"/><rect x="11.36" y="97.76" width="4.29" height="4.26" fill="#4331c5"/><rect x="15.15" y="97.76" width="4.29" height="4.26" fill="#4331c6"/><rect x="18.94" y="97.76" width="4.29" height="4.26" fill="#4331c7"/><rect x="22.73" y="97.76" width="4.29" height="4.26" fill="#4332c9"/><rect x="26.52" y="97.76" width="4.29" height="4.26" fill="#4332ca"/><rect x="30.3" y="97.76" width="4.29" height="4.26" fill="#4332cb"/><rect x="34.09" y="97.76" width="4.29" height="4.26" fill="#4433cc"/><rect x="37.88" y="97.76" width="4.29" height="4.26" fill="#4433cd"/><rect x="41.67" y="97.76" width="4.29" height="4.26" fill="#4434ce"/><rect x="45.45" y="97.76" width="4.29" height="4.26" fill="#4434cf"/><rect x="49.24" y="97.76" width="4.29" height="4.26" fill="#4434d0"/><rect x="53.03" y="97.76" width="4.29" height="4.26" fill="#4435d1"/><rect x="56.82" y="97.76" width="4.29" height="4.26" fill="#4536d2"/><rect x="60.61" y="97.76" width="4.29" height="4.26" fill="#4536d4"/><rect x="64.39" y="97.76" width="4.29" height="4.26" fill="#4537d6"/><rect x="68.18" y="97.76" width="4.29" height="4.26" fill="#4538d7"/><rect x="71.97" y="97.76" width="4.29" height="4.26" fill="#4539d9"/><rect x="75.76" y="97.76" width="4.29" height="4.26" fill="#4639da"/><rect x="79.55" y="97.76" width="4.29" height="4.26" fill="#463adb"/><rect x="83.33" y="97.76" width="4.29" height="4.26" fill="#463bdd"/><rect x="87.12" y="97.76" width="4.29" height="4.26" fill="#463cde"/><rect x="90.91" y="97.76" width="4.29" height="4.26" fill="#463ddf"/><rect x="94.7" y="97.76" width="4.29" height="4.26" fill="#463ee1"/><rect x="98.48" y="97.76" width="4.29" height="4.26" fill="#473fe2"/><rect x="102.27" y="97.76" width="4.29" height="4.26" fill="#4740e3"/><rect x="106.06" y="97.76" width="4.29" height="4.26" fill="#4740e4"/><rect x="109.85" y="97.76" width="4.29" height="4.26" fill="#4742e6"/><rect x="113.64" y="97.76" width="4.29" height="4.26" fill="#4743e7"/><rect x="117.42" y="97.76" width="4.29" height="4.26" fill="#4744e9"/><rect x="121.21" y="97.76" width="3.79" height="4.26" fill="#4746ea"/><rect x="0" y="101.52" width="4.29" height="4.26" fill="#422fc2"/><rect x="3.79" y="101.52" width="4.29" height="4.26" fill="#4230c3"/><rect x="7.58" y="101.52" width="4.29" height="4.26" fill="#4330c4"/><rect x="11.36" y="101.52" width="4.29" height="4.26" fill="#4330c5"/><rect x="15.15" y="101.52" width="4.29" height="4.26" fill="#4331c6"/><rect x="18.94" y="101.52" width="4.29" height="4.26" fill="#4331c8"/><rect x="22.73" y="101.52" width="4.29" height="4.26" fill="#4332c9"/><rect x="26.52" y="101.52" width="4.29" height="4.26" fill="#4332ca"/><rect x="30.3" y="101.52" width="4.29" height="4.26" fill="#4332cb"/><rect x="34.09" y="101.52" width="4.29" height="4.26" fill="#4433cc"/><rect x="37.88" y="101.52" width="4.29" height="4.26" fill="#4433cd"/><rect x="41.67" y="101.52" width="4.29" height="4.26" fill="#4434ce"/><rect x="45.45" y="101.52" width="4.29" height="4.26" fill="#4434cf"/><rect x="49.24" y="101.52" width="4.29" height="4.26" fill="#4434d0"/><rect x="53.03" y="101.52" width="4.29" height="4.26" fill="#4435d1"/><rect x="56.82" y="101.52" width="4.29" height="4.26" fill="#4535d2"/><rect x="60.61" y="101.52" width="4.29" height="4.26" fill="#4536d4"/><rect x="64.39" y="101.52" width="4.29" height="4.26" fill="#4537d5"/><rect x="68.18" y="101.52" width="4.29" height="4.26" fill="#4538d7"/><rect x="71.97" y="101.52" width="4.29" height="4.26" fill="#4538d8"/><rect x="75.76" y="101.52" width="4.29" height="4.26" fill="#4639da"/><rect x="79.55" y="101.52" width="4.29" height="4.26" fill="#463adb"/><rect x="83.33" y="101.52" width="4.29" height="4.26" fill="#463bdd"/><rect x="87.12" y="101.52" width="4.29" height="4.26" fill="#463cde"/><rect x="90.91" y="101.52" width="4.29" height="4.26" fill="#463ddf"/><rect x="94.7" y="101.52" width="4.29" height="4.26" fill="#463ee1"/><rect x="98.48" y="101.52" width="4.29" height="4.26" fill="#473fe2"/><rect x="102.27" y="101.52" width="4.29" height="4.26" fill="#473fe3"/><rect x="106.06" y="101.52" width="4.29" height="4.26" fill="#4740e4"/><rect x="109.85" y="101.52" width="4.29" height="4.26" fill="#4741e5"/><rect x="113.64" y="101.52" width="4.29" height="4.26" fill="#4742e6"/><rect x="117.42" y="101.52" width="4.29" height="4.26" fill="#4744e8"/><rect x="121.21" y="101.52" width="3.79" height="4.26" fill="#4745e9"/><rect x="0" y="105.28" width="4.29" height="4.26" fill="#422fc2"/><rect x="3.79" y="105.28" width="4.29" height="4.26" fill="#4230c3"/><rect x="7.58" y="105.28" width="4.29" height="4.26" fill="#4330c4"/><rect x="11.36" y="105.28" width="4.29" height="4.26" fill="#4331c5"/><rect x="15.15" y="105.28" width="4.29" height="4.26" fill="#4331c7"/><rect x="18.94" y="105.28" width="4.29" height="4.26" fill="#4331c8"/><rect x="22.73" y="105.28" width="4.29" height="4.26" fill="#4332c9"/><rect x="26.52" y="105.28" width="4.29" height="4.26" fill="#4332ca"/><rect x="30.3" y="105.28" width="4.29" height="4.26" fill="#4332cb"/><rect x="34.09" y="105.28" width="4.29" height="4.26" fill="#4433cc"/><rect x="37.88" y="105.28" width="4.29" height="4.26" fill="#4433cd"/><rect x="41.67" y="105.28" width="4.29" height="4.26" fill="#4434ce"/><rect x="45.45" y="105.28" width="4.29" height="4.26" fill="#4434cf"/><rect x="49.24" y="105.28" width="4.29" height="4.26" fill="#4434d0"/><rect x="53.03" y="105.28" width="4.29" height="4.26" fill="#4435d1"/><rect x="56.82" y="105.28" width="4.29" height="4.26" fill="#4535d2"/><rect x="60.61" y="105.28" width="4.29" height="4.26" fill="#4536d3"/><rect x="64.39" y="105.28" width="4.29" height="4.26" fill="#4537d5"/><rect x="68.18" y="105.28" width="4.29" height="4.26" fill="#4537d7"/><rect x="71.97" y="105.28" width="4.29" height="4.26" fill="#4538d8"/><rect x="75.76" y="105.28" width="4.29" height="4.26" fill="#4639da"/><rect x="79.55" y="105.28" width="4.29" height="4.26" fill="#463adb"/><rect x="83.33" y="105.28" width="4.29" height="4.26" fill="#463bdd"/><rect x="87.12" y="105.28" width="4.29" height="4.26" fill="#463cde"/><rect x="90.91" y="105.28" width="4.29" height="4.26" fill="#463ddf"/><rect x="94.7" y="105.28" width="4.29" height="4.26" fill="#463ee0"/><rect x="98.48" y="105.28" width="4.29" height="4.26" fill="#473ee2"/><rect x="102.27" y="105.28" width="4.29" height="4.26" fill="#473fe3"/><rect x="106.06" y="105.28" width="4.29" height="4.26" fill="#4740e4"/><rect x="109.85" y="105.28" width="4.29" height="4.26" fill="#4741e5"/><rect x="113.64" y="105.28" width="4.29" height="4.26" fill="#4742e6"/><rect x="117.42" y="105.28" width="4.29" height="4.26" fill="#4743e7"/><rect x="121.21" y="105.28" width="3.79" height="4.26" fill="#4745e9"/><rect x="0" y="109.04" width="4.29" height="1.26" fill="#422fc2"/><rect x="3.79" y="109.04" width="4.29" height="1.26" fill="#4230c3"/><rect x="7.58" y="109.04" width="4.29" height="1.26" fill="#4330c4"/><rect x="11.36" y="109.04" width="4.29" height="1.26" fill="#4331c6"/><rect x="15.15" y="109.04" width="4.29" height="1.26" fill="#4331c7"/><rect x="18.94" y="109.04" width="4.29" height="1.26" fill="#4331c8"/><rect x="22.73" y="109.04" width="4.29" height="1.26" fill="#4332c9"/><rect x="26.52" y="109.04" width="4.29" height="1.26" fill="#4332ca"/><rect x="30.3" y="109.04" width="4.29" height="1.26" fill="#4432cb"/><rect x="34.09" y="109.04" width="4.29" height="1.26" fill="#4433cc"/><rect x="37.88" y="109.04" width="4.29" height="1.26" fill="#4433cd"/><rect x="41.67" y="109.04" width="4.29" height="1.26" fill="#4434ce"/><rect x="45.45" y="109.04" width="4.29" height="1.26" fill="#4434cf"/><rect x="49.24" y="109.04" width="4.29" height="1.26" fill="#4435d0"/><rect x="53.03" y="109.04" width="4.29" height="1.26" fill="#4435d1"/><rect x="56.82" y="109.04" width="4.29" height="1.26" fill="#4535d2"/><rect x="60.61" y="109.04" width="4.29" height="1.26" fill="#4536d3"/><rect x="64.39" y="109.04" width="4.29" height="1.26" fill="#4537d5"/><rect x="68.18" y="109.04" width="4.29" height="1.26" fill="#4537d6"/><rect x="71.97" y="109.04" width="4.29" height="1.26" fill="#4538d8"/><rect x="75.76" y="109.04" width="4.29" height="1.26" fill="#4639d9"/><rect x="79.55" y="109.04" width="4.29" height="1.26" fill="#463adb"/><rect x="83.33" y="109.04" width="4.29" height="1.26" fill="#463bdc"/><rect x="87.12" y="109.04" width="4.29" height="1.26" fill="#463cde"/><rect x="90.91" y="109.04" width="4.29" height="1.26" fill="#463ddf"/><rect x="94.7" y="109.04" width="4.29" height="1.26" fill="#463ee0"/><rect x="98.48" y="109.04" width="4.29" height="1.26" fill="#473ee2"/><rect x="102.27" y="109.04" width="4.29" height="1.26" fill="#473fe3"/><rect x="106.06" y="109.04" width="4.29" height="1.26" fill="#4740e4"/><rect x="109.85" y="109.04" width="4.29" height="1.26" fill="#4741e5"/><rect x="113.64" y="109.04" width="4.29" height="1.26" fill="#4742e6"/><rect x="117.42" y="109.04" width="4.29" height="1.26" fill="#4743e7"/><rect x="121.21" y="109.04" width="3.79" height="1.26" fill="#4744e8"/>
<use href="#grid"/>
<rect x="0" y="0" width="125" height="110.3" fill="none" stroke="#262626" stroke-width="0.4"/>
<rect x="128.35" y="0" width="6.65" height="110.3" fill="url(#pg)" stroke="#262626" stroke-width="0.12"/>
<text x="136.9" y="111.75" font-size="3.95" font-family="Liberation Sans, Arial, sans-serif" fill="#404040">0</text>
<text x="136.9" y="99.43" font-size="3.95" font-family="Liberation Sans, Arial, sans-serif" fill="#404040">2</text>
<text x="136.9" y="87.1" font-size="3.95" font-family="Liberation Sans, Arial, sans-serif" fill="#404040">4</text>
<text x="136.9" y="74.78" font-size="3.95" font-family="Liberation Sans, Arial, sans-serif" fill="#404040">6</text>
<text x="136.9" y="62.45" font-size="3.95" font-family="Liberation Sans, Arial, sans-serif" fill="#404040">8</text>
<text x="136.9" y="50.13" font-size="3.95" font-family="Liberation Sans, Arial, sans-serif" fill="#404040">10</text>
<text x="136.9" y="37.81" font-size="3.95" font-family="Liberation Sans, Arial, sans-serif" fill="#404040">12</text>
<text x="136.9" y="25.48" font-size="3.95" font-family="Liberation Sans, Arial, sans-serif" fill="#404040">14</text>
<text x="136.9" y="13.16" font-size="3.95" font-family="Liberation Sans, Arial, sans-serif" fill="#404040">16</text>
<text x="14.32" y="116.6" font-size="4.4" text-anchor="middle" font-family="Liberation Sans, Arial, sans-serif" fill="#404040">0.2</text>
<text x="28.65" y="116.6" font-size="4.4" text-anchor="middle" font-family="Liberation Sans, Arial, sans-serif" fill="#404040">0.4</text>
<text x="42.97" y="116.6" font-size="4.4" text-anchor="middle" font-family="Liberation Sans, Arial, sans-serif" fill="#404040">0.6</text>
<text x="57.3" y="116.6" font-size="4.4" text-anchor="middle" font-family="Liberation Sans, Arial, sans-serif" fill="#404040">0.8</text>
<text x="71.62" y="116.6" font-size="4.4" text-anchor="middle" font-family="Liberation Sans, Arial, sans-serif" fill="#404040">1</text>
<text x="85.95" y="116.6" font-size="4.4" text-anchor="middle" font-family="Liberation Sans, Arial, sans-serif" fill="#404040">1.2</text>
<text x="100.27" y="116.6" font-size="4.4" text-anchor="middle" font-family="Liberation Sans, Arial, sans-serif" fill="#404040">1.4</text>
<text x="114.59" y="116.6" font-size="4.4" text-anchor="middle" font-family="Liberation Sans, Arial, sans-serif" fill="#404040">1.6</text>
<text x="-2.0" y="94.64" font-size="4.3" text-anchor="end" font-family="Liberation Sans, Arial, sans-serif" fill="#404040">0.2</text>
<text x="-2.0" y="76.59" font-size="4.3" text-anchor="end" font-family="Liberation Sans, Arial, sans-serif" fill="#404040">0.4</text>
<text x="-2.0" y="58.53" font-size="4.3" text-anchor="end" font-family="Liberation Sans, Arial, sans-serif" fill="#404040">0.6</text>
<text x="-2.0" y="40.47" font-size="4.3" text-anchor="end" font-family="Liberation Sans, Arial, sans-serif" fill="#404040">0.8</text>
<text x="-2.0" y="22.42" font-size="4.3" text-anchor="end" font-family="Liberation Sans, Arial, sans-serif" fill="#404040">1</text>
<text x="-2.0" y="4.36" font-size="4.3" text-anchor="end" font-family="Liberation Sans, Arial, sans-serif" fill="#404040">1.2</text>
<text x="62.5" y="-2.2" font-size="4.8" word-spacing="0.6" text-anchor="middle" font-family="Liberation Serif, Times New Roman, serif" fill="#404040"><tspan font-style="italic">q</tspan><tspan font-size="3.4" dy="0.75">1</tspan><tspan dy="-0.75"> = 40°</tspan></text>
<text x="63.1" y="121.7" font-size="4.8" letter-spacing="0.17" text-anchor="middle" font-family="Liberation Serif, Times New Roman, serif" fill="#404040"><tspan font-style="italic">q</tspan><tspan font-size="3.4" dy="0.75">2</tspan><tspan dy="-0.75"> (rad)</tspan></text>
<text transform="translate(-10.9,55.15) rotate(-90)" font-size="4.8" letter-spacing="0.17" text-anchor="middle" font-family="Liberation Serif, Times New Roman, serif" fill="#404040"><tspan font-style="italic">q</tspan><tspan font-size="3.4" dy="0.75">3</tspan><tspan dy="-0.75"> (rad)</tspan></text>
</g>
<g transform="translate(205.4,155.85)">
<rect x="0" y="0" width="4.29" height="4.26" fill="#402ab4"/><rect x="3.79" y="0" width="8.08" height="4.26" fill="#402ab5"/><rect x="11.36" y="0" width="4.29" height="4.26" fill="#402bb6"/><rect x="15.15" y="0" width="8.08" height="4.26" fill="#402bb7"/><rect x="22.73" y="0" width="4.29" height="4.26" fill="#402bb8"/><rect x="26.52" y="0" width="4.29" height="4.26" fill="#412cb8"/><rect x="30.3" y="0" width="4.29" height="4.26" fill="#412cb9"/><rect x="34.09" y="0" width="8.08" height="4.26" fill="#412cba"/><rect x="41.67" y="0" width="8.08" height="4.26" fill="#412dbb"/><rect x="49.24" y="0" width="4.29" height="4.26" fill="#412dbc"/><rect x="53.03" y="0" width="8.08" height="4.26" fill="#412dbd"/><rect x="60.61" y="0" width="4.29" height="4.26" fill="#422ebe"/><rect x="64.39" y="0" width="4.29" height="4.26" fill="#422fc0"/><rect x="68.18" y="0" width="4.29" height="4.26" fill="#422fc2"/><rect x="71.97" y="0" width="4.29" height="4.26" fill="#4330c4"/><rect x="75.76" y="0" width="4.29" height="4.26" fill="#4331c6"/><rect x="79.55" y="0" width="4.29" height="4.26" fill="#4332c9"/><rect x="83.33" y="0" width="4.29" height="4.26" fill="#4433cb"/><rect x="87.12" y="0" width="4.29" height="4.26" fill="#4435d1"/><rect x="90.91" y="0" width="4.29" height="4.26" fill="#4537d6"/><rect x="94.7" y="0" width="4.29" height="4.26" fill="#463adb"/><rect x="98.48" y="0" width="4.29" height="4.26" fill="#463ddf"/><rect x="102.27" y="0" width="4.29" height="4.26" fill="#4742e6"/><rect x="106.06" y="0" width="4.29" height="4.26" fill="#4848ec"/><rect x="109.85" y="0" width="4.29" height="4.26" fill="#4756f6"/><rect x="113.64" y="0" width="4.29" height="4.26" fill="#4368fe"/><rect x="117.42" y="0" width="4.29" height="4.26" fill="#2d8cf3"/><rect x="121.21" y="0" width="3.79" height="4.26" fill="#01b8c9"/><rect x="0" y="3.76" width="4.29" height="4.26" fill="#402ab4"/><rect x="3.79" y="3.76" width="8.08" height="4.26" fill="#402ab5"/><rect x="11.36" y="3.76" width="4.29" height="4.26" fill="#402bb6"/><rect x="15.15" y="3.76" width="8.08" height="4.26" fill="#402bb7"/><rect x="22.73" y="3.76" width="4.29" height="4.26" fill="#402bb8"/><rect x="26.52" y="3.76" width="8.08" height="4.26" fill="#412cb9"/><rect x="34.09" y="3.76" width="4.29" height="4.26" fill="#412cba"/><rect x="37.88" y="3.76" width="4.29" height="4.26" fill="#412cbb"/><rect x="41.67" y="3.76" width="4.29" height="4.26" fill="#412dbb"/><rect x="45.45" y="3.76" width="4.29" height="4.26" fill="#412dbc"/><rect x="49.24" y="3.76" width="4.29" height="4.26" fill="#412dbd"/><rect x="53.03" y="3.76" width="4.29" height="4.26" fill="#412ebd"/><rect x="56.82" y="3.76" width="4.29" height="4.26" fill="#412ebe"/><rect x="60.61" y="3.76" width="4.29" height="4.26" fill="#422ebf"/><rect x="64.39" y="3.76" width="4.29" height="4.26" fill="#422fc0"/><rect x="68.18" y="3.76" width="4.29" height="4.26" fill="#422fc2"/><rect x="71.97" y="3.76" width="4.29" height="4.26" fill="#4330c5"/><rect x="75.76" y="3.76" width="4.29" height="4.26" fill="#4331c7"/><rect x="79.55" y="3.76" width="4.29" height="4.26" fill="#4332c9"/><rect x="83.33" y="3.76" width="4.29" height="4.26" fill="#4433cb"/><rect x="87.12" y="3.76" width="4.29" height="4.26" fill="#4434ce"/><rect x="90.91" y="3.76" width="4.29" height="4.26" fill="#4536d4"/><rect x="94.7" y="3.76" width="4.29" height="4.26" fill="#4539d9"/><rect x="98.48" y="3.76" width="4.29" height="4.26" fill="#463cde"/><rect x="102.27" y="3.76" width="4.29" height="4.26" fill="#473fe3"/><rect x="106.06" y="3.76" width="4.29" height="4.26" fill="#4745e9"/><rect x="109.85" y="3.76" width="4.29" height="4.26" fill="#484cf0"/><rect x="113.64" y="3.76" width="4.29" height="4.26" fill="#4758f8"/><rect x="117.42" y="3.76" width="4.29" height="4.26" fill="#4368fe"/><rect x="121.21" y="3.76" width="3.79" height="4.26" fill="#2f81fa"/><rect x="0" y="7.52" width="4.29" height="4.26" fill="#402ab4"/><rect x="3.79" y="7.52" width="8.08" height="4.26" fill="#402ab5"/><rect x="11.36" y="7.52" width="4.29" height="4.26" fill="#402bb6"/><rect x="15.15" y="7.52" width="8.08" height="4.26" fill="#402bb7"/><rect x="22.73" y="7.52" width="4.29" height="4.26" fill="#402cb8"/><rect x="26.52" y="7.52" width="8.08" height="4.26" fill="#412cb9"/><rect x="34.09" y="7.52" width="4.29" height="4.26" fill="#412cba"/><rect x="37.88" y="7.52" width="8.08" height="4.26" fill="#412dbb"/><rect x="45.45" y="7.52" width="4.29" height="4.26" fill="#412dbc"/><rect x="49.24" y="7.52" width="4.29" height="4.26" fill="#412dbd"/><rect x="53.03" y="7.52" width="4.29" height="4.26" fill="#412ebe"/><rect x="56.82" y="7.52" width="8.08" height="4.26" fill="#422ebf"/><rect x="64.39" y="7.52" width="4.29" height="4.26" fill="#422fc0"/><rect x="68.18" y="7.52" width="4.29" height="4.26" fill="#422fc2"/><rect x="71.97" y="7.52" width="4.29" height="4.26" fill="#4230c4"/><rect x="75.76" y="7.52" width="4.29" height="4.26" fill="#4331c7"/><rect x="79.55" y="7.52" width="4.29" height="4.26" fill="#4332c9"/><rect x="83.33" y="7.52" width="4.29" height="4.26" fill="#4433cb"/><rect x="87.12" y="7.52" width="4.29" height="4.26" fill="#4434ce"/><rect x="90.91" y="7.52" width="4.29" height="4.26" fill="#4435d1"/><rect x="94.7" y="7.52" width="4.29" height="4.26" fill="#4537d6"/><rect x="98.48" y="7.52" width="4.29" height="4.26" fill="#463ada"/><rect x="102.27" y="7.52" width="4.29" height="4.26" fill="#463ddf"/><rect x="106.06" y="7.52" width="4.29" height="4.26" fill="#4741e4"/><rect x="109.85" y="7.52" width="4.29" height="4.26" fill="#4746ea"/><rect x="113.64" y="7.52" width="4.29" height="4.26" fill="#484cf0"/><rect x="117.42" y="7.52" width="4.29" height="4.26" fill="#4854f5"/><rect x="121.21" y="7.52" width="3.79" height="4.26" fill="#465efb"/><rect x="0" y="11.28" width="8.08" height="4.26" fill="#402ab4"/><rect x="7.58" y="11.28" width="4.29" height="4.26" fill="#402ab5"/><rect x="11.36" y="11.28" width="4.29" height="4.26" fill="#402bb6"/><rect x="15.15" y="11.28" width="8.08" height="4.26" fill="#402bb7"/><rect x="22.73" y="11.28" width="4.29" height="4.26" fill="#402cb8"/><rect x="26.52" y="11.28" width="4.29" height="4.26" fill="#412cb9"/><rect x="30.3" y="11.28" width="8.08" height="4.26" fill="#412cba"/><rect x="37.88" y="11.28" width="4.29" height="4.26" fill="#412dbb"/><rect x="41.67" y="11.28" width="8.08" height="4.26" fill="#412dbc"/><rect x="49.24" y="11.28" width="4.29" height="4.26" fill="#412dbd"/><rect x="53.03" y="11.28" width="4.29" height="4.26" fill="#422ebe"/><rect x="56.82" y="11.28" width="4.29" height="4.26" fill="#422ebf"/><rect x="60.61" y="11.28" width="4.29" height="4.26" fill="#422fc0"/><rect x="64.39" y="11.28" width="4.29" height="4.26" fill="#422fc1"/><rect x="68.18" y="11.28" width="4.29" height="4.26" fill="#422fc2"/><rect x="71.97" y="11.28" width="4.29" height="4.26" fill="#4230c4"/><rect x="75.76" y="11.28" width="4.29" height="4.26" fill="#4331c6"/><rect x="79.55" y="11.28" width="4.29" height="4.26" fill="#4332c8"/><rect x="83.33" y="11.28" width="4.29" height="4.26" fill="#4332cb"/><rect x="87.12" y="11.28" width="4.29" height="4.26" fill="#4433cd"/><rect x="90.91" y="11.28" width="4.29" height="4.26" fill="#4434d0"/><rect x="94.7" y="11.28" width="4.29" height="4.26" fill="#4536d3"/><rect x="98.48" y="11.28" width="4.29" height="4.26" fill="#4538d7"/><rect x="102.27" y="11.28" width="4.29" height="4.26" fill="#463adb"/><rect x="106.06" y="11.28" width="4.29" height="4.26" fill="#463de0"/><rect x="109.85" y="11.28" width="4.29" height="4.26" fill="#4741e4"/><rect x="113.64" y="11.28" width="4.29" height="4.26" fill="#4745e9"/><rect x="117.42" y="11.28" width="4.29" height="4.26" fill="#484aee"/><rect x="121.21" y="11.28" width="3.79" height="4.26" fill="#4850f2"/><rect x="0" y="15.04" width="8.08" height="4.26" fill="#402ab4"/><rect x="7.58" y="15.04" width="4.29" height="4.26" fill="#402ab5"/><rect x="11.36" y="15.04" width="8.08" height="4.26" fill="#402bb6"/><rect x="18.94" y="15.04" width="4.29" height="4.26" fill="#402bb7"/><rect x="22.73" y="15.04" width="4.29" height="4.26" fill="#402bb8"/><rect x="26.52" y="15.04" width="4.29" height="4.26" fill="#412cb9"/><rect x="30.3" y="15.04" width="8.08" height="4.26" fill="#412cba"/><rect x="37.88" y="15.04" width="4.29" height="4.26" fill="#412dbb"/><rect x="41.67" y="15.04" width="8.08" height="4.26" fill="#412dbc"/><rect x="49.24" y="15.04" width="4.29" height="4.26" fill="#412dbd"/><rect x="53.03" y="15.04" width="4.29" height="4.26" fill="#412ebe"/><rect x="56.82" y="15.04" width="4.29" height="4.26" fill="#422ebf"/><rect x="60.61" y="15.04" width="4.29" height="4.26" fill="#422fc0"/><rect x="64.39" y="15.04" width="4.29" height="4.26" fill="#422fc1"/><rect x="68.18" y="15.04" width="4.29" height="4.26" fill="#422fc2"/><rect x="71.97" y="15.04" width="4.29" height="4.26" fill="#4230c3"/><rect x="75.76" y="15.04" width="4.29" height="4.26" fill="#4330c5"/><rect x="79.55" y="15.04" width="4.29" height="4.26" fill="#4331c7"/><rect x="83.33" y="15.04" width="4.29" height="4.26" fill="#4332ca"/><rect x="87.12" y="15.04" width="4.29" height="4.26" fill="#4433cc"/><rect x="90.91" y="15.04" width="4.29" height="4.26" fill="#4434cf"/><rect x="94.7" y="15.04" width="4.29" height="4.26" fill="#4435d1"/><rect x="98.48" y="15.04" width="4.29" height="4.26" fill="#4536d4"/><rect x="102.27" y="15.04" width="4.29" height="4.26" fill="#4538d7"/><rect x="106.06" y="15.04" width="4.29" height="4.26" fill="#463adb"/><rect x="109.85" y="15.04" width="4.29" height="4.26" fill="#463cdf"/><rect x="113.64" y="15.04" width="4.29" height="4.26" fill="#4740e3"/><rect x="117.42" y="15.04" width="4.29" height="4.26" fill="#4743e7"/><rect x="121.21" y="15.04" width="3.79" height="4.26" fill="#4746eb"/><rect x="0" y="18.8" width="8.08" height="4.26" fill="#402ab4"/><rect x="7.58" y="18.8" width="8.08" height="4.26" fill="#402ab5"/><rect x="15.15" y="18.8" width="4.29" height="4.26" fill="#402bb6"/><rect x="18.94" y="18.8" width="4.29" height="4.26" fill="#402bb7"/><rect x="22.73" y="18.8" width="4.29" height="4.26" fill="#402bb8"/><rect x="26.52" y="18.8" width="4.29" height="4.26" fill="#412cb8"/><rect x="30.3" y="18.8" width="4.29" height="4.26" fill="#412cb9"/><rect x="34.09" y="18.8" width="4.29" height="4.26" fill="#412cba"/><rect x="37.88" y="18.8" width="4.29" height="4.26" fill="#412dbb"/><rect x="41.67" y="18.8" width="8.08" height="4.26" fill="#412dbc"/><rect x="49.24" y="18.8" width="4.29" height="4.26" fill="#412dbd"/><rect x="53.03" y="18.8" width="4.29" height="4.26" fill="#412ebe"/><rect x="56.82" y="18.8" width="4.29" height="4.26" fill="#422ebf"/><rect x="60.61" y="18.8" width="4.29" height="4.26" fill="#422fc0"/><rect x="64.39" y="18.8" width="4.29" height="4.26" fill="#422fc1"/><rect x="68.18" y="18.8" width="4.29" height="4.26" fill="#422fc2"/><rect x="71.97" y="18.8" width="4.29" height="4.26" fill="#4230c4"/><rect x="75.76" y="18.8" width="4.29" height="4.26" fill="#4330c5"/><rect x="79.55" y="18.8" width="4.29" height="4.26" fill="#4331c6"/><rect x="83.33" y="18.8" width="4.29" height="4.26" fill="#4331c8"/><rect x="87.12" y="18.8" width="4.29" height="4.26" fill="#4332cb"/><rect x="90.91" y="18.8" width="4.29" height="4.26" fill="#4433cd"/><rect x="94.7" y="18.8" width="4.29" height="4.26" fill="#4434d0"/><rect x="98.48" y="18.8" width="4.29" height="4.26" fill="#4536d2"/><rect x="102.27" y="18.8" width="4.29" height="4.26" fill="#4537d5"/><rect x="106.06" y="18.8" width="4.29" height="4.26" fill="#4538d8"/><rect x="109.85" y="18.8" width="4.29" height="4.26" fill="#463adb"/><rect x="113.64" y="18.8" width="4.29" height="4.26" fill="#463cde"/><rect x="117.42" y="18.8" width="4.29" height="4.26" fill="#463ee1"/><rect x="121.21" y="18.8" width="3.79" height="4.26" fill="#4740e4"/><rect x="0" y="22.56" width="4.29" height="4.26" fill="#402ab3"/><rect x="3.79" y="22.56" width="4.29" height="4.26" fill="#402ab4"/><rect x="7.58" y="22.56" width="8.08" height="4.26" fill="#402ab5"/><rect x="15.15" y="22.56" width="4.29" height="4.26" fill="#402bb6"/><rect x="18.94" y="22.56" width="8.08" height="4.26" fill="#402bb7"/><rect x="26.52" y="22.56" width="4.29" height="4.26" fill="#402cb8"/><rect x="30.3" y="22.56" width="4.29" height="4.26" fill="#412cb9"/><rect x="34.09" y="22.56" width="4.29" height="4.26" fill="#412cba"/><rect x="37.88" y="22.56" width="4.29" height="4.26" fill="#412dbb"/><rect x="41.67" y="22.56" width="8.08" height="4.26" fill="#412dbc"/><rect x="49.24" y="22.56" width="4.29" height="4.26" fill="#412dbd"/><rect x="53.03" y="22.56" width="4.29" height="4.26" fill="#412ebe"/><rect x="56.82" y="22.56" width="4.29" height="4.26" fill="#422ebf"/><rect x="60.61" y="22.56" width="4.29" height="4.26" fill="#422ec0"/><rect x="64.39" y="22.56" width="4.29" height="4.26" fill="#422fc1"/><rect x="68.18" y="22.56" width="4.29" height="4.26" fill="#422fc2"/><rect x="71.97" y="22.56" width="4.29" height="4.26" fill="#4230c3"/><rect x="75.76" y="22.56" width="4.29" height="4.26" fill="#4330c5"/><rect x="79.55" y="22.56" width="4.29" height="4.26" fill="#4331c6"/><rect x="83.33" y="22.56" width="4.29" height="4.26" fill="#4331c7"/><rect x="87.12" y="22.56" width="4.29" height="4.26" fill="#4332c9"/><rect x="90.91" y="22.56" width="4.29" height="4.26" fill="#4433cb"/><rect x="94.7" y="22.56" width="4.29" height="4.26" fill="#4434ce"/><rect x="98.48" y="22.56" width="4.29" height="4.26" fill="#4435d0"/><rect x="102.27" y="22.56" width="4.29" height="4.26" fill="#4536d3"/><rect x="106.06" y="22.56" width="4.29" height="4.26" fill="#4537d6"/><rect x="109.85" y="22.56" width="4.29" height="4.26" fill="#4538d8"/><rect x="113.64" y="22.56" width="4.29" height="4.26" fill="#463adb"/><rect x="117.42" y="22.56" width="4.29" height="4.26" fill="#463bde"/><rect x="121.21" y="22.56" width="3.79" height="4.26" fill="#463de0"/><rect x="0" y="26.32" width="4.29" height="4.26" fill="#402ab3"/><rect x="3.79" y="26.32" width="8.08" height="4.26" fill="#402ab4"/><rect x="11.36" y="26.32" width="4.29" height="4.26" fill="#402ab5"/><rect x="15.15" y="26.32" width="8.08" height="4.26" fill="#402bb6"/><rect x="22.73" y="26.32" width="4.29" height="4.26" fill="#402bb7"/><rect x="26.52" y="26.32" width="4.29" height="4.26" fill="#402bb8"/><rect x="30.3" y="26.32" width="8.08" height="4.26" fill="#412cb9"/><rect x="37.88" y="26.32" width="4.29" height="4.26" fill="#412cba"/><rect x="41.67" y="26.32" width="4.29" height="4.26" fill="#412dbb"/><rect x="45.45" y="26.32" width="4.29" height="4.26" fill="#412dbc"/><rect x="49.24" y="26.32" width="4.29" height="4.26" fill="#412dbd"/><rect x="53.03" y="26.32" width="4.29" height="4.26" fill="#412ebe"/><rect x="56.82" y="26.32" width="4.29" height="4.26" fill="#422ebf"/><rect x="60.61" y="26.32" width="4.29" height="4.26" fill="#422ec0"/><rect x="64.39" y="26.32" width="4.29" height="4.26" fill="#422fc0"/><rect x="68.18" y="26.32" width="4.29" height="4.26" fill="#422fc1"/><rect x="71.97" y="26.32" width="4.29" height="4.26" fill="#422fc3"/><rect x="75.76" y="26.32" width="4.29" height="4.26" fill="#4230c4"/><rect x="79.55" y="26.32" width="4.29" height="4.26" fill="#4331c5"/><rect x="83.33" y="26.32" width="4.29" height="4.26" fill="#4331c7"/><rect x="87.12" y="26.32" width="4.29" height="4.26" fill="#4332c9"/><rect x="90.91" y="26.32" width="4.29" height="4.26" fill="#4332ca"/><rect x="94.7" y="26.32" width="4.29" height="4.26" fill="#4433cc"/><rect x="98.48" y="26.32" width="4.29" height="4.26" fill="#4434ce"/><rect x="102.27" y="26.32" width="4.29" height="4.26" fill="#4435d1"/><rect x="106.06" y="26.32" width="4.29" height="4.26" fill="#4536d3"/><rect x="109.85" y="26.32" width="4.29" height="4.26" fill="#4537d6"/><rect x="113.64" y="26.32" width="4.29" height="4.26" fill="#4538d8"/><rect x="117.42" y="26.32" width="4.29" height="4.26" fill="#4639da"/><rect x="121.21" y="26.32" width="3.79" height="4.26" fill="#463bdc"/><rect x="0" y="30.08" width="4.29" height="4.26" fill="#402ab3"/><rect x="3.79" y="30.08" width="8.08" height="4.26" fill="#402ab4"/><rect x="11.36" y="30.08" width="8.08" height="4.26" fill="#402ab5"/><rect x="18.94" y="30.08" width="4.29" height="4.26" fill="#402bb6"/><rect x="22.73" y="30.08" width="8.08" height="4.26" fill="#402bb7"/><rect x="30.3" y="30.08" width="4.29" height="4.26" fill="#412cb8"/><rect x="34.09" y="30.08" width="4.29" height="4.26" fill="#412cb9"/><rect x="37.88" y="30.08" width="4.29" height="4.26" fill="#412cba"/><rect x="41.67" y="30.08" width="4.29" height="4.26" fill="#412dbb"/><rect x="45.45" y="30.08" width="4.29" height="4.26" fill="#412dbc"/><rect x="49.24" y="30.08" width="4.29" height="4.26" fill="#412dbd"/><rect x="53.03" y="30.08" width="4.29" height="4.26" fill="#412ebe"/><rect x="56.82" y="30.08" width="4.29" height="4.26" fill="#422ebe"/><rect x="60.61" y="30.08" width="4.29" height="4.26" fill="#422ebf"/><rect x="64.39" y="30.08" width="4.29" height="4.26" fill="#422fc0"/><rect x="68.18" y="30.08" width="4.29" height="4.26" fill="#422fc1"/><rect x="71.97" y="30.08" width="4.29" height="4.26" fill="#422fc2"/><rect x="75.76" y="30.08" width="4.29" height="4.26" fill="#4230c3"/><rect x="79.55" y="30.08" width="4.29" height="4.26" fill="#4330c5"/><rect x="83.33" y="30.08" width="4.29" height="4.26" fill="#4331c6"/><rect x="87.12" y="30.08" width="4.29" height="4.26" fill="#4331c8"/><rect x="90.91" y="30.08" width="4.29" height="4.26" fill="#4332c9"/><rect x="94.7" y="30.08" width="4.29" height="4.26" fill="#4433cb"/><rect x="98.48" y="30.08" width="4.29" height="4.26" fill="#4433cc"/><rect x="102.27" y="30.08" width="4.29" height="4.26" fill="#4434ce"/><rect x="106.06" y="30.08" width="4.29" height="4.26" fill="#4435d0"/><rect x="109.85" y="30.08" width="4.29" height="4.26" fill="#4536d3"/><rect x="113.64" y="30.08" width="4.29" height="4.26" fill="#4537d5"/><rect x="117.42" y="30.08" width="4.29" height="4.26" fill="#4538d7"/><rect x="121.21" y="30.08" width="3.79" height="4.26" fill="#4639d9"/><rect x="0" y="33.84" width="4.29" height="4.26" fill="#402ab3"/><rect x="3.79" y="33.84" width="8.08" height="4.26" fill="#402ab4"/><rect x="11.36" y="33.84" width="8.08" height="4.26" fill="#402ab5"/><rect x="18.94" y="33.84" width="8.08" height="4.26" fill="#402bb6"/><rect x="26.52" y="33.84" width="4.29" height="4.26" fill="#402bb7"/><rect x="30.3" y="33.84" width="4.29" height="4.26" fill="#402bb8"/><rect x="34.09" y="33.84" width="4.29" height="4.26" fill="#412cb9"/><rect x="37.88" y="33.84" width="8.08" height="4.26" fill="#412cba"/><rect x="45.45" y="33.84" width="4.29" height="4.26" fill="#412dbb"/><rect x="49.24" y="33.84" width="4.29" height="4.26" fill="#412dbc"/><rect x="53.03" y="33.84" width="4.29" height="4.26" fill="#412dbd"/><rect x="56.82" y="33.84" width="4.29" height="4.26" fill="#412ebe"/><rect x="60.61" y="33.84" width="4.29" height="4.26" fill="#422ebf"/><rect x="64.39" y="33.84" width="4.29" height="4.26" fill="#422ec0"/><rect x="68.18" y="33.84" width="4.29" height="4.26" fill="#422fc1"/><rect x="71.97" y="33.84" width="4.29" height="4.26" fill="#422fc2"/><rect x="75.76" y="33.84" width="4.29" height="4.26" fill="#4230c3"/><rect x="79.55" y="33.84" width="4.29" height="4.26" fill="#4230c4"/><rect x="83.33" y="33.84" width="4.29" height="4.26" fill="#4330c5"/><rect x="87.12" y="33.84" width="4.29" height="4.26" fill="#4331c7"/><rect x="90.91" y="33.84" width="4.29" height="4.26" fill="#4331c8"/><rect x="94.7" y="33.84" width="4.29" height="4.26" fill="#4332ca"/><rect x="98.48" y="33.84" width="4.29" height="4.26" fill="#4433cc"/><rect x="102.27" y="33.84" width="4.29" height="4.26" fill="#4433cd"/><rect x="106.06" y="33.84" width="4.29" height="4.26" fill="#4434cf"/><rect x="109.85" y="33.84" width="4.29" height="4.26" fill="#4435d0"/><rect x="113.64" y="33.84" width="4.29" height="4.26" fill="#4535d2"/><rect x="117.42" y="33.84" width="4.29" height="4.26" fill="#4536d4"/><rect x="121.21" y="33.84" width="3.79" height="4.26" fill="#4537d6"/><rect x="0" y="37.6" width="8.08" height="4.26" fill="#402ab3"/><rect x="7.58" y="37.6" width="4.29" height="4.26" fill="#402ab4"/><rect x="11.36" y="37.6" width="8.08" height="4.26" fill="#402ab5"/><rect x="18.94" y="37.6" width="8.08" height="4.26" fill="#402bb6"/><rect x="26.52" y="37.6" width="4.29" height="4.26" fill="#402bb7"/><rect x="30.3" y="37.6" width="4.29" height="4.26" fill="#402bb8"/><rect x="34.09" y="37.6" width="4.29" height="4.26" fill="#412cb8"/><rect x="37.88" y="37.6" width="4.29" height="4.26" fill="#412cb9"/><rect x="41.67" y="37.6" width="4.29" height="4.26" fill="#412cba"/><rect x="45.45" y="37.6" width="4.29" height="4.26" fill="#412dbb"/><rect x="49.24" y="37.6" width="4.29" height="4.26" fill="#412dbc"/><rect x="53.03" y="37.6" width="4.29" height="4.26" fill="#412dbd"/><rect x="56.82" y="37.6" width="4.29" height="4.26" fill="#412ebe"/><rect x="60.61" y="37.6" width="4.29" height="4.26" fill="#422ebf"/><rect x="64.39" y="37.6" width="4.29" height="4.26" fill="#422ec0"/><rect x="68.18" y="37.6" width="4.29" height="4.26" fill="#422fc0"/><rect x="71.97" y="37.6" width="4.29" height="4.26" fill="#422fc1"/><rect x="75.76" y="37.6" width="4.29" height="4.26" fill="#422fc2"/><rect x="79.55" y="37.6" width="4.29" height="4.26" fill="#4230c3"/><rect x="83.33" y="37.6" width="4.29" height="4.26" fill="#4230c4"/><rect x="87.12" y="37.6" width="4.29" height="4.26" fill="#4330c5"/><rect x="90.91" y="37.6" width="4.29" height="4.26" fill="#4331c7"/><rect x="94.7" y="37.6" width="4.29" height="4.26" fill="#4332c8"/><rect x="98.48" y="37.6" width="4.29" height="4.26" fill="#4332ca"/><rect x="102.27" y="37.6" width="4.29" height="4.26" fill="#4433cc"/><rect x="106.06" y="37.6" width="4.29" height="4.26" fill="#4434cd"/><rect x="109.85" y="37.6" width="4.29" height="4.26" fill="#4434cf"/><rect x="113.64" y="37.6" width="4.29" height="4.26" fill="#4435d0"/><rect x="117.42" y="37.6" width="4.29" height="4.26" fill="#4535d2"/><rect x="121.21" y="37.6" width="3.79" height="4.26" fill="#4536d3"/><rect x="0" y="41.36" width="8.08" height="4.26" fill="#402ab3"/><rect x="7.58" y="41.36" width="8.08" height="4.26" fill="#402ab4"/><rect x="15.15" y="41.36" width="8.08" height="4.26" fill="#402ab5"/><rect x="22.73" y="41.36" width="4.29" height="4.26" fill="#402bb6"/><rect x="26.52" y="41.36" width="8.08" height="4.26" fill="#402bb7"/><rect x="34.09" y="41.36" width="4.29" height="4.26" fill="#402bb8"/><rect x="37.88" y="41.36" width="8.08" height="4.26" fill="#412cb9"/><rect x="45.45" y="41.36" width="4.29" height="4.26" fill="#412cba"/><rect x="49.24" y="41.36" width="4.29" height="4.26" fill="#412dbb"/><rect x="53.03" y="41.36" width="4.29" height="4.26" fill="#412dbc"/><rect x="56.82" y="41.36" width="4.29" height="4.26" fill="#412dbd"/><rect x="60.61" y="41.36" width="4.29" height="4.26" fill="#412ebe"/><rect x="64.39" y="41.36" width="4.29" height="4.26" fill="#422ebf"/><rect x="68.18" y="41.36" width="4.29" height="4.26" fill="#422fc0"/><rect x="71.97" y="41.36" width="4.29" height="4.26" fill="#422fc1"/><rect x="75.76" y="41.36" width="4.29" height="4.26" fill="#422fc2"/><rect x="79.55" y="41.36" width="4.29" height="4.26" fill="#4230c3"/><rect x="83.33" y="41.36" width="4.29" height="4.26" fill="#4230c4"/><rect x="87.12" y="41.36" width="4.29" height="4.26" fill="#4330c5"/><rect x="90.91" y="41.36" width="4.29" height="4.26" fill="#4331c6"/><rect x="94.7" y="41.36" width="4.29" height="4.26" fill="#4331c7"/><rect x="98.48" y="41.36" width="4.29" height="4.26" fill="#4332c9"/><rect x="102.27" y="41.36" width="4.29" height="4.26" fill="#4332ca"/><rect x="106.06" y="41.36" width="4.29" height="4.26" fill="#4433cc"/><rect x="109.85" y="41.36" width="4.29" height="4.26" fill="#4434cd"/><rect x="113.64" y="41.36" width="4.29" height="4.26" fill="#4434cf"/><rect x="117.42" y="41.36" width="4.29" height="4.26" fill="#4435d0"/><rect x="121.21" y="41.36" width="3.79" height="4.26" fill="#4435d2"/><rect x="0" y="45.12" width="8.08" height="4.26" fill="#402ab3"/><rect x="7.58" y="45.12" width="8.08" height="4.26" fill="#402ab4"/><rect x="15.15" y="45.12" width="8.08" height="4.26" fill="#402ab5"/><rect x="22.73" y="45.12" width="8.08" height="4.26" fill="#402bb6"/><rect x="30.3" y="45.12" width="4.29" height="4.26" fill="#402bb7"/><rect x="34.09" y="45.12" width="4.29" height="4.26" fill="#402bb8"/><rect x="37.88" y="45.12" width="4.29" height="4.26" fill="#412cb8"/><rect x="41.67" y="45.12" width="4.29" height="4.26" fill="#412cb9"/><rect x="45.45" y="45.12" width="4.29" height="4.26" fill="#412cba"/><rect x="49.24" y="45.12" width="4.29" height="4.26" fill="#412cbb"/><rect x="53.03" y="45.12" width="4.29" height="4.26" fill="#412dbc"/><rect x="56.82" y="45.12" width="4.29" height="4.26" fill="#412dbd"/><rect x="60.61" y="45.12" width="4.29" height="4.26" fill="#412ebd"/><rect x="64.39" y="45.12" width="4.29" height="4.26" fill="#422ebe"/><rect x="68.18" y="45.12" width="4.29" height="4.26" fill="#422ebf"/><rect x="71.97" y="45.12" width="4.29" height="4.26" fill="#422fc0"/><rect x="75.76" y="45.12" width="4.29" height="4.26" fill="#422fc1"/><rect x="79.55" y="45.12" width="4.29" height="4.26" fill="#422fc2"/><rect x="83.33" y="45.12" width="4.29" height="4.26" fill="#4230c3"/><rect x="87.12" y="45.12" width="4.29" height="4.26" fill="#4330c4"/><rect x="90.91" y="45.12" width="4.29" height="4.26" fill="#4331c5"/><rect x="94.7" y="45.12" width="4.29" height="4.26" fill="#4331c6"/><rect x="98.48" y="45.12" width="4.29" height="4.26" fill="#4331c7"/><rect x="102.27" y="45.12" width="4.29" height="4.26" fill="#4332c9"/><rect x="106.06" y="45.12" width="4.29" height="4.26" fill="#4332ca"/><rect x="109.85" y="45.12" width="4.29" height="4.26" fill="#4433cc"/><rect x="113.64" y="45.12" width="4.29" height="4.26" fill="#4433cd"/><rect x="117.42" y="45.12" width="4.29" height="4.26" fill="#4434cf"/><rect x="121.21" y="45.12" width="3.79" height="4.26" fill="#4435d0"/><rect x="0" y="48.88" width="8.08" height="4.26" fill="#402ab3"/><rect x="7.58" y="48.88" width="8.08" height="4.26" fill="#402ab4"/><rect x="15.15" y="48.88" width="8.08" height="4.26" fill="#402ab5"/><rect x="22.73" y="48.88" width="8.08" height="4.26" fill="#402bb6"/><rect x="30.3" y="48.88" width="8.08" height="4.26" fill="#402bb7"/><rect x="37.88" y="48.88" width="4.29" height="4.26" fill="#402bb8"/><rect x="41.67" y="48.88" width="8.08" height="4.26" fill="#412cb9"/><rect x="49.24" y="48.88" width="4.29" height="4.26" fill="#412cba"/><rect x="53.03" y="48.88" width="4.29" height="4.26" fill="#412dbb"/><rect x="56.82" y="48.88" width="4.29" height="4.26" fill="#412dbc"/><rect x="60.61" y="48.88" width="4.29" height="4.26" fill="#412dbd"/><rect x="64.39" y="48.88" width="4.29" height="4.26" fill="#412ebe"/><rect x="68.18" y="48.88" width="4.29" height="4.26" fill="#422ebf"/><rect x="71.97" y="48.88" width="4.29" height="4.26" fill="#422ec0"/><rect x="75.76" y="48.88" width="4.29" height="4.26" fill="#422fc1"/><rect x="79.55" y="48.88" width="4.29" height="4.26" fill="#422fc2"/><rect x="83.33" y="48.88" width="4.29" height="4.26" fill="#4230c3"/><rect x="87.12" y="48.88" width="4.29" height="4.26" fill="#4230c4"/><rect x="90.91" y="48.88" width="4.29" height="4.26" fill="#4330c5"/><rect x="94.7" y="48.88" width="4.29" height="4.26" fill="#4331c6"/><rect x="98.48" y="48.88" width="4.29" height="4.26" fill="#4331c7"/><rect x="102.27" y="48.88" width="4.29" height="4.26" fill="#4331c8"/><rect x="106.06" y="48.88" width="4.29" height="4.26" fill="#4332c9"/><rect x="109.85" y="48.88" width="4.29" height="4.26" fill="#4332ca"/><rect x="113.64" y="48.88" width="4.29" height="4.26" fill="#4433cc"/><rect x="117.42" y="48.88" width="4.29" height="4.26" fill="#4433cd"/><rect x="121.21" y="48.88" width="3.79" height="4.26" fill="#4434ce"/><rect x="0" y="52.64" width="4.29" height="4.26" fill="#4029b3"/><rect x="3.79" y="52.64" width="4.29" height="4.26" fill="#402ab3"/><rect x="7.58" y="52.64" width="8.08" height="4.26" fill="#402ab4"/><rect x="15.15" y="52.64" width="8.08" height="4.26" fill="#402ab5"/><rect x="22.73" y="52.64" width="8.08" height="4.26" fill="#402bb6"/><rect x="30.3" y="52.64" width="8.08" height="4.26" fill="#402bb7"/><rect x="37.88" y="52.64" width="4.29" height="4.26" fill="#402bb8"/><rect x="41.67" y="52.64" width="4.29" height="4.26" fill="#412cb8"/><rect x="45.45" y="52.64" width="4.29" height="4.26" fill="#412cb9"/><rect x="49.24" y="52.64" width="4.29" height="4.26" fill="#412cba"/><rect x="53.03" y="52.64" width="4.29" height="4.26" fill="#412cbb"/><rect x="56.82" y="52.64" width="4.29" height="4.26" fill="#412dbb"/><rect x="60.61" y="52.64" width="4.29" height="4.26" fill="#412dbc"/><rect x="64.39" y="52.64" width="4.29" height="4.26" fill="#412dbd"/><rect x="68.18" y="52.64" width="4.29" height="4.26" fill="#422ebe"/><rect x="71.97" y="52.64" width="4.29" height="4.26" fill="#422ebf"/><rect x="75.76" y="52.64" width="4.29" height="4.26" fill="#422fc0"/><rect x="79.55" y="52.64" width="4.29" height="4.26" fill="#422fc1"/><rect x="83.33" y="52.64" width="4.29" height="4.26" fill="#422fc2"/><rect x="87.12" y="52.64" width="4.29" height="4.26" fill="#4230c3"/><rect x="90.91" y="52.64" width="4.29" height="4.26" fill="#4330c4"/><rect x="94.7" y="52.64" width="4.29" height="4.26" fill="#4331c5"/><rect x="98.48" y="52.64" width="4.29" height="4.26" fill="#4331c6"/><rect x="102.27" y="52.64" width="4.29" height="4.26" fill="#4331c7"/><rect x="106.06" y="52.64" width="4.29" height="4.26" fill="#4332c8"/><rect x="109.85" y="52.64" width="4.29" height="4.26" fill="#4332c9"/><rect x="113.64" y="52.64" width="4.29" height="4.26" fill="#4332ca"/><rect x="117.42" y="52.64" width="4.29" height="4.26" fill="#4433cb"/><rect x="121.21" y="52.64" width="3.79" height="4.26" fill="#4433cd"/><rect x="0" y="56.4" width="4.29" height="4.26" fill="#4029b2"/><rect x="3.79" y="56.4" width="4.29" height="4.26" fill="#402ab3"/><rect x="7.58" y="56.4" width="8.08" height="4.26" fill="#402ab4"/><rect x="15.15" y="56.4" width="8.08" height="4.26" fill="#402ab5"/><rect x="22.73" y="56.4" width="8.08" height="4.26" fill="#402bb6"/><rect x="30.3" y="56.4" width="8.08" height="4.26" fill="#402bb7"/><rect x="37.88" y="56.4" width="4.29" height="4.26" fill="#402bb8"/><rect x="41.67" y="56.4" width="4.29" height="4.26" fill="#412cb8"/><rect x="45.45" y="56.4" width="4.29" height="4.26" fill="#412cb9"/><rect x="49.24" y="56.4" width="8.08" height="4.26" fill="#412cba"/><rect x="56.82" y="56.4" width="4.29" height="4.26" fill="#412dbb"/><rect x="60.61" y="56.4" width="4.29" height="4.26" fill="#412dbc"/><rect x="64.39" y="56.4" width="4.29" height="4.26" fill="#412dbd"/><rect x="68.18" y="56.4" width="4.29" height="4.26" fill="#412ebe"/><rect x="71.97" y="56.4" width="4.29" height="4.26" fill="#422ebf"/><rect x="75.76" y="56.4" width="4.29" height="4.26" fill="#422ec0"/><rect x="79.55" y="56.4" width="4.29" height="4.26" fill="#422fc1"/><rect x="83.33" y="56.4" width="4.29" height="4.26" fill="#422fc2"/><rect x="87.12" y="56.4" width="4.29" height="4.26" fill="#4230c3"/><rect x="90.91" y="56.4" width="4.29" height="4.26" fill="#4230c4"/><rect x="94.7" y="56.4" width="4.29" height="4.26" fill="#4330c5"/><rect x="98.48" y="56.4" width="4.29" height="4.26" fill="#4331c6"/><rect x="102.27" y="56.4" width="4.29" height="4.26" fill="#4331c7"/><rect x="106.06" y="56.4" width="4.29" height="4.26" fill="#4331c8"/><rect x="109.85" y="56.4" width="4.29" height="4.26" fill="#4332c9"/><rect x="113.64" y="56.4" width="4.29" height="4.26" fill="#4332ca"/><rect x="117.42" y="56.4" width="4.29" height="4.26" fill="#4432cb"/><rect x="121.21" y="56.4" width="3.79" height="4.26" fill="#4433cc"/><rect x="0" y="60.16" width="4.29" height="4.26" fill="#4029b2"/><rect x="3.79" y="60.16" width="8.08" height="4.26" fill="#402ab3"/><rect x="11.36" y="60.16" width="4.29" height="4.26" fill="#402ab4"/><rect x="15.15" y="60.16" width="8.08" height="4.26" fill="#402ab5"/><rect x="22.73" y="60.16" width="8.08" height="4.26" fill="#402bb6"/><rect x="30.3" y="60.16" width="8.08" height="4.26" fill="#402bb7"/><rect x="37.88" y="60.16" width="4.29" height="4.26" fill="#402bb8"/><rect x="41.67" y="60.16" width="4.29" height="4.26" fill="#412cb8"/><rect x="45.45" y="60.16" width="8.08" height="4.26" fill="#412cb9"/><rect x="53.03" y="60.16" width="4.29" height="4.26" fill="#412cba"/><rect x="56.82" y="60.16" width="4.29" height="4.26" fill="#412cbb"/><rect x="60.61" y="60.16" width="4.29" height="4.26" fill="#412dbb"/><rect x="64.39" y="60.16" width="4.29" height="4.26" fill="#412dbc"/><rect x="68.18" y="60.16" width="4.29" height="4.26" fill="#412dbd"/><rect x="71.97" y="60.16" width="4.29" height="4.26" fill="#412ebe"/><rect x="75.76" y="60.16" width="4.29" height="4.26" fill="#422ebf"/><rect x="79.55" y="60.16" width="4.29" height="4.26" fill="#422fc0"/><rect x="83.33" y="60.16" width="4.29" height="4.26" fill="#422fc1"/><rect x="87.12" y="60.16" width="4.29" height="4.26" fill="#422fc2"/><rect x="90.91" y="60.16" width="4.29" height="4.26" fill="#4230c3"/><rect x="94.7" y="60.16" width="4.29" height="4.26" fill="#4230c4"/><rect x="98.48" y="60.16" width="4.29" height="4.26" fill="#4330c5"/><rect x="102.27" y="60.16" width="4.29" height="4.26" fill="#4331c6"/><rect x="106.06" y="60.16" width="4.29" height="4.26" fill="#4331c7"/><rect x="109.85" y="60.16" width="4.29" height="4.26" fill="#4332c8"/><rect x="113.64" y="60.16" width="4.29" height="4.26" fill="#4332c9"/><rect x="117.42" y="60.16" width="4.29" height="4.26" fill="#4332ca"/><rect x="121.21" y="60.16" width="3.79" height="4.26" fill="#4433cb"/><rect x="0" y="63.92" width="4.29" height="4.26" fill="#3f29b2"/><rect x="3.79" y="63.92" width="8.08" height="4.26" fill="#402ab3"/><rect x="11.36" y="63.92" width="4.29" height="4.26" fill="#402ab4"/><rect x="15.15" y="63.92" width="8.08" height="4.26" fill="#402ab5"/><rect x="22.73" y="63.92" width="4.29" height="4.26" fill="#402ab6"/><rect x="26.52" y="63.92" width="4.29" height="4.26" fill="#402bb6"/><rect x="30.3" y="63.92" width="8.08" height="4.26" fill="#402bb7"/><rect x="37.88" y="63.92" width="4.29" height="4.26" fill="#402bb8"/><rect x="41.67" y="63.92" width="4.29" height="4.26" fill="#412cb8"/><rect x="45.45" y="63.92" width="8.08" height="4.26" fill="#412cb9"/><rect x="53.03" y="63.92" width="4.29" height="4.26" fill="#412cba"/><rect x="56.82" y="63.92" width="4.29" height="4.26" fill="#412cbb"/><rect x="60.61" y="63.92" width="4.29" height="4.26" fill="#412dbb"/><rect x="64.39" y="63.92" width="4.29" height="4.26" fill="#412dbc"/><rect x="68.18" y="63.92" width="4.29" height="4.26" fill="#412dbd"/><rect x="71.97" y="63.92" width="4.29" height="4.26" fill="#412ebe"/><rect x="75.76" y="63.92" width="4.29" height="4.26" fill="#422ebe"/><rect x="79.55" y="63.92" width="4.29" height="4.26" fill="#422ebf"/><rect x="83.33" y="63.92" width="4.29" height="4.26" fill="#422fc0"/><rect x="87.12" y="63.92" width="4.29" height="4.26" fill="#422fc2"/><rect x="90.91" y="63.92" width="4.29" height="4.26" fill="#422fc3"/><rect x="94.7" y="63.92" width="4.29" height="4.26" fill="#4230c4"/><rect x="98.48" y="63.92" width="4.29" height="4.26" fill="#4330c5"/><rect x="102.27" y="63.92" width="4.29" height="4.26" fill="#4331c6"/><rect x="106.06" y="63.92" width="4.29" height="4.26" fill="#4331c7"/><rect x="109.85" y="63.92" width="4.29" height="4.26" fill="#4331c8"/><rect x="113.64" y="63.92" width="4.29" height="4.26" fill="#4332c9"/><rect x="117.42" y="63.92" width="4.29" height="4.26" fill="#4332ca"/><rect x="121.21" y="63.92" width="3.79" height="4.26" fill="#4332cb"/><rect x="0" y="67.68" width="4.29" height="4.26" fill="#3f29b2"/><rect x="3.79" y="67.68" width="8.08" height="4.26" fill="#402ab3"/><rect x="11.36" y="67.68" width="8.08" height="4.26" fill="#402ab4"/><rect x="18.94" y="67.68" width="4.29" height="4.26" fill="#402ab5"/><rect x="22.73" y="67.68" width="4.29" height="4.26" fill="#402ab6"/><rect x="26.52" y="67.68" width="4.29" height="4.26" fill="#402bb6"/><rect x="30.3" y="67.68" width="8.08" height="4.26" fill="#402bb7"/><rect x="37.88" y="67.68" width="4.29" height="4.26" fill="#402bb8"/><rect x="41.67" y="67.68" width="4.29" height="4.26" fill="#402cb8"/><rect x="45.45" y="67.68" width="8.08" height="4.26" fill="#412cb9"/><rect x="53.03" y="67.68" width="8.08" height="4.26" fill="#412cba"/><rect x="60.61" y="67.68" width="4.29" height="4.26" fill="#412dbb"/><rect x="64.39" y="67.68" width="8.08" height="4.26" fill="#412dbc"/><rect x="71.97" y="67.68" width="4.29" height="4.26" fill="#412dbd"/><rect x="75.76" y="67.68" width="4.29" height="4.26" fill="#412ebe"/><rect x="79.55" y="67.68" width="4.29" height="4.26" fill="#422ebf"/><rect x="83.33" y="67.68" width="4.29" height="4.26" fill="#422ec0"/><rect x="87.12" y="67.68" width="4.29" height="4.26" fill="#422fc1"/><rect x="90.91" y="67.68" width="4.29" height="4.26" fill="#422fc2"/><rect x="94.7" y="67.68" width="4.29" height="4.26" fill="#4230c3"/><rect x="98.48" y="67.68" width="4.29" height="4.26" fill="#4230c4"/><rect x="102.27" y="67.68" width="4.29" height="4.26" fill="#4330c5"/><rect x="106.06" y="67.68" width="4.29" height="4.26" fill="#4331c6"/><rect x="109.85" y="67.68" width="4.29" height="4.26" fill="#4331c7"/><rect x="113.64" y="67.68" width="4.29" height="4.26" fill="#4332c8"/><rect x="117.42" y="67.68" width="4.29" height="4.26" fill="#4332c9"/><rect x="121.21" y="67.68" width="3.79" height="4.26" fill="#4332ca"/><rect x="0" y="71.44" width="4.29" height="4.26" fill="#3f29b2"/><rect x="3.79" y="71.44" width="8.08" height="4.26" fill="#402ab3"/><rect x="11.36" y="71.44" width="8.08" height="4.26" fill="#402ab4"/><rect x="18.94" y="71.44" width="8.08" height="4.26" fill="#402ab5"/><rect x="26.52" y="71.44" width="4.29" height="4.26" fill="#402bb6"/><rect x="30.3" y="71.44" width="8.08" height="4.26" fill="#402bb7"/><rect x="37.88" y="71.44" width="4.29" height="4.26" fill="#402bb8"/><rect x="41.67" y="71.44" width="4.29" height="4.26" fill="#402cb8"/><rect x="45.45" y="71.44" width="8.08" height="4.26" fill="#412cb9"/><rect x="53.03" y="71.44" width="8.08" height="4.26" fill="#412cba"/><rect x="60.61" y="71.44" width="4.29" height="4.26" fill="#412dbb"/><rect x="64.39" y="71.44" width="8.08" height="4.26" fill="#412dbc"/><rect x="71.97" y="71.44" width="4.29" height="4.26" fill="#412dbd"/><rect x="75.76" y="71.44" width="4.29" height="4.26" fill="#412ebd"/><rect x="79.55" y="71.44" width="4.29" height="4.26" fill="#422ebe"/><rect x="83.33" y="71.44" width="4.29" height="4.26" fill="#422ebf"/><rect x="87.12" y="71.44" width="4.29" height="4.26" fill="#422fc0"/><rect x="90.91" y="71.44" width="4.29" height="4.26" fill="#422fc1"/><rect x="94.7" y="71.44" width="4.29" height="4.26" fill="#422fc2"/><rect x="98.48" y="71.44" width="4.29" height="4.26" fill="#4230c3"/><rect x="102.27" y="71.44" width="4.29" height="4.26" fill="#4330c5"/><rect x="106.06" y="71.44" width="4.29" height="4.26" fill="#4331c6"/><rect x="109.85" y="71.44" width="4.29" height="4.26" fill="#4331c7"/><rect x="113.64" y="71.44" width="4.29" height="4.26" fill="#4331c8"/><rect x="117.42" y="71.44" width="4.29" height="4.26" fill="#4332c9"/><rect x="121.21" y="71.44" width="3.79" height="4.26" fill="#4332ca"/><rect x="0" y="75.2" width="4.29" height="4.26" fill="#3f29b2"/><rect x="3.79" y="75.2" width="8.08" height="4.26" fill="#402ab3"/><rect x="11.36" y="75.2" width="8.08" height="4.26" fill="#402ab4"/><rect x="18.94" y="75.2" width="8.08" height="4.26" fill="#402ab5"/><rect x="26.52" y="75.2" width="4.29" height="4.26" fill="#402bb6"/><rect x="30.3" y="75.2" width="8.08" height="4.26" fill="#402bb7"/><rect x="37.88" y="75.2" width="4.29" height="4.26" fill="#402bb8"/><rect x="41.67" y="75.2" width="4.29" height="4.26" fill="#402cb8"/><rect x="45.45" y="75.2" width="8.08" height="4.26" fill="#412cb9"/><rect x="53.03" y="75.2" width="8.08" height="4.26" fill="#412cba"/><rect x="60.61" y="75.2" width="4.29" height="4.26" fill="#412dbb"/><rect x="64.39" y="75.2" width="8.08" height="4.26" fill="#412dbc"/><rect x="71.97" y="75.2" width="4.29" height="4.26" fill="#412dbd"/><rect x="75.76" y="75.2" width="4.29" height="4.26" fill="#412ebd"/><rect x="79.55" y="75.2" width="4.29" height="4.26" fill="#412ebe"/><rect x="83.33" y="75.2" width="4.29" height="4.26" fill="#422ebf"/><rect x="87.12" y="75.2" width="4.29" height="4.26" fill="#422ec0"/><rect x="90.91" y="75.2" width="4.29" height="4.26" fill="#422fc1"/><rect x="94.7" y="75.2" width="4.29" height="4.26" fill="#422fc2"/><rect x="98.48" y="75.2" width="4.29" height="4.26" fill="#4230c3"/><rect x="102.27" y="75.2" width="4.29" height="4.26" fill="#4230c4"/><rect x="106.06" y="75.2" width="4.29" height="4.26" fill="#4330c5"/><rect x="109.85" y="75.2" width="4.29" height="4.26" fill="#4331c6"/><rect x="113.64" y="75.2" width="4.29" height="4.26" fill="#4331c7"/><rect x="117.42" y="75.2" width="4.29" height="4.26" fill="#4332c8"/><rect x="121.21" y="75.2" width="3.79" height="4.26" fill="#4332c9"/><rect x="0" y="78.96" width="4.29" height="4.26" fill="#3f29b2"/><rect x="3.79" y="78.96" width="8.08" height="4.26" fill="#402ab3"/><rect x="11.36" y="78.96" width="8.08" height="4.26" fill="#402ab4"/><rect x="18.94" y="78.96" width="8.08" height="4.26" fill="#402ab5"/><rect x="26.52" y="78.96" width="8.08" height="4.26" fill="#402bb6"/><rect x="34.09" y="78.96" width="4.29" height="4.26" fill="#402bb7"/><rect x="37.88" y="78.96" width="4.29" height="4.26" fill="#402bb8"/><rect x="41.67" y="78.96" width="4.29" height="4.26" fill="#402cb8"/><rect x="45.45" y="78.96" width="8.08" height="4.26" fill="#412cb9"/><rect x="53.03" y="78.96" width="8.08" height="4.26" fill="#412cba"/><rect x="60.61" y="78.96" width="4.29" height="4.26" fill="#412dbb"/><rect x="64.39" y="78.96" width="8.08" height="4.26" fill="#412dbc"/><rect x="71.97" y="78.96" width="4.29" height="4.26" fill="#412dbd"/><rect x="75.76" y="78.96" width="4.29" height="4.26" fill="#412ebd"/><rect x="79.55" y="78.96" width="4.29" height="4.26" fill="#412ebe"/><rect x="83.33" y="78.96" width="8.08" height="4.26" fill="#422ebf"/><rect x="90.91" y="78.96" width="4.29" height="4.26" fill="#422fc0"/><rect x="94.7" y="78.96" width="4.29" height="4.26" fill="#422fc1"/><rect x="98.48" y="78.96" width="4.29" height="4.26" fill="#422fc2"/><rect x="102.27" y="78.96" width="4.29" height="4.26" fill="#4230c3"/><rect x="106.06" y="78.96" width="4.29" height="4.26" fill="#4330c4"/><rect x="109.85" y="78.96" width="4.29" height="4.26" fill="#4331c6"/><rect x="113.64" y="78.96" width="4.29" height="4.26" fill="#4331c7"/><rect x="117.42" y="78.96" width="4.29" height="4.26" fill="#4331c8"/><rect x="121.21" y="78.96" width="3.79" height="4.26" fill="#4332c9"/><rect x="0" y="82.72" width="4.29" height="4.26" fill="#3f29b2"/><rect x="3.79" y="82.72" width="8.08" height="4.26" fill="#402ab3"/><rect x="11.36" y="82.72" width="8.08" height="4.26" fill="#402ab4"/><rect x="18.94" y="82.72" width="8.08" height="4.26" fill="#402ab5"/><rect x="26.52" y="82.72" width="8.08" height="4.26" fill="#402bb6"/><rect x="34.09" y="82.72" width="4.29" height="4.26" fill="#402bb7"/><rect x="37.88" y="82.72" width="4.29" height="4.26" fill="#402bb8"/><rect x="41.67" y="82.72" width="4.29" height="4.26" fill="#402cb8"/><rect x="45.45" y="82.72" width="8.08" height="4.26" fill="#412cb9"/><rect x="53.03" y="82.72" width="8.08" height="4.26" fill="#412cba"/><rect x="60.61" y="82.72" width="4.29" height="4.26" fill="#412dbb"/><rect x="64.39" y="82.72" width="8.08" height="4.26" fill="#412dbc"/><rect x="71.97" y="82.72" width="4.29" height="4.26" fill="#412dbd"/><rect x="75.76" y="82.72" width="4.29" height="4.26" fill="#412ebd"/><rect x="79.55" y="82.72" width="4.29" height="4.26" fill="#412ebe"/><rect x="83.33" y="82.72" width="8.08" height="4.26" fill="#422ebf"/><rect x="90.91" y="82.72" width="4.29" height="4.26" fill="#422ec0"/><rect x="94.7" y="82.72" width="4.29" height="4.26" fill="#422fc1"/><rect x="98.48" y="82.72" width="4.29" height="4.26" fill="#422fc2"/><rect x="102.27" y="82.72" width="4.29" height="4.26" fill="#4230c3"/><rect x="106.06" y="82.72" width="4.29" height="4.26" fill="#4230c4"/><rect x="109.85" y="82.72" width="4.29" height="4.26" fill="#4330c5"/><rect x="113.64" y="82.72" width="4.29" height="4.26" fill="#4331c6"/><rect x="117.42" y="82.72" width="4.29" height="4.26" fill="#4331c7"/><rect x="121.21" y="82.72" width="3.79" height="4.26" fill="#4332c8"/><rect x="0" y="86.48" width="4.29" height="4.26" fill="#3f29b2"/><rect x="3.79" y="86.48" width="8.08" height="4.26" fill="#402ab3"/><rect x="11.36" y="86.48" width="8.08" height="4.26" fill="#402ab4"/><rect x="18.94" y="86.48" width="8.08" height="4.26" fill="#402ab5"/><rect x="26.52" y="86.48" width="8.08" height="4.26" fill="#402bb6"/><rect x="34.09" y="86.48" width="4.29" height="4.26" fill="#402bb7"/><rect x="37.88" y="86.48" width="4.29" height="4.26" fill="#402bb8"/><rect x="41.67" y="86.48" width="4.29" height="4.26" fill="#402cb8"/><rect x="45.45" y="86.48" width="8.08" height="4.26" fill="#412cb9"/><rect x="53.03" y="86.48" width="8.08" height="4.26" fill="#412cba"/><rect x="60.61" y="86.48" width="4.29" height="4.26" fill="#412dbb"/><rect x="64.39" y="86.48" width="8.08" height="4.26" fill="#412dbc"/><rect x="71.97" y="86.48" width="4.29" height="4.26" fill="#412dbd"/><rect x="75.76" y="86.48" width="4.29" height="4.26" fill="#412ebd"/><rect x="79.55" y="86.48" width="4.29" height="4.26" fill="#412ebe"/><rect x="83.33" y="86.48" width="8.08" height="4.26" fill="#422ebf"/><rect x="90.91" y="86.48" width="4.29" height="4.26" fill="#422ec0"/><rect x="94.7" y="86.48" width="4.29" height="4.26" fill="#422fc0"/><rect x="98.48" y="86.48" width="4.29" height="4.26" fill="#422fc1"/><rect x="102.27" y="86.48" width="4.29" height="4.26" fill="#422fc2"/><rect x="106.06" y="86.48" width="4.29" height="4.26" fill="#4230c3"/><rect x="109.85" y="86.48" width="4.29" height="4.26" fill="#4330c4"/><rect x="113.64" y="86.48" width="4.29" height="4.26" fill="#4331c6"/><rect x="117.42" y="86.48" width="4.29" height="4.26" fill="#4331c7"/><rect x="121.21" y="86.48" width="3.79" height="4.26" fill="#4331c8"/><rect x="0" y="90.24" width="4.29" height="4.26" fill="#3f29b2"/><rect x="3.79" y="90.24" width="4.29" height="4.26" fill="#4029b3"/><rect x="7.58" y="90.24" width="4.29" height="4.26" fill="#402ab3"/><rect x="11.36" y="90.24" width="8.08" height="4.26" fill="#402ab4"/><rect x="18.94" y="90.24" width="8.08" height="4.26" fill="#402ab5"/><rect x="26.52" y="90.24" width="8.08" height="4.26" fill="#402bb6"/><rect x="34.09" y="90.24" width="4.29" height="4.26" fill="#402bb7"/><rect x="37.88" y="90.24" width="4.29" height="4.26" fill="#402bb8"/><rect x="41.67" y="90.24" width="4.29" height="4.26" fill="#402cb8"/><rect x="45.45" y="90.24" width="8.08" height="4.26" fill="#412cb9"/><rect x="53.03" y="90.24" width="8.08" height="4.26" fill="#412cba"/><rect x="60.61" y="90.24" width="4.29" height="4.26" fill="#412dbb"/><rect x="64.39" y="90.24" width="8.08" height="4.26" fill="#412dbc"/><rect x="71.97" y="90.24" width="4.29" height="4.26" fill="#412dbd"/><rect x="75.76" y="90.24" width="4.29" height="4.26" fill="#412ebd"/><rect x="79.55" y="90.24" width="4.29" height="4.26" fill="#412ebe"/><rect x="83.33" y="90.24" width="8.08" height="4.26" fill="#422ebf"/><rect x="90.91" y="90.24" width="4.29" height="4.26" fill="#422ec0"/><rect x="94.7" y="90.24" width="4.29" height="4.26" fill="#422fc0"/><rect x="98.48" y="90.24" width="4.29" height="4.26" fill="#422fc1"/><rect x="102.27" y="90.24" width="4.29" height="4.26" fill="#422fc2"/><rect x="106.06" y="90.24" width="4.29" height="4.26" fill="#4230c3"/><rect x="109.85" y="90.24" width="4.29" height="4.26" fill="#4230c4"/><rect x="113.64" y="90.24" width="4.29" height="4.26" fill="#4330c5"/><rect x="117.42" y="90.24" width="4.29" height="4.26" fill="#4331c6"/><rect x="121.21" y="90.24" width="3.79" height="4.26" fill="#4331c7"/><rect x="0" y="94" width="4.29" height="4.26" fill="#3f29b2"/><rect x="3.79" y="94" width="4.29" height="4.26" fill="#4029b2"/><rect x="7.58" y="94" width="4.29" height="4.26" fill="#402ab3"/><rect x="11.36" y="94" width="8.08" height="4.26" fill="#402ab4"/><rect x="18.94" y="94" width="8.08" height="4.26" fill="#402ab5"/><rect x="26.52" y="94" width="8.08" height="4.26" fill="#402bb6"/><rect x="34.09" y="94" width="4.29" height="4.26" fill="#402bb7"/><rect x="37.88" y="94" width="4.29" height="4.26" fill="#402bb8"/><rect x="41.67" y="94" width="4.29" height="4.26" fill="#402cb8"/><rect x="45.45" y="94" width="8.08" height="4.26" fill="#412cb9"/><rect x="53.03" y="94" width="4.29" height="4.26" fill="#412cba"/><rect x="56.82" y="94" width="4.29" height="4.26" fill="#412cbb"/><rect x="60.61" y="94" width="4.29" height="4.26" fill="#412dbb"/><rect x="64.39" y="94" width="8.08" height="4.26" fill="#412dbc"/><rect x="71.97" y="94" width="4.29" height="4.26" fill="#412dbd"/><rect x="75.76" y="94" width="4.29" height="4.26" fill="#412ebd"/><rect x="79.55" y="94" width="4.29" height="4.26" fill="#412ebe"/><rect x="83.33" y="94" width="8.08" height="4.26" fill="#422ebf"/><rect x="90.91" y="94" width="4.29" height="4.26" fill="#422ec0"/><rect x="94.7" y="94" width="4.29" height="4.26" fill="#422fc0"/><rect x="98.48" y="94" width="4.29" height="4.26" fill="#422fc1"/><rect x="102.27" y="94" width="8.08" height="4.26" fill="#422fc2"/><rect x="109.85" y="94" width="4.29" height="4.26" fill="#4230c3"/><rect x="113.64" y="94" width="4.29" height="4.26" fill="#4330c4"/><rect x="117.42" y="94" width="4.29" height="4.26" fill="#4331c6"/><rect x="121.21" y="94" width="3.79" height="4.26" fill="#4331c7"/><rect x="0" y="97.76" width="4.29" height="4.26" fill="#3f29b2"/><rect x="3.79" y="97.76" width="4.29" height="4.26" fill="#4029b2"/><rect x="7.58" y="97.76" width="4.29" height="4.26" fill="#402ab3"/><rect x="11.36" y="97.76" width="8.08" height="4.26" fill="#402ab4"/><rect x="18.94" y="97.76" width="8.08" height="4.26" fill="#402ab5"/><rect x="26.52" y="97.76" width="4.29" height="4.26" fill="#402bb6"/><rect x="30.3" y="97.76" width="8.08" height="4.26" fill="#402bb7"/><rect x="37.88" y="97.76" width="4.29" height="4.26" fill="#402bb8"/><rect x="41.67" y="97.76" width="4.29" height="4.26" fill="#412cb8"/><rect x="45.45" y="97.76" width="8.08" height="4.26" fill="#412cb9"/><rect x="53.03" y="97.76" width="4.29" height="4.26" fill="#412cba"/><rect x="56.82" y="97.76" width="4.29" height="4.26" fill="#412cbb"/><rect x="60.61" y="97.76" width="4.29" height="4.26" fill="#412dbb"/><rect x="64.39" y="97.76" width="8.08" height="4.26" fill="#412dbc"/><rect x="71.97" y="97.76" width="4.29" height="4.26" fill="#412dbd"/><rect x="75.76" y="97.76" width="4.29" height="4.26" fill="#412ebe"/><rect x="79.55" y="97.76" width="4.29" height="4.26" fill="#422ebe"/><rect x="83.33" y="97.76" width="8.08" height="4.26" fill="#422ebf"/><rect x="90.91" y="97.76" width="4.29" height="4.26" fill="#422ec0"/><rect x="94.7" y="97.76" width="8.08" height="4.26" fill="#422fc1"/><rect x="102.27" y="97.76" width="8.08" height="4.26" fill="#422fc2"/><rect x="109.85" y="97.76" width="4.29" height="4.26" fill="#4230c3"/><rect x="113.64" y="97.76" width="4.29" height="4.26" fill="#4230c4"/><rect x="117.42" y="97.76" width="4.29" height="4.26" fill="#4330c5"/><rect x="121.21" y="97.76" width="3.79" height="4.26" fill="#4331c6"/><rect x="0" y="101.52" width="4.29" height="4.26" fill="#3f29b2"/><rect x="3.79" y="101.52" width="4.29" height="4.26" fill="#4029b2"/><rect x="7.58" y="101.52" width="4.29" height="4.26" fill="#402ab3"/><rect x="11.36" y="101.52" width="8.08" height="4.26" fill="#402ab4"/><rect x="18.94" y="101.52" width="8.08" height="4.26" fill="#402ab5"/><rect x="26.52" y="101.52" width="4.29" height="4.26" fill="#402bb6"/><rect x="30.3" y="101.52" width="8.08" height="4.26" fill="#402bb7"/><rect x="37.88" y="101.52" width="4.29" height="4.26" fill="#402bb8"/><rect x="41.67" y="101.52" width="4.29" height="4.26" fill="#412cb8"/><rect x="45.45" y="101.52" width="4.29" height="4.26" fill="#412cb9"/><rect x="49.24" y="101.52" width="8.08" height="4.26" fill="#412cba"/><rect x="56.82" y="101.52" width="4.29" height="4.26" fill="#412cbb"/><rect x="60.61" y="101.52" width="4.29" height="4.26" fill="#412dbb"/><rect x="64.39" y="101.52" width="8.08" height="4.26" fill="#412dbc"/><rect x="71.97" y="101.52" width="4.29" height="4.26" fill="#412dbd"/><rect x="75.76" y="101.52" width="4.29" height="4.26" fill="#412ebe"/><rect x="79.55" y="101.52" width="4.29" height="4.26" fill="#422ebe"/><rect x="83.33" y="101.52" width="8.08" height="4.26" fill="#422ebf"/><rect x="90.91" y="101.52" width="4.29" height="4.26" fill="#422fc0"/><rect x="94.7" y="101.52" width="8.08" height="4.26" fill="#422fc1"/><rect x="102.27" y="101.52" width="8.08" height="4.26" fill="#422fc2"/><rect x="109.85" y="101.52" width="4.29" height="4.26" fill="#4230c3"/><rect x="113.64" y="101.52" width="4.29" height="4.26" fill="#4230c4"/><rect x="117.42" y="101.52" width="4.29" height="4.26" fill="#4330c5"/><rect x="121.21" y="101.52" width="3.79" height="4.26" fill="#4331c6"/><rect x="0" y="105.28" width="8.08" height="4.26" fill="#3f29b2"/><rect x="7.58" y="105.28" width="4.29" height="4.26" fill="#402ab3"/><rect x="11.36" y="105.28" width="8.08" height="4.26" fill="#402ab4"/><rect x="18.94" y="105.28" width="8.08" height="4.26" fill="#402ab5"/><rect x="26.52" y="105.28" width="4.29" height="4.26" fill="#402bb6"/><rect x="30.3" y="105.28" width="8.08" height="4.26" fill="#402bb7"/><rect x="37.88" y="105.28" width="4.29" height="4.26" fill="#402bb8"/><rect x="41.67" y="105.28" width="4.29" height="4.26" fill="#412cb8"/><rect x="45.45" y="105.28" width="4.29" height="4.26" fill="#412cb9"/><rect x="49.24" y="105.28" width="8.08" height="4.26" fill="#412cba"/><rect x="56.82" y="105.28" width="8.08" height="4.26" fill="#412dbb"/><rect x="64.39" y="105.28" width="4.29" height="4.26" fill="#412dbc"/><rect x="68.18" y="105.28" width="8.08" height="4.26" fill="#412dbd"/><rect x="75.76" y="105.28" width="4.29" height="4.26" fill="#412ebe"/><rect x="79.55" y="105.28" width="4.29" height="4.26" fill="#422ebe"/><rect x="83.33" y="105.28" width="4.29" height="4.26" fill="#422ebf"/><rect x="87.12" y="105.28" width="4.29" height="4.26" fill="#422ec0"/><rect x="90.91" y="105.28" width="4.29" height="4.26" fill="#422fc0"/><rect x="94.7" y="105.28" width="8.08" height="4.26" fill="#422fc1"/><rect x="102.27" y="105.28" width="4.29" height="4.26" fill="#422fc2"/><rect x="106.06" y="105.28" width="4.29" height="4.26" fill="#422fc3"/><rect x="109.85" y="105.28" width="4.29" height="4.26" fill="#4230c3"/><rect x="113.64" y="105.28" width="8.08" height="4.26" fill="#4230c4"/><rect x="121.21" y="105.28" width="3.79" height="4.26" fill="#4330c5"/><rect x="0" y="109.04" width="4.29" height="1.26" fill="#3f29b2"/><rect x="3.79" y="109.04" width="4.29" height="1.26" fill="#4029b2"/><rect x="7.58" y="109.04" width="4.29" height="1.26" fill="#402ab3"/><rect x="11.36" y="109.04" width="8.08" height="1.26" fill="#402ab4"/><rect x="18.94" y="109.04" width="4.29" height="1.26" fill="#402ab5"/><rect x="22.73" y="109.04" width="8.08" height="1.26" fill="#402bb6"/><rect x="30.3" y="109.04" width="8.08" height="1.26" fill="#402bb7"/><rect x="37.88" y="109.04" width="4.29" height="1.26" fill="#402bb8"/><rect x="41.67" y="109.04" width="8.08" height="1.26" fill="#412cb9"/><rect x="49.24" y="109.04" width="8.08" height="1.26" fill="#412cba"/><rect x="56.82" y="109.04" width="8.08" height="1.26" fill="#412dbb"/><rect x="64.39" y="109.04" width="4.29" height="1.26" fill="#412dbc"/><rect x="68.18" y="109.04" width="8.08" height="1.26" fill="#412dbd"/><rect x="75.76" y="109.04" width="4.29" height="1.26" fill="#412ebe"/><rect x="79.55" y="109.04" width="4.29" height="1.26" fill="#422ebe"/><rect x="83.33" y="109.04" width="4.29" height="1.26" fill="#422ebf"/><rect x="87.12" y="109.04" width="4.29" height="1.26" fill="#422ec0"/><rect x="90.91" y="109.04" width="4.29" height="1.26" fill="#422fc0"/><rect x="94.7" y="109.04" width="8.08" height="1.26" fill="#422fc1"/><rect x="102.27" y="109.04" width="4.29" height="1.26" fill="#422fc2"/><rect x="106.06" y="109.04" width="4.29" height="1.26" fill="#422fc3"/><rect x="109.85" y="109.04" width="4.29" height="1.26" fill="#4230c3"/><rect x="113.64" y="109.04" width="4.29" height="1.26" fill="#4230c4"/><rect x="117.42" y="109.04" width="4.29" height="1.26" fill="#4330c4"/><rect x="121.21" y="109.04" width="3.79" height="1.26" fill="#4330c5"/>
<use href="#grid"/>
<rect x="0" y="0" width="125" height="110.3" fill="none" stroke="#262626" stroke-width="0.4"/>
<rect x="128.55" y="0" width="6.6" height="110.3" fill="url(#pg)" stroke="#262626" stroke-width="0.12"/>
<text x="137.05" y="111.75" font-size="3.95" font-family="Liberation Sans, Arial, sans-serif" fill="#404040">0</text>
<text x="137.05" y="97.65" font-size="3.95" font-family="Liberation Sans, Arial, sans-serif" fill="#404040">10</text>
<text x="137.05" y="83.54" font-size="3.95" font-family="Liberation Sans, Arial, sans-serif" fill="#404040">20</text>
<text x="137.05" y="69.44" font-size="3.95" font-family="Liberation Sans, Arial, sans-serif" fill="#404040">30</text>
<text x="137.05" y="55.33" font-size="3.95" font-family="Liberation Sans, Arial, sans-serif" fill="#404040">40</text>
<text x="137.05" y="41.23" font-size="3.95" font-family="Liberation Sans, Arial, sans-serif" fill="#404040">50</text>
<text x="137.05" y="27.12" font-size="3.95" font-family="Liberation Sans, Arial, sans-serif" fill="#404040">60</text>
<text x="137.05" y="13.02" font-size="3.95" font-family="Liberation Sans, Arial, sans-serif" fill="#404040">70</text>
<text x="14.32" y="116.6" font-size="4.4" text-anchor="middle" font-family="Liberation Sans, Arial, sans-serif" fill="#404040">0.2</text>
<text x="28.65" y="116.6" font-size="4.4" text-anchor="middle" font-family="Liberation Sans, Arial, sans-serif" fill="#404040">0.4</text>
<text x="42.97" y="116.6" font-size="4.4" text-anchor="middle" font-family="Liberation Sans, Arial, sans-serif" fill="#404040">0.6</text>
<text x="57.3" y="116.6" font-size="4.4" text-anchor="middle" font-family="Liberation Sans, Arial, sans-serif" fill="#404040">0.8</text>
<text x="71.62" y="116.6" font-size="4.4" text-anchor="middle" font-family="Liberation Sans, Arial, sans-serif" fill="#404040">1</text>
<text x="85.95" y="116.6" font-size="4.4" text-anchor="middle" font-family="Liberation Sans, Arial, sans-serif" fill="#404040">1.2</text>
<text x="100.27" y="116.6" font-size="4.4" text-anchor="middle" font-family="Liberation Sans, Arial, sans-serif" fill="#404040">1.4</text>
<text x="114.59" y="116.6" font-size="4.4" text-anchor="middle" font-family="Liberation Sans, Arial, sans-serif" fill="#404040">1.6</text>
<text x="-2.0" y="94.64" font-size="4.3" text-anchor="end" font-family="Liberation Sans, Arial, sans-serif" fill="#404040">0.2</text>
<text x="-2.0" y="76.59" font-size="4.3" text-anchor="end" font-family="Liberation Sans, Arial, sans-serif" fill="#404040">0.4</text>
<text x="-2.0" y="58.53" font-size="4.3" text-anchor="end" font-family="Liberation Sans, Arial, sans-serif" fill="#404040">0.6</text>
<text x="-2.0" y="40.47" font-size="4.3" text-anchor="end" font-family="Liberation Sans, Arial, sans-serif" fill="#404040">0.8</text>
<text x="-2.0" y="22.42" font-size="4.3" text-anchor="end" font-family="Liberation Sans, Arial, sans-serif" fill="#404040">1</text>
<text x="-2.0" y="4.36" font-size="4.3" text-anchor="end" font-family="Liberation Sans, Arial, sans-serif" fill="#404040">1.2</text>
<text x="62.5" y="-2.2" font-size="4.8" word-spacing="0.6" text-anchor="middle" font-family="Liberation Serif, Times New Roman, serif" fill="#404040"><tspan font-style="italic">q</tspan><tspan font-size="3.4" dy="0.75">1</tspan><tspan dy="-0.75"> = 50°</tspan></text>
<text x="63.1" y="121.7" font-size="4.8" letter-spacing="0.17" text-anchor="middle" font-family="Liberation Serif, Times New Roman, serif" fill="#404040"><tspan font-style="italic">q</tspan><tspan font-size="3.4" dy="0.75">2</tspan><tspan dy="-0.75"> (rad)</tspan></text>
<text transform="translate(-10.9,55.15) rotate(-90)" font-size="4.8" letter-spacing="0.17" text-anchor="middle" font-family="Liberation Serif, Times New Roman, serif" fill="#404040"><tspan font-style="italic">q</tspan><tspan font-size="3.4" dy="0.75">3</tspan><tspan dy="-0.75"> (rad)</tspan></text>
</g>
<g transform="translate(385.2,155.85)">
<rect width="125" height="110.3" fill="#2b92ee"/>
<path d="M118.4 0H125V4.2Z" fill="#2a3fe0"/>
<path d="M117.4 0.2L125 5" stroke="#4fd0b0" stroke-width="0.7" fill="none"/>
<use href="#grid"/>
<rect x="0" y="0" width="125" height="110.3" fill="none" stroke="#262626" stroke-width="0.4"/>
<rect x="129" y="0" width="6.4" height="110.3" fill="url(#pg)" stroke="#262626" stroke-width="0.12"/>
<text x="137.3" y="110.95" font-size="3.95" font-family="Liberation Sans, Arial, sans-serif" fill="#404040">-600</text>
<text x="137.3" y="99.47" font-size="3.95" font-family="Liberation Sans, Arial, sans-serif" fill="#404040">-400</text>
<text x="137.3" y="87.99" font-size="3.95" font-family="Liberation Sans, Arial, sans-serif" fill="#404040">-200</text>
<text x="137.3" y="76.51" font-size="3.95" font-family="Liberation Sans, Arial, sans-serif" fill="#404040">0</text>
<text x="137.3" y="65.04" font-size="3.95" font-family="Liberation Sans, Arial, sans-serif" fill="#404040">200</text>
<text x="137.3" y="53.56" font-size="3.95" font-family="Liberation Sans, Arial, sans-serif" fill="#404040">400</text>
<text x="137.3" y="42.08" font-size="3.95" font-family="Liberation Sans, Arial, sans-serif" fill="#404040">600</text>
<text x="137.3" y="30.6" font-size="3.95" font-family="Liberation Sans, Arial, sans-serif" fill="#404040">800</text>
<text x="137.3" y="19.13" font-size="3.95" font-family="Liberation Sans, Arial, sans-serif" fill="#404040">1000</text>
<text x="137.3" y="7.65" font-size="3.95" font-family="Liberation Sans, Arial, sans-serif" fill="#404040">1200</text>
<text x="14.32" y="116.6" font-size="4.4" text-anchor="middle" font-family="Liberation Sans, Arial, sans-serif" fill="#404040">0.2</text>
<text x="28.65" y="116.6" font-size="4.4" text-anchor="middle" font-family="Liberation Sans, Arial, sans-serif" fill="#404040">0.4</text>
<text x="42.97" y="116.6" font-size="4.4" text-anchor="middle" font-family="Liberation Sans, Arial, sans-serif" fill="#404040">0.6</text>
<text x="57.3" y="116.6" font-size="4.4" text-anchor="middle" font-family="Liberation Sans, Arial, sans-serif" fill="#404040">0.8</text>
<text x="71.62" y="116.6" font-size="4.4" text-anchor="middle" font-family="Liberation Sans, Arial, sans-serif" fill="#404040">1</text>
<text x="85.95" y="116.6" font-size="4.4" text-anchor="middle" font-family="Liberation Sans, Arial, sans-serif" fill="#404040">1.2</text>
<text x="100.27" y="116.6" font-size="4.4" text-anchor="middle" font-family="Liberation Sans, Arial, sans-serif" fill="#404040">1.4</text>
<text x="114.59" y="116.6" font-size="4.4" text-anchor="middle" font-family="Liberation Sans, Arial, sans-serif" fill="#404040">1.6</text>
<text x="-2.0" y="94.64" font-size="4.3" text-anchor="end" font-family="Liberation Sans, Arial, sans-serif" fill="#404040">0.2</text>
<text x="-2.0" y="76.59" font-size="4.3" text-anchor="end" font-family="Liberation Sans, Arial, sans-serif" fill="#404040">0.4</text>
<text x="-2.0" y="58.53" font-size="4.3" text-anchor="end" font-family="Liberation Sans, Arial, sans-serif" fill="#404040">0.6</text>
<text x="-2.0" y="40.47" font-size="4.3" text-anchor="end" font-family="Liberation Sans, Arial, sans-serif" fill="#404040">0.8</text>
<text x="-2.0" y="22.42" font-size="4.3" text-anchor="end" font-family="Liberation Sans, Arial, sans-serif" fill="#404040">1</text>
<text x="-2.0" y="4.36" font-size="4.3" text-anchor="end" font-family="Liberation Sans, Arial, sans-serif" fill="#404040">1.2</text>
<text x="62.5" y="-2.2" font-size="4.8" word-spacing="0.6" text-anchor="middle" font-family="Liberation Serif, Times New Roman, serif" fill="#404040"><tspan font-style="italic">q</tspan><tspan font-size="3.4" dy="0.75">1</tspan><tspan dy="-0.75"> = 60°</tspan></text>
<text x="63.1" y="121.7" font-size="4.8" letter-spacing="0.17" text-anchor="middle" font-family="Liberation Serif, Times New Roman, serif" fill="#404040"><tspan font-style="italic">q</tspan><tspan font-size="3.4" dy="0.75">2</tspan><tspan dy="-0.75"> (rad)</tspan></text>
<text transform="translate(-10.9,55.15) rotate(-90)" font-size="4.8" letter-spacing="0.17" text-anchor="middle" font-family="Liberation Serif, Times New Roman, serif" fill="#404040"><tspan font-style="italic">q</tspan><tspan font-size="3.4" dy="0.75">3</tspan><tspan dy="-0.75"> (rad)</tspan></text>
<path d="M108.92 19.24L119.79 8.89L121.1 10.27L121.9 3.85L115.45 4.33L116.76 5.7L105.88 16.06Z" fill="#f00" stroke="#000" stroke-width="0.7" stroke-linejoin="miter"/>
</g>
<g transform="translate(25.1,298.2)">
<rect width="125" height="110.3" fill="#0abdbe"/>
<path d="M110.4 0.3L124.5 9.9" stroke="#a5d6c4" stroke-width="0.7" fill="none"/>
<use href="#grid"/>
<rect x="0" y="0" width="125" height="110.3" fill="none" stroke="#262626" stroke-width="0.4"/>
<rect x="128.35" y="0" width="6.65" height="110.3" fill="url(#pg)" stroke="#262626" stroke-width="0.12"/>
<text x="136.9" y="102.25" font-size="3.95" font-family="Liberation Sans, Arial, sans-serif" fill="#404040">-2000</text>
<text x="136.9" y="91.45" font-size="3.95" font-family="Liberation Sans, Arial, sans-serif" fill="#404040">-1500</text>
<text x="136.9" y="80.65" font-size="3.95" font-family="Liberation Sans, Arial, sans-serif" fill="#404040">-1000</text>
<text x="136.9" y="69.85" font-size="3.95" font-family="Liberation Sans, Arial, sans-serif" fill="#404040">-500</text>
<text x="136.9" y="59.05" font-size="3.95" font-family="Liberation Sans, Arial, sans-serif" fill="#404040">0</text>
<text x="136.9" y="48.25" font-size="3.95" font-family="Liberation Sans, Arial, sans-serif" fill="#404040">500</text>
<text x="136.9" y="37.45" font-size="3.95" font-family="Liberation Sans, Arial, sans-serif" fill="#404040">1000</text>
<text x="136.9" y="26.65" font-size="3.95" font-family="Liberation Sans, Arial, sans-serif" fill="#404040">1500</text>
<text x="136.9" y="15.86" font-size="3.95" font-family="Liberation Sans, Arial, sans-serif" fill="#404040">2000</text>
<text x="136.9" y="5.06" font-size="3.95" font-family="Liberation Sans, Arial, sans-serif" fill="#404040">2500</text>
<text x="14.32" y="116.6" font-size="4.4" text-anchor="middle" font-family="Liberation Sans, Arial, sans-serif" fill="#404040">0.2</text>
<text x="28.65" y="116.6" font-size="4.4" text-anchor="middle" font-family="Liberation Sans, Arial, sans-serif" fill="#404040">0.4</text>
<text x="42.97" y="116.6" font-size="4.4" text-anchor="middle" font-family="Liberation Sans, Arial, sans-serif" fill="#404040">0.6</text>
<text x="57.3" y="116.6" font-size="4.4" text-anchor="middle" font-family="Liberation Sans, Arial, sans-serif" fill="#404040">0.8</text>
<text x="71.62" y="116.6" font-size="4.4" text-anchor="middle" font-family="Liberation Sans, Arial, sans-serif" fill="#404040">1</text>
<text x="85.95" y="116.6" font-size="4.4" text-anchor="middle" font-family="Liberation Sans, Arial, sans-serif" fill="#404040">1.2</text>
<text x="100.27" y="116.6" font-size="4.4" text-anchor="middle" font-family="Liberation Sans, Arial, sans-serif" fill="#404040">1.4</text>
<text x="114.59" y="116.6" font-size="4.4" text-anchor="middle" font-family="Liberation Sans, Arial, sans-serif" fill="#404040">1.6</text>
<text x="-2.0" y="94.64" font-size="4.3" text-anchor="end" font-family="Liberation Sans, Arial, sans-serif" fill="#404040">0.2</text>
<text x="-2.0" y="76.59" font-size="4.3" text-anchor="end" font-family="Liberation Sans, Arial, sans-serif" fill="#404040">0.4</text>
<text x="-2.0" y="58.53" font-size="4.3" text-anchor="end" font-family="Liberation Sans, Arial, sans-serif" fill="#404040">0.6</text>
<text x="-2.0" y="40.47" font-size="4.3" text-anchor="end" font-family="Liberation Sans, Arial, sans-serif" fill="#404040">0.8</text>
<text x="-2.0" y="22.42" font-size="4.3" text-anchor="end" font-family="Liberation Sans, Arial, sans-serif" fill="#404040">1</text>
<text x="-2.0" y="4.36" font-size="4.3" text-anchor="end" font-family="Liberation Sans, Arial, sans-serif" fill="#404040">1.2</text>
<text x="62.5" y="-2.2" font-size="4.8" word-spacing="0.6" text-anchor="middle" font-family="Liberation Serif, Times New Roman, serif" fill="#404040"><tspan font-style="italic">q</tspan><tspan font-size="3.4" dy="0.75">1</tspan><tspan dy="-0.75"> = 70°</tspan></text>
<text x="63.1" y="121.7" font-size="4.8" letter-spacing="0.17" text-anchor="middle" font-family="Liberation Serif, Times New Roman, serif" fill="#404040"><tspan font-style="italic">q</tspan><tspan font-size="3.4" dy="0.75">2</tspan><tspan dy="-0.75"> (rad)</tspan></text>
<text transform="translate(-10.9,55.15) rotate(-90)" font-size="4.8" letter-spacing="0.17" text-anchor="middle" font-family="Liberation Serif, Times New Roman, serif" fill="#404040"><tspan font-style="italic">q</tspan><tspan font-size="3.4" dy="0.75">3</tspan><tspan dy="-0.75"> (rad)</tspan></text>
<path d="M102.6 23.41L113.14 13.62L114.43 15.01L115.3 8.6L108.85 9L110.14 10.39L99.6 20.19Z" fill="#f00" stroke="#000" stroke-width="0.7" stroke-linejoin="miter"/>
</g>
<g transform="translate(205.4,298.2)">
<rect width="125" height="110.3" fill="#0fbebb"/>
<path d="M102.7 0.3L124.8 13.9" stroke="#a5d6c4" stroke-width="0.7" fill="none"/>
<use href="#grid"/>
<rect x="0" y="0" width="125" height="110.3" fill="none" stroke="#262626" stroke-width="0.4"/>
<rect x="128.55" y="0" width="6.6" height="110.3" fill="url(#pg)" stroke="#262626" stroke-width="0.12"/>
<text x="137.05" y="103.53" font-size="3.95" font-family="Liberation Sans, Arial, sans-serif" fill="#404040">-3000</text>
<text x="137.05" y="88.45" font-size="3.95" font-family="Liberation Sans, Arial, sans-serif" fill="#404040">-2000</text>
<text x="137.05" y="73.37" font-size="3.95" font-family="Liberation Sans, Arial, sans-serif" fill="#404040">-1000</text>
<text x="137.05" y="58.3" font-size="3.95" font-family="Liberation Sans, Arial, sans-serif" fill="#404040">0</text>
<text x="137.05" y="43.22" font-size="3.95" font-family="Liberation Sans, Arial, sans-serif" fill="#404040">1000</text>
<text x="137.05" y="28.14" font-size="3.95" font-family="Liberation Sans, Arial, sans-serif" fill="#404040">2000</text>
<text x="137.05" y="13.06" font-size="3.95" font-family="Liberation Sans, Arial, sans-serif" fill="#404040">3000</text>
<text x="14.32" y="116.6" font-size="4.4" text-anchor="middle" font-family="Liberation Sans, Arial, sans-serif" fill="#404040">0.2</text>
<text x="28.65" y="116.6" font-size="4.4" text-anchor="middle" font-family="Liberation Sans, Arial, sans-serif" fill="#404040">0.4</text>
<text x="42.97" y="116.6" font-size="4.4" text-anchor="middle" font-family="Liberation Sans, Arial, sans-serif" fill="#404040">0.6</text>
<text x="57.3" y="116.6" font-size="4.4" text-anchor="middle" font-family="Liberation Sans, Arial, sans-serif" fill="#404040">0.8</text>
<text x="71.62" y="116.6" font-size="4.4" text-anchor="middle" font-family="Liberation Sans, Arial, sans-serif" fill="#404040">1</text>
<text x="85.95" y="116.6" font-size="4.4" text-anchor="middle" font-family="Liberation Sans, Arial, sans-serif" fill="#404040">1.2</text>
<text x="100.27" y="116.6" font-size="4.4" text-anchor="middle" font-family="Liberation Sans, Arial, sans-serif" fill="#404040">1.4</text>
<text x="114.59" y="116.6" font-size="4.4" text-anchor="middle" font-family="Liberation Sans, Arial, sans-serif" fill="#404040">1.6</text>
<text x="-2.0" y="94.64" font-size="4.3" text-anchor="end" font-family="Liberation Sans, Arial, sans-serif" fill="#404040">0.2</text>
<text x="-2.0" y="76.59" font-size="4.3" text-anchor="end" font-family="Liberation Sans, Arial, sans-serif" fill="#404040">0.4</text>
<text x="-2.0" y="58.53" font-size="4.3" text-anchor="end" font-family="Liberation Sans, Arial, sans-serif" fill="#404040">0.6</text>
<text x="-2.0" y="40.47" font-size="4.3" text-anchor="end" font-family="Liberation Sans, Arial, sans-serif" fill="#404040">0.8</text>
<text x="-2.0" y="22.42" font-size="4.3" text-anchor="end" font-family="Liberation Sans, Arial, sans-serif" fill="#404040">1</text>
<text x="-2.0" y="4.36" font-size="4.3" text-anchor="end" font-family="Liberation Sans, Arial, sans-serif" fill="#404040">1.2</text>
<text x="62.5" y="-2.2" font-size="4.8" word-spacing="0.6" text-anchor="middle" font-family="Liberation Serif, Times New Roman, serif" fill="#404040"><tspan font-style="italic">q</tspan><tspan font-size="3.4" dy="0.75">1</tspan><tspan dy="-0.75"> = 80°</tspan></text>
<text x="63.1" y="121.7" font-size="4.8" letter-spacing="0.17" text-anchor="middle" font-family="Liberation Serif, Times New Roman, serif" fill="#404040"><tspan font-style="italic">q</tspan><tspan font-size="3.4" dy="0.75">2</tspan><tspan dy="-0.75"> (rad)</tspan></text>
<text transform="translate(-10.9,55.15) rotate(-90)" font-size="4.8" letter-spacing="0.17" text-anchor="middle" font-family="Liberation Serif, Times New Roman, serif" fill="#404040"><tspan font-style="italic">q</tspan><tspan font-size="3.4" dy="0.75">3</tspan><tspan dy="-0.75"> (rad)</tspan></text>
<path d="M100.77 23.14L111.24 13.77L112.51 15.19L113.5 8.8L107.04 9.08L108.31 10.49L97.83 19.86Z" fill="#f00" stroke="#000" stroke-width="0.7" stroke-linejoin="miter"/>
</g>
<g transform="translate(385.2,298.2)">
<rect width="125" height="110.3" fill="#16bfb7"/>
<path d="M95.6 0.3Q111.3 10.6 125 16.1" stroke="#a5d6c4" stroke-width="0.7" fill="none"/>
<use href="#grid"/>
<rect x="0" y="0" width="125" height="110.3" fill="none" stroke="#262626" stroke-width="0.4"/>
<rect x="129" y="0" width="6.4" height="110.3" fill="url(#pg)" stroke="#262626" stroke-width="0.12"/>
<text x="137.3" y="110.42" font-size="3.95" font-family="Liberation Sans, Arial, sans-serif" fill="#404040">-4000</text>
<text x="137.3" y="97.16" font-size="3.95" font-family="Liberation Sans, Arial, sans-serif" fill="#404040">-3000</text>
<text x="137.3" y="83.89" font-size="3.95" font-family="Liberation Sans, Arial, sans-serif" fill="#404040">-2000</text>
<text x="137.3" y="70.63" font-size="3.95" font-family="Liberation Sans, Arial, sans-serif" fill="#404040">-1000</text>
<text x="137.3" y="57.36" font-size="3.95" font-family="Liberation Sans, Arial, sans-serif" fill="#404040">0</text>
<text x="137.3" y="44.1" font-size="3.95" font-family="Liberation Sans, Arial, sans-serif" fill="#404040">1000</text>
<text x="137.3" y="30.83" font-size="3.95" font-family="Liberation Sans, Arial, sans-serif" fill="#404040">2000</text>
<text x="137.3" y="17.57" font-size="3.95" font-family="Liberation Sans, Arial, sans-serif" fill="#404040">3000</text>
<text x="137.3" y="4.3" font-size="3.95" font-family="Liberation Sans, Arial, sans-serif" fill="#404040">4000</text>
<text x="14.32" y="116.6" font-size="4.4" text-anchor="middle" font-family="Liberation Sans, Arial, sans-serif" fill="#404040">0.2</text>
<text x="28.65" y="116.6" font-size="4.4" text-anchor="middle" font-family="Liberation Sans, Arial, sans-serif" fill="#404040">0.4</text>
<text x="42.97" y="116.6" font-size="4.4" text-anchor="middle" font-family="Liberation Sans, Arial, sans-serif" fill="#404040">0.6</text>
<text x="57.3" y="116.6" font-size="4.4" text-anchor="middle" font-family="Liberation Sans, Arial, sans-serif" fill="#404040">0.8</text>
<text x="71.62" y="116.6" font-size="4.4" text-anchor="middle" font-family="Liberation Sans, Arial, sans-serif" fill="#404040">1</text>
<text x="85.95" y="116.6" font-size="4.4" text-anchor="middle" font-family="Liberation Sans, Arial, sans-serif" fill="#404040">1.2</text>
<text x="100.27" y="116.6" font-size="4.4" text-anchor="middle" font-family="Liberation Sans, Arial, sans-serif" fill="#404040">1.4</text>
<text x="114.59" y="116.6" font-size="4.4" text-anchor="middle" font-family="Liberation Sans, Arial, sans-serif" fill="#404040">1.6</text>
<text x="-2.0" y="94.64" font-size="4.3" text-anchor="end" font-family="Liberation Sans, Arial, sans-serif" fill="#404040">0.2</text>
<text x="-2.0" y="76.59" font-size="4.3" text-anchor="end" font-family="Liberation Sans, Arial, sans-serif" fill="#404040">0.4</text>
<text x="-2.0" y="58.53" font-size="4.3" text-anchor="end" font-family="Liberation Sans, Arial, sans-serif" fill="#404040">0.6</text>
<text x="-2.0" y="40.47" font-size="4.3" text-anchor="end" font-family="Liberation Sans, Arial, sans-serif" fill="#404040">0.8</text>
<text x="-2.0" y="22.42" font-size="4.3" text-anchor="end" font-family="Liberation Sans, Arial, sans-serif" fill="#404040">1</text>
<text x="-2.0" y="4.36" font-size="4.3" text-anchor="end" font-family="Liberation Sans, Arial, sans-serif" fill="#404040">1.2</text>
<text x="62.5" y="-2.2" font-size="4.8" word-spacing="0.6" text-anchor="middle" font-family="Liberation Serif, Times New Roman, serif" fill="#404040"><tspan font-style="italic">q</tspan><tspan font-size="3.4" dy="0.75">1</tspan><tspan dy="-0.75"> = 90°</tspan></text>
<text x="63.1" y="121.7" font-size="4.8" letter-spacing="0.17" text-anchor="middle" font-family="Liberation Serif, Times New Roman, serif" fill="#404040"><tspan font-style="italic">q</tspan><tspan font-size="3.4" dy="0.75">2</tspan><tspan dy="-0.75"> (rad)</tspan></text>
<text transform="translate(-10.9,55.15) rotate(-90)" font-size="4.8" letter-spacing="0.17" text-anchor="middle" font-family="Liberation Serif, Times New Roman, serif" fill="#404040"><tspan font-style="italic">q</tspan><tspan font-size="3.4" dy="0.75">3</tspan><tspan dy="-0.75"> (rad)</tspan></text>
<path d="M99.28 25.43L109.57 16.09L110.85 17.5L111.8 11.1L105.34 11.42L106.62 12.83L96.32 22.17Z" fill="#f00" stroke="#000" stroke-width="0.7" stroke-linejoin="miter"/>
</g>
</svg>
</body></html>
